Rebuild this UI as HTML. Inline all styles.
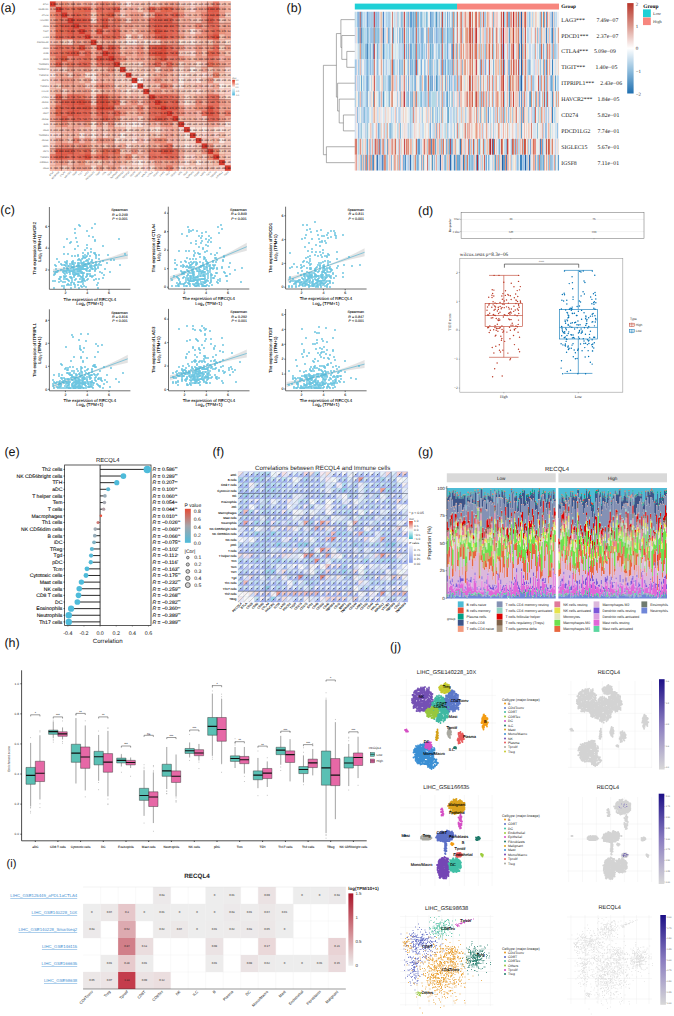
<!DOCTYPE html><html><head><meta charset="utf-8"><style>html,body{margin:0;padding:0;background:#fff;width:674px;height:1016px;overflow:hidden}svg{display:block}</style></head><body><svg width="674" height="1016" viewBox="0 0 674 1016" font-family="Liberation Sans, sans-serif" text-rendering="geometricPrecision"><text x="0.4" y="12.3" font-size="12.5" fill="#111">(a)</text><text x="286.5" y="12.25" font-size="12.5" fill="#111">(b)</text><text x="0.3" y="214.25" font-size="12.5" fill="#111">(c)</text><text x="418" y="215.05" font-size="12.5" fill="#111">(d)</text><text x="4.4" y="456.15" font-size="12.5" fill="#111">(e)</text><text x="212.4" y="456" font-size="12.5" fill="#111">(f)</text><text x="418" y="456.15" font-size="12.5" fill="#111">(g)</text><text x="4.4" y="647" font-size="12.5" fill="#111">(h)</text><text x="6.6" y="867" font-size="11" fill="#111">(i)</text><text x="390" y="651.3" font-size="12.5" fill="#111">(j)</text><rect x="49.9" y="1.4" width="180.79" height="169.26" fill="#ee9a88"/><g transform="translate(49.9,1.4) scale(5.832,5.46)"><path fill="#d83c30" d="M0 0h1v1h-1zM1 1h1v1h-1zM2 2h1v1h-1zM3 3h1v1h-1zM4 4h1v1h-1zM5 5h1v1h-1zM6 6h1v1h-1zM7 7h1v1h-1zM8 8h1v1h-1zM9 9h1v1h-1zM10 10h1v1h-1zM11 11h1v1h-1zM12 12h1v1h-1zM13 13h1v1h-1zM14 14h1v1h-1zM15 15h1v1h-1zM16 16h1v1h-1zM17 17h1v1h-1zM18 18h1v1h-1zM19 19h1v1h-1zM20 20h1v1h-1zM21 21h1v1h-1zM22 22h1v1h-1zM23 23h1v1h-1zM24 24h1v1h-1zM25 25h1v1h-1zM26 26h1v1h-1zM27 27h1v1h-1zM28 28h1v1h-1zM29 29h1v1h-1zM30 30h1v1h-1z"/><path fill="#f0a290" d="M1 0h1v1h-1zM4 0h1v1h-1zM6 0h1v1h-1zM11 0h1v1h-1zM20 0h1v1h-1zM21 0h1v1h-1zM0 1h1v1h-1zM25 1h1v1h-1zM29 1h1v1h-1zM15 2h1v1h-1zM17 2h1v1h-1zM12 3h1v1h-1zM0 4h1v1h-1zM26 4h1v1h-1zM30 4h1v1h-1zM15 5h1v1h-1zM16 5h1v1h-1zM30 5h1v1h-1zM0 6h1v1h-1zM14 6h1v1h-1zM30 6h1v1h-1zM20 7h1v1h-1zM30 8h1v1h-1zM13 9h1v1h-1zM25 10h1v1h-1zM30 10h1v1h-1zM0 11h1v1h-1zM29 11h1v1h-1zM3 12h1v1h-1zM9 13h1v1h-1zM6 14h1v1h-1zM2 15h1v1h-1zM5 15h1v1h-1zM5 16h1v1h-1zM2 17h1v1h-1zM30 19h1v1h-1zM0 20h1v1h-1zM7 20h1v1h-1zM29 20h1v1h-1zM0 21h1v1h-1zM1 25h1v1h-1zM10 25h1v1h-1zM4 26h1v1h-1zM1 29h1v1h-1zM11 29h1v1h-1zM20 29h1v1h-1zM4 30h1v1h-1zM5 30h1v1h-1zM6 30h1v1h-1zM8 30h1v1h-1zM10 30h1v1h-1zM19 30h1v1h-1z"/><path fill="#f0967e" d="M2 0h1v1h-1zM0 2h1v1h-1zM29 5h1v1h-1zM26 6h1v1h-1zM6 26h1v1h-1zM5 29h1v1h-1z"/><path fill="#f0a896" d="M3 0h1v1h-1zM19 0h1v1h-1zM16 1h1v1h-1zM0 3h1v1h-1zM15 3h1v1h-1zM12 4h1v1h-1zM14 4h1v1h-1zM15 4h1v1h-1zM16 4h1v1h-1zM22 4h1v1h-1zM29 4h1v1h-1zM7 5h1v1h-1zM12 5h1v1h-1zM5 7h1v1h-1zM10 7h1v1h-1zM16 9h1v1h-1zM29 9h1v1h-1zM7 10h1v1h-1zM26 10h1v1h-1zM4 12h1v1h-1zM5 12h1v1h-1zM28 12h1v1h-1zM4 14h1v1h-1zM3 15h1v1h-1zM4 15h1v1h-1zM1 16h1v1h-1zM4 16h1v1h-1zM9 16h1v1h-1zM20 16h1v1h-1zM21 16h1v1h-1zM27 16h1v1h-1zM25 17h1v1h-1zM26 17h1v1h-1zM30 18h1v1h-1zM0 19h1v1h-1zM29 19h1v1h-1zM16 20h1v1h-1zM16 21h1v1h-1zM4 22h1v1h-1zM27 22h1v1h-1zM17 25h1v1h-1zM10 26h1v1h-1zM17 26h1v1h-1zM16 27h1v1h-1zM22 27h1v1h-1zM12 28h1v1h-1zM4 29h1v1h-1zM9 29h1v1h-1zM19 29h1v1h-1zM18 30h1v1h-1z"/><path fill="#f6ae9c" d="M5 0h1v1h-1zM7 1h1v1h-1zM13 1h1v1h-1zM13 2h1v1h-1zM25 2h1v1h-1zM16 3h1v1h-1zM23 3h1v1h-1zM0 5h1v1h-1zM13 5h1v1h-1zM1 7h1v1h-1zM9 7h1v1h-1zM13 8h1v1h-1zM26 8h1v1h-1zM7 9h1v1h-1zM14 10h1v1h-1zM16 10h1v1h-1zM23 10h1v1h-1zM30 11h1v1h-1zM26 12h1v1h-1zM1 13h1v1h-1zM2 13h1v1h-1zM5 13h1v1h-1zM8 13h1v1h-1zM18 13h1v1h-1zM10 14h1v1h-1zM28 15h1v1h-1zM3 16h1v1h-1zM10 16h1v1h-1zM13 18h1v1h-1zM26 18h1v1h-1zM24 19h1v1h-1zM30 21h1v1h-1zM3 23h1v1h-1zM10 23h1v1h-1zM19 24h1v1h-1zM2 25h1v1h-1zM8 26h1v1h-1zM12 26h1v1h-1zM18 26h1v1h-1zM15 28h1v1h-1zM11 30h1v1h-1zM21 30h1v1h-1z"/><path fill="#f6c0b4" d="M7 0h1v1h-1zM29 0h1v1h-1zM12 1h1v1h-1zM24 3h1v1h-1zM24 6h1v1h-1zM0 7h1v1h-1zM26 11h1v1h-1zM1 12h1v1h-1zM21 12h1v1h-1zM23 12h1v1h-1zM27 13h1v1h-1zM18 15h1v1h-1zM27 15h1v1h-1zM29 17h1v1h-1zM15 18h1v1h-1zM12 21h1v1h-1zM12 23h1v1h-1zM3 24h1v1h-1zM6 24h1v1h-1zM27 24h1v1h-1zM11 26h1v1h-1zM13 27h1v1h-1zM15 27h1v1h-1zM24 27h1v1h-1zM0 29h1v1h-1zM17 29h1v1h-1z"/><path fill="#f09684" d="M8 0h1v1h-1zM11 2h1v1h-1zM26 3h1v1h-1zM7 4h1v1h-1zM7 6h1v1h-1zM25 6h1v1h-1zM4 7h1v1h-1zM6 7h1v1h-1zM19 7h1v1h-1zM28 7h1v1h-1zM0 8h1v1h-1zM22 8h1v1h-1zM25 8h1v1h-1zM22 10h1v1h-1zM2 11h1v1h-1zM19 11h1v1h-1zM20 12h1v1h-1zM18 14h1v1h-1zM27 14h1v1h-1zM20 15h1v1h-1zM14 18h1v1h-1zM7 19h1v1h-1zM11 19h1v1h-1zM22 19h1v1h-1zM12 20h1v1h-1zM15 20h1v1h-1zM8 22h1v1h-1zM10 22h1v1h-1zM19 22h1v1h-1zM6 25h1v1h-1zM8 25h1v1h-1zM3 26h1v1h-1zM27 26h1v1h-1zM14 27h1v1h-1zM26 27h1v1h-1zM7 28h1v1h-1z"/><path fill="#ea8472" d="M9 0h1v1h-1zM18 1h1v1h-1zM8 6h1v1h-1zM6 8h1v1h-1zM9 8h1v1h-1zM0 9h1v1h-1zM8 9h1v1h-1zM28 10h1v1h-1zM1 18h1v1h-1zM10 28h1v1h-1z"/><path fill="#f09c84" d="M10 0h1v1h-1zM22 6h1v1h-1zM0 10h1v1h-1zM6 22h1v1h-1z"/><path fill="#f6ccc0" d="M12 0h1v1h-1zM22 0h1v1h-1zM23 0h1v1h-1zM25 0h1v1h-1zM12 2h1v1h-1zM16 2h1v1h-1zM30 2h1v1h-1zM13 3h1v1h-1zM15 7h1v1h-1zM17 7h1v1h-1zM18 7h1v1h-1zM25 7h1v1h-1zM23 9h1v1h-1zM14 11h1v1h-1zM0 12h1v1h-1zM2 12h1v1h-1zM16 12h1v1h-1zM3 13h1v1h-1zM15 13h1v1h-1zM11 14h1v1h-1zM16 14h1v1h-1zM7 15h1v1h-1zM13 15h1v1h-1zM21 15h1v1h-1zM24 15h1v1h-1zM2 16h1v1h-1zM12 16h1v1h-1zM14 16h1v1h-1zM22 16h1v1h-1zM7 17h1v1h-1zM7 18h1v1h-1zM24 18h1v1h-1zM15 21h1v1h-1zM0 22h1v1h-1zM16 22h1v1h-1zM24 22h1v1h-1zM25 22h1v1h-1zM26 22h1v1h-1zM0 23h1v1h-1zM9 23h1v1h-1zM15 24h1v1h-1zM18 24h1v1h-1zM22 24h1v1h-1zM0 25h1v1h-1zM7 25h1v1h-1zM22 25h1v1h-1zM30 25h1v1h-1zM22 26h1v1h-1zM28 26h1v1h-1zM30 26h1v1h-1zM26 28h1v1h-1zM30 28h1v1h-1zM2 30h1v1h-1zM25 30h1v1h-1zM26 30h1v1h-1zM28 30h1v1h-1z"/><path fill="#fce4de" d="M13 0h1v1h-1zM24 5h1v1h-1zM0 13h1v1h-1zM22 13h1v1h-1zM25 14h1v1h-1zM22 15h1v1h-1zM13 22h1v1h-1zM15 22h1v1h-1zM30 22h1v1h-1zM29 23h1v1h-1zM5 24h1v1h-1zM14 25h1v1h-1zM23 29h1v1h-1zM22 30h1v1h-1z"/><path fill="#f6c6ba" d="M14 0h1v1h-1zM15 0h1v1h-1zM17 0h1v1h-1zM26 0h1v1h-1zM25 3h1v1h-1zM29 3h1v1h-1zM15 6h1v1h-1zM29 7h1v1h-1zM22 9h1v1h-1zM24 11h1v1h-1zM0 14h1v1h-1zM0 15h1v1h-1zM6 15h1v1h-1zM26 15h1v1h-1zM0 17h1v1h-1zM26 21h1v1h-1zM9 22h1v1h-1zM29 22h1v1h-1zM27 23h1v1h-1zM11 24h1v1h-1zM3 25h1v1h-1zM26 25h1v1h-1zM0 26h1v1h-1zM15 26h1v1h-1zM21 26h1v1h-1zM25 26h1v1h-1zM23 27h1v1h-1zM30 27h1v1h-1zM3 29h1v1h-1zM7 29h1v1h-1zM22 29h1v1h-1zM27 30h1v1h-1z"/><path fill="#f6c6b4" d="M16 0h1v1h-1zM27 7h1v1h-1zM12 11h1v1h-1zM11 12h1v1h-1zM15 12h1v1h-1zM27 12h1v1h-1zM29 13h1v1h-1zM26 14h1v1h-1zM12 15h1v1h-1zM23 15h1v1h-1zM0 16h1v1h-1zM26 16h1v1h-1zM15 23h1v1h-1zM27 25h1v1h-1zM14 26h1v1h-1zM16 26h1v1h-1zM7 27h1v1h-1zM12 27h1v1h-1zM25 27h1v1h-1zM13 29h1v1h-1z"/><path fill="#f6c0ae" d="M18 0h1v1h-1zM30 0h1v1h-1zM23 1h1v1h-1zM14 5h1v1h-1zM23 5h1v1h-1zM29 6h1v1h-1zM26 7h1v1h-1zM12 8h1v1h-1zM16 8h1v1h-1zM26 9h1v1h-1zM30 9h1v1h-1zM24 10h1v1h-1zM8 12h1v1h-1zM17 13h1v1h-1zM21 13h1v1h-1zM5 14h1v1h-1zM17 15h1v1h-1zM8 16h1v1h-1zM13 17h1v1h-1zM15 17h1v1h-1zM24 17h1v1h-1zM0 18h1v1h-1zM13 21h1v1h-1zM1 23h1v1h-1zM5 23h1v1h-1zM10 24h1v1h-1zM17 24h1v1h-1zM29 24h1v1h-1zM7 26h1v1h-1zM9 26h1v1h-1zM6 29h1v1h-1zM24 29h1v1h-1zM0 30h1v1h-1zM9 30h1v1h-1z"/><path fill="#fcded8" d="M24 0h1v1h-1zM26 13h1v1h-1zM29 14h1v1h-1zM0 24h1v1h-1zM13 26h1v1h-1zM14 29h1v1h-1z"/><path fill="#f0ae9c" d="M27 0h1v1h-1zM19 14h1v1h-1zM14 19h1v1h-1zM0 27h1v1h-1z"/><path fill="#ea7e6c" d="M28 0h1v1h-1zM21 1h1v1h-1zM3 2h1v1h-1zM2 3h1v1h-1zM21 3h1v1h-1zM11 4h1v1h-1zM21 8h1v1h-1zM20 10h1v1h-1zM4 11h1v1h-1zM19 15h1v1h-1zM15 19h1v1h-1zM10 20h1v1h-1zM30 20h1v1h-1zM1 21h1v1h-1zM3 21h1v1h-1zM8 21h1v1h-1zM0 28h1v1h-1zM20 30h1v1h-1z"/><path fill="#ea6c5a" d="M2 1h1v1h-1zM1 2h1v1h-1zM17 3h1v1h-1zM28 4h1v1h-1zM21 5h1v1h-1zM28 8h1v1h-1zM3 17h1v1h-1zM18 17h1v1h-1zM17 18h1v1h-1zM5 21h1v1h-1zM4 28h1v1h-1zM8 28h1v1h-1z"/><path fill="#ea7860" d="M3 1h1v1h-1zM8 2h1v1h-1zM1 3h1v1h-1zM11 3h1v1h-1zM8 4h1v1h-1zM17 5h1v1h-1zM27 5h1v1h-1zM2 8h1v1h-1zM4 8h1v1h-1zM3 11h1v1h-1zM5 17h1v1h-1zM5 27h1v1h-1z"/><path fill="#e46c54" d="M4 1h1v1h-1zM5 2h1v1h-1zM9 2h1v1h-1zM1 4h1v1h-1zM2 5h1v1h-1zM10 6h1v1h-1zM2 9h1v1h-1zM6 10h1v1h-1zM18 10h1v1h-1zM27 11h1v1h-1zM10 18h1v1h-1zM11 27h1v1h-1z"/><path fill="#e4664e" d="M5 1h1v1h-1zM19 1h1v1h-1zM20 1h1v1h-1zM1 5h1v1h-1zM27 9h1v1h-1zM1 19h1v1h-1zM1 20h1v1h-1zM9 27h1v1h-1z"/><path fill="#e4604e" d="M6 1h1v1h-1zM11 1h1v1h-1zM17 1h1v1h-1zM4 2h1v1h-1zM18 2h1v1h-1zM21 2h1v1h-1zM27 2h1v1h-1zM28 2h1v1h-1zM6 3h1v1h-1zM18 3h1v1h-1zM19 3h1v1h-1zM2 4h1v1h-1zM19 4h1v1h-1zM20 4h1v1h-1zM1 6h1v1h-1zM3 6h1v1h-1zM18 6h1v1h-1zM17 8h1v1h-1zM10 9h1v1h-1zM17 9h1v1h-1zM21 9h1v1h-1zM9 10h1v1h-1zM1 11h1v1h-1zM1 17h1v1h-1zM8 17h1v1h-1zM9 17h1v1h-1zM2 18h1v1h-1zM3 18h1v1h-1zM6 18h1v1h-1zM21 18h1v1h-1zM3 19h1v1h-1zM4 19h1v1h-1zM4 20h1v1h-1zM2 21h1v1h-1zM9 21h1v1h-1zM18 21h1v1h-1zM2 27h1v1h-1zM2 28h1v1h-1z"/><path fill="#e46c5a" d="M8 1h1v1h-1zM10 1h1v1h-1zM6 2h1v1h-1zM17 4h1v1h-1zM27 4h1v1h-1zM2 6h1v1h-1zM21 6h1v1h-1zM1 8h1v1h-1zM1 10h1v1h-1zM11 10h1v1h-1zM10 11h1v1h-1zM4 17h1v1h-1zM20 17h1v1h-1zM28 17h1v1h-1zM20 18h1v1h-1zM17 20h1v1h-1zM18 20h1v1h-1zM6 21h1v1h-1zM27 21h1v1h-1zM28 21h1v1h-1zM4 27h1v1h-1zM21 27h1v1h-1zM17 28h1v1h-1zM21 28h1v1h-1z"/><path fill="#ea7260" d="M9 1h1v1h-1zM20 2h1v1h-1zM8 3h1v1h-1zM28 3h1v1h-1zM10 5h1v1h-1zM3 8h1v1h-1zM11 8h1v1h-1zM1 9h1v1h-1zM5 10h1v1h-1zM8 11h1v1h-1zM27 17h1v1h-1zM28 18h1v1h-1zM28 19h1v1h-1zM2 20h1v1h-1zM21 20h1v1h-1zM26 20h1v1h-1zM20 21h1v1h-1zM20 26h1v1h-1zM17 27h1v1h-1zM3 28h1v1h-1zM18 28h1v1h-1zM19 28h1v1h-1z"/><path fill="#f6aea2" d="M14 1h1v1h-1zM23 4h1v1h-1zM14 8h1v1h-1zM1 14h1v1h-1zM8 14h1v1h-1zM23 20h1v1h-1zM28 22h1v1h-1zM4 23h1v1h-1zM20 23h1v1h-1zM22 28h1v1h-1z"/><path fill="#f6ccba" d="M15 1h1v1h-1zM7 2h1v1h-1zM2 7h1v1h-1zM29 8h1v1h-1zM13 11h1v1h-1zM11 13h1v1h-1zM1 15h1v1h-1zM29 27h1v1h-1zM8 29h1v1h-1zM27 29h1v1h-1z"/><path fill="#f0a28a" d="M22 1h1v1h-1zM1 22h1v1h-1z"/><path fill="#fcd2cc" d="M24 1h1v1h-1zM30 16h1v1h-1zM1 24h1v1h-1zM28 24h1v1h-1zM24 28h1v1h-1zM30 29h1v1h-1zM16 30h1v1h-1zM29 30h1v1h-1z"/><path fill="#f09c8a" d="M26 1h1v1h-1zM14 2h1v1h-1zM29 2h1v1h-1zM14 3h1v1h-1zM13 4h1v1h-1zM12 6h1v1h-1zM16 6h1v1h-1zM21 7h1v1h-1zM25 9h1v1h-1zM15 10h1v1h-1zM6 12h1v1h-1zM19 12h1v1h-1zM4 13h1v1h-1zM19 13h1v1h-1zM2 14h1v1h-1zM3 14h1v1h-1zM10 15h1v1h-1zM6 16h1v1h-1zM18 16h1v1h-1zM16 18h1v1h-1zM29 18h1v1h-1zM12 19h1v1h-1zM13 19h1v1h-1zM7 21h1v1h-1zM29 21h1v1h-1zM9 25h1v1h-1zM1 26h1v1h-1zM2 29h1v1h-1zM18 29h1v1h-1zM21 29h1v1h-1z"/><path fill="#e45a48" d="M27 1h1v1h-1zM4 3h1v1h-1zM5 3h1v1h-1zM9 3h1v1h-1zM3 4h1v1h-1zM18 4h1v1h-1zM3 5h1v1h-1zM19 5h1v1h-1zM3 9h1v1h-1zM4 18h1v1h-1zM5 19h1v1h-1zM20 19h1v1h-1zM19 20h1v1h-1zM1 27h1v1h-1z"/><path fill="#de5a48" d="M28 1h1v1h-1zM20 3h1v1h-1zM27 3h1v1h-1zM21 19h1v1h-1zM3 20h1v1h-1zM19 21h1v1h-1zM3 27h1v1h-1zM1 28h1v1h-1z"/><path fill="#f6b4a2" d="M30 1h1v1h-1zM22 3h1v1h-1zM24 4h1v1h-1zM12 9h1v1h-1zM14 9h1v1h-1zM13 10h1v1h-1zM16 11h1v1h-1zM9 12h1v1h-1zM17 12h1v1h-1zM10 13h1v1h-1zM20 13h1v1h-1zM9 14h1v1h-1zM11 16h1v1h-1zM17 16h1v1h-1zM19 16h1v1h-1zM12 17h1v1h-1zM16 17h1v1h-1zM22 17h1v1h-1zM16 19h1v1h-1zM13 20h1v1h-1zM23 21h1v1h-1zM24 21h1v1h-1zM3 22h1v1h-1zM17 22h1v1h-1zM21 23h1v1h-1zM4 24h1v1h-1zM21 24h1v1h-1zM1 30h1v1h-1z"/><path fill="#de5a42" d="M10 2h1v1h-1zM2 10h1v1h-1z"/><path fill="#e46654" d="M19 2h1v1h-1zM5 4h1v1h-1zM6 4h1v1h-1zM21 4h1v1h-1zM4 5h1v1h-1zM6 5h1v1h-1zM11 5h1v1h-1zM20 5h1v1h-1zM28 5h1v1h-1zM4 6h1v1h-1zM5 6h1v1h-1zM9 6h1v1h-1zM11 6h1v1h-1zM20 6h1v1h-1zM27 6h1v1h-1zM20 8h1v1h-1zM6 9h1v1h-1zM20 9h1v1h-1zM28 9h1v1h-1zM5 11h1v1h-1zM6 11h1v1h-1zM18 11h1v1h-1zM20 11h1v1h-1zM19 17h1v1h-1zM11 18h1v1h-1zM2 19h1v1h-1zM17 19h1v1h-1zM5 20h1v1h-1zM6 20h1v1h-1zM8 20h1v1h-1zM9 20h1v1h-1zM11 20h1v1h-1zM28 20h1v1h-1zM4 21h1v1h-1zM6 27h1v1h-1zM5 28h1v1h-1zM9 28h1v1h-1zM20 28h1v1h-1z"/><path fill="#f0907e" d="M22 2h1v1h-1zM26 5h1v1h-1zM15 8h1v1h-1zM15 9h1v1h-1zM12 10h1v1h-1zM17 11h1v1h-1zM10 12h1v1h-1zM8 15h1v1h-1zM9 15h1v1h-1zM11 17h1v1h-1zM25 18h1v1h-1zM26 19h1v1h-1zM22 20h1v1h-1zM2 22h1v1h-1zM20 22h1v1h-1zM18 25h1v1h-1zM5 26h1v1h-1zM19 26h1v1h-1z"/><path fill="#f6baae" d="M23 2h1v1h-1zM25 5h1v1h-1zM23 6h1v1h-1zM23 8h1v1h-1zM24 8h1v1h-1zM25 15h1v1h-1zM28 16h1v1h-1zM22 18h1v1h-1zM23 19h1v1h-1zM25 21h1v1h-1zM18 22h1v1h-1zM2 23h1v1h-1zM6 23h1v1h-1zM8 23h1v1h-1zM19 23h1v1h-1zM8 24h1v1h-1zM5 25h1v1h-1zM15 25h1v1h-1zM21 25h1v1h-1zM16 28h1v1h-1z"/><path fill="#f6baa8" d="M24 2h1v1h-1zM30 3h1v1h-1zM8 7h1v1h-1zM11 7h1v1h-1zM7 8h1v1h-1zM7 11h1v1h-1zM23 11h1v1h-1zM29 12h1v1h-1zM20 14h1v1h-1zM14 20h1v1h-1zM22 21h1v1h-1zM21 22h1v1h-1zM11 23h1v1h-1zM2 24h1v1h-1zM28 25h1v1h-1zM25 28h1v1h-1zM29 28h1v1h-1zM12 29h1v1h-1zM28 29h1v1h-1zM3 30h1v1h-1z"/><path fill="#f08a78" d="M26 2h1v1h-1zM10 3h1v1h-1zM25 4h1v1h-1zM9 5h1v1h-1zM17 6h1v1h-1zM5 9h1v1h-1zM3 10h1v1h-1zM6 17h1v1h-1zM4 25h1v1h-1zM2 26h1v1h-1z"/><path fill="#fcd8cc" d="M7 3h1v1h-1zM3 7h1v1h-1zM14 12h1v1h-1zM25 13h1v1h-1zM12 14h1v1h-1zM30 14h1v1h-1zM24 16h1v1h-1zM29 16h1v1h-1zM23 17h1v1h-1zM30 17h1v1h-1zM17 23h1v1h-1zM30 23h1v1h-1zM16 24h1v1h-1zM25 24h1v1h-1zM30 24h1v1h-1zM13 25h1v1h-1zM24 25h1v1h-1zM16 29h1v1h-1zM14 30h1v1h-1zM17 30h1v1h-1zM23 30h1v1h-1zM24 30h1v1h-1z"/><path fill="#de5442" d="M9 4h1v1h-1zM19 6h1v1h-1zM10 8h1v1h-1zM18 8h1v1h-1zM4 9h1v1h-1zM8 10h1v1h-1zM19 10h1v1h-1zM8 18h1v1h-1zM6 19h1v1h-1zM10 19h1v1h-1zM27 19h1v1h-1zM27 20h1v1h-1zM19 27h1v1h-1zM20 27h1v1h-1z"/><path fill="#ea7866" d="M10 4h1v1h-1zM11 9h1v1h-1zM4 10h1v1h-1zM21 10h1v1h-1zM27 10h1v1h-1zM9 11h1v1h-1zM21 17h1v1h-1zM27 18h1v1h-1zM10 21h1v1h-1zM17 21h1v1h-1zM10 27h1v1h-1zM18 27h1v1h-1z"/><path fill="#de4e3c" d="M8 5h1v1h-1zM18 5h1v1h-1zM28 6h1v1h-1zM5 8h1v1h-1zM19 8h1v1h-1zM18 9h1v1h-1zM19 9h1v1h-1zM5 18h1v1h-1zM9 18h1v1h-1zM8 19h1v1h-1zM9 19h1v1h-1zM6 28h1v1h-1z"/><path fill="#f0a89c" d="M22 5h1v1h-1zM24 20h1v1h-1zM5 22h1v1h-1zM20 24h1v1h-1z"/><path fill="#fcded2" d="M13 6h1v1h-1zM23 7h1v1h-1zM30 7h1v1h-1zM25 11h1v1h-1zM22 12h1v1h-1zM6 13h1v1h-1zM12 22h1v1h-1zM7 23h1v1h-1zM25 23h1v1h-1zM28 23h1v1h-1zM11 25h1v1h-1zM23 25h1v1h-1zM23 28h1v1h-1zM7 30h1v1h-1z"/><path fill="#f6d2c6" d="M12 7h1v1h-1zM15 11h1v1h-1zM22 11h1v1h-1zM7 12h1v1h-1zM13 12h1v1h-1zM18 12h1v1h-1zM25 12h1v1h-1zM12 13h1v1h-1zM14 13h1v1h-1zM24 13h1v1h-1zM30 13h1v1h-1zM13 14h1v1h-1zM23 14h1v1h-1zM28 14h1v1h-1zM11 15h1v1h-1zM16 15h1v1h-1zM15 16h1v1h-1zM23 16h1v1h-1zM12 18h1v1h-1zM11 22h1v1h-1zM14 23h1v1h-1zM16 23h1v1h-1zM13 24h1v1h-1zM12 25h1v1h-1zM29 26h1v1h-1zM14 28h1v1h-1zM26 29h1v1h-1zM13 30h1v1h-1z"/><path fill="#fceae4" d="M13 7h1v1h-1zM14 7h1v1h-1zM24 7h1v1h-1zM7 13h1v1h-1zM7 14h1v1h-1zM24 23h1v1h-1zM26 23h1v1h-1zM7 24h1v1h-1zM23 24h1v1h-1zM29 25h1v1h-1zM23 26h1v1h-1zM25 29h1v1h-1z"/><path fill="#fce4d8" d="M16 7h1v1h-1zM22 7h1v1h-1zM16 13h1v1h-1zM23 13h1v1h-1zM30 15h1v1h-1zM7 16h1v1h-1zM13 16h1v1h-1zM23 18h1v1h-1zM7 22h1v1h-1zM13 23h1v1h-1zM18 23h1v1h-1zM15 30h1v1h-1z"/><path fill="#f09078" d="M27 8h1v1h-1zM25 19h1v1h-1zM19 25h1v1h-1zM8 27h1v1h-1z"/><path fill="#fcd8d2" d="M24 9h1v1h-1zM30 12h1v1h-1zM24 14h1v1h-1zM25 16h1v1h-1zM23 22h1v1h-1zM22 23h1v1h-1zM9 24h1v1h-1zM14 24h1v1h-1zM26 24h1v1h-1zM16 25h1v1h-1zM24 26h1v1h-1zM12 30h1v1h-1z"/><path fill="#ea8a72" d="M17 10h1v1h-1zM21 11h1v1h-1zM10 17h1v1h-1zM11 21h1v1h-1z"/><path fill="#f6b4a8" d="M29 10h1v1h-1zM17 14h1v1h-1zM21 14h1v1h-1zM14 17h1v1h-1zM25 20h1v1h-1zM14 21h1v1h-1zM20 25h1v1h-1zM10 29h1v1h-1z"/><path fill="#ea7e66" d="M28 11h1v1h-1zM11 28h1v1h-1z"/><path fill="#fcf0ea" d="M24 12h1v1h-1zM22 14h1v1h-1zM29 15h1v1h-1zM14 22h1v1h-1zM12 24h1v1h-1zM15 29h1v1h-1z"/><path fill="#ea846c" d="M28 13h1v1h-1zM13 28h1v1h-1z"/><path fill="#fcf6f6" d="M15 14h1v1h-1zM14 15h1v1h-1z"/><path fill="#e46048" d="M19 18h1v1h-1zM18 19h1v1h-1z"/><path fill="#f08a72" d="M28 27h1v1h-1zM27 28h1v1h-1z"/></g><path d="M55.73 1.4v169.26M61.56 1.4v169.26M67.4 1.4v169.26M73.23 1.4v169.26M79.06 1.4v169.26M84.89 1.4v169.26M90.72 1.4v169.26M96.56 1.4v169.26M102.39 1.4v169.26M108.22 1.4v169.26M114.05 1.4v169.26M119.88 1.4v169.26M125.72 1.4v169.26M131.55 1.4v169.26M137.38 1.4v169.26M143.21 1.4v169.26M149.04 1.4v169.26M154.88 1.4v169.26M160.71 1.4v169.26M166.54 1.4v169.26M172.37 1.4v169.26M178.2 1.4v169.26M184.04 1.4v169.26M189.87 1.4v169.26M195.7 1.4v169.26M201.53 1.4v169.26M207.36 1.4v169.26M213.2 1.4v169.26M219.03 1.4v169.26M224.86 1.4v169.26M49.9 6.86h180.79M49.9 12.32h180.79M49.9 17.78h180.79M49.9 23.24h180.79M49.9 28.7h180.79M49.9 34.16h180.79M49.9 39.62h180.79M49.9 45.08h180.79M49.9 50.54h180.79M49.9 56h180.79M49.9 61.46h180.79M49.9 66.92h180.79M49.9 72.38h180.79M49.9 77.84h180.79M49.9 83.3h180.79M49.9 88.76h180.79M49.9 94.22h180.79M49.9 99.68h180.79M49.9 105.14h180.79M49.9 110.6h180.79M49.9 116.06h180.79M49.9 121.52h180.79M49.9 126.98h180.79M49.9 132.44h180.79M49.9 137.9h180.79M49.9 143.36h180.79M49.9 148.82h180.79M49.9 154.28h180.79M49.9 159.74h180.79M49.9 165.2h180.79" stroke="#6a3028" stroke-width="0.3" stroke-opacity="0.35" fill="none"/><path d="M61.56 1.4v169.26M73.23 1.4v169.26M102.39 1.4v169.26M114.05 1.4v169.26M149.04 1.4v169.26M178.2 1.4v169.26M207.36 1.4v169.26M49.9 23.24h180.79M49.9 45.08h180.79M49.9 66.92h180.79M49.9 99.68h180.79M49.9 121.52h180.79M49.9 148.82h180.79" stroke="#4a2420" stroke-width="0.45" stroke-opacity="0.75" fill="none"/><g font-size="2.6" font-family="Liberation Mono" fill="#1a0a0a"><text x="50.35" y="4.98" textLength="180.19" lengthAdjust="spacing">1.000.510.570.500.500.470.510.390.560.620.550.520.310.170.360.350.370.360.400.480.500.520.330.310.220.320.360.480.650.370.40</text><text x="50.35" y="10.44" textLength="180.19" lengthAdjust="spacing">0.511.000.720.700.750.780.820.460.740.720.730.820.380.460.460.340.490.830.630.780.780.660.520.390.280.510.540.850.870.510.45</text><text x="50.35" y="15.9" textLength="180.19" lengthAdjust="spacing">0.570.721.000.650.820.740.740.340.700.750.880.560.320.460.540.500.330.520.820.750.700.800.570.410.420.470.610.820.800.530.31</text><text x="50.35" y="21.36" textLength="180.19" lengthAdjust="spacing">0.500.700.651.000.860.850.800.270.710.840.610.690.510.330.540.490.460.730.830.800.870.650.440.470.390.360.550.870.700.360.42</text><text x="50.35" y="26.82" textLength="180.19" lengthAdjust="spacing">0.500.750.820.861.000.780.750.550.690.890.670.660.490.530.490.490.500.730.840.800.810.770.480.460.440.600.510.740.730.480.51</text><text x="50.35" y="32.28" textLength="180.19" lengthAdjust="spacing">0.470.780.740.850.781.000.770.480.930.600.700.760.480.470.400.520.520.700.930.860.770.730.480.400.190.410.580.700.770.570.52</text><text x="50.35" y="37.74" textLength="180.19" lengthAdjust="spacing">0.510.820.740.800.750.771.000.560.640.760.750.770.530.230.510.340.540.600.810.910.780.740.550.410.390.560.570.750.930.390.51</text><text x="50.35" y="43.2" textLength="180.19" lengthAdjust="spacing">0.390.460.340.270.550.480.561.000.420.460.500.430.300.130.120.310.200.330.330.560.510.530.200.230.130.310.400.370.550.350.24</text><text x="50.35" y="48.66" textLength="180.19" lengthAdjust="spacing">0.560.740.700.710.690.930.640.421.000.630.890.710.390.470.460.580.400.810.910.930.780.660.570.410.410.550.460.590.730.340.51</text><text x="50.35" y="54.12" textLength="180.19" lengthAdjust="spacing">0.620.720.750.840.890.600.760.460.631.000.820.690.450.520.440.570.490.820.930.930.760.810.340.320.250.540.400.790.760.490.40</text><text x="50.35" y="59.58" textLength="180.19" lengthAdjust="spacing">0.550.730.880.610.670.700.750.500.890.821.000.740.580.440.460.540.470.620.750.900.660.670.560.460.400.500.500.680.630.430.51</text><text x="50.35" y="65.04" textLength="180.19" lengthAdjust="spacing">0.520.820.560.690.660.760.770.430.710.690.741.000.360.340.330.300.440.580.770.570.760.620.300.430.350.230.380.740.670.510.47</text><text x="50.35" y="70.5" textLength="180.19" lengthAdjust="spacing">0.310.380.320.510.490.480.530.300.390.450.580.361.000.300.270.370.330.450.280.530.550.390.240.380.080.290.470.370.490.430.24</text><text x="50.35" y="75.96" textLength="180.19" lengthAdjust="spacing">0.170.460.460.330.530.470.230.130.470.520.440.340.301.000.280.330.200.400.470.530.450.390.190.200.300.260.210.370.640.370.30</text><text x="50.35" y="81.42" textLength="180.19" lengthAdjust="spacing">0.360.460.540.540.490.400.510.120.460.440.460.330.270.281.000.040.310.430.570.480.430.440.110.300.240.180.370.570.300.210.26</text><text x="50.35" y="86.88" textLength="180.19" lengthAdjust="spacing">0.350.340.500.490.490.520.340.310.580.570.540.300.370.330.041.000.300.390.390.650.550.330.180.370.310.410.350.390.470.110.20</text><text x="50.35" y="92.34" textLength="180.19" lengthAdjust="spacing">0.370.490.330.460.500.520.540.200.400.490.470.440.330.200.310.301.000.450.540.450.490.490.330.300.260.250.370.490.410.250.27</text><text x="50.35" y="97.8" textLength="180.19" lengthAdjust="spacing">0.360.830.520.730.730.700.600.330.810.820.620.580.450.400.430.390.451.000.730.770.740.690.440.270.400.490.490.710.740.370.26</text><text x="50.35" y="103.26" textLength="180.19" lengthAdjust="spacing">0.400.630.820.830.840.930.810.330.910.930.750.770.280.470.570.390.540.731.000.830.740.800.410.190.320.580.460.680.710.540.49</text><text x="50.35" y="108.72" textLength="180.19" lengthAdjust="spacing">0.480.780.750.800.800.860.910.560.930.930.900.570.530.530.480.650.450.770.831.000.840.870.560.410.460.590.580.890.700.490.52</text><text x="50.35" y="114.18" textLength="180.19" lengthAdjust="spacing">0.500.780.700.870.810.770.780.510.780.760.660.760.550.450.430.550.490.740.740.841.000.710.580.450.480.430.700.890.760.500.66</text><text x="50.35" y="119.64" textLength="180.19" lengthAdjust="spacing">0.520.660.800.650.770.730.740.530.660.810.670.620.390.390.440.330.490.690.800.870.711.000.420.440.450.410.360.740.730.540.47</text><text x="50.35" y="125.1" textLength="180.19" lengthAdjust="spacing">0.330.520.570.440.480.480.550.200.570.340.560.300.240.190.110.180.330.440.410.560.580.421.000.250.320.320.320.490.450.360.19</text><text x="50.35" y="130.56" textLength="180.19" lengthAdjust="spacing">0.310.390.410.470.460.400.410.230.410.320.460.430.380.200.300.370.300.270.190.410.450.440.251.000.150.230.130.360.230.190.27</text><text x="50.35" y="136.02" textLength="180.19" lengthAdjust="spacing">0.220.280.420.390.440.190.390.130.410.250.400.350.080.300.240.310.260.400.320.460.480.450.320.151.000.270.240.380.270.390.27</text><text x="50.35" y="141.48" textLength="180.19" lengthAdjust="spacing">0.320.510.470.360.600.410.560.310.550.540.500.230.290.260.180.410.250.490.580.590.430.410.320.230.271.000.360.370.420.130.31</text><text x="50.35" y="146.94" textLength="180.19" lengthAdjust="spacing">0.360.540.610.550.510.580.570.400.460.400.500.380.470.210.370.350.370.490.460.580.700.360.320.130.240.361.000.560.320.300.33</text><text x="50.35" y="152.4" textLength="180.19" lengthAdjust="spacing">0.480.850.820.870.740.700.750.370.590.790.680.740.370.370.570.390.490.710.680.890.890.740.490.360.380.370.561.000.620.340.35</text><text x="50.35" y="157.86" textLength="180.19" lengthAdjust="spacing">0.650.870.800.700.730.770.930.550.730.760.630.670.490.640.300.470.410.740.710.700.760.730.450.230.270.420.320.621.000.420.32</text><text x="50.35" y="163.32" textLength="180.19" lengthAdjust="spacing">0.370.510.530.360.480.570.390.350.340.490.430.510.430.370.210.110.250.370.540.490.500.540.360.190.390.130.300.340.421.000.28</text><text x="50.35" y="168.78" textLength="180.19" lengthAdjust="spacing">0.400.450.310.420.510.520.510.240.510.400.510.470.240.300.260.200.270.260.490.520.660.470.190.270.270.310.330.350.320.281.00</text></g><g font-size="2.2" text-anchor="end" fill="#555"><text x="48.6" y="4.93">BTLA</text><text x="48.6" y="10.39">ADORA2A</text><text x="48.6" y="15.85">CTLA4</text><text x="48.6" y="21.31">HAVCR2</text><text x="48.6" y="26.77">CD86</text><text x="48.6" y="32.23">TIGIT</text><text x="48.6" y="37.69">LAG3</text><text x="48.6" y="43.15">PDCD1LG2</text><text x="48.6" y="48.61">CD80</text><text x="48.6" y="54.07">ICOS</text><text x="48.6" y="59.53">CD28</text><text x="48.6" y="64.99">TNFRSF9</text><text x="48.6" y="70.45">TNFRSF18</text><text x="48.6" y="75.91">TNFSF18</text><text x="48.6" y="81.37">CD276</text><text x="48.6" y="86.83">TNFSF4</text><text x="48.6" y="92.29">HHLA2</text><text x="48.6" y="97.75">VTCN1</text><text x="48.6" y="103.21">CD200</text><text x="48.6" y="108.67">LAIR1</text><text x="48.6" y="114.13">CD27</text><text x="48.6" y="119.59">CD244</text><text x="48.6" y="125.05">IDO1</text><text x="48.6" y="130.51">CD48</text><text x="48.6" y="135.97">TNFRSF4</text><text x="48.6" y="141.43">CD160</text><text x="48.6" y="146.89">NRP1</text><text x="48.6" y="152.35">CD70</text><text x="48.6" y="157.81">TNFSF9</text><text x="48.6" y="163.27">KIR3DL1</text><text x="48.6" y="168.73">CD44</text></g><g font-size="2.2" text-anchor="end" fill="#555"><text transform="translate(53.82,172.16) rotate(-45)">BTLA</text><text transform="translate(59.65,172.16) rotate(-45)">ADORA2A</text><text transform="translate(65.48,172.16) rotate(-45)">CTLA4</text><text transform="translate(71.31,172.16) rotate(-45)">HAVCR2</text><text transform="translate(77.14,172.16) rotate(-45)">CD86</text><text transform="translate(82.98,172.16) rotate(-45)">TIGIT</text><text transform="translate(88.81,172.16) rotate(-45)">LAG3</text><text transform="translate(94.64,172.16) rotate(-45)">PDCD1LG2</text><text transform="translate(100.47,172.16) rotate(-45)">CD80</text><text transform="translate(106.3,172.16) rotate(-45)">ICOS</text><text transform="translate(112.14,172.16) rotate(-45)">CD28</text><text transform="translate(117.97,172.16) rotate(-45)">TNFRSF9</text><text transform="translate(123.8,172.16) rotate(-45)">TNFRSF18</text><text transform="translate(129.63,172.16) rotate(-45)">TNFSF18</text><text transform="translate(135.46,172.16) rotate(-45)">CD276</text><text transform="translate(141.3,172.16) rotate(-45)">TNFSF4</text><text transform="translate(147.13,172.16) rotate(-45)">HHLA2</text><text transform="translate(152.96,172.16) rotate(-45)">VTCN1</text><text transform="translate(158.79,172.16) rotate(-45)">CD200</text><text transform="translate(164.62,172.16) rotate(-45)">LAIR1</text><text transform="translate(170.46,172.16) rotate(-45)">CD27</text><text transform="translate(176.29,172.16) rotate(-45)">CD244</text><text transform="translate(182.12,172.16) rotate(-45)">IDO1</text><text transform="translate(187.95,172.16) rotate(-45)">CD48</text><text transform="translate(193.78,172.16) rotate(-45)">TNFRSF4</text><text transform="translate(199.62,172.16) rotate(-45)">CD160</text><text transform="translate(205.45,172.16) rotate(-45)">NRP1</text><text transform="translate(211.28,172.16) rotate(-45)">CD70</text><text transform="translate(217.11,172.16) rotate(-45)">TNFSF9</text><text transform="translate(222.94,172.16) rotate(-45)">KIR3DL1</text><text transform="translate(228.78,172.16) rotate(-45)">CD44</text></g><defs><linearGradient id="ga" x1="0" y1="0" x2="0" y2="1"><stop offset="0" stop-color="#d2321f"/><stop offset="0.25" stop-color="#ee8c7a"/><stop offset="0.5" stop-color="#ffffff"/><stop offset="0.75" stop-color="#a6dcec"/><stop offset="1" stop-color="#46b4dc"/></linearGradient></defs><rect x="232.2" y="79.8" width="2.7" height="15.6" fill="url(#ga)"/><text x="232.2" y="78.6" font-size="2.2" fill="#444">Corr</text><text x="235.6" y="80.6" font-size="2.1" fill="#444">1.0</text><text x="235.6" y="84.5" font-size="2.1" fill="#444">0.5</text><text x="235.6" y="88.4" font-size="2.1" fill="#444">0.0</text><text x="235.6" y="92.3" font-size="2.1" fill="#444">-0.5</text><text x="235.6" y="96.2" font-size="2.1" fill="#444">-1.0</text><rect x="354.8" y="3.6" width="102.2" height="5.9" fill="#1fd0d6"/><rect x="457" y="3.6" width="102" height="5.9" fill="#f7867e"/><g transform="translate(355.3,11.7) scale(1.0010,15.890)" stroke-width="1.08"><path stroke="#a8cce4" d="M0 0v1M15 0v1M17 0v1M18 0v1M31 0v1M33 0v1M52 0v1M57 0v1M129 0v1M24 1v1M56 1v1M83 1v1M84 1v1M89 1v1M90 1v1M99 1v1M200 1v1M7 2v1M23 2v1M44 2v1M76 2v1M81 2v1M125 2v1M168 2v1M200 2v1M23 3v1M42 3v1M46 3v1M70 3v1M81 3v1M94 3v1M175 3v1M8 4v1M16 4v1M22 4v1M30 4v1M84 4v1M86 4v1M164 4v1M177 4v1M4 5v1M11 5v1M51 5v1M52 5v1M56 5v1M71 5v1M83 5v1M84 5v1M86 5v1M127 5v1M133 5v1M6 6v1M44 6v1M80 6v1M84 6v1M101 6v1M122 6v1M129 6v1M138 6v1M157 6v1M173 6v1M34 7v1M36 7v1M37 7v1M53 7v1M138 7v1M62 8v1M66 8v1M72 8v1M84 8v1M85 8v1M92 8v1M123 8v1M156 8v1M159 8v1M168 8v1M173 8v1M21 9v1M24 9v1M25 9v1M31 9v1M43 9v1M49 9v1M58 9v1M105 9v1M115 9v1M118 9v1M127 9v1M142 9v1M156 9v1M163 9v1M171 9v1M175 9v1M182 9v1M187 9v1M197 9v1"/><path stroke="#e4f0f0" d="M1 0v1M27 0v1M44 0v1M70 0v1M95 0v1M100 0v1M104 0v1M116 0v1M179 0v1M31 1v1M69 1v1M91 1v1M104 1v1M2 2v1M36 2v1M39 2v1M41 2v1M42 2v1M50 2v1M52 2v1M103 2v1M109 2v1M144 2v1M150 2v1M165 2v1M173 2v1M34 3v1M48 3v1M50 3v1M51 3v1M67 3v1M91 3v1M118 3v1M124 3v1M135 3v1M139 3v1M177 3v1M184 3v1M198 3v1M202 3v1M7 4v1M58 4v1M62 4v1M129 4v1M142 4v1M199 4v1M201 4v1M22 5v1M32 5v1M39 5v1M93 5v1M119 5v1M136 5v1M144 5v1M150 5v1M153 5v1M179 5v1M37 6v1M47 6v1M53 6v1M66 6v1M89 6v1M94 6v1M97 6v1M103 6v1M118 6v1M136 6v1M143 6v1M182 6v1M198 6v1M7 7v1M38 7v1M39 7v1M54 7v1M58 7v1M63 7v1M66 7v1M88 7v1M97 7v1M105 7v1M111 7v1M142 7v1M2 8v1M9 8v1M103 8v1M121 8v1M126 8v1M127 8v1M140 8v1M142 8v1M145 8v1M174 8v1M181 8v1M182 8v1M183 8v1M78 9v1M98 9v1M124 9v1M135 9v1"/><path stroke="#90c0e4" d="M2 0v1M4 0v1M13 0v1M65 0v1M77 0v1M78 0v1M174 0v1M185 0v1M15 1v1M21 1v1M42 1v1M45 1v1M55 1v1M138 1v1M185 1v1M196 1v1M11 2v1M29 2v1M34 2v1M58 2v1M66 2v1M83 2v1M130 2v1M0 3v1M3 3v1M35 3v1M69 3v1M153 3v1M185 3v1M33 4v1M44 4v1M51 4v1M66 4v1M92 4v1M96 4v1M99 4v1M0 5v1M3 5v1M42 5v1M75 5v1M91 5v1M125 5v1M13 6v1M55 6v1M67 6v1M153 6v1M190 7v1M202 7v1M23 8v1M87 8v1M45 9v1M96 9v1M100 9v1M162 9v1M168 9v1M193 9v1"/><path stroke="#78a8d8" d="M3 0v1M23 0v1M66 1v1M81 1v1M51 2v1M71 2v1M188 2v1M15 3v1M38 3v1M44 3v1M86 3v1M88 3v1M125 3v1M130 3v1M149 3v1M154 3v1M45 5v1M184 5v1M3 7v1M81 7v1M91 8v1M97 8v1M175 8v1M17 9v1M123 9v1M180 9v1"/><path stroke="#cc5448" d="M5 0v1M37 0v1M121 0v1M146 0v1M170 0v1M37 1v1M170 1v1M134 3v1M158 3v1M163 3v1M117 4v1M183 4v1M189 5v1M24 8v1M69 8v1M146 8v1M170 8v1M193 8v1M72 9v1M129 9v1"/><path stroke="#609ccc" d="M6 0v1M58 0v1M92 0v1M191 0v1M12 1v1M58 1v1M77 1v1M55 2v1M60 3v1M35 4v1M75 4v1M90 4v1M200 4v1M34 5v1M53 5v1M168 6v1M25 8v1M36 9v1M104 9v1M148 9v1M149 9v1M203 9v1"/><path stroke="#9cc0e4" d="M7 0v1M14 0v1M16 0v1M20 0v1M22 0v1M34 0v1M86 0v1M94 0v1M130 0v1M16 1v1M17 1v1M68 1v1M72 1v1M74 1v1M82 1v1M88 1v1M95 1v1M78 2v1M147 2v1M185 2v1M1 3v1M6 3v1M13 3v1M17 3v1M31 3v1M56 3v1M59 3v1M76 3v1M95 3v1M164 3v1M4 4v1M11 4v1M24 4v1M59 4v1M79 4v1M103 4v1M178 4v1M185 4v1M195 4v1M88 5v1M138 5v1M75 6v1M24 7v1M55 7v1M191 7v1M29 8v1M116 8v1M119 8v1M161 8v1M53 9v1M89 9v1M111 9v1M196 9v1"/><path stroke="#cce4f0" d="M8 0v1M10 0v1M30 0v1M40 0v1M83 0v1M89 0v1M93 0v1M96 0v1M150 0v1M162 0v1M173 0v1M200 0v1M40 1v1M64 1v1M144 1v1M175 1v1M16 2v1M17 2v1M30 2v1M33 2v1M38 2v1M40 2v1M43 2v1M82 2v1M88 2v1M127 2v1M30 3v1M33 3v1M40 3v1M52 3v1M65 3v1M80 3v1M83 3v1M103 3v1M182 3v1M200 3v1M10 4v1M31 4v1M47 4v1M64 4v1M109 4v1M122 4v1M130 4v1M171 4v1M179 4v1M188 4v1M8 5v1M9 5v1M23 5v1M25 5v1M31 5v1M67 5v1M76 5v1M196 5v1M200 5v1M202 5v1M16 6v1M23 6v1M28 6v1M88 6v1M111 6v1M150 6v1M164 6v1M200 6v1M5 7v1M11 7v1M28 7v1M30 7v1M57 7v1M74 7v1M85 7v1M86 7v1M89 7v1M95 7v1M107 7v1M126 7v1M154 7v1M200 7v1M11 8v1M18 8v1M19 8v1M35 8v1M41 8v1M81 8v1M101 8v1M133 8v1M190 8v1M195 8v1M3 9v1M38 9v1M57 9v1M82 9v1M113 9v1M202 9v1"/><path stroke="#b4d8f0" d="M9 0v1M32 0v1M177 0v1M10 1v1M11 1v1M29 1v1M62 1v1M80 1v1M130 1v1M168 1v1M184 1v1M193 1v1M32 2v1M99 2v1M4 3v1M16 3v1M72 3v1M79 3v1M89 3v1M127 3v1M144 3v1M9 4v1M55 4v1M202 4v1M10 5v1M99 5v1M168 5v1M36 6v1M57 6v1M135 6v1M199 6v1M18 7v1M31 7v1M68 7v1M56 9v1M83 9v1M134 9v1"/><path stroke="#d8e4f0" d="M11 0v1M29 0v1M45 0v1M48 0v1M64 0v1M68 0v1M79 0v1M168 0v1M184 0v1M39 1v1M101 1v1M133 1v1M153 1v1M174 1v1M179 1v1M188 1v1M190 1v1M195 1v1M0 2v1M20 2v1M70 2v1M80 2v1M85 2v1M91 2v1M94 2v1M118 2v1M139 2v1M159 2v1M177 2v1M178 2v1M189 2v1M202 2v1M29 3v1M32 3v1M41 3v1M63 3v1M104 3v1M178 3v1M195 3v1M50 4v1M116 4v1M150 4v1M194 4v1M14 5v1M44 5v1M90 5v1M101 5v1M190 5v1M193 5v1M195 5v1M3 6v1M14 6v1M25 6v1M29 6v1M31 6v1M54 6v1M90 6v1M100 6v1M105 6v1M132 6v1M154 6v1M174 6v1M188 6v1M8 7v1M13 7v1M47 7v1M52 7v1M65 7v1M77 7v1M101 7v1M133 7v1M140 7v1M146 7v1M160 7v1M164 7v1M178 7v1M179 7v1M180 7v1M197 7v1M201 7v1M4 8v1M26 8v1M136 8v1M155 8v1M202 8v1M2 9v1M51 9v1M64 9v1M84 9v1M88 9v1M97 9v1M157 9v1M198 9v1"/><path stroke="#5490cc" d="M12 0v1M56 0v1M75 0v1M197 0v1M47 1v1M18 2v1M97 2v1M191 3v1M12 4v1M53 4v1M77 4v1M154 4v1M12 5v1M166 5v1M133 6v1M63 8v1"/><path stroke="#c0303c" d="M19 0v1M121 3v1M95 8v1"/><path stroke="#84b4d8" d="M21 0v1M46 0v1M62 0v1M76 0v1M84 0v1M97 0v1M153 0v1M4 1v1M18 1v1M34 1v1M44 1v1M57 1v1M63 1v1M71 1v1M75 1v1M76 1v1M97 1v1M6 2v1M10 2v1M64 2v1M86 2v1M96 2v1M101 2v1M154 2v1M197 2v1M22 3v1M28 3v1M47 3v1M62 3v1M82 3v1M93 3v1M107 3v1M138 3v1M174 3v1M0 4v1M28 4v1M45 4v1M65 4v1M69 4v1M71 4v1M76 4v1M165 4v1M191 4v1M6 5v1M24 5v1M55 5v1M60 5v1M94 5v1M104 5v1M174 5v1M181 5v1M2 6v1M77 6v1M82 6v1M86 6v1M92 6v1M15 8v1M28 9v1M32 9v1M63 9v1M79 9v1M117 9v1M133 9v1M183 9v1M185 9v1"/><path stroke="#c0d8f0" d="M24 0v1M39 0v1M88 0v1M101 0v1M172 0v1M175 0v1M195 0v1M201 0v1M0 1v1M14 1v1M30 1v1M35 1v1M48 1v1M52 1v1M59 1v1M118 1v1M129 1v1M147 1v1M164 1v1M165 1v1M173 1v1M199 1v1M3 2v1M14 2v1M24 2v1M45 2v1M46 2v1M65 2v1M68 2v1M93 2v1M122 2v1M149 2v1M153 2v1M174 2v1M175 2v1M182 2v1M196 2v1M201 2v1M9 3v1M10 3v1M21 3v1M85 3v1M129 3v1M133 3v1M168 3v1M172 3v1M179 3v1M190 3v1M2 4v1M3 4v1M14 4v1M32 4v1M39 4v1M40 4v1M42 4v1M56 4v1M83 4v1M95 4v1M97 4v1M101 4v1M104 4v1M133 4v1M144 4v1M167 4v1M172 4v1M175 4v1M184 4v1M190 4v1M203 4v1M15 5v1M62 5v1M68 5v1M72 5v1M124 5v1M171 5v1M178 5v1M185 5v1M0 6v1M4 6v1M7 6v1M10 6v1M11 6v1M17 6v1M22 6v1M38 6v1M43 6v1M45 6v1M59 6v1M64 6v1M72 6v1M81 6v1M95 6v1M96 6v1M104 6v1M107 6v1M139 6v1M141 6v1M177 6v1M178 6v1M190 6v1M0 7v1M4 7v1M43 7v1M56 7v1M67 7v1M78 7v1M93 7v1M96 7v1M128 7v1M161 7v1M30 8v1M43 8v1M45 8v1M65 8v1M104 8v1M109 8v1M130 8v1M143 8v1M149 8v1M150 8v1M164 8v1M188 8v1M200 8v1M5 9v1M23 9v1M26 9v1M52 9v1M73 9v1M93 9v1M125 9v1M130 9v1M137 9v1M161 9v1M169 9v1"/><path stroke="#f0d8cc" d="M25 0v1M111 0v1M112 0v1M145 0v1M171 0v1M178 0v1M181 0v1M194 0v1M198 0v1M25 1v1M27 1v1M108 1v1M119 1v1M127 1v1M189 1v1M192 1v1M113 2v1M135 2v1M145 2v1M193 2v1M195 2v1M100 3v1M142 3v1M169 3v1M171 3v1M203 3v1M26 4v1M36 4v1M61 4v1M85 4v1M110 4v1M118 4v1M156 4v1M160 4v1M109 5v1M147 5v1M170 5v1M182 5v1M18 6v1M24 6v1M33 6v1M50 6v1M60 6v1M108 6v1M184 6v1M16 7v1M40 7v1M49 7v1M64 7v1M70 7v1M73 7v1M91 7v1M104 7v1M150 7v1M162 7v1M163 7v1M165 7v1M171 7v1M174 7v1M194 7v1M8 8v1M38 8v1M70 8v1M90 8v1M98 8v1M108 8v1M131 8v1M177 8v1M4 9v1M59 9v1M69 9v1M76 9v1M138 9v1M160 9v1M173 9v1M181 9v1"/><path stroke="#e4b49c" d="M26 0v1M110 1v1M124 2v1M126 2v1M123 4v1M169 4v1M123 5v1M187 5v1M87 6v1M146 6v1M152 7v1M93 8v1M42 9v1M189 9v1"/><path stroke="#3c78c0" d="M28 0v1M27 9v1M151 9v1"/><path stroke="#b4d8e4" d="M35 0v1M43 0v1M67 0v1M69 0v1M80 0v1M107 0v1M9 1v1M46 1v1M85 1v1M172 1v1M4 2v1M9 2v1M31 2v1M35 2v1M57 2v1M59 2v1M89 2v1M129 2v1M179 2v1M14 3v1M58 3v1M99 3v1M147 3v1M29 4v1M74 4v1M153 4v1M29 5v1M33 5v1M63 5v1M77 5v1M78 5v1M79 5v1M80 5v1M96 5v1M130 5v1M188 5v1M56 6v1M99 6v1M130 6v1M183 6v1M185 6v1M25 7v1M42 7v1M79 7v1M90 7v1M103 7v1M135 7v1M195 7v1M7 8v1M57 8v1M163 8v1M61 9v1M74 9v1M91 9v1M139 9v1"/><path stroke="#f0f0f0" d="M36 0v1M50 0v1M73 0v1M74 0v1M91 0v1M103 0v1M118 0v1M122 0v1M135 0v1M136 0v1M143 0v1M144 0v1M147 0v1M157 0v1M182 0v1M202 0v1M203 0v1M36 1v1M41 1v1M43 1v1M50 1v1M54 1v1M70 1v1M78 1v1M100 1v1M103 1v1M109 1v1M136 1v1M139 1v1M143 1v1M171 1v1M177 1v1M178 1v1M201 1v1M1 2v1M21 2v1M72 2v1M79 2v1M107 2v1M136 2v1M140 2v1M151 2v1M160 2v1M176 2v1M181 2v1M183 2v1M7 3v1M8 3v1M20 3v1M24 3v1M25 3v1M43 3v1M68 3v1M71 3v1M111 3v1M113 3v1M123 3v1M132 3v1M137 3v1M151 3v1M162 3v1M165 3v1M176 3v1M187 3v1M193 3v1M196 3v1M15 4v1M18 4v1M20 4v1M43 4v1M52 4v1M63 4v1M68 4v1M72 4v1M78 4v1M80 4v1M93 4v1M107 4v1M127 4v1M131 4v1M136 4v1M143 4v1M149 4v1M151 4v1M168 4v1M181 4v1M182 4v1M2 5v1M20 5v1M27 5v1M30 5v1M38 5v1M40 5v1M54 5v1M95 5v1M100 5v1M108 5v1M113 5v1M118 5v1M135 5v1M139 5v1M157 5v1M173 5v1M177 5v1M186 5v1M194 5v1M199 5v1M27 6v1M34 6v1M39 6v1M42 6v1M49 6v1M52 6v1M62 6v1M63 6v1M69 6v1M70 6v1M91 6v1M124 6v1M134 6v1M137 6v1M162 6v1M175 6v1M181 6v1M192 6v1M195 6v1M203 6v1M2 7v1M9 7v1M19 7v1M20 7v1M22 7v1M27 7v1M33 7v1M41 7v1M46 7v1M62 7v1M71 7v1M72 7v1M76 7v1M83 7v1M94 7v1M100 7v1M106 7v1M119 7v1M123 7v1M129 7v1M130 7v1M134 7v1M137 7v1M141 7v1M145 7v1M147 7v1M149 7v1M151 7v1M155 7v1M156 7v1M159 7v1M168 7v1M170 7v1M172 7v1M175 7v1M177 7v1M181 7v1M183 7v1M192 7v1M198 7v1M199 7v1M203 7v1M13 8v1M16 8v1M50 8v1M54 8v1M59 8v1M60 8v1M67 8v1M89 8v1M117 8v1M154 8v1M198 8v1M33 9v1M37 9v1M46 9v1M70 9v1M71 9v1M75 9v1M132 9v1M136 9v1M154 9v1M164 9v1M190 9v1M201 9v1"/><path stroke="#d8f0f0" d="M38 0v1M2 1v1M171 2v1M88 4v1M89 4v1M64 5v1M83 6v1"/><path stroke="#f0d8d8" d="M41 0v1M54 0v1M108 0v1M134 0v1M140 0v1M1 1v1M113 1v1M149 1v1M159 1v1M74 2v1M131 3v1M180 3v1M181 3v1M1 4v1M46 4v1M98 4v1M139 4v1M145 4v1M47 5v1M132 5v1M145 5v1M163 5v1M1 6v1M21 6v1M87 7v1M117 7v1M132 7v1M136 7v1M6 8v1M107 8v1M176 8v1M184 8v1M13 9v1M35 9v1M86 9v1M145 9v1"/><path stroke="#b4cce4" d="M42 0v1M82 0v1M196 0v1M199 0v1M65 1v1M79 1v1M107 1v1M47 2v1M96 3v1M101 3v1M21 4v1M7 5v1M69 5v1M81 5v1M89 5v1M8 6v1M41 6v1M98 6v1M110 6v1M144 6v1M147 6v1M191 6v1M193 6v1M10 7v1M17 7v1M188 7v1M167 9v1M172 9v1"/><path stroke="#90c0d8" d="M47 0v1M99 0v1M125 0v1M7 1v1M13 1v1M22 1v1M51 1v1M96 1v1M125 1v1M182 1v1M84 2v1M138 2v1M184 2v1M191 2v1M77 3v1M13 4v1M57 4v1M197 4v1M70 5v1M74 5v1M97 5v1M149 6v1M179 6v1M6 7v1M12 7v1M182 7v1M151 8v1M116 9v1M144 9v1M186 9v1M195 9v1M200 9v1"/><path stroke="#c03c3c" d="M49 0v1M115 1v1M19 2v1M49 2v1M158 2v1M148 3v1M148 4v1M121 5v1M20 8v1M49 8v1M137 8v1M152 8v1"/><path stroke="#9ccce4" d="M51 0v1M59 0v1M72 0v1M90 0v1M149 0v1M164 0v1M8 1v1M60 1v1M93 1v1M94 1v1M8 2v1M13 2v1M48 2v1M62 2v1M63 2v1M69 2v1M90 2v1M104 2v1M199 2v1M11 3v1M18 3v1M39 3v1M45 3v1M74 3v1M92 3v1M173 3v1M23 4v1M100 4v1M138 4v1M65 5v1M149 5v1M12 6v1M78 6v1M92 7v1M99 7v1M3 8v1M129 8v1M110 9v1"/><path stroke="#6ca8d8" d="M53 0v1M154 0v1M3 1v1M33 1v1M92 1v1M56 2v1M92 2v1M12 3v1M53 3v1M55 3v1M66 3v1M90 3v1M60 4v1M70 4v1M94 4v1M196 4v1M164 5v1M166 6v1M23 7v1M75 7v1M96 8v1M114 8v1M187 8v1M8 9v1M10 9v1M48 9v1M62 9v1M66 9v1M103 9v1M114 9v1M131 9v1M188 9v1"/><path stroke="#549ccc" d="M55 0v1M188 0v1M86 1v1M154 1v1M53 2v1M164 2v1M6 4v1M18 5v1M57 5v1M92 5v1M166 7v1M12 8v1M64 8v1M6 9v1M12 9v1M140 9v1"/><path stroke="#6ca8cc" d="M60 0v1M22 2v1M60 2v1M97 3v1M34 4v1M94 8v1M15 9v1M68 9v1"/><path stroke="#d87860" d="M61 0v1M117 0v1M120 0v1M19 1v1M87 1v1M98 1v1M37 2v1M117 2v1M120 2v1M137 2v1M87 3v1M115 3v1M117 3v1M126 3v1M106 4v1M170 4v1M189 4v1M61 5v1M114 5v1M0 8v1M128 8v1M134 8v1M194 8v1M11 9v1M29 9v1M112 9v1"/><path stroke="#78b4d8" d="M63 0v1M66 0v1M71 0v1M138 0v1M20 1v1M23 1v1M53 1v1M67 1v1M15 2v1M67 2v1M77 2v1M57 3v1M75 3v1M188 3v1M82 4v1M125 4v1M66 5v1M191 5v1M9 6v1M125 6v1M35 7v1M45 7v1M144 8v1M90 9v1"/><path stroke="#4890c0" d="M81 0v1M81 4v1M28 5v1M154 5v1M197 5v1M32 8v1M77 9v1"/><path stroke="#f0e4d8" d="M85 0v1M119 0v1M131 0v1M176 0v1M140 1v1M181 1v1M187 1v1M25 2v1M172 2v1M187 2v1M54 3v1M84 3v1M108 3v1M119 3v1M122 3v1M186 3v1M17 4v1M54 4v1M108 4v1M159 4v1M1 5v1M21 5v1M20 6v1M32 6v1M51 6v1M76 6v1M109 6v1M113 6v1M128 6v1M156 6v1M159 6v1M171 6v1M172 6v1M60 7v1M108 7v1M31 8v1M58 8v1M120 8v1M189 8v1M192 8v1M203 8v1M20 9v1M128 9v1M146 9v1M158 9v1M192 9v1"/><path stroke="#c0483c" d="M87 0v1M158 1v1M115 2v1M114 4v1"/><path stroke="#d89078" d="M98 0v1M189 0v1M141 2v1M167 3v1M120 5v1M176 5v1M109 9v1"/><path stroke="#d86c54" d="M102 0v1M128 0v1M146 1v1M121 2v1M186 2v1M19 5v1M51 8v1M88 8v1M139 8v1M178 8v1"/><path stroke="#e4a890" d="M105 0v1M132 0v1M161 1v1M186 1v1M203 1v1M26 2v1M109 3v1M128 4v1M141 4v1M36 5v1M201 5v1M203 5v1M19 6v1M131 6v1M32 7v1M131 7v1M21 8v1M55 8v1M73 8v1M77 8v1M100 8v1M178 9v1"/><path stroke="#d8786c" d="M106 0v1M152 0v1M5 1v1M106 1v1M120 1v1M49 4v1M146 4v1M163 4v1M112 5v1M113 8v1"/><path stroke="#f0ccc0" d="M109 0v1M139 0v1M141 0v1M180 0v1M32 1v1M116 1v1M124 1v1M151 1v1M156 1v1M160 1v1M162 1v1M169 1v1M176 1v1M100 2v1M110 2v1M116 2v1M123 2v1M132 2v1M162 2v1M169 2v1M203 2v1M36 3v1M105 3v1M116 3v1M152 3v1M155 3v1M160 3v1M183 3v1M27 4v1M48 4v1M91 4v1M112 4v1M119 4v1M126 4v1M173 4v1M198 4v1M16 5v1M58 5v1M102 5v1M110 5v1M140 5v1M160 5v1M161 5v1M162 5v1M30 6v1M48 6v1M61 6v1M71 6v1M73 6v1M102 6v1M123 6v1M145 6v1M158 6v1M160 6v1M165 6v1M187 6v1M26 7v1M80 7v1M109 7v1M116 7v1M125 7v1M157 7v1M173 7v1M34 8v1M71 8v1M83 8v1M99 8v1M125 8v1M196 8v1M9 9v1M87 9v1M126 9v1M155 9v1"/><path stroke="#e49084" d="M110 0v1M156 0v1M192 0v1M194 2v1M98 3v1M137 4v1M73 5v1M121 6v1M148 6v1M84 7v1M22 8v1M44 8v1M179 8v1M180 8v1M1 9v1M14 9v1M44 9v1"/><path stroke="#f0e4e4" d="M113 0v1M190 0v1M193 0v1M122 1v1M123 1v1M126 1v1M202 1v1M95 2v1M155 2v1M190 2v1M2 3v1M27 3v1M78 3v1M136 3v1M150 3v1M157 3v1M199 3v1M201 3v1M113 4v1M124 4v1M135 4v1M174 4v1M180 4v1M187 4v1M193 4v1M35 5v1M41 5v1M43 5v1M50 5v1M82 5v1M85 5v1M151 5v1M159 5v1M165 5v1M172 5v1M26 6v1M35 6v1M46 6v1M65 6v1M74 6v1M85 6v1M112 6v1M117 6v1M152 6v1M163 6v1M170 6v1M194 6v1M201 6v1M1 7v1M48 7v1M50 7v1M51 7v1M61 7v1M98 7v1M115 7v1M139 7v1M153 7v1M158 7v1M167 7v1M185 7v1M186 7v1M189 7v1M42 8v1M48 8v1M111 8v1M112 8v1M166 8v1M199 8v1M201 8v1M41 9v1M54 9v1M80 9v1M107 9v1M120 9v1M176 9v1M177 9v1"/><path stroke="#cc6048" d="M114 0v1M114 1v1M117 1v1M98 2v1M134 2v1M146 2v1M117 5v1M40 8v1M61 8v1M78 8v1M118 8v1"/><path stroke="#cc483c" d="M115 0v1M49 1v1M61 3v1M19 4v1M148 5v1M158 5v1"/><path stroke="#f0b4a8" d="M123 0v1M137 0v1M151 0v1M132 1v1M105 2v1M111 2v1M119 2v1M128 2v1M133 2v1M143 2v1M152 2v1M73 3v1M120 3v1M128 3v1M152 4v1M5 5v1M106 5v1M116 5v1M122 5v1M156 5v1M183 5v1M198 5v1M21 7v1M29 7v1M124 7v1M127 7v1M148 7v1M193 7v1M33 8v1M36 8v1M56 8v1M153 8v1M141 9v1M179 9v1"/><path stroke="#e49078" d="M124 0v1M169 0v1M112 1v1M5 2v1M106 2v1M156 2v1M102 3v1M102 4v1M147 4v1M126 5v1M142 5v1M121 7v1M122 8v1M186 8v1M150 9v1"/><path stroke="#f0c0b4" d="M126 0v1M133 0v1M159 0v1M160 0v1M165 0v1M167 0v1M128 1v1M142 1v1M145 1v1M152 1v1M194 1v1M142 2v1M161 2v1M112 3v1M141 3v1M38 4v1M41 4v1M120 4v1M121 4v1M140 4v1M162 4v1M48 5v1M59 5v1M105 5v1M129 5v1M152 5v1M167 5v1M40 6v1M116 6v1M119 6v1M126 6v1M140 6v1M169 6v1M189 6v1M196 6v1M15 7v1M44 7v1M82 7v1M113 7v1M122 7v1M144 7v1M169 7v1M10 8v1M39 8v1M46 8v1M68 8v1M82 8v1M110 8v1M165 8v1M172 8v1M0 9v1M19 9v1M34 9v1M67 9v1M119 9v1M153 9v1"/><path stroke="#ccd8f0" d="M127 0v1"/><path stroke="#f0cccc" d="M142 0v1M150 1v1M183 1v1M54 2v1M98 5v1M103 5v1M176 6v1M59 7v1M141 8v1M47 9v1M106 9v1"/><path stroke="#c03030" d="M148 0v1M158 0v1M121 1v1"/><path stroke="#e4a89c" d="M155 0v1M26 1v1M131 1v1M73 2v1M112 2v1M180 2v1M198 2v1M106 3v1M114 3v1M159 3v1M194 3v1M158 4v1M161 4v1M192 4v1M26 5v1M111 5v1M134 5v1M141 5v1M155 5v1M114 6v1M167 6v1M112 7v1M114 7v1M14 8v1M27 8v1M162 8v1M40 9v1M81 9v1M101 9v1M191 9v1M194 9v1M199 9v1"/><path stroke="#d88478" d="M161 0v1M102 1v1M137 1v1M141 1v1M192 2v1M161 3v1M170 3v1M128 5v1M169 5v1M58 6v1M161 6v1M102 7v1M110 7v1M176 7v1M37 8v1M160 8v1M184 9v1"/><path stroke="#cc6c54" d="M163 0v1M49 3v1M115 4v1"/><path stroke="#2460a8" d="M166 0v1M166 1v1M166 2v1M166 3v1M166 4v1M22 9v1M55 9v1M85 9v1M95 9v1M147 9v1M170 9v1"/><path stroke="#f0f0e4" d="M183 0v1M187 0v1M27 2v1M64 3v1M5 4v1M25 4v1M111 4v1M13 5v1M17 5v1M107 5v1M5 6v1M15 6v1M68 6v1M79 6v1M120 6v1M127 6v1M202 6v1M14 7v1M69 7v1M118 7v1M184 7v1M196 7v1M47 8v1M102 8v1M148 8v1M171 8v1M65 9v1M159 9v1"/><path stroke="#d8846c" d="M186 0v1M134 1v1M163 1v1M163 2v1M146 3v1M156 3v1M37 4v1M134 4v1M155 4v1M37 5v1M5 8v1M28 8v1M53 8v1M75 8v1M106 8v1M147 8v1M158 8v1M167 8v1M197 8v1M30 9v1M60 9v1"/><path stroke="#4884c0" d="M6 1v1M191 1v1M76 8v1M185 8v1"/><path stroke="#246cb4" d="M28 1v1"/><path stroke="#60a8cc" d="M38 1v1M75 2v1M175 5v1M93 6v1M80 8v1M124 8v1M102 9v1M121 9v1"/><path stroke="#cc6054" d="M61 1v1M73 4v1M1 8v1M157 8v1M191 8v1"/><path stroke="#e49c84" d="M73 1v1M105 1v1M111 1v1M102 2v1M108 2v1M131 2v1M167 2v1M26 3v1M110 3v1M189 3v1M192 3v1M105 4v1M157 4v1M176 4v1M186 4v1M87 5v1M137 5v1M146 5v1M180 5v1M142 6v1M186 6v1M143 7v1M86 8v1M16 9v1M39 9v1"/><path stroke="#f0c0a8" d="M135 1v1M155 1v1M157 1v1M167 1v1M140 3v1M143 3v1M145 3v1M67 4v1M46 5v1M143 5v1M106 6v1M151 6v1M155 6v1M120 7v1M115 8v1M132 8v1M7 9v1M92 9v1"/><path stroke="#b42430" d="M148 1v1M148 2v1M49 5v1M135 8v1M122 9v1"/><path stroke="#e49c90" d="M180 1v1M114 2v1M157 2v1M87 4v1M132 4v1M115 5v1M131 5v1M115 6v1M17 8v1M52 8v1M79 8v1M94 9v1M143 9v1"/><path stroke="#3c84c0" d="M197 1v1M28 2v1M197 3v1M197 6v1M138 8v1M50 9v1M99 9v1M165 9v1M166 9v1"/><path stroke="#e4b4a8" d="M198 1v1M5 3v1M187 7v1M152 9v1"/><path stroke="#3078b4" d="M12 2v1M105 8v1M18 9v1M108 9v1"/><path stroke="#d86c60" d="M61 2v1M87 2v1M170 2v1M19 3v1M192 5v1M180 6v1M74 8v1"/><path stroke="#cc543c" d="M37 3v1M169 8v1"/><path stroke="#306cb4" d="M174 9v1"/></g><path d="M354.8 51.42H346.8V67.31H354.8M354.8 35.53H341.8V59.37H346.8M354.8 19.64H340.9V47.45H341.8M354.8 114.98H343.4V130.88H354.8M354.8 99.1H339.2V122.93H343.4M354.8 83.2H337.6V111.01H339.2M340.9 33.55H336.4V97.11H337.6M354.8 146.76H326.4V162.66H354.8M336.4 65.33H323.4V154.71H326.4" stroke="#777" stroke-width="0.6" fill="none"/><g font-size="5.8" font-family="Liberation Serif" fill="#111"><text x="561.3" y="21.64">LAG3***</text><text x="596.5" y="21.64">7.49e−07</text><text x="561.3" y="37.53">PDCD1***</text><text x="596.5" y="37.53">2.37e−07</text><text x="561.3" y="53.42">CTLA4***</text><text x="594" y="53.42">5.09e−09</text><text x="561.3" y="69.31">TIGIT***</text><text x="595.5" y="69.31">1.40e−05</text><text x="561.3" y="85.2">ITPRIPL1***</text><text x="600.3" y="85.2">2.43e−06</text><text x="561.3" y="101.1">HAVCR2***</text><text x="597.5" y="101.1">1.84e−05</text><text x="561.3" y="116.98">CD274</text><text x="597.5" y="116.98">5.82e−01</text><text x="561.3" y="132.88">PDCD1LG2</text><text x="597.5" y="132.88">7.74e−01</text><text x="561.3" y="148.76">SIGLEC15</text><text x="597.5" y="148.76">5.67e−01</text><text x="561.3" y="164.66">IGSF8</text><text x="597.5" y="164.66">7.11e−01</text></g><text x="561.3" y="8.2" font-size="5.2" font-family="Liberation Serif" font-weight="bold">Group</text><defs><linearGradient id="gb" x1="0" y1="0" x2="0" y2="1"><stop offset="0" stop-color="#b8352a"/><stop offset="0.25" stop-color="#d9958a"/><stop offset="0.5" stop-color="#ffffff"/><stop offset="0.75" stop-color="#8ebcdc"/><stop offset="1" stop-color="#1f6fb0"/></linearGradient></defs><rect x="627.2" y="3.1" width="6.4" height="90.4" fill="url(#gb)"/><text x="635.8" y="5.6" font-size="5" fill="#333" font-family="Liberation Serif">2</text><text x="635.8" y="27.8" font-size="5" fill="#333" font-family="Liberation Serif">1</text><text x="635.8" y="50.4" font-size="5" fill="#333" font-family="Liberation Serif">0</text><text x="635.8" y="73.1" font-size="5" fill="#333" font-family="Liberation Serif">−1</text><text x="635.8" y="95.7" font-size="5" fill="#333" font-family="Liberation Serif">−2</text><text x="643.3" y="7.6" font-size="5.4" font-family="Liberation Serif" font-weight="bold">Group</text><rect x="643" y="9.35" width="7.8" height="7.85" fill="#1fd0d6"/><rect x="643" y="17.5" width="7.8" height="7.6" fill="#f7867e"/><text x="653.1" y="14.8" font-size="4.3" fill="#333" font-family="Liberation Serif">Low</text><text x="653.1" y="22.7" font-size="4.3" fill="#333" font-family="Liberation Serif">High</text><path d="M53 268.98L60.48 268L67.96 266.87L75.44 265.58L82.92 264.14L90.4 262.55L97.88 260.75L105.36 258.7L112.84 256.39L120.32 253.82L127.8 251L127.8 259L120.32 259.52L112.84 260.29L105.36 261.32L97.88 262.61L90.4 264.15L82.92 265.9L75.44 267.8L67.96 269.85L60.48 272.06L53 274.42zM170 276.28L177.68 273.74L185.36 271.05L193.04 268.2L200.72 265.2L208.4 262.05L216.08 258.69L223.76 255.08L231.44 251.21L239.12 247.08L246.8 242.7L246.8 250.7L239.12 252.78L231.44 255.11L223.76 257.7L216.08 260.55L208.4 263.65L200.72 266.96L193.04 270.42L185.36 274.03L177.68 277.8L170 281.72zM287.8 277.38L295.48 275.29L303.16 273.05L310.84 270.65L318.52 268.1L326.2 265.4L333.88 262.49L341.56 259.33L349.24 255.91L356.92 252.23L364.6 248.3L364.6 256.3L356.92 257.93L349.24 259.81L341.56 261.95L333.88 264.35L326.2 267L318.52 269.86L310.84 272.87L303.16 276.03L295.48 279.35L287.8 282.82zM53 383.48L60.48 381.43L67.96 379.23L75.44 376.87L82.92 374.36L90.4 371.7L97.88 368.83L105.36 365.71L112.84 362.33L120.32 358.69L127.8 354.8L127.8 362.8L120.32 364.39L112.84 366.23L105.36 368.33L97.88 370.69L90.4 373.3L82.92 376.12L75.44 379.09L67.96 382.21L60.48 385.49L53 388.92zM170 375.18L177.68 373.42L185.36 371.51L193.04 369.44L200.72 367.22L208.4 364.85L216.08 362.27L223.76 359.44L231.44 356.35L239.12 353L246.8 349.4L246.8 357.4L239.12 358.7L231.44 360.25L223.76 362.06L216.08 364.13L208.4 366.45L200.72 368.98L193.04 371.66L185.36 374.49L177.68 377.48L170 380.62zM286.7 381.88L294.49 380.52L302.28 379.01L310.07 377.34L317.86 375.52L325.65 373.55L333.44 371.37L341.23 368.94L349.02 366.25L356.81 363.3L364.6 360.1L364.6 368.1L356.81 369L349.02 370.15L341.23 371.56L333.44 373.23L325.65 375.15L317.86 377.28L310.07 379.56L302.28 381.99L294.49 384.58L286.7 387.32z" fill="#d9d9d9" fill-opacity="0.75"/><path d="M53 380h0m0 6h0m0-2h0m0 0h0m0-103h0m1 94h0m0 7h0m0 6h0m0-100h0m0-13h0m1-2h0m0 1h0m0 109h0m0-118h0m0 16h0m1 102h0m0-114h0m0 3h0m0-6h0m1 6h0m0 115h0m0-115h0m0 110h0m0-123h0m0 123h0m1-111h0m0 117h0m1-106h0m0 92h0m0 10h0m0-122h0m0 120h0m0 5h0m0-2h0m0-106h0m0 97h0m1 8h0m0-1h0m0-104h0m0-2h0m0 110h0m0 1h0m0-7h0m1-104h0m0-13h0m0 6h0m0 11h0m0 83h0m0 22h0m0-2h0m0-6h0m0 7h0m0-108h0m1 102h0m0-14h0m0 17h0m0-4h0m0 10h0m0-102h0m0-21h0m0 117h0m0-7h0m0 13h0m1-116h0m0 110h0m0-1h0m0-110h0m0 11h0m1 101h0m0-118h0m0 6h0m0-24h0m0 41h0m0-11h0m0-9h0m0-14h0m0 127h0m0-105h0m0 102h0m0-92h0m0-13h0m0 108h0m0 0h0m0 0h0m0-93h0m0-9h0m0 109h0m1-19h0m0-104h0m0 17h0m0-5h0m0 109h0m0-124h0m0 118h0m0-106h0m0 105h0m0-108h0m1 113h0m0-2h0m0-35h0m0-68h0m0-16h0m0 8h0m0 1h0m0-6h0m0 102h0m0 16h0m0 4h0m0 0h0m0-112h0m1-15h0m0-22h0m0 40h0m0 104h0m0-112h0m0-1h0m0 116h0m0-124h0m0 125h0m0-102h0m0 102h0m0 0h0m0-123h0m0 109h0m0 6h0m0-106h0m0-2h0m0-3h0m0 111h0m0-9h0m0 16h0m1-132h0m0 131h0m0-115h0m0 113h0m0-1h0m0-9h0m0-3h0m0-101h0m0 15h0m0 95h0m0 9h0m0-108h0m0-14h0m0 102h0m1 20h0m0-3h0m0-119h0m0 4h0m0 109h0m0 9h0m0-4h0m0 4h0m0-116h0m0 110h0m0 5h0m0-102h0m0-13h0m0 111h0m0-9h0m0-93h0m0 103h0m1-141h0m0 145h0m0-124h0m0 13h0m0-6h0m0 102h0m0 9h0m0-110h0m0 2h0m0 101h0m0-8h0m1 21h0m0-119h0m0-3h0m0 12h0m0 97h0m0-90h0m0-2h0m0 95h0m0-136h0m0 35h0m0 1h0m0 83h0m0-90h0m0 17h0m1 96h0m0-9h0m0-40h0m0-72h0m0-1h0m0 123h0m0-129h0m0 121h0m0 0h0m0-6h0m0-107h0m0 116h0m0-98h0m0-15h0m0 11h0m0 2h0m0 106h0m0-115h0m0 105h0m1-103h0m0 114h0m0-4h0m0-109h0m0 113h0m0-123h0m0 5h0m0 111h0m0 4h0m0-17h0m0-100h0m0 4h0m0 106h0m0-104h0m0-1h0m0-11h0m0 1h0m0 124h0m0-123h0m0 125h0m0-51h0m0-76h0m1 127h0m0-2h0m0-110h0m0 101h0m0-93h0m0 73h0m0 16h0m0-101h0m0-7h0m0 4h0m0 118h0m0-104h0m0-6h0m0 111h0m0-6h0m0-112h0m0-3h0m0 8h0m0 96h0m1-96h0m0 5h0m0-24h0m0 128h0m0-135h0m0 31h0m0-47h0m0 153h0m0-7h0m0-106h0m0 109h0m0-102h0m0-17h0m0 125h0m0 0h0m0-10h0m0-93h0m0 2h0m0 101h0m0-114h0m0 108h0m0-112h0m0 2h0m0 116h0m0-159h0m0 151h0m0 5h0m0-7h0m1 6h0m0 4h0m0 0h0m0-4h0m0-9h0m0-1h0m0 9h0m0-6h0m0 8h0m0-4h0m0 6h0m0-118h0m0 111h0m0 8h0m0-5h0m0 5h0m0 0h0m0-109h0m0 103h0m0-4h0m0-104h0m0 109h0m0 0h0m0 2h0m0-147h0m0 36h0m0 101h0m1 8h0m0-141h0m0 140h0m0 2h0m0-9h0m0-106h0m0 118h0m0-4h0m0 4h0m0-113h0m0-5h0m0 2h0m0 2h0m0 108h0m0-12h0m0-103h0m1 116h0m0-127h0m0 126h0m0-117h0m0 117h0m0-99h0m0 101h0m0-109h0m0 114h0m0-112h0m0 95h0m0-86h0m0 103h0m0-10h0m0-118h0m0 122h0m0-3h0m0-108h0m0-15h0m0 20h0m0-30h0m0 23h0m0-1h0m0-3h0m0 121h0m0 2h0m0-124h0m0 119h0m0-120h0m1 117h0m0-109h0m0 117h0m0-1h0m0-13h0m0-92h0m0 103h0m0-119h0m0 1h0m0 116h0m0 3h0m0-6h0m0-40h0m0-74h0m0 0h0m0 118h0m0-3h0m0-122h0m0 16h0m0 13h0m0-63h0m0 48h0m0-9h0m0-1h0m0 6h0m0 111h0m0-1h0m0 3h0m0-1h0m0 7h0m1-42h0m0 29h0m0-105h0m0 110h0m0-110h0m0-2h0m0 120h0m0-15h0m0 15h0m0-162h0m0 161h0m0-4h0m0 3h0m0-9h0m0 9h0m0-1h0m0-125h0m0 121h0m0-102h0m0 102h0m0 0h0m0-32h0m0-78h0m0-4h0m0 9h0m0-7h0m0 79h0m1-85h0m0 5h0m0 103h0m0-21h0m0 33h0m0-106h0m0 9h0m0 72h0m0 25h0m0-113h0m0-7h0m0 4h0m0 67h0m0 35h0m0-2h0m0-106h0m0 115h0m0 7h0m0-111h0m0 10h0m0 94h0m0-103h0m0-3h0m0 2h0m0 115h0m0-30h0m0 31h0m1-125h0m0 6h0m0 109h0m0-97h0m0-9h0m0 111h0m0 4h0m0-110h0m0 108h0m0-126h0m0 121h0m0-8h0m0-105h0m0 12h0m0 108h0m0-14h0m0-100h0m0 108h0m0-6h0m0-7h0m0-89h0m0-15h0m0 23h0m1 65h0m0-99h0m0 130h0m0-3h0m0-111h0m0-13h0m0 24h0m0-7h0m0 3h0m0-10h0m0 18h0m0 104h0m0-26h0m0 15h0m0-102h0m0-7h0m0 110h0m0-115h0m0 98h0m0-83h0m0 106h0m0-3h0m0-123h0m0 24h0m0-15h0m0 115h0m0-2h0m1 4h0m0-104h0m0 6h0m0 97h0m0-4h0m0 9h0m0-109h0m0 98h0m0-104h0m0-7h0m0 82h0m0-69h0m0 105h0m0-122h0m0 7h0m0-5h0m0 15h0m0-22h0m0 121h0m1-11h0m0-98h0m0 116h0m0-104h0m0 101h0m0-101h0m0-23h0m0 113h0m0-116h0m0-5h0m0 14h0m0 115h0m0-4h0m0-120h0m0 127h0m0-4h0m0 7h0m0-119h0m0 118h0m0-118h0m1-9h0m0 84h0m0-64h0m0 96h0m0-86h0m0 86h0m0 10h0m0-117h0m0 4h0m0 118h0m0-124h0m0-3h0m0 8h0m0 117h0m1-106h0m0-14h0m0 1h0m0 2h0m0 111h0m0-113h0m0 2h0m0 5h0m0 103h0m0-129h0m0 27h0m0 104h0m0-119h0m0 121h0m0-150h0m0 127h0m0 21h0m0 2h0m0-105h0m0-31h0m0 11h0m0 114h0m0-99h0m1 112h0m0-49h0m0 50h0m0-123h0m0 126h0m0-119h0m0 114h0m0-8h0m0-113h0m0 108h0m0-116h0m0 11h0m0 119h0m0-104h0m0-11h0m0-14h0m0-1h0m0 10h0m0 11h0m1-11h0m0-27h0m0 28h0m0 7h0m0 106h0m0-2h0m0 12h0m0-1h0m0-11h0m0-116h0m0 127h0m0-13h0m0 11h0m0 2h0m1-10h0m0 2h0m0 4h0m0-112h0m0 1h0m0 5h0m0-10h0m0 8h0m0-18h0m0 131h0m0 0h0m0-8h0m0-112h0m0 4h0m0 107h0m0-2h0m0-106h0m1 6h0m0-27h0m0 16h0m0 120h0m0-123h0m0 113h0m0 11h0m0-4h0m0-130h0m0 14h0m0 2h0m0 110h0m0 5h0m0 1h0m0-132h0m1 123h0m0-115h0m0-32h0m0 141h0m0 3h0m0-95h0m0 110h0m0-126h0m0 121h0m0-113h0m0 112h0m0-11h0m0 17h0m0-119h0m0-2h0m1-29h0m0 151h0m0-3h0m0-2h0m0-120h0m0 103h0m0-97h0m0-6h0m0 13h0m1-10h0m0 117h0m0-18h0m0-112h0m0 121h0m0-94h0m0 86h0m1-1h0m0-100h0m0 102h0m0-114h0m0 18h0m0-31h0m0 28h0m0 7h0m0-5h0m0 108h0m0-124h0m0-30h0m0 156h0m0-5h0m0-108h0m0-26h0m0 116h0m1-102h0m0 10h0m0 102h0m0-111h0m0 13h0m0-5h0m0 15h0m0 102h0m0-119h0m0 82h0m0-86h0m0 119h0m1-112h0m0 20h0m0 90h0m0 9h0m1-38h0m0-63h0m0-15h0m0 117h0m0-33h0m0 22h0m0-107h0m0 112h0m0-91h0m1-33h0m0 9h0m0 115h0m0-120h0m0 20h0m0-14h0m0 121h0m0-8h0m1-106h0m0-10h0m0 109h0m0 16h0m0-1h0m1-7h0m0-114h0m0 0h0m0 113h0m0 2h0m1 1h0m0-36h0m0-72h0m1-12h0m0-15h0m0 142h0m0-110h0m1 106h0m0-17h0m0-92h0m1-6h0m0 111h0m2-117h0m0 112h0m0 7h0m1-127h0m2 132h0m0-115h0m1-12h0m0 108h0m3-108h0m2 119h0m3-140h0m0 143h0m1-117h0m3 108h0m2-119h0m47 26h0m0 6h0m0 0h0m1 87h0m0 4h0m0 6h0m0-1h0m1-4h0m0-102h0m1-16h0m0 9h0m0-6h0m1 119h0m0-10h0m0 6h0m0 5h0m0-114h0m0 17h0m1 88h0m0-3h0m0 4h0m0-92h0m0-6h0m0-12h0m0 18h0m1 102h0m0-99h0m0 0h0m0 90h0m0 6h0m0-97h0m0 96h0m0-103h0m1 1h0m0 97h0m0-9h0m0-87h0m0 49h0m0 44h0m0-89h0m0 2h0m0-35h0m1 31h0m0 1h0m0 93h0m1-92h0m0-22h0m0 4h0m0 107h0m0-102h0m1 108h0m0 1h0m0 1h0m0-4h0m0-3h0m0-4h0m0-96h0m0 95h0m0-97h0m0-38h0m0 142h0m1-111h0m0 8h0m0 98h0m0-93h0m0 6h0m0 87h0m0-104h0m0 109h0m0-10h0m0 6h0m1-95h0m0 9h0m0-2h0m0 92h0m0-102h0m0 96h0m0 6h0m0-110h0m0 107h0m0-101h0m1 98h0m0 10h0m0-108h0m0-11h0m0 22h0m0 91h0m0 0h0m1-112h0m0 109h0m0-93h0m0 102h0m0-98h0m0 0h0m0 90h0m0 9h0m0-1h0m0-6h0m0-107h0m0 19h0m0-35h0m0 29h0m0 78h0m0-1h0m0-71h0m0 86h0m0-4h0m0-90h0m0 101h0m1-2h0m0 8h0m0-1h0m0-43h0m0-83h0m0 18h0m0-10h0m0 4h0m0 108h0m0-142h0m0 22h0m0 96h0m0-28h0m0-40h0m0 93h0m1-6h0m0-90h0m0-8h0m0-4h0m0-4h0m0 13h0m0 84h0m0-137h0m0 51h0m0-3h0m0-1h0m0 100h0m0-94h0m0-1h0m0 106h0m0-107h0m1-27h0m0 121h0m0-142h0m0 141h0m0-139h0m0 36h0m0 108h0m0-3h0m0-1h0m0 0h0m0-6h0m0 6h0m0-20h0m0-68h0m0-21h0m0 9h0m0 11h0m0-2h0m1-3h0m0 0h0m0 2h0m0-14h0m0 12h0m0 8h0m0 91h0m0-91h0m0-27h0m0 116h0m0 5h0m0-5h0m0 9h0m0-44h0m0-64h0m0 101h0m0-112h0m0 2h0m0 6h0m0-8h0m0 108h0m0-89h0m0-3h0m0 102h0m1-5h0m0-113h0m0 13h0m0 92h0m0-94h0m0 1h0m0-9h0m0-25h0m0 33h0m0 2h0m0 103h0m0-119h0m0 17h0m0 98h0m0 8h0m0-104h0m0-50h0m1 36h0m0 109h0m0-103h0m0-9h0m0 103h0m0 16h0m0-15h0m0-87h0m0 81h0m0-92h0m0 1h0m0 109h0m0-13h0m0 8h0m1-103h0m0 4h0m0 103h0m0-109h0m0 8h0m0-9h0m0 4h0m0 100h0m0-44h0m0 19h0m0-85h0m0 112h0m0-3h0m0-113h0m0 15h0m0 73h0m0 29h0m0 2h0m0-148h0m0 49h0m0 90h0m0-88h0m0 45h0m0 49h0m0-100h0m0 9h0m0-14h0m1 110h0m0-118h0m0 99h0m0-89h0m0 13h0m0-18h0m0 112h0m0-123h0m0 21h0m0 98h0m0 8h0m0-128h0m0 122h0m0-103h0m0 1h0m0 6h0m0 102h0m0-103h0m0-29h0m0 30h0m1 49h0m0 48h0m0 0h0m0-11h0m0-87h0m0 96h0m0-2h0m0-88h0m0 95h0m0 2h0m0-28h0m0 21h0m0-14h0m0 17h0m0-24h0m0 19h0m0 5h0m0-3h0m0-2h0m0-2h0m0-5h0m0-7h0m0-10h0m0-71h0m0-26h0m0 126h0m0-6h0m0-2h0m0-93h0m0 83h0m0-77h0m0 90h0m0 3h0m1-9h0m0 2h0m0-9h0m0-102h0m0 24h0m0 99h0m0-13h0m0-107h0m0 18h0m0 90h0m0-106h0m0 75h0m0 41h0m0-19h0m0-117h0m0 139h0m0-106h0m0 106h0m0-97h0m0-3h0m0-14h0m0-28h0m0 131h0m0 1h0m0-108h0m0 103h0m0 12h0m1-6h0m0-92h0m0 94h0m0 1h0m0-37h0m0-54h0m0 95h0m0-118h0m0 112h0m0 4h0m0 2h0m0-24h0m0 17h0m0 7h0m0-10h0m0 9h0m0-102h0m0-7h0m0 11h0m0-5h0m0-46h0m0 33h0m0 101h0m0-88h0m0 100h0m0-92h0m0 83h0m0-99h0m0 100h0m0-86h0m0 81h0m0-84h0m1-27h0m0 126h0m0-96h0m0 58h0m0-60h0m0 96h0m0-8h0m0 3h0m0-96h0m0 101h0m0-3h0m0 6h0m0-109h0m0 10h0m0 4h0m0 94h0m0-5h0m0-94h0m0 89h0m0-92h0m0 106h0m0-14h0m0 8h0m1-15h0m0 18h0m0-126h0m0 32h0m0 83h0m0-20h0m0-80h0m0 79h0m0 28h0m0-6h0m0 13h0m0-21h0m0-126h0m0 137h0m0-3h0m0-123h0m0 128h0m0-4h0m0-97h0m0 93h0m0 8h0m0-1h0m0-90h0m0-5h0m0-7h0m0-4h0m1 114h0m0-120h0m0 91h0m0-86h0m0 83h0m0 29h0m0 6h0m0-114h0m0 90h0m0-91h0m0-16h0m0 3h0m0 19h0m0 91h0m0 9h0m0-5h0m0 1h0m0-92h0m0 50h0m0 38h0m0 5h0m1-107h0m0 8h0m0 57h0m0-64h0m0 12h0m0-36h0m0 136h0m0-12h0m0-91h0m0 6h0m0 91h0m0 2h0m0-137h0m0 34h0m0-5h0m0 17h0m1-43h0m0 43h0m0 93h0m0 1h0m0-17h0m0-35h0m0 47h0m0-100h0m0 6h0m0-8h0m0 98h0m0-83h0m0-50h0m0-3h0m0 129h0m0-17h0m0 32h0m0 2h0m0-10h0m0 10h0m0-108h0m0-5h0m0 18h0m1-19h0m0 10h0m0 97h0m0 3h0m0 1h0m0 0h0m0-91h0m0-6h0m0 3h0m0-10h0m0-24h0m0 28h0m0 10h0m0 88h0m0-111h0m0 106h0m0-1h0m0-97h0m0 109h0m0-131h0m0 123h0m1-24h0m0 11h0m0 9h0m0-12h0m0-84h0m0 97h0m0-41h0m0-71h0m0 22h0m0 87h0m0-92h0m0-15h0m0 17h0m0 7h0m0 98h0m0-2h0m0-107h0m0 102h0m0-108h0m0 9h0m0-6h0m0 92h0m0 7h0m0 14h0m0-115h0m0 16h0m0 95h0m0-92h0m1 86h0m0-16h0m0-87h0m0 9h0m0 4h0m0 1h0m0-4h0m0-21h0m0 23h0m0 81h0m0-5h0m0-81h0m0 101h0m0-5h0m0-3h0m0-39h0m0 4h0m0 43h0m0-91h0m0 55h0m0 36h0m0-42h0m0-63h0m0-20h0m1 30h0m0 90h0m0-14h0m0-29h0m0-90h0m0 22h0m0 116h0m0 5h0m0-108h0m0 7h0m0-49h0m0 107h0m0-53h0m0 90h0m0 7h0m0-5h0m0-118h0m0 109h0m0-102h0m0 0h0m0-22h0m1 20h0m0 2h0m0 18h0m0-23h0m0 115h0m0-109h0m0 112h0m0-3h0m0 3h0m0-112h0m0 12h0m0 88h0m0-104h0m0 119h0m0-14h0m0-118h0m0 114h0m0-98h0m0 107h0m0-9h0m0-95h0m1-24h0m0 112h0m0-82h0m0 0h0m0-13h0m0 1h0m0 115h0m0-9h0m0 6h0m0 0h0m0-103h0m0 102h0m0-104h0m0 102h0m0-92h0m0-3h0m0 93h0m0-7h0m0 14h0m0-136h0m0 32h0m0 4h0m0 96h0m0-1h0m0-5h0m0 9h0m1-137h0m0 133h0m0-107h0m0 112h0m0-92h0m0-50h0m0 131h0m1-99h0m0 107h0m0-109h0m0 105h0m0-88h0m0 100h0m0-8h0m0-103h0m0-3h0m0-4h0m0 5h0m0 101h0m0-6h0m0-34h0m1-63h0m0 93h0m0-81h0m0 88h0m0-2h0m0-112h0m0 28h0m0-8h0m0 1h0m0 6h0m0-39h0m0 102h0m0-106h0m0 140h0m0-39h0m0-63h0m0 2h0m1 89h0m0-82h0m0-10h0m0 102h0m0-109h0m0 0h0m1 101h0m0-100h0m0 9h0m0 79h0m0-96h0m0 1h0m0 16h0m0 91h0m0-104h0m1 3h0m0 80h0m0-70h0m0 71h0m0-83h0m0 95h0m1 8h0m0-114h0m0 91h0m0-70h0m0 89h0m0-5h0m0 15h0m0-110h0m0 99h0m0-106h0m1 0h0m0 110h0m0-106h0m0 100h0m0-89h0m0 82h0m0 23h0m0-1h0m1 2h0m0-111h0m0 5h0m0 90h0m0-103h0m0 9h0m0-16h0m0 29h0m0 95h0m1-94h0m0-3h0m0-53h0m1 151h0m0-145h0m0 137h0m0 1h0m1-20h0m0-70h0m0-2h0m0 83h0m0-114h0m1 119h0m0-142h0m1 113h0m0-70h0m0-1h0m0 114h0m0-152h0m1 137h0m0-21h0m0 26h0m0-110h0m0 91h0m0 8h0m0 23h0m0-123h0m1 113h0m0-117h0m0 1h0m0 15h0m1 1h0m0 99h0m1-96h0m1 5h0m0-5h0m2 94h0m0-103h0m0 101h0m1-105h0m0 112h0m0-101h0m1 93h0m1 2h0m0-16h0m1 19h0m2-2h0m0-100h0m1 112h0m4-20h0m1-80h0m1-14h0m47 103h0m0-85h0m0 99h0m0-98h0m1-5h0m0-14h0m0 14h0m0-29h0m0 25h0m0-1h0m1 4h0m1 103h0m0-117h0m0 20h0m0-1h0m1 90h0m0 3h0m0-98h0m0 97h0m0-99h0m1 108h0m0 1h0m0-104h0m0-20h0m1 17h0m0 97h0m0 3h0m0-98h0m0 98h0m1-21h0m0 28h0m0-9h0m0-95h0m0-2h0m0 78h0m0-73h0m0-1h0m1-4h0m0 106h0m0-5h0m0-102h0m0 103h0m0-117h0m0 99h0m1 18h0m0-111h0m0 110h0m0 2h0m0-104h0m0 106h0m0 0h0m0-9h0m1-92h0m0-4h0m0-2h0m1 4h0m0 87h0m0 7h0m0 3h0m0-101h0m0 5h0m0-2h0m0 96h0m0 9h0m1-2h0m0-121h0m0 114h0m0-97h0m0-7h0m0 113h0m0-120h0m0 119h0m1-7h0m0 7h0m0-43h0m0 10h0m0 34h0m0-12h0m0-94h0m0-4h0m0-11h0m0 11h0m0 7h0m0 0h0m0-1h0m0 45h0m0-58h0m0-32h0m0 140h0m1 9h0m0-163h0m0 54h0m0 78h0m0 31h0m0-104h0m0 2h0m0-24h0m0 17h0m1 71h0m0 22h0m0-96h0m0 112h0m0-12h0m0 8h0m0 2h0m0-120h0m0-5h0m0 22h0m0 98h0m0 0h0m0-29h0m0-78h0m0 8h0m0 104h0m0-106h0m1 6h0m0 91h0m0-103h0m0 101h0m0 10h0m0 0h0m0-10h0m0 2h0m0-91h0m0-8h0m0-31h0m0 29h0m0 7h0m0 81h0m0-126h0m0 45h0m0 2h0m0 103h0m0-106h0m1-47h0m0 150h0m0 2h0m0-107h0m0 1h0m0 95h0m0 2h0m0-94h0m0-4h0m0 106h0m0-15h0m0-33h0m0 48h0m0-101h0m0 92h0m0-119h0m1 4h0m0 6h0m0 12h0m0 76h0m0 25h0m0-156h0m0 152h0m0 7h0m0-6h0m0 7h0m0-105h0m0 101h0m0-6h0m0 13h0m0-112h0m0 103h0m0 4h0m0-101h0m0-2h0m0-50h0m0 42h0m0 3h0m0 9h0m0 104h0m0-116h0m0-4h0m1-17h0m0 129h0m0-123h0m0 28h0m0 102h0m0-107h0m0-3h0m0 0h0m0 2h0m1 102h0m0-105h0m0 111h0m0-8h0m0-101h0m0 106h0m0-8h0m0-103h0m0 115h0m0-106h0m0-39h0m0 42h0m0 98h0m0-96h0m0 88h0m0-1h0m0 10h0m0-109h0m0 11h0m0 67h0m0-90h0m0 116h0m1-4h0m0-5h0m0-109h0m0 125h0m0-4h0m0-99h0m0-15h0m0 12h0m0 97h0m0-104h0m0-14h0m0 16h0m0 107h0m0-104h0m0 3h0m0 98h0m0-103h0m0-7h0m0-40h0m0 36h0m0-9h0m0 128h0m0-9h0m0-6h0m0 17h0m0-100h0m0-8h0m1 109h0m0-155h0m0 32h0m0 119h0m0-16h0m0 13h0m0-103h0m0 106h0m0-7h0m0-99h0m0 106h0m0-12h0m0-94h0m0 103h0m0-103h0m0-8h0m0 115h0m0 4h0m0-10h0m0-103h0m0-7h0m0 1h0m1 4h0m0 106h0m0 4h0m0-106h0m0 109h0m0-104h0m0 1h0m0-44h0m0 141h0m0-104h0m0 107h0m0-108h0m0 96h0m0 5h0m0-124h0m0 24h0m0 0h0m0 9h0m0-36h0m0 139h0m0-11h0m0-99h0m0 8h0m0 100h0m1-105h0m0 102h0m0-101h0m0 100h0m0-102h0m0 6h0m0-2h0m0 92h0m0-95h0m0 88h0m0 8h0m0-97h0m0 81h0m0-77h0m0-4h0m0 1h0m0 63h0m1 27h0m0-87h0m0 1h0m0 1h0m0 101h0m0-114h0m0 13h0m0 89h0m0 12h0m0-110h0m0 90h0m0-5h0m0 14h0m0 12h0m0-1h0m0-2h0m0-4h0m1-110h0m0 117h0m0-44h0m0-89h0m0-33h0m0 159h0m0-97h0m0-5h0m0-4h0m0 93h0m0 12h0m0 2h0m0-113h0m0 116h0m0-115h0m0 9h0m0 102h0m0-1h0m0-14h0m0-92h0m0 85h0m0-27h0m0-56h0m1 73h0m0 39h0m0-13h0m0-104h0m0-19h0m0 135h0m0-2h0m0-105h0m0 103h0m0-115h0m0 119h0m0-101h0m0 97h0m0-96h0m0-4h0m0-7h0m0 105h0m0 3h0m0-107h0m0 102h0m0 8h0m0 1h0m0-143h0m0 30h0m0 109h0m0-104h0m1 94h0m0 14h0m0 0h0m0-106h0m0 58h0m0-73h0m0 19h0m0 98h0m0-100h0m0 49h0m0 50h0m0-40h0m0-67h0m0 4h0m0-49h0m0 137h0m0 9h0m0-97h0m1 2h0m0-3h0m0-23h0m0 31h0m0-11h0m0 5h0m0 3h0m0 102h0m0 2h0m0-7h0m0-95h0m0-21h0m0 123h0m0-27h0m0 22h0m0 0h0m0-104h0m0 104h0m0 2h0m0-150h0m0 126h0m0-85h0m0 106h0m0-96h0m0 67h0m0 29h0m0-102h0m0-8h0m0 104h0m0-91h0m0 89h0m1-111h0m0 107h0m0-37h0m0 53h0m0-115h0m0-8h0m0 18h0m0-3h0m0 99h0m0 10h0m0 1h0m0-149h0m0 88h0m0 42h0m0 5h0m0 3h0m0 8h0m0-8h0m0-101h0m1 90h0m0-114h0m0 13h0m0-19h0m0 139h0m0-37h0m0-67h0m0-14h0m0 117h0m0 4h0m0-33h0m0-72h0m0 100h0m0-98h0m0-16h0m0 15h0m0-18h0m0 100h0m0 19h0m0-143h0m1 41h0m0 91h0m0-111h0m0 20h0m0 3h0m0 67h0m0-72h0m0 76h0m0-73h0m0 102h0m0 2h0m0-107h0m0 6h0m0-11h0m0-21h0m0 22h0m0 5h0m0-7h0m0-45h0m0 140h0m0 6h0m1-135h0m0 40h0m0-39h0m0 39h0m0-9h0m0 113h0m0-46h0m0 35h0m0-100h0m0 9h0m0 91h0m0-8h0m0 17h0m0 2h0m0-2h0m0-34h0m0-73h0m0 2h0m0-2h0m0-40h0m0 147h0m0-1h0m0-125h0m0 15h0m0 99h0m0-19h0m0 33h0m0-8h0m1-102h0m0 103h0m0 5h0m0 2h0m0-105h0m0 96h0m0-107h0m0 6h0m0 2h0m0 103h0m0-95h0m0 99h0m0-1h0m0 5h0m0-6h0m0-111h0m0 109h0m0-95h0m0-35h0m0 30h0m0-2h0m0 95h0m0-102h0m0 109h0m0-118h0m0 112h0m0 4h0m0-6h0m0 4h0m0-123h0m0 88h0m0 43h0m0 0h0m0-104h0m0 3h0m0-17h0m0 6h0m1 103h0m0-23h0m0-87h0m0 7h0m0 115h0m0-106h0m0 98h0m0 5h0m0-1h0m0-117h0m0 2h0m0 90h0m0 9h0m0-131h0m0 130h0m0-19h0m0-76h0m0-4h0m0 17h0m1 87h0m0-91h0m0 95h0m0-134h0m0 20h0m0 8h0m0 4h0m0-17h0m0 124h0m0-101h0m0 89h0m0 13h0m0-98h0m0 84h0m0 7h0m0 3h0m0-100h0m0 103h0m0-94h0m0 89h0m0 9h0m0-114h0m0 105h0m0 1h0m1-103h0m0 110h0m0-140h0m0 129h0m0-97h0m0 7h0m0 91h0m0 6h0m0-4h0m0-21h0m0-72h0m0-4h0m0 50h0m1-72h0m0 12h0m0 97h0m0-78h0m0 89h0m0-141h0m0 40h0m0 113h0m0-46h0m0-85h0m0 14h0m0 0h0m0 79h0m0-69h0m0-12h0m0 16h0m0-8h0m0-1h0m0 10h0m0 101h0m0-10h0m0-100h0m0-9h0m1 4h0m0 114h0m0-121h0m0 93h0m0-120h0m0 147h0m0-152h0m0 139h0m0-109h0m0 101h0m0 1h0m0-104h0m0 23h0m0-30h0m0 130h0m1-116h0m0 13h0m0 78h0m0 21h0m0-105h0m0-20h0m0 21h0m0 0h0m0 111h0m1-110h0m0-5h0m0-3h0m0 86h0m0 23h0m0 6h0m0-122h0m0 5h0m0 15h0m0 96h0m0-95h0m0 101h0m0-6h0m0 10h0m0-101h0m0-6h0m0-4h0m1 1h0m0 105h0m0-12h0m0-134h0m0 126h0m0 12h0m0 4h0m0-108h0m0-40h0m0 38h0m0 7h0m1 97h0m0 12h0m0-12h0m0-103h0m0 114h0m1-110h0m0 76h0m0 38h0m0-37h0m0 16h0m0 16h0m0-6h0m0 4h0m0-108h0m0 10h0m0 55h0m0-64h0m1 4h0m0 98h0m0-5h0m0-140h0m0 152h0m0-26h0m0 28h0m1-150h0m0 95h0m0 53h0m0-150h0m0 149h0m0 5h0m0-27h0m0 20h0m0-3h0m1-11h0m0-130h0m0 143h0m0-141h0m0 143h0m0-105h0m1-17h0m0-7h0m0 16h0m0 115h0m0-6h0m0-1h0m0-7h0m1 8h0m0-1h0m0-110h0m0 107h0m1-1h0m0-5h0m0 14h0m1 1h0m0-6h0m1-5h0m0 8h0m0 0h0m0-3h0m2-99h0m0-42h0m0 38h0m1-8h0m0 117h0m1-10h0m0-11h0m4-104h0m2 121h0m1-112h0m4 113h0m3-13h0m1-101h0" stroke="#55bcdc" stroke-opacity="0.85" stroke-width="2" stroke-linecap="round" fill="none"/><path d="M53 271.7L127.8 255M170 279L246.8 246.7M287.8 280.1L364.6 252.3M53 386.2L127.8 358.8M170 377.9L246.8 353.4M286.7 384.6L364.6 364.1" stroke="#46aed0" stroke-width="0.6" fill="none"/><path d="M49.4 207V289.3H130.4M49.4 270h-1.3M49.4 248.2h-1.3M49.4 226.4h-1.3M65.4 289.3v1.3M87.2 289.3v1.3M109 289.3v1.3M168.3 206.7V289H249.3M168.3 287.2h-1.3M168.3 268.7h-1.3M168.3 250.2h-1.3M168.3 231.7h-1.3M168.3 213.2h-1.3M184.3 289v1.3M206.1 289v1.3M227.9 289v1.3M285.6 206.7V289H366.6M285.6 287.2h-1.3M285.6 263.4h-1.3M285.6 239.6h-1.3M285.6 215.8h-1.3M301.6 289v1.3M323.4 289v1.3M345.2 289v1.3M49.4 309.3V390.8H130.4M49.4 389.3h-1.3M49.4 366.3h-1.3M49.4 343.3h-1.3M49.4 320.3h-1.3M65.4 390.8v1.3M87.2 390.8v1.3M109 390.8v1.3M168.5 308.9V390.8H249.5M168.5 389.5h-1.3M168.5 366.06h-1.3M168.5 342.62h-1.3M168.5 319.18h-1.3M184.5 390.8v1.3M206.3 390.8v1.3M228.1 390.8v1.3M285.6 309V390.8H366.6M285.6 389h-1.3M285.6 374.1h-1.3M285.6 359.2h-1.3M285.6 344.3h-1.3M285.6 329.4h-1.3M285.6 314.5h-1.3M301.6 390.8v1.3M323.4 390.8v1.3M345.2 390.8v1.3" stroke="#222" stroke-width="0.65" fill="none"/><g font-size="3.6" fill="#000" stroke="#000" stroke-width="0.06"><text x="47.2" y="271.2" text-anchor="end">2</text><text x="47.2" y="249.4" text-anchor="end">4</text><text x="47.2" y="227.6" text-anchor="end">6</text><text x="65.4" y="294.1" text-anchor="middle">2</text><text x="87.2" y="294.1" text-anchor="middle">4</text><text x="109" y="294.1" text-anchor="middle">6</text><text x="127.8" y="211.3" text-anchor="end">Spearman</text><text x="127.8" y="215.6" text-anchor="end"><tspan font-style="italic">R</tspan> = 0.249</text><text x="127.8" y="219.9" text-anchor="end"><tspan font-style="italic">P</tspan> &lt; 0.001</text><text transform="translate(36.1,248.15) rotate(-90)" text-anchor="middle" font-size="4.3">The expression of HAVCR2</text><text transform="translate(40.7,248.15) rotate(-90)" text-anchor="middle" font-size="4.3">Log<tspan font-size="3" dy="1">2</tspan><tspan dy="-1"> (TPM+1)</tspan></text><text x="89.8" y="300.5" text-anchor="middle" font-size="4.3">The expression of RECQL4</text><text x="89.8" y="304.8" text-anchor="middle" font-size="4.3">Log<tspan font-size="3" dy="1">2</tspan><tspan dy="-1"> (TPM+1)</tspan></text><text x="166.1" y="288.4" text-anchor="end">0</text><text x="166.1" y="269.9" text-anchor="end">1</text><text x="166.1" y="251.4" text-anchor="end">2</text><text x="166.1" y="232.9" text-anchor="end">3</text><text x="166.1" y="214.4" text-anchor="end">4</text><text x="184.3" y="293.8" text-anchor="middle">2</text><text x="206.1" y="293.8" text-anchor="middle">4</text><text x="227.9" y="293.8" text-anchor="middle">6</text><text x="246.7" y="211" text-anchor="end">Spearman</text><text x="246.7" y="215.3" text-anchor="end"><tspan font-style="italic">R</tspan> = 0.349</text><text x="246.7" y="219.6" text-anchor="end"><tspan font-style="italic">P</tspan> &lt; 0.001</text><text transform="translate(155,247.85) rotate(-90)" text-anchor="middle" font-size="4.3">The expression of CTLA4</text><text transform="translate(159.6,247.85) rotate(-90)" text-anchor="middle" font-size="4.3">Log<tspan font-size="3" dy="1">2</tspan><tspan dy="-1"> (TPM+1)</tspan></text><text x="208.7" y="300.2" text-anchor="middle" font-size="4.3">The expression of RECQL4</text><text x="208.7" y="304.5" text-anchor="middle" font-size="4.3">Log<tspan font-size="3" dy="1">2</tspan><tspan dy="-1"> (TPM+1)</tspan></text><text x="283.4" y="288.4" text-anchor="end">0</text><text x="283.4" y="264.6" text-anchor="end">2</text><text x="283.4" y="240.8" text-anchor="end">4</text><text x="283.4" y="217" text-anchor="end">6</text><text x="301.6" y="293.8" text-anchor="middle">2</text><text x="323.4" y="293.8" text-anchor="middle">4</text><text x="345.2" y="293.8" text-anchor="middle">6</text><text x="364" y="211" text-anchor="end">Spearman</text><text x="364" y="215.3" text-anchor="end"><tspan font-style="italic">R</tspan> = 0.311</text><text x="364" y="219.6" text-anchor="end"><tspan font-style="italic">P</tspan> &lt; 0.001</text><text transform="translate(272.3,247.85) rotate(-90)" text-anchor="middle" font-size="4.3">The expression of PDCD1</text><text transform="translate(276.9,247.85) rotate(-90)" text-anchor="middle" font-size="4.3">Log<tspan font-size="3" dy="1">2</tspan><tspan dy="-1"> (TPM+1)</tspan></text><text x="326" y="300.2" text-anchor="middle" font-size="4.3">The expression of RECQL4</text><text x="326" y="304.5" text-anchor="middle" font-size="4.3">Log<tspan font-size="3" dy="1">2</tspan><tspan dy="-1"> (TPM+1)</tspan></text><text x="47.2" y="390.5" text-anchor="end">0</text><text x="47.2" y="367.5" text-anchor="end">1</text><text x="47.2" y="344.5" text-anchor="end">2</text><text x="47.2" y="321.5" text-anchor="end">3</text><text x="65.4" y="395.6" text-anchor="middle">2</text><text x="87.2" y="395.6" text-anchor="middle">4</text><text x="109" y="395.6" text-anchor="middle">6</text><text x="127.8" y="313.6" text-anchor="end">Spearman</text><text x="127.8" y="317.9" text-anchor="end"><tspan font-style="italic">R</tspan> = 0.316</text><text x="127.8" y="322.2" text-anchor="end"><tspan font-style="italic">P</tspan> &lt; 0.001</text><text transform="translate(36.1,350.05) rotate(-90)" text-anchor="middle" font-size="4.3">The expression of ITPRIPL1</text><text transform="translate(40.7,350.05) rotate(-90)" text-anchor="middle" font-size="4.3">Log<tspan font-size="3" dy="1">2</tspan><tspan dy="-1"> (TPM+1)</tspan></text><text x="89.8" y="402" text-anchor="middle" font-size="4.3">The expression of RECQL4</text><text x="89.8" y="406.3" text-anchor="middle" font-size="4.3">Log<tspan font-size="3" dy="1">2</tspan><tspan dy="-1"> (TPM+1)</tspan></text><text x="166.3" y="390.7" text-anchor="end">0</text><text x="166.3" y="367.26" text-anchor="end">2</text><text x="166.3" y="343.82" text-anchor="end">4</text><text x="166.3" y="320.38" text-anchor="end">6</text><text x="184.5" y="395.6" text-anchor="middle">2</text><text x="206.3" y="395.6" text-anchor="middle">4</text><text x="228.1" y="395.6" text-anchor="middle">6</text><text x="246.9" y="313.2" text-anchor="end">Spearman</text><text x="246.9" y="317.5" text-anchor="end"><tspan font-style="italic">R</tspan> = 0.292</text><text x="246.9" y="321.8" text-anchor="end"><tspan font-style="italic">P</tspan> &lt; 0.001</text><text transform="translate(155.2,349.85) rotate(-90)" text-anchor="middle" font-size="4.3">The expression of LAG3</text><text transform="translate(159.8,349.85) rotate(-90)" text-anchor="middle" font-size="4.3">Log<tspan font-size="3" dy="1">2</tspan><tspan dy="-1"> (TPM+1)</tspan></text><text x="208.9" y="402" text-anchor="middle" font-size="4.3">The expression of RECQL4</text><text x="208.9" y="406.3" text-anchor="middle" font-size="4.3">Log<tspan font-size="3" dy="1">2</tspan><tspan dy="-1"> (TPM+1)</tspan></text><text x="283.4" y="390.2" text-anchor="end">0</text><text x="283.4" y="375.3" text-anchor="end">1</text><text x="283.4" y="360.4" text-anchor="end">2</text><text x="283.4" y="345.5" text-anchor="end">3</text><text x="283.4" y="330.6" text-anchor="end">4</text><text x="283.4" y="315.7" text-anchor="end">5</text><text x="301.6" y="395.6" text-anchor="middle">2</text><text x="323.4" y="395.6" text-anchor="middle">4</text><text x="345.2" y="395.6" text-anchor="middle">6</text><text x="364" y="313.3" text-anchor="end">Spearman</text><text x="364" y="317.6" text-anchor="end"><tspan font-style="italic">R</tspan> = 0.347</text><text x="364" y="321.9" text-anchor="end"><tspan font-style="italic">P</tspan> &lt; 0.001</text><text transform="translate(272.3,349.9) rotate(-90)" text-anchor="middle" font-size="4.3">The expression of TIGIT</text><text transform="translate(276.9,349.9) rotate(-90)" text-anchor="middle" font-size="4.3">Log<tspan font-size="3" dy="1">2</tspan><tspan dy="-1"> (TPM+1)</tspan></text><text x="326" y="402" text-anchor="middle" font-size="4.3">The expression of RECQL4</text><text x="326" y="406.3" text-anchor="middle" font-size="4.3">Log<tspan font-size="3" dy="1">2</tspan><tspan dy="-1"> (TPM+1)</tspan></text></g><path d="M461.1 219.4H644M461.1 231.6H644" stroke="#e6e6e6" stroke-width="0.5"/><rect x="461.1" y="212.3" width="182.9" height="26" fill="none" stroke="#666" stroke-width="0.5"/><path d="M461.1 219.4h-1M461.1 231.6h-1M510.8 238.3v1M594 238.3v1" stroke="#666" stroke-width="0.4"/><g font-family="Liberation Serif" font-size="3.2" fill="#111"><text x="459.6" y="220.4" text-anchor="end">True</text><text x="459.6" y="232.6" text-anchor="end">False</text><text x="510.8" y="220.4" text-anchor="middle">39</text><text x="594" y="220.4" text-anchor="middle">76</text><text x="510.8" y="232.6" text-anchor="middle">120</text><text x="594" y="232.6" text-anchor="middle">169</text><text transform="translate(451.2,225.3) rotate(-90)" text-anchor="middle">Responder</text></g><text x="459.8" y="256" font-family="Liberation Serif" font-size="5.2" fill="#222">wilcox.tests p=8.3e−06</text><rect x="459.8" y="258.4" width="163" height="133.8" fill="none" stroke="#9a9a9a" stroke-width="0.6"/><path d="M459.8 272.5h-1.1" stroke="#555" stroke-width="0.4"/><text x="457.8" y="273.6" font-family="Liberation Serif" font-size="3.6" text-anchor="end" fill="#111">2</text><path d="M459.8 301.4h-1.1" stroke="#555" stroke-width="0.4"/><text x="457.8" y="302.5" font-family="Liberation Serif" font-size="3.6" text-anchor="end" fill="#111">1</text><path d="M459.8 330.3h-1.1" stroke="#555" stroke-width="0.4"/><text x="457.8" y="331.4" font-family="Liberation Serif" font-size="3.6" text-anchor="end" fill="#111">0</text><path d="M459.8 359.2h-1.1" stroke="#555" stroke-width="0.4"/><text x="457.8" y="360.3" font-family="Liberation Serif" font-size="3.6" text-anchor="end" fill="#111">−1</text><path d="M459.8 388.1h-1.1" stroke="#555" stroke-width="0.4"/><text x="457.8" y="389.2" font-family="Liberation Serif" font-size="3.6" text-anchor="end" fill="#111">−2</text><text transform="translate(451.3,322) rotate(-90)" font-family="Liberation Serif" font-size="3.8" text-anchor="middle" fill="#111">TIDE score</text><path d="M503.8 392.2v1.1M578.3 392.2v1.1" stroke="#555" stroke-width="0.4"/><text x="503.8" y="397.6" font-family="Liberation Serif" font-size="3.8" text-anchor="middle" fill="#111">High</text><text x="578.3" y="397.6" font-family="Liberation Serif" font-size="3.8" text-anchor="middle" fill="#111">Low</text><path d="M504.4 267.7V264.1H578.7V267.7" stroke="#222" stroke-width="0.6" fill="none"/><text x="541.5" y="262.6" font-size="3.4" text-anchor="middle" fill="#333">****</text><path d="M503.8 275.4V303.6M503.8 326.5V357.3M489 275.4h29.6M489 357.3h29.6M485.1 315.5H522.5" stroke="#bc3c29" stroke-width="0.6" fill="none"/><rect x="485.1" y="303.6" width="37.4" height="22.9" fill="none" stroke="#bc3c29" stroke-width="0.6"/><path d="M578.3 270.4V309.3M578.3 339V373.4M564.2 270.4h28.2M564.2 373.4h28.2M559.6 327.4H597.3" stroke="#0072b5" stroke-width="0.6" fill="none"/><rect x="559.6" y="309.3" width="37.7" height="29.7" fill="none" stroke="#0072b5" stroke-width="0.6"/><path d="M494.68 368.68h0M502.19 375.97h0M492.61 376.69h0M508.56 295.13h0M510.38 295.73h0M493.68 329.7h0M518.08 332.3h0M495.88 335.27h0M499.82 319.9h0M514.34 297.69h0M491.23 318.04h0M494.96 327.44h0M497.32 324.18h0M500.85 336.33h0M516.28 300.25h0M501.84 296.05h0M513.95 286.71h0M517.41 326.76h0M508.64 307.36h0M511.16 319.62h0M519.52 337.31h0M498.88 318.61h0M497.13 362.98h0M517.21 290.62h0M501.81 338.57h0M493.89 353.08h0M492.66 293.39h0M501.2 308.68h0M500.02 302.43h0M498.63 320.5h0M504.28 314.66h0M517.78 296.49h0M509.21 309h0M503.79 282.34h0M487.72 327.68h0M515.65 294h0M498.28 307.27h0M505.33 295.38h0M502.91 293.61h0M506.51 300.03h0M511.16 299.48h0M515.26 310.04h0M497.93 319.95h0M514.46 330.04h0M502 307.53h0M492.04 297.55h0M487.54 307.04h0M502.32 299.2h0M487.02 310.34h0M505.49 290.65h0M520.32 286.61h0M510.51 358.79h0M500.17 327.56h0M513.94 306.22h0M509.51 312.71h0M508.76 318.99h0M518.61 305.62h0M505.16 315.22h0M494.08 275.39h0M518.55 304.2h0M493.91 290.11h0M494.09 315.11h0M494.67 305.92h0M509.54 327.32h0M495.15 309.31h0M492.76 317.76h0M488.74 297.28h0M509.92 314.36h0M488.67 314.9h0M507.89 353.12h0M497.41 311.03h0M497.91 331.3h0M488.83 304.93h0M494.07 310.32h0M498.25 307.57h0M493.79 296.05h0M504.35 300.95h0M512.2 323.19h0M513.52 335.54h0M488.45 327.57h0M510.56 311.85h0M489.84 325.86h0M493.12 304.87h0M515.8 300.11h0M515.71 328.6h0M517.15 315.7h0M495.05 303.02h0M502.84 350.14h0M501.44 340.23h0M518.52 281.39h0M511.04 325.28h0M487.73 314.94h0M518.39 310.3h0M519.56 351.65h0M495.07 325.72h0M493.09 301.77h0M496.25 318.52h0M498.98 275.39h0M503.39 317.05h0M517.51 301.4h0M499.32 344.79h0M518.76 313.46h0M507.85 294.49h0M504.25 307.64h0M518.18 324.38h0M514.46 344.6h0M502.05 329.54h0M501.94 326.08h0M504.69 341.37h0M520.55 302.21h0M499.49 350.26h0M515.96 326h0M495.17 336.12h0M514.31 329.34h0M511.15 313h0M491.82 307.27h0M507.1 315.51h0M489.7 313.26h0M506.91 332.1h0M496.21 330.16h0M498.79 328.37h0M499.98 312.23h0M511.26 283.25h0M496.51 328.17h0M509.79 319.78h0M492.23 289.73h0M495.81 346.18h0M500.14 306.42h0M511.42 309.08h0M491.95 295.15h0M499.8 327.91h0M506.54 306.86h0M504.06 304.46h0M517.47 309.08h0M508.44 303.14h0M497.17 328.54h0M512.89 325.26h0M519.51 289.87h0M508.6 313.39h0M513.69 311.36h0M493.3 314.45h0M509.95 338.8h0M496.79 303.6h0M502.92 332.23h0M500.47 351.98h0M510.36 330.19h0M518.53 349.33h0M495.51 307.01h0M509.88 359.86h0M498.61 313.59h0M519.16 307.18h0M518.51 320.1h0M520.38 301.05h0M514.99 315.07h0M489.23 332.54h0M498.38 309.39h0M495.2 315.44h0M515.94 303.5h0M503.59 330.94h0M488.61 327.19h0M502.46 304.11h0M518.68 275.39h0M490.33 330.31h0M492.24 347.59h0M489.22 303.78h0" stroke="#bc3c29" stroke-width="1.45" stroke-linecap="round"/><path d="M586.91 323.37h0M585.94 316.88h0M585.6 318.72h0M588.77 326.49h0M595.3 321.99h0M588.67 317.72h0M584.05 312.8h0M566.98 319.86h0M564.21 337.79h0M577.95 320.94h0M561.14 368.1h0M573.42 337.49h0M566.79 300.25h0M572.59 313.46h0M584.4 293.93h0M582.2 332.23h0M594.96 315.71h0M564.13 293.29h0M568.04 314.99h0M583.93 343.51h0M567.9 317.89h0M578.53 336.94h0M595.65 318.42h0M561.9 300.25h0M566.83 339.58h0M581.6 319.32h0M580.55 301.94h0M585.47 334.2h0M572.66 288.75h0M567.21 371.52h0M591.9 299.36h0M566.14 341.35h0M565.62 323.21h0M565.24 336.93h0M584.02 341.07h0M593.82 308.16h0M575.38 352.74h0M574.4 313.27h0M569.95 326.18h0M586.3 323.69h0M576.43 315.58h0M575.38 358.67h0M595.92 319.69h0M581.57 310.38h0M578.24 348.95h0M571.29 310.15h0M592.44 346.76h0M592.18 314.16h0M568.77 331.87h0M594.35 301.82h0M561.42 309.02h0M577.13 306.46h0M566.31 329.67h0M578.5 325.01h0M562.89 344.88h0M572.35 322.84h0M581.98 332.04h0M568.7 317.34h0M561.5 360.72h0M578.42 332.99h0M585.16 357.08h0M590.32 362.21h0M589.47 334.35h0M587.45 339.67h0M562.71 373.65h0M592.78 321.72h0M588.89 343.57h0M566.85 303.96h0M562.27 329.91h0M594.46 325.87h0M565.22 321.44h0M593.62 302.62h0M570.52 370.24h0M577.21 327.87h0M585.75 325.39h0M581.07 295.88h0M594.33 342.72h0M561.68 335.79h0M595.05 309.22h0M590.66 297.01h0M576.98 324.72h0M580.99 271.97h0M591.78 344.75h0M592.45 350.94h0M572.05 345.11h0M584.93 282.41h0M571.52 308.4h0M595.81 299.07h0M594.67 337.33h0M565.04 345.17h0M561.6 326.61h0M577.1 358.56h0M564.49 271.06h0M583.24 271.06h0M593.7 337.2h0M581.09 329.09h0M566.38 338.95h0M572.4 337.88h0M578.36 311.21h0M574.67 322.7h0M568.22 325.15h0M579.31 338.4h0M568.23 333.5h0M565.38 344.04h0M588.89 340.38h0M569.4 309.32h0M568.25 346.05h0M562.35 294.56h0M572.06 276.73h0M570.92 334.64h0M588.53 340.97h0M591.98 322.11h0M590.4 331.33h0M593.77 348.09h0M567.04 312.44h0M595.52 295.33h0M586.94 319.41h0M571.26 348.16h0M563.63 301.03h0M576.99 315.44h0M570.31 308.14h0M568.42 349.57h0M592.63 351.09h0M567 335.57h0M574.19 349.97h0M567.52 320.75h0M567.79 346.93h0M572.22 307.1h0M577.89 373.65h0M573.12 334.95h0M573.04 299.36h0M565.05 320.12h0M573.3 356.75h0M586.73 320.92h0M562.73 331.45h0M579.39 331.95h0M569.02 348.67h0M573.05 343.63h0M579.51 330.53h0M569 348.17h0M561.1 343.72h0M587.41 344.62h0M593.98 304.23h0M585.58 373.65h0M585.63 343.3h0M575.66 322.29h0M582.19 330.94h0M585.87 315.88h0M568.17 324.4h0M583.3 338.84h0M593.46 293.7h0M583.08 291.78h0M587.82 328.05h0M573.07 297.06h0M592.81 344.01h0M588.16 350.64h0M592.15 339.72h0M582.09 350.68h0M564.76 333.22h0M580.52 344h0M568.74 315.69h0M592.35 271.06h0M581.2 333.32h0M572.28 313.23h0M564.54 294.73h0M571.85 327.2h0M579.47 305.9h0M572.06 308.97h0M589.69 337.37h0M584.77 347.6h0M562.04 328.28h0M569.23 283.6h0M579.74 271.38h0M590.45 316.14h0M592.5 316.11h0M561.72 326.58h0M574.47 338.1h0M592.15 364.1h0M570.83 323.19h0M566.57 352.27h0M579.37 300.98h0M567.57 313h0M571.57 334.97h0M584.42 327.71h0M565.68 310.03h0M591.87 303.65h0M593.14 313.43h0M594.77 275.31h0M563.45 332.84h0M595.02 292.56h0M565.84 328.16h0M564.69 331.75h0M588.62 356.54h0M572.41 282.63h0M580.07 324.76h0M574.63 329.02h0M584.02 280.97h0M595.85 302.84h0M565.46 345.98h0M577.67 350.16h0" stroke="#0072b5" stroke-width="1.45" stroke-linecap="round"/><text x="629.9" y="319.8" font-size="3.2" fill="#333">Type</text><rect x="629.4" y="323.2" width="4.8" height="3.1" fill="none" stroke="#bc3c29" stroke-width="0.5"/><path d="M631.8 322.6v4.3M629.4 324.75h4.8" stroke="#bc3c29" stroke-width="0.4"/><rect x="629.4" y="329.6" width="4.8" height="3.1" fill="none" stroke="#0072b5" stroke-width="0.5"/><path d="M631.8 329v4.3M629.4 331.15h4.8" stroke="#0072b5" stroke-width="0.4"/><text x="635.8" y="326" font-size="3.2" fill="#333">High</text><text x="635.8" y="332.4" font-size="3.2" fill="#333">Low</text><rect x="64.6" y="465.0" width="86.4" height="160.4" fill="none" stroke="#333" stroke-width="0.8"/><path d="M100.1 465.0V625.4" stroke="#111" stroke-width="0.8"/><path d="M100.1 469.4H147.33M64.6 469.4h-1M100.1 476.03H123.39M64.6 476.03h-1M100.1 482.66H116.78M64.6 482.66h-1M100.1 489.29H108.16M64.6 489.29h-1M100.1 495.92H104.94M64.6 495.92h-1M100.1 502.55H104.45M64.6 502.55h-1M100.1 509.18H103.65M64.6 509.18h-1M100.1 515.81H100.91M64.6 515.81h-1M100.1 522.44H98M64.6 522.44h-1M100.1 529.07H95.26M64.6 529.07h-1M100.1 535.7H94.78M64.6 535.7h-1M100.1 542.33H94.05M64.6 542.33h-1M100.1 548.96H91.88M64.6 548.96h-1M100.1 555.59H91.07M64.6 555.59h-1M100.1 562.22H90.75M64.6 562.22h-1M100.1 568.85H86.96M64.6 568.85h-1M100.1 575.48H85.99M64.6 575.48h-1M100.1 582.11H81.4M64.6 582.11h-1M100.1 588.74H79.22M64.6 588.74h-1M100.1 595.37H78.5M64.6 595.37h-1M100.1 602H77.37M64.6 602h-1M100.1 608.63H71.08M64.6 608.63h-1M100.1 615.26H68.75M64.6 615.26h-1M100.1 621.89H68.75M64.6 621.89h-1" stroke="#111" stroke-width="0.9"/><circle cx="147.33" cy="469.4" r="3.73" fill="#4ebbda"/><circle cx="123.39" cy="476.03" r="2.89" fill="#4ebbda"/><circle cx="116.78" cy="482.66" r="2.58" fill="#4ebbda"/><circle cx="108.16" cy="489.29" r="2.07" fill="#5cb8d4"/><circle cx="104.94" cy="495.92" r="1.81" fill="#98acb8"/><circle cx="104.45" cy="502.55" r="1.76" fill="#a4a7b0"/><circle cx="103.65" cy="509.18" r="1.68" fill="#b29ea5"/><circle cx="100.91" cy="515.81" r="1.27" fill="#e8503c"/><circle cx="98" cy="522.44" r="1.5" fill="#cf7a75"/><circle cx="95.26" cy="529.07" r="1.81" fill="#a0aab4"/><circle cx="94.78" cy="535.7" r="1.85" fill="#95acb9"/><circle cx="94.05" cy="542.33" r="1.91" fill="#7fb1c3"/><circle cx="91.88" cy="548.96" r="2.08" fill="#5cb8d4"/><circle cx="91.07" cy="555.59" r="2.14" fill="#56b9d6"/><circle cx="90.75" cy="562.22" r="2.16" fill="#53bad7"/><circle cx="86.96" cy="568.85" r="2.39" fill="#4ebbda"/><circle cx="85.99" cy="575.48" r="2.45" fill="#4ebbda"/><circle cx="81.4" cy="582.11" r="2.68" fill="#4ebbda"/><circle cx="79.22" cy="588.74" r="2.78" fill="#4ebbda"/><circle cx="78.5" cy="595.37" r="2.82" fill="#4ebbda"/><circle cx="77.37" cy="602" r="2.86" fill="#4ebbda"/><circle cx="71.08" cy="608.63" r="3.12" fill="#4ebbda"/><circle cx="68.75" cy="615.26" r="3.21" fill="#4ebbda"/><circle cx="68.75" cy="621.89" r="3.21" fill="#4ebbda"/><g font-size="5.1" fill="#000" stroke="#000" stroke-width="0.08"><text x="62.4" y="471.2" text-anchor="end">Th2 cells</text><text x="152.4" y="471.2"><tspan font-style="italic">R</tspan> = 0.586<tspan font-size="2.4" dy="-1.8">***</tspan></text><text x="62.4" y="477.83" text-anchor="end">NK CD56bright cells</text><text x="152.4" y="477.83"><tspan font-style="italic">R</tspan> = 0.289<tspan font-size="2.4" dy="-1.8">***</tspan></text><text x="62.4" y="484.46" text-anchor="end">TFH</text><text x="152.4" y="484.46"><tspan font-style="italic">R</tspan> = 0.207<tspan font-size="2.4" dy="-1.8">***</tspan></text><text x="62.4" y="491.09" text-anchor="end">aDC</text><text x="152.4" y="491.09"><tspan font-style="italic">R</tspan> = 0.100<tspan font-size="2.4" dy="-1.8">ns</tspan></text><text x="62.4" y="497.72" text-anchor="end">T helper cells</text><text x="152.4" y="497.72"><tspan font-style="italic">R</tspan> = 0.060<tspan font-size="2.4" dy="-1.8">ns</tspan></text><text x="62.4" y="504.35" text-anchor="end">Tem</text><text x="152.4" y="504.35"><tspan font-style="italic">R</tspan> = 0.054<tspan font-size="2.4" dy="-1.8">ns</tspan></text><text x="62.4" y="510.98" text-anchor="end">T cells</text><text x="152.4" y="510.98"><tspan font-style="italic">R</tspan> = 0.044<tspan font-size="2.4" dy="-1.8">ns</tspan></text><text x="62.4" y="517.61" text-anchor="end">Macrophages</text><text x="152.4" y="517.61"><tspan font-style="italic">R</tspan> = 0.010<tspan font-size="2.4" dy="-1.8">ns</tspan></text><text x="62.4" y="524.24" text-anchor="end">Th1 cells</text><text x="152.4" y="524.24"><tspan font-style="italic">R</tspan> = −0.026<tspan font-size="2.4" dy="-1.8">ns</tspan></text><text x="62.4" y="530.87" text-anchor="end">NK CD56dim cells</text><text x="152.4" y="530.87"><tspan font-style="italic">R</tspan> = −0.060<tspan font-size="2.4" dy="-1.8">ns</tspan></text><text x="62.4" y="537.5" text-anchor="end">B cells</text><text x="152.4" y="537.5"><tspan font-style="italic">R</tspan> = −0.066<tspan font-size="2.4" dy="-1.8">ns</tspan></text><text x="62.4" y="544.13" text-anchor="end">iDC</text><text x="152.4" y="544.13"><tspan font-style="italic">R</tspan> = −0.075<tspan font-size="2.4" dy="-1.8">ns</tspan></text><text x="62.4" y="550.76" text-anchor="end">TReg</text><text x="152.4" y="550.76"><tspan font-style="italic">R</tspan> = −0.102<tspan font-size="2.4" dy="-1.8">*</tspan></text><text x="62.4" y="557.39" text-anchor="end">Tgd</text><text x="152.4" y="557.39"><tspan font-style="italic">R</tspan> = −0.112<tspan font-size="2.4" dy="-1.8">*</tspan></text><text x="62.4" y="564.02" text-anchor="end">pDC</text><text x="152.4" y="564.02"><tspan font-style="italic">R</tspan> = −0.116<tspan font-size="2.4" dy="-1.8">*</tspan></text><text x="62.4" y="570.65" text-anchor="end">Tcm</text><text x="152.4" y="570.65"><tspan font-style="italic">R</tspan> = −0.163<tspan font-size="2.4" dy="-1.8">**</tspan></text><text x="62.4" y="577.28" text-anchor="end">Cytotoxic cells</text><text x="152.4" y="577.28"><tspan font-style="italic">R</tspan> = −0.175<tspan font-size="2.4" dy="-1.8">***</tspan></text><text x="62.4" y="583.91" text-anchor="end">Mast cells</text><text x="152.4" y="583.91"><tspan font-style="italic">R</tspan> = −0.232<tspan font-size="2.4" dy="-1.8">***</tspan></text><text x="62.4" y="590.54" text-anchor="end">NK cells</text><text x="152.4" y="590.54"><tspan font-style="italic">R</tspan> = −0.259<tspan font-size="2.4" dy="-1.8">***</tspan></text><text x="62.4" y="597.17" text-anchor="end">CD8 T cells</text><text x="152.4" y="597.17"><tspan font-style="italic">R</tspan> = −0.268<tspan font-size="2.4" dy="-1.8">***</tspan></text><text x="62.4" y="603.8" text-anchor="end">DC</text><text x="152.4" y="603.8"><tspan font-style="italic">R</tspan> = −0.282<tspan font-size="2.4" dy="-1.8">***</tspan></text><text x="62.4" y="610.43" text-anchor="end">Eosinophils</text><text x="152.4" y="610.43"><tspan font-style="italic">R</tspan> = −0.360<tspan font-size="2.4" dy="-1.8">***</tspan></text><text x="62.4" y="617.06" text-anchor="end">Neutrophils</text><text x="152.4" y="617.06"><tspan font-style="italic">R</tspan> = −0.389<tspan font-size="2.4" dy="-1.8">***</tspan></text><text x="62.4" y="623.69" text-anchor="end">Th17 cells</text><text x="152.4" y="623.69"><tspan font-style="italic">R</tspan> = −0.389<tspan font-size="2.4" dy="-1.8">***</tspan></text></g><path d="M67.86 625.4v1.2" stroke="#333" stroke-width="0.5"/><path d="M83.98 625.4v1.2" stroke="#333" stroke-width="0.5"/><path d="M100.1 625.4v1.2" stroke="#333" stroke-width="0.5"/><path d="M116.22 625.4v1.2" stroke="#333" stroke-width="0.5"/><path d="M132.34 625.4v1.2" stroke="#333" stroke-width="0.5"/><path d="M148.46 625.4v1.2" stroke="#333" stroke-width="0.5"/><g font-size="5.3" fill="#111"><text x="67.86" y="634.9" text-anchor="middle">-0.4</text><text x="83.98" y="634.9" text-anchor="middle">-0.2</text><text x="100.1" y="634.9" text-anchor="middle">0.0</text><text x="116.22" y="634.9" text-anchor="middle">0.2</text><text x="132.34" y="634.9" text-anchor="middle">0.4</text><text x="148.46" y="634.9" text-anchor="middle">0.6</text></g><text x="107.7" y="643.2" font-size="6.1" text-anchor="middle" fill="#111">Correlation</text><text x="107.7" y="462.4" font-size="5.9" text-anchor="middle" fill="#111">RECQL4</text><defs><linearGradient id="ge" x1="0" y1="0" x2="0" y2="1"><stop offset="0" stop-color="#e64b35"/><stop offset="0.5" stop-color="#a5a5aa"/><stop offset="1" stop-color="#4ebbda"/></linearGradient></defs><text x="184.6" y="506.6" font-size="5" fill="#111">P value</text><rect x="184.9" y="508.8" width="5.9" height="34" fill="url(#ge)"/><text x="193.7" y="512.6" font-size="5.1" fill="#111">0.8</text><text x="193.7" y="520.9" font-size="5.1" fill="#111">0.6</text><text x="193.7" y="528.8" font-size="5.1" fill="#111">0.4</text><text x="193.7" y="536.7" font-size="5.1" fill="#111">0.2</text><text x="193.7" y="544.9" font-size="5.1" fill="#111">0.0</text><text x="184.6" y="552.6" font-size="5" fill="#111">|Cor|</text><circle cx="187.8" cy="557.6" r="1.3" fill="#d0d0d0" stroke="#222" stroke-width="0.6"/><text x="194.2" y="559.4" font-size="5.1" fill="#111">0.1</text><circle cx="187.8" cy="564.5" r="1.6" fill="#d0d0d0" stroke="#222" stroke-width="0.6"/><text x="194.2" y="566.3" font-size="5.1" fill="#111">0.2</text><circle cx="187.8" cy="571.4" r="1.9" fill="#d0d0d0" stroke="#222" stroke-width="0.6"/><text x="194.2" y="573.2" font-size="5.1" fill="#111">0.3</text><circle cx="187.8" cy="578.3" r="2.2" fill="#d0d0d0" stroke="#222" stroke-width="0.6"/><text x="194.2" y="580.1" font-size="5.1" fill="#111">0.4</text><circle cx="187.8" cy="585.1" r="2.5" fill="#d0d0d0" stroke="#222" stroke-width="0.6"/><text x="194.2" y="586.9" font-size="5.1" fill="#111">0.5</text><rect x="238" y="471.8" width="169.72" height="130.32" fill="#c4cdf0"/><g transform="translate(238.0,471.8) scale(5.475,5.43)"><path fill="#c8d0f8" d="M0 0h1v1h-1zM15 6h1v1h-1zM30 8h1v1h-1zM23 12h1v1h-1zM10 14h1v1h-1zM7 18h1v1h-1z"/><path fill="#a0b0f0" d="M1 0h1v1h-1zM2 0h1v1h-1zM3 0h1v1h-1zM4 0h1v1h-1zM5 0h1v1h-1zM7 0h1v1h-1zM9 0h1v1h-1zM11 0h1v1h-1zM12 0h1v1h-1zM14 0h1v1h-1zM17 0h1v1h-1zM18 0h1v1h-1zM19 0h1v1h-1zM21 0h1v1h-1zM22 0h1v1h-1zM23 0h1v1h-1zM24 0h1v1h-1zM25 0h1v1h-1zM29 0h1v1h-1zM30 0h1v1h-1zM0 1h1v1h-1zM1 1h1v1h-1zM2 1h1v1h-1zM3 1h1v1h-1zM4 1h1v1h-1zM5 1h1v1h-1zM6 1h1v1h-1zM7 1h1v1h-1zM8 1h1v1h-1zM9 1h1v1h-1zM11 1h1v1h-1zM12 1h1v1h-1zM13 1h1v1h-1zM14 1h1v1h-1zM18 1h1v1h-1zM19 1h1v1h-1zM21 1h1v1h-1zM23 1h1v1h-1zM24 1h1v1h-1zM25 1h1v1h-1zM27 1h1v1h-1zM0 2h1v1h-1zM1 2h1v1h-1zM3 2h1v1h-1zM4 2h1v1h-1zM5 2h1v1h-1zM6 2h1v1h-1zM7 2h1v1h-1zM8 2h1v1h-1zM10 2h1v1h-1zM11 2h1v1h-1zM12 2h1v1h-1zM13 2h1v1h-1zM14 2h1v1h-1zM15 2h1v1h-1zM19 2h1v1h-1zM21 2h1v1h-1zM24 2h1v1h-1zM25 2h1v1h-1zM26 2h1v1h-1zM27 2h1v1h-1zM28 2h1v1h-1zM29 2h1v1h-1zM0 3h1v1h-1zM1 3h1v1h-1zM2 3h1v1h-1zM3 3h1v1h-1zM4 3h1v1h-1zM5 3h1v1h-1zM7 3h1v1h-1zM9 3h1v1h-1zM10 3h1v1h-1zM11 3h1v1h-1zM12 3h1v1h-1zM13 3h1v1h-1zM14 3h1v1h-1zM17 3h1v1h-1zM18 3h1v1h-1zM19 3h1v1h-1zM20 3h1v1h-1zM23 3h1v1h-1zM24 3h1v1h-1zM26 3h1v1h-1zM27 3h1v1h-1zM28 3h1v1h-1zM29 3h1v1h-1zM0 4h1v1h-1zM1 4h1v1h-1zM2 4h1v1h-1zM3 4h1v1h-1zM4 4h1v1h-1zM5 4h1v1h-1zM6 4h1v1h-1zM7 4h1v1h-1zM8 4h1v1h-1zM9 4h1v1h-1zM12 4h1v1h-1zM13 4h1v1h-1zM14 4h1v1h-1zM15 4h1v1h-1zM16 4h1v1h-1zM17 4h1v1h-1zM20 4h1v1h-1zM21 4h1v1h-1zM23 4h1v1h-1zM25 4h1v1h-1zM27 4h1v1h-1zM28 4h1v1h-1zM29 4h1v1h-1zM1 5h1v1h-1zM2 5h1v1h-1zM3 5h1v1h-1zM5 5h1v1h-1zM7 5h1v1h-1zM8 5h1v1h-1zM11 5h1v1h-1zM12 5h1v1h-1zM14 5h1v1h-1zM15 5h1v1h-1zM17 5h1v1h-1zM18 5h1v1h-1zM20 5h1v1h-1zM23 5h1v1h-1zM24 5h1v1h-1zM25 5h1v1h-1zM26 5h1v1h-1zM27 5h1v1h-1zM28 5h1v1h-1zM30 5h1v1h-1zM0 6h1v1h-1zM1 6h1v1h-1zM3 6h1v1h-1zM4 6h1v1h-1zM5 6h1v1h-1zM6 6h1v1h-1zM7 6h1v1h-1zM8 6h1v1h-1zM11 6h1v1h-1zM13 6h1v1h-1zM17 6h1v1h-1zM18 6h1v1h-1zM19 6h1v1h-1zM20 6h1v1h-1zM21 6h1v1h-1zM22 6h1v1h-1zM23 6h1v1h-1zM25 6h1v1h-1zM26 6h1v1h-1zM27 6h1v1h-1zM28 6h1v1h-1zM0 7h1v1h-1zM1 7h1v1h-1zM2 7h1v1h-1zM3 7h1v1h-1zM4 7h1v1h-1zM5 7h1v1h-1zM6 7h1v1h-1zM7 7h1v1h-1zM8 7h1v1h-1zM9 7h1v1h-1zM15 7h1v1h-1zM17 7h1v1h-1zM18 7h1v1h-1zM19 7h1v1h-1zM21 7h1v1h-1zM23 7h1v1h-1zM24 7h1v1h-1zM25 7h1v1h-1zM29 7h1v1h-1zM1 8h1v1h-1zM2 8h1v1h-1zM3 8h1v1h-1zM5 8h1v1h-1zM6 8h1v1h-1zM7 8h1v1h-1zM8 8h1v1h-1zM11 8h1v1h-1zM12 8h1v1h-1zM13 8h1v1h-1zM16 8h1v1h-1zM20 8h1v1h-1zM22 8h1v1h-1zM24 8h1v1h-1zM27 8h1v1h-1zM28 8h1v1h-1zM0 9h1v1h-1zM1 9h1v1h-1zM2 9h1v1h-1zM3 9h1v1h-1zM4 9h1v1h-1zM5 9h1v1h-1zM7 9h1v1h-1zM9 9h1v1h-1zM10 9h1v1h-1zM13 9h1v1h-1zM14 9h1v1h-1zM15 9h1v1h-1zM16 9h1v1h-1zM17 9h1v1h-1zM18 9h1v1h-1zM19 9h1v1h-1zM21 9h1v1h-1zM22 9h1v1h-1zM23 9h1v1h-1zM25 9h1v1h-1zM26 9h1v1h-1zM27 9h1v1h-1zM28 9h1v1h-1zM30 9h1v1h-1zM1 10h1v1h-1zM5 10h1v1h-1zM7 10h1v1h-1zM8 10h1v1h-1zM11 10h1v1h-1zM14 10h1v1h-1zM15 10h1v1h-1zM17 10h1v1h-1zM18 10h1v1h-1zM19 10h1v1h-1zM21 10h1v1h-1zM22 10h1v1h-1zM24 10h1v1h-1zM25 10h1v1h-1zM27 10h1v1h-1zM0 11h1v1h-1zM1 11h1v1h-1zM2 11h1v1h-1zM3 11h1v1h-1zM4 11h1v1h-1zM5 11h1v1h-1zM6 11h1v1h-1zM7 11h1v1h-1zM8 11h1v1h-1zM9 11h1v1h-1zM10 11h1v1h-1zM11 11h1v1h-1zM13 11h1v1h-1zM14 11h1v1h-1zM15 11h1v1h-1zM16 11h1v1h-1zM17 11h1v1h-1zM18 11h1v1h-1zM19 11h1v1h-1zM20 11h1v1h-1zM21 11h1v1h-1zM22 11h1v1h-1zM23 11h1v1h-1zM24 11h1v1h-1zM26 11h1v1h-1zM27 11h1v1h-1zM28 11h1v1h-1zM29 11h1v1h-1zM30 11h1v1h-1zM3 12h1v1h-1zM4 12h1v1h-1zM5 12h1v1h-1zM6 12h1v1h-1zM7 12h1v1h-1zM9 12h1v1h-1zM10 12h1v1h-1zM11 12h1v1h-1zM14 12h1v1h-1zM15 12h1v1h-1zM16 12h1v1h-1zM18 12h1v1h-1zM19 12h1v1h-1zM20 12h1v1h-1zM22 12h1v1h-1zM26 12h1v1h-1zM27 12h1v1h-1zM28 12h1v1h-1zM0 13h1v1h-1zM1 13h1v1h-1zM2 13h1v1h-1zM3 13h1v1h-1zM4 13h1v1h-1zM5 13h1v1h-1zM6 13h1v1h-1zM7 13h1v1h-1zM9 13h1v1h-1zM10 13h1v1h-1zM12 13h1v1h-1zM13 13h1v1h-1zM14 13h1v1h-1zM15 13h1v1h-1zM18 13h1v1h-1zM19 13h1v1h-1zM21 13h1v1h-1zM22 13h1v1h-1zM23 13h1v1h-1zM24 13h1v1h-1zM25 13h1v1h-1zM26 13h1v1h-1zM27 13h1v1h-1zM28 13h1v1h-1zM29 13h1v1h-1zM30 13h1v1h-1zM0 14h1v1h-1zM1 14h1v1h-1zM2 14h1v1h-1zM3 14h1v1h-1zM4 14h1v1h-1zM5 14h1v1h-1zM8 14h1v1h-1zM9 14h1v1h-1zM11 14h1v1h-1zM13 14h1v1h-1zM15 14h1v1h-1zM18 14h1v1h-1zM19 14h1v1h-1zM20 14h1v1h-1zM22 14h1v1h-1zM25 14h1v1h-1zM26 14h1v1h-1zM27 14h1v1h-1zM28 14h1v1h-1zM29 14h1v1h-1zM2 15h1v1h-1zM3 15h1v1h-1zM6 15h1v1h-1zM7 15h1v1h-1zM12 15h1v1h-1zM15 15h1v1h-1zM16 15h1v1h-1zM19 15h1v1h-1zM20 15h1v1h-1zM21 15h1v1h-1zM26 15h1v1h-1zM27 15h1v1h-1zM28 15h1v1h-1zM0 16h1v1h-1zM1 16h1v1h-1zM3 16h1v1h-1zM4 16h1v1h-1zM5 16h1v1h-1zM7 16h1v1h-1zM8 16h1v1h-1zM9 16h1v1h-1zM10 16h1v1h-1zM11 16h1v1h-1zM12 16h1v1h-1zM13 16h1v1h-1zM14 16h1v1h-1zM15 16h1v1h-1zM17 16h1v1h-1zM18 16h1v1h-1zM19 16h1v1h-1zM20 16h1v1h-1zM21 16h1v1h-1zM22 16h1v1h-1zM23 16h1v1h-1zM24 16h1v1h-1zM25 16h1v1h-1zM26 16h1v1h-1zM27 16h1v1h-1zM28 16h1v1h-1zM29 16h1v1h-1zM30 16h1v1h-1zM0 17h1v1h-1zM2 17h1v1h-1zM3 17h1v1h-1zM4 17h1v1h-1zM5 17h1v1h-1zM6 17h1v1h-1zM10 17h1v1h-1zM14 17h1v1h-1zM16 17h1v1h-1zM17 17h1v1h-1zM18 17h1v1h-1zM19 17h1v1h-1zM20 17h1v1h-1zM23 17h1v1h-1zM27 17h1v1h-1zM28 17h1v1h-1zM0 18h1v1h-1zM1 18h1v1h-1zM2 18h1v1h-1zM3 18h1v1h-1zM4 18h1v1h-1zM6 18h1v1h-1zM8 18h1v1h-1zM9 18h1v1h-1zM10 18h1v1h-1zM11 18h1v1h-1zM14 18h1v1h-1zM15 18h1v1h-1zM16 18h1v1h-1zM17 18h1v1h-1zM18 18h1v1h-1zM19 18h1v1h-1zM21 18h1v1h-1zM23 18h1v1h-1zM24 18h1v1h-1zM25 18h1v1h-1zM26 18h1v1h-1zM0 19h1v1h-1zM2 19h1v1h-1zM3 19h1v1h-1zM5 19h1v1h-1zM7 19h1v1h-1zM9 19h1v1h-1zM10 19h1v1h-1zM11 19h1v1h-1zM12 19h1v1h-1zM13 19h1v1h-1zM15 19h1v1h-1zM20 19h1v1h-1zM23 19h1v1h-1zM25 19h1v1h-1zM28 19h1v1h-1zM29 19h1v1h-1zM0 20h1v1h-1zM1 20h1v1h-1zM2 20h1v1h-1zM3 20h1v1h-1zM5 20h1v1h-1zM6 20h1v1h-1zM7 20h1v1h-1zM8 20h1v1h-1zM10 20h1v1h-1zM12 20h1v1h-1zM13 20h1v1h-1zM14 20h1v1h-1zM15 20h1v1h-1zM16 20h1v1h-1zM17 20h1v1h-1zM18 20h1v1h-1zM19 20h1v1h-1zM20 20h1v1h-1zM21 20h1v1h-1zM25 20h1v1h-1zM26 20h1v1h-1zM27 20h1v1h-1zM28 20h1v1h-1zM0 21h1v1h-1zM1 21h1v1h-1zM2 21h1v1h-1zM4 21h1v1h-1zM5 21h1v1h-1zM6 21h1v1h-1zM7 21h1v1h-1zM8 21h1v1h-1zM9 21h1v1h-1zM10 21h1v1h-1zM11 21h1v1h-1zM13 21h1v1h-1zM14 21h1v1h-1zM15 21h1v1h-1zM17 21h1v1h-1zM18 21h1v1h-1zM19 21h1v1h-1zM20 21h1v1h-1zM22 21h1v1h-1zM23 21h1v1h-1zM24 21h1v1h-1zM26 21h1v1h-1zM29 21h1v1h-1zM3 22h1v1h-1zM4 22h1v1h-1zM5 22h1v1h-1zM7 22h1v1h-1zM8 22h1v1h-1zM9 22h1v1h-1zM10 22h1v1h-1zM11 22h1v1h-1zM12 22h1v1h-1zM13 22h1v1h-1zM14 22h1v1h-1zM15 22h1v1h-1zM16 22h1v1h-1zM17 22h1v1h-1zM18 22h1v1h-1zM20 22h1v1h-1zM21 22h1v1h-1zM23 22h1v1h-1zM25 22h1v1h-1zM26 22h1v1h-1zM28 22h1v1h-1zM29 22h1v1h-1zM30 22h1v1h-1zM4 23h1v1h-1zM6 23h1v1h-1zM7 23h1v1h-1zM10 23h1v1h-1zM14 23h1v1h-1zM17 23h1v1h-1zM18 23h1v1h-1zM19 23h1v1h-1zM21 23h1v1h-1zM24 23h1v1h-1zM25 23h1v1h-1zM27 23h1v1h-1zM28 23h1v1h-1zM30 23h1v1h-1z"/><path fill="#e8f0f8" d="M6 0h1v1h-1zM6 5h1v1h-1zM30 6h1v1h-1zM13 12h1v1h-1zM14 14h1v1h-1zM27 19h1v1h-1zM30 19h1v1h-1z"/><path fill="#e0e0f8" d="M8 0h1v1h-1zM19 5h1v1h-1zM12 10h1v1h-1zM20 10h1v1h-1zM8 12h1v1h-1zM30 18h1v1h-1zM24 22h1v1h-1z"/><path fill="#a8b8f0" d="M10 0h1v1h-1zM9 2h1v1h-1zM20 2h1v1h-1zM8 3h1v1h-1zM15 3h1v1h-1zM25 3h1v1h-1zM29 5h1v1h-1zM10 6h1v1h-1zM12 6h1v1h-1zM12 7h1v1h-1zM20 7h1v1h-1zM27 7h1v1h-1zM28 7h1v1h-1zM14 8h1v1h-1zM29 8h1v1h-1zM29 10h1v1h-1zM17 12h1v1h-1zM21 12h1v1h-1zM7 14h1v1h-1zM30 14h1v1h-1zM5 15h1v1h-1zM13 15h1v1h-1zM14 15h1v1h-1zM22 15h1v1h-1zM2 16h1v1h-1zM20 18h1v1h-1zM28 18h1v1h-1zM29 20h1v1h-1zM30 20h1v1h-1zM16 21h1v1h-1zM28 21h1v1h-1z"/><path fill="#b0c0f0" d="M13 0h1v1h-1zM16 13h1v1h-1zM12 17h1v1h-1zM16 23h1v1h-1z"/><path fill="#e0e8f8" d="M15 0h1v1h-1zM30 1h1v1h-1zM30 3h1v1h-1zM22 4h1v1h-1zM30 4h1v1h-1zM10 5h1v1h-1zM9 6h1v1h-1zM14 6h1v1h-1zM4 8h1v1h-1zM10 8h1v1h-1zM17 8h1v1h-1zM18 8h1v1h-1zM29 9h1v1h-1zM12 14h1v1h-1zM17 15h1v1h-1zM16 16h1v1h-1zM27 18h1v1h-1zM15 23h1v1h-1zM20 23h1v1h-1z"/><path fill="#d8e0f8" d="M16 0h1v1h-1zM26 0h1v1h-1zM16 2h1v1h-1zM22 3h1v1h-1zM9 5h1v1h-1zM26 7h1v1h-1zM21 8h1v1h-1zM11 9h1v1h-1zM0 10h1v1h-1zM6 10h1v1h-1zM16 10h1v1h-1zM25 11h1v1h-1zM29 12h1v1h-1zM23 14h1v1h-1zM8 15h1v1h-1zM9 15h1v1h-1zM10 15h1v1h-1zM9 17h1v1h-1zM24 17h1v1h-1zM26 17h1v1h-1zM4 19h1v1h-1zM18 19h1v1h-1zM22 20h1v1h-1zM25 21h1v1h-1zM27 22h1v1h-1zM9 23h1v1h-1zM13 23h1v1h-1zM26 23h1v1h-1z"/><path fill="#f0f0f8" d="M20 0h1v1h-1zM19 4h1v1h-1zM21 5h1v1h-1zM16 6h1v1h-1zM10 7h1v1h-1zM11 7h1v1h-1zM13 7h1v1h-1zM3 10h1v1h-1zM10 10h1v1h-1zM23 10h1v1h-1zM24 12h1v1h-1zM30 12h1v1h-1zM17 14h1v1h-1zM13 17h1v1h-1zM15 17h1v1h-1zM13 18h1v1h-1zM22 18h1v1h-1zM21 19h1v1h-1zM9 20h1v1h-1zM6 22h1v1h-1zM22 22h1v1h-1zM12 23h1v1h-1z"/><path fill="#b8c8f0" d="M27 0h1v1h-1zM15 1h1v1h-1zM20 1h1v1h-1zM24 4h1v1h-1zM22 5h1v1h-1zM14 7h1v1h-1zM19 8h1v1h-1zM24 9h1v1h-1zM0 15h1v1h-1zM23 15h1v1h-1zM25 15h1v1h-1zM17 19h1v1h-1zM22 23h1v1h-1z"/><path fill="#c8d8f8" d="M28 0h1v1h-1zM15 8h1v1h-1zM2 22h1v1h-1z"/><path fill="#f0f8f8" d="M10 1h1v1h-1zM29 18h1v1h-1zM30 21h1v1h-1z"/><path fill="#e8e8f8" d="M16 1h1v1h-1zM2 2h1v1h-1zM18 2h1v1h-1zM22 2h1v1h-1zM16 3h1v1h-1zM10 4h1v1h-1zM26 4h1v1h-1zM29 15h1v1h-1zM8 19h1v1h-1zM0 23h1v1h-1z"/><path fill="#f8f8f8" d="M17 1h1v1h-1zM29 1h1v1h-1zM13 5h1v1h-1zM16 5h1v1h-1zM2 12h1v1h-1zM18 15h1v1h-1zM22 17h1v1h-1zM21 21h1v1h-1zM0 22h1v1h-1zM1 22h1v1h-1zM1 23h1v1h-1z"/><path fill="#a0b8f0" d="M22 1h1v1h-1zM26 1h1v1h-1zM28 1h1v1h-1zM17 2h1v1h-1zM23 2h1v1h-1zM6 3h1v1h-1zM21 3h1v1h-1zM0 5h1v1h-1zM24 6h1v1h-1zM0 8h1v1h-1zM23 8h1v1h-1zM26 8h1v1h-1zM6 9h1v1h-1zM12 9h1v1h-1zM2 10h1v1h-1zM13 10h1v1h-1zM26 10h1v1h-1zM12 11h1v1h-1zM8 13h1v1h-1zM11 13h1v1h-1zM17 13h1v1h-1zM20 13h1v1h-1zM16 14h1v1h-1zM24 14h1v1h-1zM6 16h1v1h-1zM8 17h1v1h-1zM5 18h1v1h-1zM14 19h1v1h-1zM19 19h1v1h-1zM24 19h1v1h-1zM4 20h1v1h-1zM24 20h1v1h-1zM3 21h1v1h-1zM19 22h1v1h-1zM3 23h1v1h-1zM5 23h1v1h-1zM11 23h1v1h-1zM23 23h1v1h-1z"/><path fill="#d0d8f8" d="M30 2h1v1h-1zM11 4h1v1h-1zM18 4h1v1h-1zM25 8h1v1h-1zM28 10h1v1h-1zM1 12h1v1h-1zM21 14h1v1h-1zM24 15h1v1h-1zM7 17h1v1h-1zM21 17h1v1h-1zM29 17h1v1h-1zM1 19h1v1h-1zM23 20h1v1h-1zM12 21h1v1h-1zM27 21h1v1h-1z"/><path fill="#c0d0f0" d="M4 5h1v1h-1zM6 14h1v1h-1zM4 15h1v1h-1zM30 15h1v1h-1zM11 20h1v1h-1z"/><path fill="#f8f8ff" d="M2 6h1v1h-1zM29 6h1v1h-1zM16 7h1v1h-1zM22 7h1v1h-1zM20 9h1v1h-1zM30 10h1v1h-1zM0 12h1v1h-1zM11 15h1v1h-1zM11 17h1v1h-1zM30 17h1v1h-1zM2 23h1v1h-1z"/><path fill="#c8d0f0" d="M30 7h1v1h-1zM4 10h1v1h-1zM16 19h1v1h-1zM26 19h1v1h-1zM8 23h1v1h-1zM29 23h1v1h-1z"/><path fill="#b0b8f0" d="M9 8h1v1h-1z"/><path fill="#b8c0f0" d="M8 9h1v1h-1zM9 10h1v1h-1zM1 17h1v1h-1z"/><path fill="#c0c8f0" d="M12 12h1v1h-1zM25 12h1v1h-1zM25 17h1v1h-1zM12 18h1v1h-1zM6 19h1v1h-1zM22 19h1v1h-1z"/><path fill="#d8d8f8" d="M1 15h1v1h-1z"/></g><g transform="translate(238.0,471.8) scale(5.475,5.43)"><path fill="#f8e8e8" d="M0 0h1L0 1zM9 5h1L9 6zM8 7h1L8 8zM17 10h1L17 11zM30 11h1L30 12zM29 14h1L29 15zM1 15h1L1 16zM9 15h1L9 16zM17 15h1L17 16zM29 15h1L29 16zM18 17h1L18 18zM26 19h1L26 20zM0 23h1L0 24z"/><path fill="#d8e8f8" d="M1 0h1L1 1zM11 0h1L11 1zM22 0h1L22 1zM25 0h1L25 1zM5 1h1L5 2zM13 1h1L13 2zM18 1h1L18 2zM24 1h1L24 2zM25 1h1L25 2zM27 1h1L27 2zM11 2h1L11 3zM14 2h1L14 3zM4 3h1L4 4zM9 3h1L9 4zM11 3h1L11 4zM12 3h1L12 4zM13 3h1L13 4zM29 3h1L29 4zM14 4h1L14 5zM16 4h1L16 5zM17 4h1L17 5zM29 4h1L29 5zM0 5h1L0 6zM4 5h1L4 6zM7 5h1L7 6zM28 5h1L28 6zM30 5h1L30 6zM3 6h1L3 7zM6 6h1L6 7zM7 6h1L7 7zM8 6h1L8 7zM10 6h1L10 7zM12 7h1L12 8zM15 7h1L15 8zM25 7h1L25 8zM2 8h1L2 9zM3 8h1L3 9zM8 8h1L8 9zM26 8h1L26 9zM27 8h1L27 9zM28 8h1L28 9zM10 9h1L10 10zM23 9h1L23 10zM28 9h1L28 10zM5 10h1L5 11zM22 10h1L22 11zM25 10h1L25 11zM9 11h1L9 12zM10 11h1L10 12zM12 11h1L12 12zM14 11h1L14 12zM3 12h1L3 13zM15 12h1L15 13zM1 13h1L1 14zM10 13h1L10 14zM20 13h1L20 14zM1 14h1L1 15zM7 14h1L7 15zM19 14h1L19 15zM20 14h1L20 15zM26 14h1L26 15zM3 15h1L3 16zM11 16h1L11 17zM22 16h1L22 17zM3 17h1L3 18zM4 17h1L4 18zM28 17h1L28 18zM10 18h1L10 19zM11 18h1L11 19zM24 18h1L24 19zM25 18h1L25 19zM28 18h1L28 19zM0 19h1L0 20zM3 19h1L3 20zM14 19h1L14 20zM4 20h1L4 21zM6 20h1L6 21zM8 20h1L8 21zM16 20h1L16 21zM18 20h1L18 21zM19 20h1L19 21zM20 20h1L20 21zM21 20h1L21 21zM27 20h1L27 21zM30 20h1L30 21zM2 21h1L2 22zM4 21h1L4 22zM6 21h1L6 22zM15 21h1L15 22zM17 21h1L17 22zM19 21h1L19 22zM22 21h1L22 22zM24 21h1L24 22zM26 21h1L26 22zM10 23h1L10 24zM14 23h1L14 24zM27 23h1L27 24z"/><path fill="#e8f0f8" d="M2 0h1L2 1zM17 0h1L17 1zM18 0h1L18 1zM20 0h1L20 1zM26 0h1L26 1zM11 1h1L11 2zM15 1h1L15 2zM16 2h1L16 3zM16 3h1L16 4zM22 3h1L22 4zM30 3h1L30 4zM10 4h1L10 5zM11 4h1L11 5zM18 4h1L18 5zM30 4h1L30 5zM10 5h1L10 6zM19 5h1L19 6zM20 5h1L20 6zM14 6h1L14 7zM17 6h1L17 7zM18 6h1L18 7zM26 6h1L26 7zM14 7h1L14 8zM17 7h1L17 8zM26 7h1L26 8zM28 7h1L28 8zM29 7h1L29 8zM0 8h1L0 9zM4 8h1L4 9zM6 8h1L6 9zM11 8h1L11 9zM18 8h1L18 9zM25 8h1L25 9zM29 8h1L29 9zM26 9h1L26 10zM0 10h1L0 11zM4 10h1L4 11zM7 10h1L7 11zM12 10h1L12 11zM13 10h1L13 11zM18 10h1L18 11zM27 10h1L27 11zM28 10h1L28 11zM0 11h1L0 12zM25 11h1L25 12zM1 12h1L1 13zM8 12h1L8 13zM30 13h1L30 14zM17 14h1L17 15zM21 14h1L21 15zM23 14h1L23 15zM24 14h1L24 15zM30 14h1L30 15zM5 15h1L5 16zM10 15h1L10 16zM23 15h1L23 16zM30 15h1L30 16zM16 16h1L16 17zM2 17h1L2 18zM8 17h1L8 18zM9 17h1L9 18zM21 17h1L21 18zM23 17h1L23 18zM26 17h1L26 18zM27 17h1L27 18zM29 17h1L29 18zM7 18h1L7 19zM12 18h1L12 19zM1 19h1L1 20zM6 19h1L6 20zM17 19h1L17 20zM11 20h1L11 21zM15 20h1L15 21zM23 20h1L23 21zM29 20h1L29 21zM16 21h1L16 22zM27 21h1L27 22zM23 22h1L23 23zM5 23h1L5 24zM11 23h1L11 24zM13 23h1L13 24zM20 23h1L20 24zM22 23h1L22 24zM29 23h1L29 24z"/><path fill="#c8e8f0" d="M3 0h1L3 1zM2 1h1L2 2zM6 1h1L6 2zM7 2h1L7 3zM8 2h1L8 3zM12 2h1L12 3zM15 2h1L15 3zM26 2h1L26 3zM3 3h1L3 4zM3 4h1L3 5zM4 4h1L4 5zM9 4h1L9 5zM15 4h1L15 5zM1 5h1L1 6zM5 5h1L5 6zM11 5h1L11 6zM12 5h1L12 6zM27 5h1L27 6zM1 6h1L1 7zM4 6h1L4 7zM4 7h1L4 8zM19 7h1L19 8zM23 7h1L23 8zM1 8h1L1 9zM22 8h1L22 9zM23 8h1L23 9zM7 9h1L7 10zM9 9h1L9 10zM22 9h1L22 10zM7 11h1L7 12zM11 11h1L11 12zM13 11h1L13 12zM26 11h1L26 12zM27 11h1L27 12zM29 11h1L29 12zM7 12h1L7 13zM10 12h1L10 13zM14 13h1L14 14zM19 13h1L19 14zM24 13h1L24 14zM3 14h1L3 15zM5 14h1L5 15zM28 14h1L28 15zM19 15h1L19 16zM6 16h1L6 17zM8 16h1L8 17zM9 16h1L9 17zM12 16h1L12 17zM15 16h1L15 17zM18 16h1L18 17zM19 16h1L19 17zM15 18h1L15 19zM18 18h1L18 19zM20 18h1L20 19zM23 18h1L23 19zM5 19h1L5 20zM23 19h1L23 20zM0 20h1L0 21zM12 20h1L12 21zM13 21h1L13 22zM3 23h1L3 24z"/><path fill="#c0e0f0" d="M4 0h1L4 1zM19 1h1L19 2zM21 2h1L21 3zM25 2h1L25 3zM27 2h1L27 3zM28 2h1L28 3zM0 3h1L0 4zM1 3h1L1 4zM7 3h1L7 4zM18 3h1L18 4zM20 3h1L20 4zM2 4h1L2 5zM6 4h1L6 5zM7 4h1L7 5zM20 4h1L20 5zM25 4h1L25 5zM13 6h1L13 7zM24 6h1L24 7zM24 8h1L24 9zM0 9h1L0 10zM25 9h1L25 10zM4 11h1L4 12zM5 11h1L5 12zM27 12h1L27 13zM0 13h1L0 14zM2 13h1L2 14zM5 13h1L5 14zM6 13h1L6 14zM15 13h1L15 14zM17 13h1L17 14zM23 13h1L23 14zM4 14h1L4 15zM18 14h1L18 15zM22 14h1L22 15zM27 14h1L27 15zM4 16h1L4 17zM17 16h1L17 17zM25 16h1L25 17zM5 17h1L5 18zM1 18h1L1 19zM12 19h1L12 20zM20 19h1L20 20zM3 20h1L3 21zM7 20h1L7 21zM10 20h1L10 21zM14 20h1L14 21zM24 20h1L24 21zM25 20h1L25 21zM28 20h1L28 21zM23 21h1L23 22z"/><path fill="#b0e0f0" d="M5 0h1L5 1zM12 1h1L12 2zM19 2h1L19 3zM5 3h1L5 4zM19 11h1L19 12zM27 16h1L27 17zM28 16h1L28 17z"/><path fill="#f0f8f8" d="M6 0h1L6 1zM21 0h1L21 1zM17 1h1L17 2zM21 1h1L21 2zM30 1h1L30 2zM26 4h1L26 5zM17 5h1L17 6zM21 5h1L21 6zM25 5h1L25 6zM11 7h1L11 8zM13 7h1L13 8zM22 7h1L22 8zM10 8h1L10 9zM21 8h1L21 9zM17 9h1L17 10zM20 9h1L20 10zM29 9h1L29 10zM3 10h1L3 11zM20 12h1L20 13zM11 15h1L11 16zM15 15h1L15 16zM22 15h1L22 16zM28 15h1L28 16zM20 17h1L20 18zM22 18h1L22 19zM30 18h1L30 19zM4 19h1L4 20zM27 22h1L27 23zM26 23h1L26 24z"/><path fill="#f8f8f8" d="M7 0h1L7 1zM19 0h1L19 1zM24 0h1L24 1zM10 1h1L10 2zM29 1h1L29 2zM19 4h1L19 5zM13 5h1L13 6zM16 5h1L16 6zM2 6h1L2 7zM9 6h1L9 7zM20 6h1L20 7zM29 6h1L29 7zM30 6h1L30 7zM10 7h1L10 8zM16 7h1L16 8zM21 7h1L21 8zM24 7h1L24 8zM13 8h1L13 9zM17 8h1L17 9zM30 9h1L30 10zM2 10h1L2 11zM23 10h1L23 11zM26 10h1L26 11zM30 10h1L30 11zM0 12h1L0 13zM2 12h1L2 13zM13 12h1L13 13zM24 12h1L24 13zM30 12h1L30 13zM6 15h1L6 16zM21 15h1L21 16zM10 17h1L10 18zM11 17h1L11 18zM14 17h1L14 18zM15 17h1L15 18zM22 17h1L22 18zM30 17h1L30 18zM13 18h1L13 19zM29 18h1L29 19zM9 20h1L9 21zM21 21h1L21 22zM28 21h1L28 22zM0 22h1L0 23zM15 22h1L15 23zM17 22h1L17 23zM19 22h1L19 23zM21 22h1L21 23zM22 22h1L22 23zM25 22h1L25 23zM1 23h1L1 24zM2 23h1L2 24zM24 23h1L24 24z"/><path fill="#f8e0e0" d="M8 0h1L8 1zM6 10h1L6 11zM15 10h1L15 11zM23 12h1L23 13zM2 15h1L2 16zM8 15h1L8 16zM25 15h1L25 16zM21 18h1L21 19zM2 19h1L2 20zM22 20h1L22 21zM16 22h1L16 23z"/><path fill="#f0f0f8" d="M9 0h1L9 1zM22 2h1L22 3zM22 4h1L22 5zM28 4h1L28 5zM3 5h1L3 6zM6 5h1L6 6zM3 7h1L3 8zM12 14h1L12 15zM7 15h1L7 16zM20 15h1L20 16zM24 17h1L24 18zM27 18h1L27 19zM27 19h1L27 20zM9 21h1L9 22zM14 21h1L14 22zM9 23h1L9 24zM25 23h1L25 24z"/><path fill="#e0f0f8" d="M10 0h1L10 1zM23 0h1L23 1zM28 0h1L28 1zM7 1h1L7 2zM9 1h1L9 2zM20 1h1L20 2zM9 2h1L9 3zM10 2h1L10 3zM13 2h1L13 3zM17 2h1L17 3zM20 2h1L20 3zM24 2h1L24 3zM2 3h1L2 4zM15 3h1L15 4zM25 3h1L25 4zM8 4h1L8 5zM14 5h1L14 6zM22 5h1L22 6zM26 5h1L26 6zM15 6h1L15 7zM23 6h1L23 7zM27 6h1L27 7zM28 6h1L28 7zM27 7h1L27 8zM30 7h1L30 8zM7 8h1L7 9zM9 8h1L9 9zM14 8h1L14 9zM15 8h1L15 9zM30 8h1L30 9zM11 9h1L11 10zM24 9h1L24 10zM27 9h1L27 10zM11 10h1L11 11zM21 10h1L21 11zM1 11h1L1 12zM12 12h1L12 13zM18 12h1L18 13zM22 12h1L22 13zM25 12h1L25 13zM16 13h1L16 14zM6 14h1L6 15zM9 14h1L9 15zM25 14h1L25 15zM14 15h1L14 16zM24 15h1L24 16zM21 16h1L21 17zM24 16h1L24 17zM0 17h1L0 18zM1 17h1L1 18zM7 17h1L7 18zM12 17h1L12 18zM25 17h1L25 18zM2 18h1L2 19zM4 18h1L4 19zM13 19h1L13 20zM19 19h1L19 20zM22 19h1L22 20zM10 21h1L10 22zM12 21h1L12 22zM18 21h1L18 22zM25 21h1L25 22z"/><path fill="#f8d8d8" d="M12 0h1L12 1zM27 0h1L27 1zM29 10h1L29 11zM16 18h1L16 19zM29 22h1L29 23zM17 23h1L17 24z"/><path fill="#f8e0d8" d="M13 0h1L13 1zM16 0h1L16 1zM29 5h1L29 6zM9 10h1L9 11zM0 15h1L0 16zM27 15h1L27 16zM8 18h1L8 19zM29 19h1L29 20zM5 22h1L5 23zM8 23h1L8 24zM18 23h1L18 24zM19 23h1L19 24z"/><path fill="#b8e0f0" d="M14 0h1L14 1zM1 2h1L1 3zM6 2h1L6 3zM23 3h1L23 4zM28 3h1L28 4zM5 4h1L5 5zM19 6h1L19 7zM5 7h1L5 8zM20 7h1L20 8zM20 11h1L20 12zM23 11h1L23 12zM5 12h1L5 13zM4 13h1L4 14zM8 13h1L8 14zM9 13h1L9 14zM22 13h1L22 14zM13 14h1L13 15zM0 16h1L0 17zM5 16h1L5 17zM13 16h1L13 17zM19 17h1L19 18zM13 20h1L13 21zM7 21h1L7 22z"/><path fill="#f8e8f0" d="M15 0h1L15 1zM16 1h1L16 2zM6 9h1L6 10z"/><path fill="#f8d0d0" d="M29 0h1L29 1z"/><path fill="#f8d0c8" d="M30 0h1L30 1zM16 9h1L16 10zM16 12h1L16 13zM28 19h1L28 20zM9 22h1L9 23z"/><path fill="#a8d8e8" d="M0 1h1L0 2zM26 1h1L26 2zM13 9h1L13 10zM3 13h1L3 14zM21 13h1L21 14z"/><path fill="#d0e8f0" d="M1 1h1L1 2zM14 1h1L14 2zM23 1h1L23 2zM28 1h1L28 2zM0 2h1L0 3zM3 2h1L3 3zM4 2h1L4 3zM23 2h1L23 3zM29 2h1L29 3zM8 3h1L8 4zM10 3h1L10 4zM14 3h1L14 4zM17 3h1L17 4zM21 3h1L21 4zM24 3h1L24 4zM0 4h1L0 5zM12 4h1L12 5zM21 4h1L21 5zM23 4h1L23 5zM27 4h1L27 5zM15 5h1L15 6zM18 5h1L18 6zM23 5h1L23 6zM24 5h1L24 6zM0 6h1L0 7zM5 6h1L5 7zM11 6h1L11 7zM22 6h1L22 7zM25 6h1L25 7zM6 7h1L6 8zM9 7h1L9 8zM18 7h1L18 8zM5 8h1L5 9zM16 8h1L16 9zM20 8h1L20 9zM4 9h1L4 10zM18 9h1L18 10zM19 9h1L19 10zM19 10h1L19 11zM2 11h1L2 12zM8 11h1L8 12zM16 11h1L16 12zM4 12h1L4 13zM6 12h1L6 13zM14 12h1L14 13zM19 12h1L19 13zM13 13h1L13 14zM18 13h1L18 14zM26 13h1L26 14zM29 13h1L29 14zM2 14h1L2 15zM11 14h1L11 15zM2 16h1L2 17zM10 16h1L10 17zM20 16h1L20 17zM29 16h1L29 17zM6 17h1L6 18zM9 18h1L9 19zM14 18h1L14 19zM17 18h1L17 19zM26 18h1L26 19zM7 19h1L7 20zM9 19h1L9 20zM24 19h1L24 20zM2 20h1L2 21zM5 20h1L5 21zM17 20h1L17 21zM26 20h1L26 21zM0 21h1L0 22zM1 21h1L1 22zM3 21h1L3 22zM8 21h1L8 22zM11 21h1L11 22zM20 21h1L20 22zM28 23h1L28 24zM30 23h1L30 24z"/><path fill="#98d8e8" d="M3 1h1L3 2zM11 13h1L11 14zM27 13h1L27 14zM6 18h1L6 19zM19 18h1L19 19zM6 23h1L6 24z"/><path fill="#b0e0e8" d="M4 1h1L4 2zM5 2h1L5 3zM2 7h1L2 8zM25 13h1L25 14zM3 16h1L3 17zM26 16h1L26 17z"/><path fill="#c0e8f0" d="M8 1h1L8 2zM0 7h1L0 8z"/><path fill="#e89080" d="M22 1h1L22 2zM14 16h1L14 17z"/><path fill="#f8f0f0" d="M2 2h1L2 3zM30 2h1L30 3zM16 6h1L16 7zM14 9h1L14 10zM8 10h1L8 11zM10 10h1L10 11zM20 10h1L20 11zM24 10h1L24 11zM21 11h1L21 12zM29 12h1L29 13zM8 14h1L8 15zM13 17h1L13 18zM17 17h1L17 18zM8 19h1L8 20zM21 19h1L21 20zM25 19h1L25 20zM30 19h1L30 20zM29 21h1L29 22zM30 21h1L30 22zM1 22h1L1 23zM4 22h1L4 23zM6 22h1L6 23zM24 22h1L24 23zM4 23h1L4 24zM12 23h1L12 24z"/><path fill="#f8f0f8" d="M18 2h1L18 3zM12 6h1L12 7zM9 12h1L9 13zM11 12h1L11 13zM14 14h1L14 15zM18 15h1L18 16zM15 23h1L15 24z"/><path fill="#a8e0e8" d="M6 3h1L6 4zM27 3h1L27 4zM3 9h1L3 10zM5 9h1L5 10zM23 16h1L23 17zM5 18h1L5 19z"/><path fill="#90d8e8" d="M19 3h1L19 4zM6 11h1L6 12zM7 13h1L7 14z"/><path fill="#f0a090" d="M26 3h1L26 4zM7 22h1L7 23zM26 22h1L26 23z"/><path fill="#a0d8e8" d="M1 4h1L1 5zM3 11h1L3 12zM18 11h1L18 12zM7 16h1L7 17z"/><path fill="#e0e8f8" d="M13 4h1L13 5zM24 4h1L24 5zM2 5h1L2 6zM8 5h1L8 6zM21 6h1L21 7zM12 8h1L12 9zM19 8h1L19 9zM2 9h1L2 10zM8 9h1L8 10zM1 10h1L1 11zM15 11h1L15 12zM28 11h1L28 12zM21 12h1L21 13zM28 12h1L28 13zM0 14h1L0 15zM4 15h1L4 16zM30 16h1L30 17zM3 18h1L3 19zM10 19h1L10 20zM7 23h1L7 24zM23 23h1L23 24z"/><path fill="#f0b8b0" d="M1 7h1L1 8zM1 20h1L1 21zM14 22h1L14 23z"/><path fill="#d0e8f8" d="M7 7h1L7 8zM24 11h1L24 12zM1 16h1L1 17zM0 18h1L0 19z"/><path fill="#f0a098" d="M1 9h1L1 10zM12 15h1L12 16z"/><path fill="#f0a898" d="M12 9h1L12 10zM16 15h1L16 16z"/><path fill="#f09888" d="M15 9h1L15 10zM13 15h1L13 16zM26 15h1L26 16z"/><path fill="#f0b0a8" d="M21 9h1L21 10zM14 10h1L14 11zM22 11h1L22 12z"/><path fill="#f8e8e0" d="M16 10h1L16 11zM10 14h1L10 15zM16 19h1L16 20zM18 19h1L18 20zM2 22h1L2 23z"/><path fill="#f8c0b8" d="M17 11h1L17 12zM12 22h1L12 23z"/><path fill="#f09080" d="M17 12h1L17 13z"/><path fill="#f0b0a0" d="M26 12h1L26 13z"/><path fill="#88d0e0" d="M12 13h1L12 14zM28 13h1L28 14z"/><path fill="#e88878" d="M15 14h1L15 15zM15 19h1L15 20z"/><path fill="#f8c8c0" d="M16 14h1L16 15zM16 17h1L16 18zM11 22h1L11 23zM13 22h1L13 23z"/><path fill="#e88880" d="M11 19h1L11 20z"/><path fill="#90d0e0" d="M5 21h1L5 22z"/><path fill="#f8d8d0" d="M3 22h1L3 23zM18 22h1L18 23zM20 22h1L20 23zM28 22h1L28 23zM16 23h1L16 24zM21 23h1L21 24z"/><path fill="#f8c8b8" d="M8 22h1L8 23z"/><path fill="#f0b8a8" d="M10 22h1L10 23zM30 22h1L30 23z"/></g><path transform="translate(238.0,471.8) scale(5.475,5.43)" d="M0 0v24M1 0v24M2 0v24M3 0v24M4 0v24M5 0v24M6 0v24M7 0v24M8 0v24M9 0v24M10 0v24M11 0v24M12 0v24M13 0v24M14 0v24M15 0v24M16 0v24M17 0v24M18 0v24M19 0v24M20 0v24M21 0v24M22 0v24M23 0v24M24 0v24M25 0v24M26 0v24M27 0v24M28 0v24M29 0v24M30 0v24M31 0v24M0 0h31M0 1h31M0 2h31M0 3h31M0 4h31M0 5h31M0 6h31M0 7h31M0 8h31M0 9h31M0 10h31M0 11h31M0 12h31M0 13h31M0 14h31M0 15h31M0 16h31M0 17h31M0 18h31M0 19h31M0 20h31M0 21h31M0 22h31M0 23h31M0 24h31" stroke="#c8d0e8" stroke-width="0.046" fill="none"/><clipPath id="cf"><rect x="0" y="0" width="31" height="24"/></clipPath><g transform="translate(238.0,471.8) scale(5.475,5.43)"><path clip-path="url(#cf)" d="M-24 24l24 -24M-23 24l24 -24M-22 24l24 -24M-21 24l24 -24M-20 24l24 -24M-19 24l24 -24M-18 24l24 -24M-17 24l24 -24M-16 24l24 -24M-15 24l24 -24M-14 24l24 -24M-13 24l24 -24M-12 24l24 -24M-11 24l24 -24M-10 24l24 -24M-9 24l24 -24M-8 24l24 -24M-7 24l24 -24M-6 24l24 -24M-5 24l24 -24M-4 24l24 -24M-3 24l24 -24M-2 24l24 -24M-1 24l24 -24M0 24l24 -24M1 24l24 -24M2 24l24 -24M3 24l24 -24M4 24l24 -24M5 24l24 -24M6 24l24 -24M7 24l24 -24M8 24l24 -24M9 24l24 -24M10 24l24 -24M11 24l24 -24M12 24l24 -24M13 24l24 -24M14 24l24 -24M15 24l24 -24M16 24l24 -24M17 24l24 -24M18 24l24 -24M19 24l24 -24M20 24l24 -24M21 24l24 -24M22 24l24 -24M23 24l24 -24M24 24l24 -24M25 24l24 -24M26 24l24 -24M27 24l24 -24M28 24l24 -24M29 24l24 -24M30 24l24 -24M31 24l24 -24" stroke="#555" stroke-width="0.055" fill="none"/></g><path transform="translate(238.0,471.8) scale(5.475,5.43)" d="M5 0v24M13 0v24M21 0v24M28 0v24M0 4h31M0 8h31M0 10h31M0 15h31M0 19h31M0 22h31" stroke="#3a3f55" stroke-width="0.09" fill="none"/><path transform="translate(238.0,471.8) scale(5.475,5.43)" d="M1.5 0.5h0M2.5 0.5h0M3.5 0.5h0M4.5 0.5h0M5.5 0.5h0M7.5 0.5h0M9.5 0.5h0M11.5 0.5h0M12.5 0.5h0M14.5 0.5h0M17.5 0.5h0M18.5 0.5h0M19.5 0.5h0M21.5 0.5h0M22.5 0.5h0M23.5 0.5h0M24.5 0.5h0M25.5 0.5h0M29.5 0.5h0M30.5 0.5h0M0.5 1.5h0M1.5 1.5h0M2.5 1.5h0M3.5 1.5h0M4.5 1.5h0M5.5 1.5h0M6.5 1.5h0M7.5 1.5h0M8.5 1.5h0M9.5 1.5h0M11.5 1.5h0M12.5 1.5h0M13.5 1.5h0M14.5 1.5h0M18.5 1.5h0M19.5 1.5h0M21.5 1.5h0M22.5 1.5h0M23.5 1.5h0M24.5 1.5h0M25.5 1.5h0M26.5 1.5h0M27.5 1.5h0M28.5 1.5h0M0.5 2.5h0M1.5 2.5h0M3.5 2.5h0M4.5 2.5h0M5.5 2.5h0M6.5 2.5h0M7.5 2.5h0M8.5 2.5h0M10.5 2.5h0M11.5 2.5h0M12.5 2.5h0M13.5 2.5h0M14.5 2.5h0M15.5 2.5h0M17.5 2.5h0M19.5 2.5h0M21.5 2.5h0M23.5 2.5h0M24.5 2.5h0M25.5 2.5h0M26.5 2.5h0M27.5 2.5h0M28.5 2.5h0M29.5 2.5h0M0.5 3.5h0M1.5 3.5h0M2.5 3.5h0M3.5 3.5h0M4.5 3.5h0M5.5 3.5h0M6.5 3.5h0M7.5 3.5h0M8.5 3.5h0M9.5 3.5h0M10.5 3.5h0M11.5 3.5h0M12.5 3.5h0M13.5 3.5h0M14.5 3.5h0M15.5 3.5h0M17.5 3.5h0M18.5 3.5h0M19.5 3.5h0M20.5 3.5h0M21.5 3.5h0M23.5 3.5h0M24.5 3.5h0M26.5 3.5h0M27.5 3.5h0M28.5 3.5h0M29.5 3.5h0M0.5 4.5h0M1.5 4.5h0M2.5 4.5h0M3.5 4.5h0M4.5 4.5h0M5.5 4.5h0M6.5 4.5h0M7.5 4.5h0M8.5 4.5h0M9.5 4.5h0M12.5 4.5h0M13.5 4.5h0M14.5 4.5h0M15.5 4.5h0M16.5 4.5h0M17.5 4.5h0M20.5 4.5h0M21.5 4.5h0M23.5 4.5h0M25.5 4.5h0M27.5 4.5h0M28.5 4.5h0M29.5 4.5h0M0.5 5.5h0M1.5 5.5h0M2.5 5.5h0M3.5 5.5h0M5.5 5.5h0M7.5 5.5h0M8.5 5.5h0M11.5 5.5h0M12.5 5.5h0M14.5 5.5h0M15.5 5.5h0M17.5 5.5h0M18.5 5.5h0M20.5 5.5h0M23.5 5.5h0M24.5 5.5h0M25.5 5.5h0M26.5 5.5h0M27.5 5.5h0M28.5 5.5h0M29.5 5.5h0M30.5 5.5h0M0.5 6.5h0M1.5 6.5h0M3.5 6.5h0M4.5 6.5h0M5.5 6.5h0M6.5 6.5h0M7.5 6.5h0M8.5 6.5h0M11.5 6.5h0M12.5 6.5h0M13.5 6.5h0M17.5 6.5h0M18.5 6.5h0M19.5 6.5h0M20.5 6.5h0M21.5 6.5h0M22.5 6.5h0M23.5 6.5h0M24.5 6.5h0M25.5 6.5h0M26.5 6.5h0M27.5 6.5h0M28.5 6.5h0M0.5 7.5h0M1.5 7.5h0M2.5 7.5h0M3.5 7.5h0M4.5 7.5h0M5.5 7.5h0M6.5 7.5h0M7.5 7.5h0M8.5 7.5h0M9.5 7.5h0M12.5 7.5h0M15.5 7.5h0M17.5 7.5h0M18.5 7.5h0M19.5 7.5h0M20.5 7.5h0M21.5 7.5h0M23.5 7.5h0M24.5 7.5h0M25.5 7.5h0M27.5 7.5h0M28.5 7.5h0M29.5 7.5h0M0.5 8.5h0M1.5 8.5h0M2.5 8.5h0M3.5 8.5h0M5.5 8.5h0M6.5 8.5h0M7.5 8.5h0M8.5 8.5h0M11.5 8.5h0M12.5 8.5h0M13.5 8.5h0M16.5 8.5h0M20.5 8.5h0M22.5 8.5h0M23.5 8.5h0M24.5 8.5h0M26.5 8.5h0M27.5 8.5h0M28.5 8.5h0M29.5 8.5h0M0.5 9.5h0M1.5 9.5h0M2.5 9.5h0M3.5 9.5h0M4.5 9.5h0M5.5 9.5h0M6.5 9.5h0M7.5 9.5h0M9.5 9.5h0M10.5 9.5h0M12.5 9.5h0M13.5 9.5h0M14.5 9.5h0M15.5 9.5h0M16.5 9.5h0M17.5 9.5h0M18.5 9.5h0M19.5 9.5h0M21.5 9.5h0M22.5 9.5h0M23.5 9.5h0M25.5 9.5h0M26.5 9.5h0M27.5 9.5h0M28.5 9.5h0M30.5 9.5h0M1.5 10.5h0M2.5 10.5h0M5.5 10.5h0M7.5 10.5h0M8.5 10.5h0M11.5 10.5h0M13.5 10.5h0M14.5 10.5h0M15.5 10.5h0M17.5 10.5h0M18.5 10.5h0M19.5 10.5h0M21.5 10.5h0M22.5 10.5h0M24.5 10.5h0M25.5 10.5h0M26.5 10.5h0M27.5 10.5h0M29.5 10.5h0M0.5 11.5h0M1.5 11.5h0M2.5 11.5h0M3.5 11.5h0M4.5 11.5h0M5.5 11.5h0M6.5 11.5h0M7.5 11.5h0M8.5 11.5h0M9.5 11.5h0M10.5 11.5h0M11.5 11.5h0M12.5 11.5h0M13.5 11.5h0M14.5 11.5h0M15.5 11.5h0M16.5 11.5h0M17.5 11.5h0M18.5 11.5h0M19.5 11.5h0M20.5 11.5h0M21.5 11.5h0M22.5 11.5h0M23.5 11.5h0M24.5 11.5h0M26.5 11.5h0M27.5 11.5h0M28.5 11.5h0M29.5 11.5h0M30.5 11.5h0M3.5 12.5h0M4.5 12.5h0M5.5 12.5h0M6.5 12.5h0M7.5 12.5h0M9.5 12.5h0M10.5 12.5h0M11.5 12.5h0M14.5 12.5h0M15.5 12.5h0M16.5 12.5h0M17.5 12.5h0M18.5 12.5h0M19.5 12.5h0M20.5 12.5h0M22.5 12.5h0M26.5 12.5h0M27.5 12.5h0M28.5 12.5h0M0.5 13.5h0M1.5 13.5h0M2.5 13.5h0M3.5 13.5h0M4.5 13.5h0M5.5 13.5h0M6.5 13.5h0M7.5 13.5h0M8.5 13.5h0M9.5 13.5h0M10.5 13.5h0M11.5 13.5h0M12.5 13.5h0M13.5 13.5h0M14.5 13.5h0M15.5 13.5h0M17.5 13.5h0M18.5 13.5h0M19.5 13.5h0M20.5 13.5h0M21.5 13.5h0M22.5 13.5h0M23.5 13.5h0M24.5 13.5h0M25.5 13.5h0M26.5 13.5h0M27.5 13.5h0M28.5 13.5h0M29.5 13.5h0M30.5 13.5h0M0.5 14.5h0M1.5 14.5h0M2.5 14.5h0M3.5 14.5h0M4.5 14.5h0M5.5 14.5h0M8.5 14.5h0M9.5 14.5h0M11.5 14.5h0M13.5 14.5h0M15.5 14.5h0M16.5 14.5h0M18.5 14.5h0M19.5 14.5h0M20.5 14.5h0M22.5 14.5h0M24.5 14.5h0M25.5 14.5h0M26.5 14.5h0M27.5 14.5h0M28.5 14.5h0M29.5 14.5h0M30.5 14.5h0M2.5 15.5h0M3.5 15.5h0M5.5 15.5h0M6.5 15.5h0M7.5 15.5h0M12.5 15.5h0M13.5 15.5h0M14.5 15.5h0M15.5 15.5h0M16.5 15.5h0M19.5 15.5h0M20.5 15.5h0M21.5 15.5h0M22.5 15.5h0M26.5 15.5h0M27.5 15.5h0M28.5 15.5h0M0.5 16.5h0M1.5 16.5h0M2.5 16.5h0M3.5 16.5h0M4.5 16.5h0M5.5 16.5h0M6.5 16.5h0M7.5 16.5h0M8.5 16.5h0M9.5 16.5h0M10.5 16.5h0M11.5 16.5h0M12.5 16.5h0M13.5 16.5h0M14.5 16.5h0M15.5 16.5h0M17.5 16.5h0M18.5 16.5h0M19.5 16.5h0M20.5 16.5h0M21.5 16.5h0M22.5 16.5h0M23.5 16.5h0M24.5 16.5h0M25.5 16.5h0M26.5 16.5h0M27.5 16.5h0M28.5 16.5h0M29.5 16.5h0M30.5 16.5h0M0.5 17.5h0M2.5 17.5h0M3.5 17.5h0M4.5 17.5h0M5.5 17.5h0M6.5 17.5h0M8.5 17.5h0M10.5 17.5h0M14.5 17.5h0M16.5 17.5h0M17.5 17.5h0M18.5 17.5h0M19.5 17.5h0M20.5 17.5h0M23.5 17.5h0M27.5 17.5h0M28.5 17.5h0M0.5 18.5h0M1.5 18.5h0M2.5 18.5h0M3.5 18.5h0M4.5 18.5h0M5.5 18.5h0M6.5 18.5h0M8.5 18.5h0M9.5 18.5h0M10.5 18.5h0M11.5 18.5h0M14.5 18.5h0M15.5 18.5h0M16.5 18.5h0M17.5 18.5h0M18.5 18.5h0M19.5 18.5h0M20.5 18.5h0M21.5 18.5h0M23.5 18.5h0M24.5 18.5h0M25.5 18.5h0M26.5 18.5h0M0.5 19.5h0M2.5 19.5h0M3.5 19.5h0M5.5 19.5h0M7.5 19.5h0M9.5 19.5h0M10.5 19.5h0M11.5 19.5h0M12.5 19.5h0M13.5 19.5h0M14.5 19.5h0M15.5 19.5h0M19.5 19.5h0M20.5 19.5h0M23.5 19.5h0M24.5 19.5h0M25.5 19.5h0M28.5 19.5h0M29.5 19.5h0M0.5 20.5h0M1.5 20.5h0M2.5 20.5h0M3.5 20.5h0M4.5 20.5h0M5.5 20.5h0M6.5 20.5h0M7.5 20.5h0M8.5 20.5h0M10.5 20.5h0M12.5 20.5h0M13.5 20.5h0M14.5 20.5h0M15.5 20.5h0M16.5 20.5h0M17.5 20.5h0M18.5 20.5h0M19.5 20.5h0M20.5 20.5h0M21.5 20.5h0M24.5 20.5h0M25.5 20.5h0M26.5 20.5h0M27.5 20.5h0M28.5 20.5h0M29.5 20.5h0M30.5 20.5h0M0.5 21.5h0M1.5 21.5h0M2.5 21.5h0M3.5 21.5h0M4.5 21.5h0M5.5 21.5h0M6.5 21.5h0M7.5 21.5h0M8.5 21.5h0M9.5 21.5h0M10.5 21.5h0M11.5 21.5h0M13.5 21.5h0M14.5 21.5h0M15.5 21.5h0M16.5 21.5h0M17.5 21.5h0M18.5 21.5h0M19.5 21.5h0M20.5 21.5h0M22.5 21.5h0M23.5 21.5h0M24.5 21.5h0M26.5 21.5h0M28.5 21.5h0M29.5 21.5h0M3.5 22.5h0M4.5 22.5h0M5.5 22.5h0M7.5 22.5h0M8.5 22.5h0M9.5 22.5h0M10.5 22.5h0M11.5 22.5h0M12.5 22.5h0M13.5 22.5h0M14.5 22.5h0M15.5 22.5h0M16.5 22.5h0M17.5 22.5h0M18.5 22.5h0M19.5 22.5h0M20.5 22.5h0M21.5 22.5h0M23.5 22.5h0M25.5 22.5h0M26.5 22.5h0M28.5 22.5h0M29.5 22.5h0M30.5 22.5h0M3.5 23.5h0M4.5 23.5h0M5.5 23.5h0M6.5 23.5h0M7.5 23.5h0M10.5 23.5h0M11.5 23.5h0M14.5 23.5h0M17.5 23.5h0M18.5 23.5h0M19.5 23.5h0M21.5 23.5h0M23.5 23.5h0M24.5 23.5h0M25.5 23.5h0M27.5 23.5h0M28.5 23.5h0M30.5 23.5h0" stroke="#222" stroke-width="0.15" stroke-linecap="round"/><g font-size="3" fill="#111" stroke="#111" stroke-width="0.08"><text x="236.5" y="475.51" text-anchor="end">aDC</text><text x="236.5" y="480.94" text-anchor="end">B cells</text><text x="236.5" y="486.38" text-anchor="end">CD8 T cells</text><text x="236.5" y="491.81" text-anchor="end">Cytotoxic cells</text><text x="236.5" y="497.23" text-anchor="end">DC</text><text x="236.5" y="502.66" text-anchor="end">Eosinophils</text><text x="236.5" y="508.09" text-anchor="end">iDC</text><text x="236.5" y="513.52" text-anchor="end">Macrophages</text><text x="236.5" y="518.96" text-anchor="end">Mast cells</text><text x="236.5" y="524.38" text-anchor="end">Neutrophils</text><text x="236.5" y="529.82" text-anchor="end">NK CD56bright cells</text><text x="236.5" y="535.25" text-anchor="end">NK CD56dim cells</text><text x="236.5" y="540.68" text-anchor="end">NK cells</text><text x="236.5" y="546.11" text-anchor="end">pDC</text><text x="236.5" y="551.54" text-anchor="end">T cells</text><text x="236.5" y="556.97" text-anchor="end">T helper cells</text><text x="236.5" y="562.4" text-anchor="end">Tcm</text><text x="236.5" y="567.83" text-anchor="end">Tem</text><text x="236.5" y="573.25" text-anchor="end">TFH</text><text x="236.5" y="578.69" text-anchor="end">Tgd</text><text x="236.5" y="584.12" text-anchor="end">Th1 cells</text><text x="236.5" y="589.55" text-anchor="end">Th17 cells</text><text x="236.5" y="594.98" text-anchor="end">Th2 cells</text><text x="236.5" y="600.41" text-anchor="end">TReg</text><text transform="translate(241.94,603.72) rotate(-45)" text-anchor="end">RECQL4</text><text transform="translate(247.41,603.72) rotate(-45)" text-anchor="end">BTLA</text><text transform="translate(252.89,603.72) rotate(-45)" text-anchor="end">CD28</text><text transform="translate(258.36,603.72) rotate(-45)" text-anchor="end">CD80</text><text transform="translate(263.84,603.72) rotate(-45)" text-anchor="end">CD86</text><text transform="translate(269.31,603.72) rotate(-45)" text-anchor="end">CTLA4</text><text transform="translate(274.79,603.72) rotate(-45)" text-anchor="end">HAVCR2</text><text transform="translate(280.26,603.72) rotate(-45)" text-anchor="end">ICOS</text><text transform="translate(285.74,603.72) rotate(-45)" text-anchor="end">LAG3</text><text transform="translate(291.21,603.72) rotate(-45)" text-anchor="end">PDCD1</text><text transform="translate(296.69,603.72) rotate(-45)" text-anchor="end">TIGIT</text><text transform="translate(302.16,603.72) rotate(-45)" text-anchor="end">CD274</text><text transform="translate(307.64,603.72) rotate(-45)" text-anchor="end">CD276</text><text transform="translate(313.11,603.72) rotate(-45)" text-anchor="end">IDO1</text><text transform="translate(318.59,603.72) rotate(-45)" text-anchor="end">CD48</text><text transform="translate(324.06,603.72) rotate(-45)" text-anchor="end">CD200</text><text transform="translate(329.54,603.72) rotate(-45)" text-anchor="end">CD40</text><text transform="translate(335.01,603.72) rotate(-45)" text-anchor="end">TNFSF4</text><text transform="translate(340.49,603.72) rotate(-45)" text-anchor="end">CD70</text><text transform="translate(345.96,603.72) rotate(-45)" text-anchor="end">NRP1</text><text transform="translate(351.44,603.72) rotate(-45)" text-anchor="end">TNFRSF9</text><text transform="translate(356.91,603.72) rotate(-45)" text-anchor="end">CD244</text><text transform="translate(362.39,603.72) rotate(-45)" text-anchor="end">LAIR1</text><text transform="translate(367.86,603.72) rotate(-45)" text-anchor="end">CD160</text><text transform="translate(373.34,603.72) rotate(-45)" text-anchor="end">CD44</text><text transform="translate(378.81,603.72) rotate(-45)" text-anchor="end">HHLA2</text><text transform="translate(384.29,603.72) rotate(-45)" text-anchor="end">KIR3DL1</text><text transform="translate(389.76,603.72) rotate(-45)" text-anchor="end">VTCN1</text><text transform="translate(395.24,603.72) rotate(-45)" text-anchor="end">TNFSF9</text><text transform="translate(400.71,603.72) rotate(-45)" text-anchor="end">CD27</text><text transform="translate(406.19,603.72) rotate(-45)" text-anchor="end">TNFRSF4</text></g><text x="322.7" y="469.8" font-size="6.2" text-anchor="middle" fill="#1a1a1a">Correlations between RECQL4 and Immune cells</text><text x="409.2" y="513.6" font-size="3.4" fill="#222">* p &lt; 0.05</text><text x="409.2" y="519.8" font-size="3.0" fill="#222">Cor</text><defs><linearGradient id="gfc" x1="0" y1="0" x2="0" y2="1"><stop offset="0" stop-color="#e0503c"/><stop offset="0.5" stop-color="#fafafa"/><stop offset="1" stop-color="#3cbecd"/></linearGradient><linearGradient id="gfp" x1="0" y1="0" x2="0" y2="1"><stop offset="0" stop-color="#f2f3fb"/><stop offset="1" stop-color="#8ca2ea"/></linearGradient></defs><rect x="409" y="521" width="3.8" height="18" fill="url(#gfc)"/><text x="414.1" y="521.8" font-size="3.1" fill="#333">1.0</text><text x="414.1" y="526.6" font-size="3.1" fill="#333">0.5</text><text x="414.1" y="531.1" font-size="3.1" fill="#333">0.0</text><text x="414.1" y="535.6" font-size="3.1" fill="#333">−0.5</text><text x="414.1" y="540.1" font-size="3.1" fill="#333">−1.0</text><text x="409.2" y="544.3" font-size="3.0" fill="#222">P value</text><rect x="409" y="545.5" width="3.8" height="17.3" fill="url(#gfp)"/><text x="414.1" y="550.8" font-size="3.1" fill="#333">0.75</text><text x="414.1" y="555.6" font-size="3.1" fill="#333">0.50</text><text x="414.1" y="559.7" font-size="3.1" fill="#333">0.25</text><text x="414.1" y="564.5" font-size="3.1" fill="#333">0.00</text><g transform="translate(447.3,488.0) scale(0.9900,0.11030)" stroke-width="1.04" fill="none"><path stroke="#4dbbd5" d="M0 0v86M1 0v72M2 0v31M3 0v40M4 0v89M5 0v33M6 0v18M7 0v52M8 0v24M9 0v75M10 0v37M11 0v59M12 0v88M13 0v29M14 0v78M15 0v74M16 0v62M17 0v62M18 0v60M19 0v198M20 0v75M21 0v34M22 0v79M23 0v47M24 0v34M25 0v77M26 0v41M27 0v112M28 0v16M29 0v38M30 0v187M31 0v9M32 0v38M33 0v90M34 0v5M36 0v95M37 0v76M38 0v42M39 0v69M40 0v135M41 0v51M42 0v66M43 0v62M44 0v14M45 0v86M46 0v50M47 0v128M48 0v10M49 0v42M50 0v25M51 0v133M52 0v9M53 0v55M54 0v89M55 0v15M56 0v19M57 0v66M58 0v25M59 0v80M60 0v100M61 0v117M62 0v108M63 0v58M64 0v120M65 0v8M66 0v42M67 0v33M68 0v76M69 0v76M70 0v37M71 0v163M72 0v93M73 0v51M74 0v42M75 0v70M76 0v17M77 0v27M78 0v16M79 0v116M80 0v61M81 0v55M82 0v53M83 0v83M84 0v29M85 0v39M86 0v8M87 0v45M88 0v14M89 0v116M90 0v133M91 0v139M92 0v26M93 0v4M94 0v105M95 0v68M96 0v44M97 0v19M98 0v35M99 0v31M100 0v128M101 0v93M102 0v44M103 0v33M104 0v72M105 0v36M106 0v134M107 0v17M108 0v40M109 0v93"/><path stroke="#e64b35" d="M0 85v7M1 71v4M2 30v7M3 39v4M4 88v8M5 32v8M6 17v4M7 51v19M8 23v5M9 74v5M10 36v16M11 58v15M14 77v8M16 61v9M17 61v7M18 59v6M19 197v4M20 74v5M21 33v13M22 78v6M23 46v11M24 33v7M25 76v10M26 40v5M27 111v17M28 15v10M30 186v5M31 8v16M32 37v13M33 89v5M35 2v8M36 94v10M37 75v7M38 41v9M39 68v11M40 134v4M41 50v8M43 61v9M44 13v6M45 85v7M46 49v15M47 127v8M49 41v15M50 24v6M52 8v4M53 54v4M54 88v8M56 18v5M57 65v8M58 24v14M59 79v6M60 99v13M61 116v13M62 107v8M63 57v10M64 119v16M65 7v11M66 41v5M67 32v5M69 75v6M70 36v7M71 162v6M72 92v12M74 41v5M75 69v6M76 16v7M77 26v6M79 115v7M80 60v4M81 54v7M82 52v6M83 82v11M84 28v5M86 7v5M87 44v9M89 115v11M90 132v6M91 138v16M92 25v9M93 3v5M95 67v13M96 43v4M97 18v4M98 34v9M99 30v14M100 127v5M101 92v6M102 43v4M103 32v4M104 71v18M105 35v7M108 39v13M109 92v6"/><path stroke="#00a087" d="M0 90v7M1 74v7M2 35v32M3 42v7M4 96v9M5 38v8M6 21v6M8 27v16M9 78v22M10 51v15M11 72v13M12 89v9M13 30v4M14 84v16M15 75v5M16 69v30M17 67v5M18 64v10M19 201v4M20 78v8M21 45v22M22 83v28M23 56v10M24 39v11M25 85v15M26 44v8M27 127v23M28 25v11M30 190v9M31 23v7M32 49v18M33 93v14M34 4v11M35 9v10M36 103v4M37 81v5M38 48v16M39 77v19M40 137v7M41 57v12M42 66v4M43 70v7M44 19v8M45 91v10M46 63v11M47 134v4M48 11v6M49 55v6M50 29v18M51 134v9M52 11v18M53 57v6M54 95v10M55 15v18M56 22v12M57 71v15M58 37v8M59 84v7M60 110v10M61 128v14M62 114v18M63 66v11M64 134v10M65 17v4M66 45v6M67 36v8M68 77v7M69 80v8M70 43v26M71 166v16M72 104v19M73 52v19M74 45v16M75 73v16M76 22v22M77 31v10M78 16v5M79 121v12M80 63v9M81 59v28M82 57v10M83 92v4M84 32v34M85 41v17M86 11v33M87 52v14M88 14v22M89 125v13M90 137v18M91 152v5M92 33v18M93 7v17M94 104v18M95 79v9M96 45v9M97 21v29M98 42v4M99 44v14M101 98v20M102 46v5M103 36v27M104 88v12M105 41v6M106 135v5M107 17v10M108 50v13M109 97v11"/><path stroke="#3c5488" d="M0 97v95M1 80v30M2 66v53M3 48v39M4 103v71M5 45v62M6 26v141M7 71v118M8 42v119M9 99v36M10 65v213M11 84v136M12 97v58M13 33v108M14 99v43M15 80v124M16 98v100M17 71v103M18 73v79M19 203v46M20 85v73M21 67v56M22 109v55M23 65v66M24 49v31M25 100v37M26 51v88M27 150v78M28 35v112M29 41v128M30 198v58M31 29v25M32 65v109M33 106v99M34 14v77M35 18v153M36 106v75M37 85v30M38 63v49M39 95v96M40 143v53M41 68v38M42 70v215M43 76v52M44 26v91M45 101v48M46 73v61M47 136v25M48 16v17M49 61v143M50 46v39M51 143v106M52 28v55M53 62v22M54 104v69M55 32v50M56 33v61M57 86v57M58 44v164M59 90v4M60 119v56M61 141v129M62 131v144M63 76v52M64 143v38M65 20v22M66 50v138M67 43v9M68 83v34M69 86v125M70 67v53M71 181v38M72 122v92M73 69v35M74 60v164M75 88v60M76 43v35M77 40v104M78 20v143M79 132v29M80 72v48M81 86v60M82 66v60M83 96v133M84 65v28M85 56v49M86 44v72M87 65v25M88 35v98M89 136v65M90 154v37M91 156v129M92 50v50M93 23v77M94 121v51M95 87v81M96 54v8M97 49v11M98 46v61M99 57v75M100 134v48M101 116v121M102 50v97M103 62v36M104 99v107M105 47v70M106 140v110M107 26v76M108 63v61M109 108v14"/><path stroke="#f39b7f" d="M0 191v10M1 108v14M2 118v4M4 173v6M5 107v7M6 166v7M7 189v12M8 160v15M9 134v9M10 277v10M11 219v8M12 154v10M13 139v5M14 141v7M15 203v7M16 197v13M18 151v5M19 248v11M20 158v4M21 122v10M23 130v10M25 136v5M27 227v13M28 146v5M29 168v4M30 255v4M31 53v6M32 173v5M35 170v7M38 112v9M39 190v5M40 195v16M43 127v4M44 115v8M45 147v4M46 133v8M47 160v4M48 31v5M49 203v5M50 84v7M51 248v6M52 82v5M53 83v8M54 171v6M56 93v7M59 92v6M60 174v4M61 270v15M62 274v5M63 127v5M64 180v4M66 186v4M67 51v5M68 116v14M69 210v11M70 119v7M71 219v6M72 213v7M74 223v16M75 147v9M77 144v9M80 118v5M81 145v5M82 125v4M83 228v5M84 91v8M85 105v9M87 90v9M89 201v8M91 284v8M92 99v8M93 98v9M94 171v13M96 60v4M97 59v9M98 105v5M100 180v12M102 146v4M103 97v6M104 206v10M105 116v4M106 249v9M107 101v7M109 121v5"/><path stroke="#8491b4" d="M0 199v86M1 121v237M2 121v407M3 87v177M4 178v56M5 112v108M6 172v197M7 199v117M8 174v46M9 142v95M10 286v29M11 226v67M12 163v258M13 143v125M14 147v70M15 209v95M16 209v83M17 174v83M18 155v140M19 258v140M20 161v166M21 131v77M22 165v126M23 139v227M24 80v245M25 140v64M26 139v274M27 240v180M28 150v109M29 171v65M30 259v98M31 58v50M32 177v125M33 207v192M34 92v86M35 176v223M36 181v174M37 115v344M38 120v264M39 194v168M40 210v79M41 105v170M42 286v45M43 130v129M44 122v198M45 151v110M46 140v317M47 163v221M48 36v116M49 207v97M50 89v405M51 253v26M52 86v269M53 90v171M54 176v189M55 83v120M56 100v210M57 143v214M58 209v227M59 97v73M60 177v181M61 283v69M62 277v129M63 131v138M64 184v169M65 41v180M66 190v375M67 55v313M68 129v80M69 220v85M70 125v201M71 224v147M72 218v35M73 104v300M74 238v67M75 155v78M76 78v140M77 151v246M78 163v156M79 162v120M80 122v220M81 149v406M82 128v42M83 232v63M84 98v212M85 113v178M86 117v70M87 97v139M88 131v203M89 208v215M90 192v184M91 291v131M92 106v106M93 106v181M94 183v273M95 169v244M96 63v167M97 67v41M98 109v243M99 133v155M100 191v182M101 237v129M102 149v171M103 102v17M104 215v204M105 119v258M106 258v95M107 107v177M108 125v46M109 124v88"/><path stroke="#91d1c2" d="M0 285v22M1 357v5M2 527v7M3 263v19M4 233v15M5 219v14M6 368v9M7 315v32M8 219v15M11 292v13M13 267v12M14 216v10M15 303v9M16 291v8M17 256v11M18 295v7M19 397v25M20 326v8M21 206v9M22 290v11M23 365v18M24 323v7M25 202v10M26 412v14M27 419v21M28 257v18M29 236v11M30 356v4M31 106v12M32 300v7M33 398v18M34 177v8M35 398v10M36 354v7M37 458v6M38 383v13M39 361v9M40 288v6M41 274v5M42 329v5M43 258v21M44 319v14M46 456v17M47 383v28M48 151v9M49 303v24M50 494v6M51 278v11M52 355v4M55 202v7M56 308v18M58 434v25M59 169v5M60 357v18M61 351v11M62 405v18M63 268v22M64 351v12M66 564v5M67 367v9M68 208v4M69 304v8M70 325v4M71 370v9M72 252v17M73 403v12M74 304v7M75 232v11M77 396v12M78 318v7M79 281v40M80 341v6M82 170v6M83 294v7M84 310v13M86 185v5M87 235v12M88 333v6M89 422v8M90 374v10M91 422v13M92 211v8M93 286v8M94 454v17M95 412v7M96 229v14M97 107v10M98 350v7M99 286v4M102 319v10M103 117v8M104 418v5M105 376v13M107 284v7M108 170v11"/><path stroke="#dc0000" d="M0 306v78M1 361v25M2 533v91M3 280v30M4 246v38M5 232v165M6 376v34M7 346v9M8 233v69M9 238v29M10 316v29M11 304v41M12 421v35M13 278v9M14 225v29M15 311v73M16 298v43M17 266v60M18 300v25M19 421v15M20 333v55M21 214v100M22 300v55M23 382v35M24 330v22M25 211v151M26 425v43M27 439v20M28 275v44M29 245v21M30 358v36M31 117v11M32 306v10M33 415v66M34 184v31M35 407v53M36 360v92M37 463v60M38 395v46M39 369v22M40 293v69M41 278v79M42 333v24M43 278v50M44 332v29M45 261v39M46 472v5M47 409v21M48 158v15M49 325v36M50 499v25M51 287v108M52 358v7M53 262v31M54 366v44M55 209v19M56 326v43M57 358v22M58 459v26M59 173v79M60 373v53M61 361v87M62 423v45M63 290v18M64 362v35M65 222v33M66 568v6M67 375v39M68 212v17M69 311v18M70 328v45M71 378v30M72 269v82M73 414v26M74 310v36M75 241v27M76 218v85M77 407v49M78 324v57M79 320v21M80 346v35M81 556v55M82 175v14M83 300v71M84 322v37M85 292v66M86 189v62M87 247v61M88 338v6M89 429v24M90 384v37M91 434v8M92 218v21M93 293v48M94 470v11M95 418v5M96 242v26M97 116v101M98 356v9M99 289v29M100 374v16M101 366v11M102 328v12M103 124v59M104 422v25M105 388v61M106 354v26M107 289v21M108 180v92M109 213v37"/><path stroke="#7e6148" d="M0 383v15M1 384v11M2 623v9M3 309v44M4 284v55M5 395v34M6 409v33M7 354v29M8 300v6M9 266v22M10 344v25M11 344v28M12 454v5M13 286v39M14 253v17M15 382v9M16 340v6M17 325v25M18 324v13M19 434v45M20 387v57M21 313v5M22 354v29M23 416v28M24 350v63M25 361v4M26 467v9M27 457v13M28 318v5M29 265v13M30 394v23M31 127v41M32 315v33M33 480v14M34 214v16M35 459v16M36 450v22M37 522v22M38 440v14M39 389v25M40 361v53M41 356v13M42 356v68M43 327v40M44 360v16M45 300v15M46 476v29M47 429v30M48 173v41M49 361v38M50 523v15M51 394v26M52 363v22M53 292v17M55 226v28M56 368v9M57 380v7M58 484v10M59 251v41M60 426v14M61 447v58M62 466v14M63 307v21M64 396v35M65 255v17M66 573v7M67 413v7M68 228v12M69 328v16M70 372v39M71 407v18M72 349v8M73 439v9M74 345v13M75 267v10M76 302v12M77 455v6M78 380v36M79 339v24M80 380v14M81 610v9M82 189v62M83 370v50M84 358v19M85 357v14M86 250v15M87 307v32M88 344v12M89 452v4M90 420v18M91 442v10M92 238v12M93 340v22M94 480v5M95 422v12M96 268v91M97 215v32M99 317v10M100 389v26M101 376v24M102 339v14M103 183v21M104 446v30M105 448v15M106 380v15M107 309v23M108 271v13M109 249v7"/><path stroke="#b09c85" d="M0 397v6M1 394v4M2 631v13M3 352v5M4 338v12M5 428v32M6 442v17M7 382v17M8 306v27M9 287v7M10 368v36M11 371v10M12 458v5M13 324v19M14 269v26M15 390v7M16 345v4M17 349v19M18 336v7M19 479v10M20 443v7M21 317v9M22 382v6M23 443v14M24 412v4M25 364v8M26 475v9M27 469v18M28 322v29M29 277v5M30 416v13M31 168v6M32 347v40M33 493v14M34 229v8M35 474v20M37 543v6M38 453v7M39 413v8M40 412v11M41 368v14M42 423v20M43 366v7M44 375v6M45 314v11M46 504v11M47 458v9M48 213v16M49 397v13M50 537v12M51 419v17M52 384v8M53 308v26M54 410v5M55 253v15M56 376v19M57 386v25M58 494v7M59 291v23M61 504v21M62 479v15M63 327v10M64 430v9M66 579v5M67 419v11M68 239v14M69 344v5M70 410v10M71 424v10M72 356v9M74 357v7M76 312v9M77 460v6M78 416v5M79 362v9M80 392v13M81 618v8M82 250v10M83 419v4M84 376v15M85 370v18M86 265v36M87 338v6M88 355v15M89 455v9M90 437v10M91 450v21M92 249v6M93 361v10M94 484v9M95 433v12M96 358v9M97 247v5M98 365v18M99 327v20M100 414v19M101 399v5M102 352v5M103 203v5M104 475v24M105 462v11M106 394v7M107 331v23M108 283v6M109 255v22"/><path stroke="#e07a9a" d="M0 402v38M1 397v62M2 643v29M3 356v14M4 348v37M5 459v16M6 458v45M7 397v25M8 332v32M9 292v10M10 403v33M11 380v84M12 462v32M13 342v36M14 294v26M15 396v63M16 348v78M17 367v83M18 343v10M19 488v14M20 449v5M21 325v43M22 387v20M23 456v19M24 415v15M25 371v37M26 483v15M27 487v22M28 351v32M29 281v48M30 428v21M31 172v10M32 386v5M33 506v28M34 237v58M35 493v15M36 473v33M37 548v14M38 459v8M39 421v36M40 422v53M41 381v37M42 441v32M43 373v29M44 380v32M45 323v42M46 513v6M47 466v134M48 228v55M49 409v71M50 548v47M51 435v47M52 391v25M53 333v29M54 415v23M55 267v17M56 393v31M57 410v35M58 499v22M59 313v42M60 440v16M61 523v62M62 493v25M63 336v29M64 438v41M65 272v34M66 583v16M67 429v39M68 252v19M69 347v9M70 419v17M71 432v55M72 364v56M73 448v23M74 363v29M75 279v16M76 320v37M77 465v55M78 420v21M79 370v42M80 404v44M81 624v15M82 259v56M83 422v5M84 390v33M85 387v5M86 300v30M87 343v31M88 369v25M89 463v6M90 446v26M91 470v11M92 255v31M93 370v76M94 492v34M95 445v7M96 366v44M97 250v49M98 382v17M99 346v57M100 432v24M101 404v10M102 356v20M103 207v35M104 498v59M106 400v32M107 353v6M108 287v20M109 276v67"/><path stroke="#e6e34a" d="M0 439v32M1 458v5M2 672v23M3 369v31M4 384v49M5 474v12M6 502v25M7 421v27M8 363v5M9 302v36M10 434v15M11 462v41M12 493v7M13 377v70M14 319v45M15 458v23M16 425v21M17 450v30M18 352v87M19 501v32M20 454v56M21 367v12M22 406v29M23 473v13M24 428v29M25 407v54M26 496v64M27 508v33M28 382v27M29 329v23M30 448v30M31 181v18M32 391v22M33 533v44M34 294v53M35 507v41M36 505v20M37 561v21M38 466v18M39 455v44M40 474v23M41 417v7M42 472v17M43 400v25M44 411v69M45 365v55M46 518v51M47 599v40M48 282v42M49 479v7M50 594v82M51 481v18M52 415v29M53 360v36M54 437v6M55 283v34M56 423v23M57 444v19M58 520v40M59 355v17M60 455v37M61 584v35M62 517v24M63 364v21M64 478v37M65 305v5M66 598v23M67 466v17M68 270v32M69 355v13M70 436v9M71 486v23M72 419v39M73 469v30M74 391v106M75 294v37M76 356v37M77 519v8M78 440v24M79 411v61M80 447v70M81 638v13M82 314v37M83 426v13M84 422v74M85 392v16M86 329v10M87 373v25M88 392v31M89 468v26M90 470v25M91 481v36M92 285v40M93 445v35M94 525v36M95 451v35M96 409v18M97 298v36M98 399v64M99 402v13M100 455v18M101 413v45M102 375v20M103 241v32M104 556v8M105 473v30M106 431v51M107 359v32M108 306v47M109 342v29"/><path stroke="#e2e6c0" d="M0 470v12M2 694v22M3 398v18M4 432v42M5 485v62M6 526v35M7 447v14M8 368v13M9 336v18M10 449v81M11 503v77M12 499v39M13 446v46M14 362v67M15 480v30M16 445v34M17 479v22M18 438v30M19 533v90M20 509v34M21 378v16M22 434v57M23 485v11M24 456v20M25 460v74M26 559v10M27 540v25M28 408v91M29 351v10M30 477v16M31 198v9M32 412v48M33 577v37M35 547v16M36 524v9M37 581v13M38 483v16M39 498v41M40 497v61M41 423v39M42 488v11M43 424v22M44 479v46M45 418v37M46 568v52M47 637v9M48 323v7M49 486v11M50 675v44M51 498v48M52 443v32M53 395v52M54 441v59M55 316v41M56 446v73M57 462v11M58 559v59M59 371v51M60 490v37M61 619v13M62 540v38M63 384v20M64 514v9M65 309v20M66 620v6M67 482v29M68 302v6M69 368v13M70 444v17M71 509v9M72 457v25M73 498v15M74 495v35M75 330v46M76 392v77M77 527v28M78 463v39M79 471v89M80 516v17M81 650v26M82 350v9M83 438v31M84 495v10M85 407v58M86 338v6M87 397v48M88 422v10M89 494v10M90 494v25M91 515v108M92 324v41M93 479v17M94 559v42M95 484v44M96 426v64M97 333v30M98 462v17M99 414v14M100 471v10M101 458v30M102 394v18M103 272v49M104 563v41M105 502v17M106 481v86M107 390v30M108 351v31M109 370v17"/><path stroke="#6ee04e" d="M0 481v118M1 462v106M2 715v83M3 416v60M4 473v53M5 546v188M6 560v137M7 460v17M8 380v132M9 353v57M10 529v23M11 579v75M12 537v207M13 491v51M14 428v86M15 509v209M16 477v29M17 500v34M18 467v240M19 622v133M20 541v138M21 393v140M22 491v91M23 496v55M24 476v99M25 534v115M26 568v14M27 564v11M28 497v71M29 360v178M30 492v90M31 206v80M32 459v129M33 613v185M34 348v182M35 562v49M36 532v126M37 593v130M38 498v163M39 538v52M40 557v127M41 460v128M42 498v147M43 445v173M44 524v105M45 454v121M46 619v90M47 645v124M48 329v116M49 496v187M50 718v36M51 545v70M52 475v153M53 446v169M54 499v148M55 356v94M56 517v56M57 472v31M58 616v72M59 421v125M60 526v120M61 631v96M62 577v62M63 403v85M64 522v76M65 329v147M66 624v41M67 510v180M68 307v205M69 379v123M70 459v35M71 517v126M72 481v145M73 512v71M74 530v79M75 376v188M76 468v198M77 553v72M78 501v179M79 559v91M80 532v44M81 675v91M82 358v141M83 468v99M84 504v72M85 464v187M86 343v162M87 443v69M88 431v69M89 503v55M90 518v190M91 622v51M92 364v81M93 495v83M94 601v33M95 527v232M96 489v251M97 362v80M98 478v135M99 427v106M100 480v24M101 486v35M102 411v387M103 319v248M104 603v148M105 518v159M106 565v118M107 419v77M108 381v189M109 386v38"/><path stroke="#e8663e" d="M0 598v119M1 567v125M2 797v33M3 475v57M4 526v181M5 733v77M6 696v105M7 476v13M8 511v249M9 409v29M10 550v159M11 653v59M12 743v68M13 540v92M14 513v111M15 717v71M16 505v141M17 533v111M18 706v155M19 754v124M20 678v82M21 532v21M22 581v86M23 550v104M24 574v46M25 647v95M26 580v127M27 573v65M28 568v95M29 537v82M31 285v46M32 586v244M33 796v22M34 529v127M35 609v63M36 657v69M37 722v19M38 660v83M39 589v128M40 683v55M41 588v80M42 644v123M43 617v118M44 628v77M45 574v183M46 708v125M47 767v31M48 444v129M49 682v192M50 753v28M51 614v29M52 627v34M53 613v202M54 646v120M55 449v180M56 572v198M57 502v218M58 688v128M59 545v10M60 645v162M61 726v81M62 638v86M63 487v116M64 597v82M65 474v37M66 665v175M67 689v39M68 511v54M69 501v64M70 494v127M71 641v60M72 625v69M73 583v50M74 608v59M75 562v77M76 665v18M77 625v134M78 679v83M79 650v187M80 575v18M81 765v74M82 498v176M83 566v203M84 576v16M85 650v88M86 504v145M87 512v88M88 499v100M89 557v151M90 707v111M91 672v85M92 443v133M93 577v136M94 633v192M95 758v55M96 739v60M97 441v17M98 612v115M99 532v129M100 503v31M101 520v85M102 797v70M103 567v246M104 749v59M105 676v138M106 682v41M107 495v81M108 569v212M109 423v67"/><path stroke="#dcb8dc" d="M0 716v78M1 691v250M2 828v66M3 531v308M4 706v158M5 809v16M6 800v74M7 488v423M8 759v134M9 437v426M10 708v169M11 711v127M12 810v60M13 631v171M14 623v196M15 787v33M16 645v177M17 643v277M18 860v35M19 877v29M20 760v63M21 552v283M22 666v204M23 653v179M24 619v188M25 742v162M26 707v207M27 637v186M28 662v108M29 617v229M30 583v314M31 329v594M32 829v64M33 818v103M34 655v246M35 671v129M36 725v202M37 740v160M38 743v108M39 716v227M40 737v93M41 666v110M42 766v107M43 734v152M44 704v195M45 756v151M46 832v47M47 797v100M48 573v307M49 873v26M50 780v105M51 642v133M52 660v125M53 814v130M54 766v67M55 628v288M56 769v124M57 720v162M58 814v92M59 554v327M60 806v58M61 806v107M62 724v202M63 601v251M64 678v226M65 510v339M66 838v82M67 727v138M68 564v243M69 564v264M70 620v109M71 700v149M72 694v189M73 631v272M74 667v224M75 638v92M76 682v185M77 758v34M78 762v89M79 835v85M80 592v254M81 839v41M82 673v184M83 768v135M84 591v222M85 738v170M86 648v239M87 599v169M88 599v308M89 707v97M90 817v83M91 756v72M92 575v36M93 711v104M94 824v67M95 813v80M96 798v26M97 458v359M98 726v128M99 660v156M100 533v340M101 604v296M102 866v39M103 812v115M104 808v72M105 813v65M106 723v166M107 575v156M108 780v110M109 489v293"/><path stroke="#7a55d8" d="M0 794v57M1 941v16M3 838v31M4 863v19M5 823v33M6 873v20M7 909v12M8 892v13M9 863v35M10 876v29M11 837v20M12 869v41M13 801v65M14 819v32M15 819v26M16 821v23M17 919v15M18 894v18M19 905v24M20 821v16M21 834v15M22 869v19M23 831v23M24 806v54M25 903v8M26 912v17M27 822v12M28 769v21M29 845v14M30 897v27M31 922v5M32 892v6M33 920v6M34 901v27M35 799v30M36 926v6M37 899v29M38 849v16M39 943v9M40 829v44M41 775v15M42 872v25M43 885v31M44 898v18M45 906v18M46 878v45M47 896v35M48 879v14M49 897v20M50 885v17M51 774v20M52 784v54M53 943v23M54 832v43M55 916v29M56 892v34M57 880v21M58 905v34M59 880v11M60 863v6M61 913v19M62 924v10M63 851v4M64 902v20M65 848v19M66 920v13M67 863v17M68 806v24M69 827v31M70 728v39M71 848v38M72 881v38M73 902v47M74 889v4M75 729v26M76 867v18M77 791v30M78 849v32M79 919v24M80 845v25M81 879v7M82 856v14M83 902v20M84 812v57M85 907v11M86 886v23M87 767v32M88 906v19M89 803v8M90 899v30M91 827v20M92 610v10M94 890v42M95 891v16M96 823v26M97 816v29M98 852v9M99 815v47M100 872v32M101 899v39M102 904v12M103 927v17M104 879v41M105 877v34M107 730v19M108 889v12M109 781v10"/><path stroke="#dda0e0" d="M0 850v10M1 956v12M2 895v6M3 868v19M4 881v8M5 855v23M6 892v25M7 921v17M8 904v17M9 896v13M10 904v8M11 856v10M12 909v7M13 865v10M14 850v10M15 844v31M16 844v22M17 933v7M18 911v9M19 928v7M20 836v8M22 887v13M23 853v6M24 859v36M25 910v5M26 929v6M27 833v6M28 788v8M29 858v4M30 922v14M31 926v13M32 897v15M33 925v12M34 926v21M35 828v19M36 931v15M37 927v11M38 865v4M39 951v6M40 872v12M41 790v7M42 895v22M43 915v12M44 915v15M46 923v13M47 930v17M48 891v23M49 916v10M50 901v15M51 793v5M52 837v20M54 874v6M55 943v11M56 925v6M57 900v4M58 938v5M59 890v7M60 868v9M61 930v9M62 933v4M63 853v28M66 932v7M67 880v11M68 829v19M70 767v15M71 885v7M72 918v7M74 893v24M75 754v8M76 884v4M78 880v9M79 942v4M80 870v5M81 885v15M82 869v13M84 868v17M85 917v10M86 907v8M87 798v12M88 923v4M89 811v4M90 928v7M91 846v8M92 619v13M93 816v10M94 931v20M95 907v13M96 848v4M97 844v10M98 860v9M99 861v10M100 904v8M101 937v7M102 915v5M103 942v12M104 919v10M105 910v6M106 890v13M107 748v9M108 899v20M109 790v12"/><path stroke="#e067d8" d="M0 859v105M1 967v11M2 900v64M3 886v44M4 888v71M5 878v71M6 916v38M7 937v43M8 920v55M9 908v26M10 911v58M11 866v61M12 915v62M13 874v101M14 859v51M15 873v64M16 864v124M17 939v15M18 919v54M19 934v42M20 843v146M21 849v120M22 899v52M23 858v83M24 894v69M25 914v47M26 934v21M27 838v133M28 796v148M29 861v94M30 935v34M31 938v12M32 910v38M33 936v19M34 946v17M35 846v123M36 945v41M37 937v31M38 868v49M39 956v25M40 883v65M41 796v138M42 916v53M43 926v52M44 929v55M45 924v52M46 935v35M47 946v17M48 913v59M49 926v57M50 914v56M51 797v157M52 857v106M53 967v13M54 879v57M55 953v34M56 931v41M57 903v49M58 942v11M59 896v60M60 876v67M61 938v46M62 936v45M63 880v55M64 923v50M65 868v124M66 938v28M67 890v73M68 847v132M69 859v120M70 781v166M71 892v78M72 924v41M73 949v35M74 916v14M75 761v182M76 887v62M77 823v101M78 889v49M79 945v39M80 874v73M81 898v44M82 882v37M83 922v55M84 884v37M85 926v46M86 914v73M87 808v163M88 926v19M89 813v138M90 934v56M91 852v62M92 631v331M93 825v98M94 950v19M95 918v60M96 851v74M97 853v103M98 868v94M99 870v35M100 910v60M101 943v33M102 919v37M103 953v32M104 928v24M105 915v33M106 901v78M107 756v215M108 919v40M109 801v161"/><path stroke="#5bd6a0" d="M0 963v20M1 977v7M2 963v6M3 929v6M4 958v32M5 948v12M6 953v9M7 978v14M8 974v11M9 933v14M10 968v9M11 925v4M12 976v6M13 974v13M14 909v27M15 937v9M17 952v12M18 973v8M19 975v9M20 988v8M21 968v7M22 950v8M23 940v7M24 962v11M25 960v15M26 954v15M27 970v5M28 943v31M29 954v13M30 968v11M31 949v11M32 948v13M33 954v11M34 962v11M35 968v14M37 966v9M38 916v6M39 980v9M40 947v24M41 933v16M42 969v12M44 983v7M45 975v14M46 969v14M47 962v11M48 971v8M50 969v16M51 953v18M52 962v7M53 979v11M54 935v18M55 986v6M56 970v9M57 951v9M58 952v16M59 955v13M60 942v11M61 983v10M62 980v17M63 934v10M64 972v7M65 991v6M66 965v17M67 962v10M68 978v9M69 978v12M70 946v7M72 964v5M74 929v5M75 942v9M76 948v7M77 922v18M78 937v4M79 983v8M80 946v37M81 942v9M82 918v10M83 976v8M84 920v17M85 970v4M86 986v8M87 970v17M88 944v12M89 950v7M90 988v7M91 913v27M92 960v14M93 922v7M94 968v16M96 924v9M97 955v12M98 961v22M99 904v12M100 969v6M101 975v8M102 955v12M103 984v8M104 951v4M105 947v16M107 970v17M108 957v8M109 962v13"/><path stroke="#6f86d8" d="M0 983v18M1 985v16M2 971v30M3 937v64M4 997v4M5 963v38M6 964v37M7 995v6M8 986v15M9 951v50M10 978v23M11 931v70M12 983v18M13 988v13M14 939v62M15 948v53M16 991v10M17 968v33M18 982v19M19 989v12M20 997v4M21 976v25M22 958v43M23 949v52M24 978v23M25 976v25M26 970v31M27 978v23M28 976v25M29 971v30M30 982v19M31 962v39M32 961v40M33 967v34M34 975v26M35 984v17M36 987v14M37 977v24M38 924v77M39 989v12M40 973v28M41 949v52M42 981v20M43 980v21M44 992v9M45 989v12M46 984v17M47 977v24M48 979v22M49 987v14M50 984v17M51 971v30M52 977v24M53 993v8M54 954v47M55 993v8M56 979v22M57 960v41M58 970v31M59 967v34M60 956v45M61 994v7M63 945v56M64 981v20M65 996v5M66 982v19M67 972v29M68 989v12M69 989v12M70 953v48M71 979v22M72 970v31M73 988v13M74 937v64M75 953v48M76 957v44M77 944v57M78 956v45M79 995v6M80 985v16M81 952v49M82 937v64M83 988v13M84 941v60M85 974v27M87 989v12M88 957v44M89 963v38M90 997v4M91 942v59M92 975v26M93 933v68M94 985v16M95 984v17M96 935v66M97 969v32M98 986v15M99 916v85M100 975v26M101 986v15M102 970v31M103 994v7M104 960v41M105 963v38M106 981v20M107 991v10M108 968v33M109 976v25"/><path stroke="#6f7a6f" d="M2 968v4M3 933v5M4 990v9M5 959v5M6 961v5M7 992v4M9 946v5M11 928v4M14 936v4M15 944v5M16 988v4M17 963v5M19 983v7M20 995v4M23 946v4M24 972v8M27 974v5M28 973v4M29 966v5M30 978v4M31 959v4M33 964v5M34 972v4M35 980v4M38 921v4M40 970v4M46 981v4M47 973v5M49 984v4M52 968v10M53 990v4M54 951v4M58 967v4M60 952v5M64 977v4M68 986v4M71 971v8M73 984v4M74 933v5M75 950v4M76 954v4M77 940v6M78 940v17M79 991v6M80 982v4M82 926v12M83 983v6M84 936v7M86 993v7M89 956v8M90 994v4M93 929v6M95 979v6M98 983v4M101 982v6M102 966v5M103 991v4M104 954v7M107 987v5M108 964v5"/></g><g transform="translate(558.89,488.0) scale(0.9873,0.11030)" stroke-width="1.04" fill="none"><path stroke="#4dbbd5" d="M0 0v145M1 0v99M2 0v132M3 0v58M4 0v69M5 0v85M6 0v122M7 0v40M8 0v55M9 0v117M10 0v80M11 0v87M12 0v29M13 0v64M14 0v30M15 0v64M16 0v82M17 0v58M18 0v69M19 0v12M20 0v14M21 0v95M22 0v74M23 0v46M24 0v115M25 0v100M26 0v54M27 0v92M28 0v13M29 0v86M30 0v39M31 0v25M32 0v66M33 0v131M34 0v137M35 0v135M36 0v226M37 0v29M38 0v19M39 0v17M40 0v9M41 0v56M42 0v32M43 0v145M44 0v36M45 0v65M46 0v33M47 0v76M48 0v129M49 0v52M50 0v21M51 0v77M52 0v41M53 0v113M54 0v92M55 0v61M56 0v62M57 0v18M58 0v34M59 0v54M60 0v56M61 0v17M62 0v11M63 0v72M64 0v117M65 0v95M66 0v64M67 0v24M68 0v50M69 0v95M70 0v69M71 0v19M72 0v99M73 0v68M74 0v57M75 0v20M76 0v124M77 0v69M78 0v59M79 0v52M80 0v54M81 0v29M82 0v70M83 0v58M84 0v33M85 0v123M86 0v132M87 0v107M88 0v26M89 0v74M90 0v23M91 0v28M92 0v47M93 0v18M94 0v6M95 0v24M96 0v42M97 0v122M98 0v101M99 0v102M100 0v30M101 0v136M102 0v84M103 0v33M104 0v83M105 0v65M106 0v87M107 0v20M108 0v24M109 0v16"/><path stroke="#e64b35" d="M0 144v4M1 98v6M2 131v10M3 57v6M4 68v7M5 84v18M6 121v8M7 39v6M8 54v6M9 116v8M10 79v4M11 86v17M12 28v6M14 29v9M15 63v5M16 81v13M17 57v17M18 68v5M19 11v5M20 13v7M21 94v7M23 45v6M24 114v8M25 99v22M26 53v12M27 91v6M28 12v5M29 85v7M30 38v10M31 24v12M32 65v11M33 130v15M34 136v19M35 134v6M38 18v11M39 16v9M40 8v5M41 55v5M44 35v7M46 32v12M47 75v8M48 128v5M49 51v9M51 76v11M52 40v14M53 112v17M54 91v4M55 60v5M56 61v6M58 33v8M59 53v5M60 55v5M61 16v5M62 10v9M63 71v7M64 116v4M65 94v5M67 23v11M68 49v5M69 94v11M70 68v9M71 18v9M72 98v6M73 67v24M74 56v13M76 123v5M77 68v10M78 58v9M83 57v9M84 32v5M86 131v10M87 106v5M88 25v12M89 73v9M90 22v8M91 27v6M92 46v8M93 17v9M94 5v16M95 23v8M96 41v6M97 121v15M99 101v5M101 135v7M103 32v5M104 82v6M105 64v5M106 86v4M107 19v4M108 23v7M109 15v9"/><path stroke="#00a087" d="M0 147v6M1 103v5M2 140v19M3 63v14M4 74v11M5 102v21M6 128v4M7 43v49M8 59v11M9 124v10M10 82v8M11 102v5M12 33v9M13 65v24M14 38v16M15 67v16M17 73v9M18 72v8M19 15v4M20 18v9M22 75v6M23 51v21M24 121v13M25 119v7M26 64v34M27 96v5M28 16v10M29 91v4M30 47v4M31 34v31M32 75v21M34 154v22M35 139v11M36 225v5M37 29v17M38 28v27M39 24v20M40 12v7M41 59v6M42 32v15M43 146v16M44 40v23M45 65v23M46 44v4M47 82v13M48 132v5M49 59v27M50 23v26M51 87v13M52 54v23M53 128v15M54 94v5M55 64v13M57 18v8M58 40v21M59 56v8M60 59v4M61 21v4M62 18v10M63 77v11M64 119v5M65 98v15M66 65v8M67 33v4M68 53v27M69 104v16M70 76v14M71 26v13M73 90v35M75 19v20M76 127v24M77 77v7M78 66v19M79 53v12M80 55v17M81 30v12M82 70v6M83 65v14M84 36v20M85 124v42M86 140v11M87 110v10M89 81v12M90 29v8M91 32v6M92 53v11M94 20v14M95 29v10M96 46v11M97 135v9M98 101v12M99 105v27M100 30v20M101 141v21M102 85v7M103 36v12M104 88v26M105 68v11M106 90v9M107 22v4M108 29v17M109 23v17"/><path stroke="#3c5488" d="M0 152v122M1 107v81M2 158v66M3 76v64M4 85v82M5 122v43M6 131v70M7 91v21M8 69v58M9 133v81M10 89v21M11 106v43M12 41v46M13 88v143M14 52v119M15 81v34M16 94v96M17 81v239M18 79v41M19 18v30M20 26v57M21 100v40M22 79v28M23 71v59M24 133v23M25 125v102M26 97v84M27 100v39M28 25v105M29 94v64M30 50v52M31 64v39M32 94v74M33 146v67M34 175v94M35 149v66M36 230v122M37 45v81M38 54v38M39 43v156M40 18v23M41 65v67M42 46v39M43 160v78M44 62v136M45 87v33M46 47v104M47 95v33M48 135v52M49 85v54M50 47v117M51 99v7M52 76v8M53 142v150M54 98v53M55 75v23M56 68v185M57 25v32M58 59v59M59 63v79M60 62v85M61 23v119M62 27v52M63 86v147M64 123v72M65 112v53M66 72v70M67 36v141M68 79v56M69 119v153M70 89v48M71 37v39M72 104v61M73 124v110M75 38v48M76 150v75M77 83v161M78 84v161M79 64v117M80 72v74M81 41v182M82 75v46M83 78v18M84 55v78M85 165v59M86 151v43M87 119v123M88 37v73M89 91v65M90 36v48M91 37v106M92 63v103M93 28v56M94 34v54M95 39v75M96 55v78M97 144v85M98 112v148M99 131v25M100 49v112M101 161v42M102 91v62M103 47v92M104 113v38M105 79v39M106 98v47M107 25v42M108 45v29M109 40v20"/><path stroke="#f39b7f" d="M0 274v4M3 139v5M4 165v7M5 164v6M6 200v11M7 111v8M8 126v14M9 213v4M10 109v8M11 148v5M13 230v7M14 171v7M15 114v10M18 119v7M19 46v11M20 83v4M22 107v8M23 129v10M24 155v7M25 226v10M27 138v4M28 129v7M29 157v10M30 101v7M31 103v12M34 268v4M35 215v5M37 125v4M38 91v5M39 199v6M40 40v5M41 130v6M42 84v10M43 237v16M44 197v11M45 119v12M46 150v7M47 127v6M48 187v7M49 138v4M50 163v4M52 83v7M53 291v11M55 97v8M56 251v11M57 56v7M58 117v8M59 142v5M61 141v4M62 78v7M65 164v12M66 141v4M67 176v7M68 134v8M69 271v7M70 136v29M71 76v6M72 164v7M74 70v5M75 85v11M76 224v4M77 243v6M78 244v12M79 180v5M80 145v7M81 222v15M82 120v5M84 132v13M85 223v4M86 193v4M87 241v5M88 109v5M91 142v8M94 87v5M98 259v5M99 154v6M101 202v6M102 152v7M103 138v4M104 150v6M106 143v8M107 66v8M108 73v5M109 59v5"/><path stroke="#8491b4" d="M0 276v177M1 189v273M2 224v133M3 144v96M4 171v56M5 169v40M6 210v102M7 119v20M8 139v117M9 216v212M10 116v41M11 152v284M12 86v342M13 236v79M14 176v86M15 124v222M16 190v147M17 321v139M18 125v226M19 56v58M20 86v158M21 140v318M22 114v212M23 138v219M24 161v227M25 236v220M26 182v149M27 141v166M28 135v86M29 167v113M30 106v268M31 114v148M32 169v248M33 214v157M34 271v211M35 219v91M36 352v137M37 128v123M38 95v161M39 204v250M40 44v127M41 135v174M42 94v214M43 253v119M44 207v139M45 130v241M46 156v403M47 132v214M48 193v309M49 141v350M50 166v163M51 106v184M52 89v108M53 301v54M54 151v226M55 104v145M56 261v125M57 62v403M58 124v67M59 146v54M60 148v169M61 144v175M62 84v144M63 235v110M64 196v71M65 174v102M66 144v378M67 182v113M68 141v48M69 277v70M70 164v49M71 81v428M72 170v157M73 234v58M74 74v285M75 95v61M76 227v123M77 248v115M78 255v113M79 184v56M80 151v82M81 236v125M82 124v147M83 95v450M84 143v111M85 226v129M86 196v37M87 245v305M88 114v91M89 158v325M90 84v162M91 148v310M92 166v253M93 84v150M94 91v205M95 115v319M96 135v217M97 230v164M98 263v122M99 160v78M100 162v440M101 206v67M102 158v98M103 141v74M104 155v179M105 119v285M106 151v110M107 73v173M108 77v80M109 63v137"/><path stroke="#91d1c2" d="M0 452v6M1 461v28M2 356v15M3 239v4M4 226v7M5 208v5M6 311v14M7 138v6M9 426v7M10 155v13M11 435v9M13 315v14M14 261v25M15 344v13M16 335v11M17 459v14M18 351v9M19 114v10M20 243v5M21 458v11M22 325v13M23 356v15M24 386v16M25 455v7M26 330v14M27 306v20M28 220v5M29 279v22M30 374v16M31 261v25M32 416v11M35 309v13M37 250v6M38 255v5M39 452v12M40 170v14M41 308v11M42 307v16M43 370v14M44 345v17M45 370v4M46 557v16M47 345v11M48 501v21M49 490v9M50 328v4M51 289v6M52 196v20M53 355v4M54 376v8M55 248v13M56 386v6M57 464v9M58 190v7M59 198v8M60 315v23M61 318v5M62 227v16M63 344v10M64 265v6M65 276v18M66 521v4M67 294v41M68 188v28M69 345v17M70 212v18M71 508v8M72 326v5M73 291v34M74 358v27M75 155v5M76 349v9M77 362v18M78 367v16M79 239v17M81 360v8M82 270v17M83 544v5M85 354v18M86 231v10M88 203v15M89 482v6M90 246v4M92 418v9M93 233v4M94 295v22M96 350v35M97 392v6M98 383v20M99 236v4M100 601v6M102 255v13M103 215v12M104 333v4M105 402v4M106 260v8M107 244v7M109 199v26"/><path stroke="#dc0000" d="M0 457v55M1 487v20M2 370v15M3 242v73M4 232v47M5 211v84M6 323v81M7 143v51M8 256v23M9 433v35M10 167v41M11 443v62M12 429v26M13 328v81M14 285v47M15 357v29M16 346v38M17 472v17M18 359v41M19 123v14M20 247v55M21 467v43M22 337v42M23 370v24M24 401v39M25 461v49M26 343v53M27 326v80M28 223v24M29 300v15M30 389v56M31 285v43M32 426v58M33 371v39M34 481v44M35 320v48M36 490v32M37 255v31M38 260v150M39 463v47M40 183v9M41 318v51M42 322v29M43 384v33M44 360v71M45 372v13M46 572v30M47 355v34M48 521v14M49 498v11M50 331v27M51 294v70M52 216v99M53 358v33M54 383v25M55 260v29M56 391v69M57 471v6M58 196v56M59 205v12M60 338v20M61 322v43M62 242v49M63 352v38M64 271v5M65 293v25M66 524v79M67 333v34M68 215v24M69 362v75M70 229v140M71 515v8M72 330v61M73 324v27M74 384v90M75 159v75M76 357v10M77 379v18M78 381v58M79 255v56M80 233v51M81 367v39M82 286v34M83 548v16M84 256v87M85 371v13M86 241v11M87 551v61M88 217v36M89 486v18M90 248v68M91 459v12M92 425v24M93 236v31M94 316v46M95 434v47M96 384v21M97 398v22M98 403v6M99 240v68M100 606v61M101 273v108M102 267v15M103 226v29M104 336v36M105 405v20M106 267v28M107 250v48M108 157v113M109 224v29"/><path stroke="#7e6148" d="M0 511v33M1 506v9M2 383v23M3 314v31M4 278v20M5 294v21M6 404v20M7 192v35M8 278v19M9 467v18M10 207v22M11 504v10M12 453v19M13 407v6M14 331v6M15 385v14M16 382v19M17 488v7M18 399v30M19 135v48M20 302v26M21 509v64M22 379v17M23 393v30M24 439v15M26 395v10M27 405v30M28 247v13M29 314v28M30 444v23M31 327v20M32 484v22M33 408v25M34 524v28M35 367v13M36 521v40M37 285v6M38 408v22M39 509v10M40 192v25M41 368v32M42 350v27M43 416v58M44 431v4M45 385v12M46 601v6M47 388v16M48 534v25M49 508v51M50 357v45M51 363v32M52 314v7M53 390v37M54 407v27M55 289v17M56 459v10M57 476v8M58 251v26M59 216v21M60 357v76M61 363v11M62 290v29M63 389v12M64 275v4M65 316v28M66 602v17M67 366v8M68 238v25M69 435v10M70 368v23M71 522v13M72 389v34M73 350v36M74 472v7M75 234v39M76 366v12M77 396v12M78 438v27M79 310v27M80 283v20M81 405v25M82 319v14M83 563v19M84 341v34M85 383v13M86 251v21M87 611v14M88 253v21M89 504v18M90 316v16M91 470v19M92 449v21M93 266v15M94 361v16M95 480v5M97 418v21M98 408v13M99 307v22M100 666v40M101 380v17M102 281v42M103 253v28M104 370v7M105 424v25M106 294v19M107 297v17M108 269v29M109 252v101"/><path stroke="#b09c85" d="M0 543v13M1 514v6M2 405v8M3 344v31M4 296v7M5 315v9M7 226v18M8 297v6M9 485v17M11 514v10M12 472v11M13 413v14M14 335v9M15 398v23M16 400v20M17 494v8M18 428v7M19 183v8M20 326v4M21 572v10M23 422v7M24 453v8M25 511v20M26 404v4M27 434v19M28 258v10M29 341v19M30 466v9M31 346v12M32 505v8M33 432v6M34 551v18M35 379v5M36 560v13M37 290v16M38 429v12M39 518v24M40 216v8M41 399v10M42 376v14M43 472v6M44 434v6M45 396v7M46 606v8M47 403v7M48 558v4M49 558v23M50 401v14M51 394v19M52 319v20M53 427v13M54 433v19M55 305v8M56 469v19M58 276v8M59 236v6M62 318v34M63 400v17M64 278v8M65 343v22M66 618v7M67 373v18M68 262v17M69 444v16M70 390v28M71 534v12M72 422v9M73 385v7M74 479v11M75 271v9M76 377v13M77 407v24M78 464v21M79 336v5M80 302v14M81 429v32M82 332v30M83 581v6M84 375v6M85 395v12M86 271v6M87 624v6M88 273v17M89 521v7M90 330v4M91 488v17M92 469v5M93 279v5M94 375v15M95 485v10M96 406v17M97 438v15M99 328v8M100 705v9M102 322v4M103 280v8M104 376v15M105 448v9M106 312v27M108 297v17M109 352v11"/><path stroke="#e07a9a" d="M0 555v24M1 520v61M2 412v13M3 374v12M4 303v35M5 323v46M6 424v22M7 243v55M8 302v39M9 500v34M10 230v23M11 522v39M12 482v25M13 426v52M14 344v33M15 420v62M16 419v47M17 502v58M18 434v36M19 189v34M20 329v42M21 581v29M22 395v22M23 428v19M24 460v60M25 530v27M26 407v26M27 451v46M28 267v35M29 360v6M30 474v34M31 357v22M32 512v91M33 437v41M34 568v57M35 384v10M36 572v18M37 304v41M38 440v102M39 542v48M40 223v4M41 408v16M42 390v67M43 477v27M44 439v92M45 402v46M46 613v38M47 409v6M48 561v21M49 580v45M50 414v46M51 412v40M52 338v13M53 438v5M54 452v41M55 312v6M56 486v49M57 486v42M58 282v33M59 241v15M60 435v45M61 375v32M62 351v36M63 416v7M64 285v21M65 364v37M66 624v38M67 390v52M68 278v40M69 459v15M70 417v16M71 545v16M72 430v19M73 391v13M74 488v39M75 280v57M76 389v37M77 430v62M78 484v17M79 340v41M80 314v39M81 460v39M82 361v21M83 585v18M84 380v83M85 405v34M86 276v12M87 628v37M88 289v31M89 527v9M90 333v19M91 504v35M92 473v20M93 284v15M94 390v72M95 494v32M96 422v29M97 452v16M98 421v38M99 335v48M100 714v14M101 397v8M102 325v35M103 287v27M104 390v95M105 456v47M106 338v33M107 315v8M108 313v23M109 362v51"/><path stroke="#e6e34a" d="M0 578v15M1 580v72M2 424v15M3 385v27M4 337v43M5 368v30M6 445v65M7 296v32M8 340v23M9 533v18M10 252v57M11 560v15M12 506v9M13 477v31M14 375v43M15 481v67M16 465v21M17 558v35M18 469v40M19 222v48M20 370v29M21 608v21M22 416v11M23 446v40M24 519v9M25 556v46M26 432v6M27 496v62M28 301v54M29 365v14M30 508v92M31 378v33M32 602v40M33 477v36M34 624v25M35 392v38M36 589v34M37 344v36M38 541v17M39 588v55M40 226v19M41 423v28M42 456v52M43 503v14M44 530v56M45 447v20M46 651v38M47 414v40M48 581v7M49 625v11M50 459v18M51 451v34M52 350v17M53 443v20M54 492v28M55 316v32M56 535v33M57 527v27M58 314v16M59 255v15M60 479v6M61 406v32M62 386v34M63 423v28M64 305v10M65 401v46M66 662v17M67 441v44M68 317v7M69 473v24M70 432v41M71 560v16M72 448v34M73 404v40M74 526v46M75 336v25M76 425v11M77 491v28M78 499v33M79 381v57M80 353v42M81 498v63M82 381v27M83 603v15M84 462v27M85 439v70M86 287v61M87 664v11M88 318v45M89 535v55M90 351v27M91 537v12M92 491v8M93 297v56M94 460v65M95 525v15M96 450v10M97 467v13M98 458v16M99 383v21M100 726v25M101 404v26M102 359v42M103 313v23M104 484v27M105 503v51M106 370v12M107 322v30M108 334v24M109 412v32"/><path stroke="#e2e6c0" d="M0 592v66M1 650v33M2 438v34M3 411v54M4 379v19M5 397v43M6 508v55M7 327v36M8 362v40M9 550v18M10 308v69M11 574v45M12 514v52M13 507v25M14 418v47M15 547v22M16 485v94M17 593v92M18 508v32M19 269v24M20 398v39M21 629v44M22 426v9M23 485v5M24 527v37M25 601v24M26 437v4M27 558v39M28 354v32M29 378v17M30 598v15M31 410v35M32 641v19M33 512v35M34 648v7M35 429v38M36 622v20M37 379v36M38 557v22M39 642v11M40 244v9M41 450v43M42 507v19M44 586v34M45 466v13M46 687v40M47 453v27M48 587v31M49 634v12M50 476v32M51 485v41M52 366v44M53 461v16M54 519v9M55 348v13M56 567v9M57 553v25M58 329v33M59 269v22M60 484v18M61 437v17M62 419v14M63 450v13M64 314v30M65 445v42M66 678v26M67 484v13M68 323v84M69 496v47M70 472v38M71 575v31M72 481v57M73 442v41M74 571v30M75 359v20M76 435v13M77 518v25M78 531v23M79 437v10M80 394v8M81 560v38M82 407v58M83 616v10M84 488v38M85 508v6M86 347v59M87 674v32M88 362v61M89 589v15M90 377v17M91 549v25M92 499v28M93 353v18M94 525v45M95 539v21M96 459v28M97 479v32M98 474v47M99 403v8M100 750v21M101 429v37M102 400v52M103 334v22M104 511v45M106 382v18M107 351v14M108 357v35M109 442v59"/><path stroke="#6ee04e" d="M0 657v85M1 683v51M2 470v164M3 464v103M4 396v202M5 440v85M6 563v76M7 362v246M8 401v129M9 567v128M10 376v67M11 618v57M12 565v66M13 532v45M14 464v231M15 568v188M16 578v129M17 683v93M18 539v85M19 292v380M20 436v122M21 671v63M22 434v78M23 489v76M24 562v83M25 624v121M26 440v80M27 596v151M28 385v198M29 393v96M30 612v149M31 445v90M32 659v45M33 546v104M34 655v62M35 466v164M36 640v60M37 413v115M38 579v94M39 652v26M40 252v272M41 492v138M42 525v74M43 518v103M44 619v96M45 478v179M46 726v19M47 479v25M48 617v49M49 645v17M50 506v63M51 525v105M52 409v168M53 476v51M54 526v110M55 359v124M56 575v132M57 577v159M58 361v119M59 290v329M60 501v88M61 454v132M62 432v54M63 462v156M64 343v254M65 487v49M66 702v48M67 497v235M68 406v230M69 542v211M70 509v88M71 605v138M72 538v114M73 483v130M74 601v75M75 378v76M76 447v126M77 542v158M78 554v32M79 446v156M80 401v191M81 597v104M82 464v40M83 625v108M84 525v105M85 513v113M86 405v48M87 705v24M88 422v161M89 603v163M90 392v143M91 572v62M92 526v137M93 369v79M94 568v162M95 558v243M96 486v113M97 509v47M98 520v54M99 410v138M100 770v21M101 465v133M102 451v61M103 355v228M104 554v114M105 554v215M106 399v255M107 364v197M108 391v79M109 501v279"/><path stroke="#e8663e" d="M0 741v63M1 732v67M2 633v150M3 566v55M4 597v69M5 524v46M6 638v43M7 608v132M8 530v122M9 694v54M10 442v177M11 675v76M12 630v129M13 576v45M14 693v35M15 755v72M16 706v27M17 775v76M18 623v120M19 671v54M20 557v207M21 733v62M22 511v108M23 565v115M24 645v46M25 743v10M26 520v97M27 746v36M28 582v65M29 488v41M30 760v36M31 534v98M32 703v61M33 649v174M34 716v54M35 629v163M36 699v11M37 527v111M38 671v80M39 677v97M40 523v96M41 630v97M42 598v86M43 620v182M44 714v38M45 657v126M46 745v36M47 502v176M48 665v22M49 662v28M50 569v76M51 629v172M52 576v208M53 526v65M54 635v185M55 482v111M56 706v86M57 735v22M58 480v102M59 617v67M60 588v72M61 585v131M62 485v145M63 617v144M64 596v115M65 534v157M66 749v17M67 731v152M68 635v137M69 752v51M70 596v67M71 743v107M72 650v148M73 612v180M74 675v40M75 453v159M76 572v171M77 699v97M78 585v114M79 602v158M80 591v32M81 700v117M82 502v61M83 732v95M84 629v52M85 625v20M86 453v158M87 728v39M88 582v84M89 766v36M90 535v117M91 634v82M92 662v77M93 448v31M94 729v38M95 801v57M96 598v108M97 556v120M98 573v155M99 548v26M100 791v134M101 597v157M102 512v146M103 582v57M104 668v21M105 767v46M106 652v100M107 560v134M108 469v167M109 778v47"/><path stroke="#dcb8dc" d="M0 803v93M1 798v87M2 782v63M3 620v204M4 665v157M5 569v191M6 679v192M7 738v122M8 651v224M9 746v145M10 618v219M11 749v42M12 758v139M13 620v264M14 727v46M15 826v62M16 732v109M17 850v35M18 742v98M19 724v120M20 763v174M21 794v38M22 618v326M23 679v188M24 689v103M25 753v91M26 616v291M27 781v40M28 646v165M29 528v225M30 795v95M31 631v84M32 763v56M33 821v54M34 769v23M35 790v38M36 709v141M37 638v249M38 750v71M39 773v72M40 618v264M41 726v150M42 684v231M43 801v33M44 751v145M45 782v116M46 780v126M47 678v131M48 686v135M49 689v109M50 643v264M51 800v109M52 783v51M53 590v216M54 819v34M55 592v288M56 791v63M57 756v164M58 580v235M59 683v247M60 658v218M61 714v179M62 629v161M63 760v110M64 710v161M65 690v135M66 765v174M67 882v25M68 771v41M69 802v56M70 662v199M71 849v44M72 798v110M73 791v54M74 714v105M75 611v188M76 742v98M77 795v98M78 698v138M79 759v32M80 622v272M81 816v42M82 562v311M83 826v80M84 680v84M85 644v109M86 610v309M87 766v68M88 665v203M89 801v81M90 651v247M91 715v186M92 738v134M93 477v344M94 766v99M95 857v29M96 705v146M98 727v138M99 573v298M100 924v21M101 753v118M102 656v171M103 638v293M104 688v160M105 812v84M106 752v75M107 692v113M108 635v160M109 824v50"/><path stroke="#7a55d8" d="M0 895v18M1 884v11M2 844v45M3 823v24M4 821v30M5 760v24M6 870v37M7 859v61M8 873v12M9 891v26M10 836v42M11 790v29M12 896v30M13 883v47M14 773v11M15 887v18M16 840v10M17 884v9M18 839v27M19 843v85M20 936v5M21 831v39M22 943v8M23 866v45M24 791v14M25 842v29M26 906v15M27 820v63M28 810v28M29 752v6M30 889v4M31 714v15M32 818v27M33 875v36M34 791v57M35 827v16M36 849v20M37 886v33M38 820v62M39 845v29M40 880v14M41 875v22M42 913v32M43 833v39M44 894v8M45 897v20M46 905v39M47 807v45M48 820v49M49 796v45M50 907v11M51 908v38M52 833v41M53 805v30M54 852v59M55 879v25M56 852v10M57 919v4M58 814v13M59 929v16M60 875v20M61 892v16M62 789v65M63 869v5M64 870v15M65 824v32M66 938v9M67 906v37M68 812v37M69 856v28M70 860v28M71 892v15M72 907v13M73 844v37M74 818v52M75 798v34M76 839v14M77 892v23M78 835v54M79 789v22M80 893v38M81 857v43M82 872v21M83 905v11M84 763v47M85 752v9M86 917v26M87 833v34M88 866v35M89 881v19M90 897v6M91 900v13M92 871v10M93 820v14M94 863v67M95 885v11M96 850v16M97 676v29M98 863v51M99 870v12M100 944v33M101 871v29M102 826v12M103 930v13M104 847v30M105 896v23M106 825v44M107 804v15M108 793v29M109 873v43"/><path stroke="#dda0e0" d="M0 912v22M1 894v4M2 889v5M3 846v15M4 850v22M5 783v11M6 906v11M7 920v8M8 884v13M9 916v4M10 877v4M11 818v22M12 925v18M14 783v4M15 904v11M16 849v18M17 892v8M18 865v18M20 941v7M21 870v15M22 950v13M23 910v8M25 870v28M26 920v6M27 882v10M28 837v11M29 757v11M30 892v16M31 728v15M32 844v25M33 910v4M34 847v16M35 842v9M36 869v6M37 917v4M38 881v13M39 872v27M41 896v19M42 944v6M43 871v12M44 901v19M45 915v10M46 944v11M48 868v22M49 841v7M50 917v4M51 945v10M52 873v10M53 834v18M54 909v8M55 903v17M56 862v48M57 922v14M58 826v26M59 944v7M60 895v8M61 907v11M62 853v10M63 873v14M64 885v7M65 854v26M66 946v12M67 942v8M68 848v19M69 883v10M70 887v20M71 906v8M72 919v15M73 880v11M74 869v6M75 831v7M76 852v14M77 914v19M78 888v17M79 810v6M80 930v4M81 899v9M82 892v6M84 809v10M85 761v29M86 943v5M87 866v8M88 901v10M89 899v7M90 902v5M91 912v31M93 833v9M94 929v27M95 895v12M96 865v9M97 704v13M99 881v16M101 899v19M102 838v5M104 876v7M105 918v10M106 868v7M107 818v9M109 915v16"/><path stroke="#e067d8" d="M0 933v28M1 897v55M2 893v79M3 860v102M4 871v53M5 794v190M6 916v44M7 927v30M8 896v55M9 919v48M10 880v77M11 840v53M12 941v42M13 931v22M14 786v197M15 914v64M16 866v85M17 899v70M18 882v53M19 928v40M20 946v34M21 883v37M23 917v43M24 805v176M25 897v73M26 924v35M27 891v34M28 847v118M29 767v165M30 907v81M31 742v165M32 867v109M33 913v46M34 862v118M35 851v138M36 874v89M37 920v54M38 893v60M39 898v55M40 895v68M41 914v76M42 950v33M43 882v79M44 920v49M45 925v22M46 953v26M47 852v67M48 889v85M49 847v93M50 920v49M51 954v34M52 881v97M53 851v98M54 916v53M55 919v51M56 908v46M57 935v39M58 852v74M59 949v27M60 902v87M61 917v40M62 862v43M63 886v83M64 891v78M65 880v77M66 957v9M67 949v12M68 866v108M69 892v35M70 906v64M71 913v50M72 933v52M73 890v81M74 874v91M75 837v97M76 865v123M77 932v20M78 904v52M79 815v116M80 933v32M81 907v77M82 897v55M83 917v59M84 818v86M85 789v148M86 947v10M87 873v87M88 909v43M89 905v62M90 906v51M91 942v16M92 882v91M93 842v119M94 956v16M95 906v68M96 873v93M97 717v267M98 914v67M99 896v72M100 978v19M101 917v72M102 841v95M103 944v45M104 881v89M105 927v40M106 875v67M107 826v141M108 824v118M109 930v35"/><path stroke="#5bd6a0" d="M0 960v17M1 951v13M2 971v10M3 960v25M4 924v9M5 983v6M6 959v23M7 955v7M8 950v26M9 966v4M10 956v6M11 892v26M12 982v10M13 952v9M14 982v7M15 977v5M16 951v5M17 969v20M18 934v14M19 967v8M20 979v5M21 920v7M22 963v4M23 959v9M24 980v7M25 970v7M26 958v11M27 924v40M28 964v11M29 931v21M30 987v7M31 906v37M33 958v19M34 979v5M35 987v5M36 962v10M37 973v7M38 952v20M39 952v20M40 962v27M41 989v5M42 982v9M43 960v5M44 967v8M45 946v9M46 979v6M47 919v9M48 973v10M49 939v51M50 968v9M51 987v8M52 977v4M53 948v6M54 968v16M55 969v4M56 953v27M57 973v9M58 925v11M59 975v17M60 988v7M61 956v7M62 904v37M63 968v5M64 968v6M65 956v9M66 965v10M67 960v5M68 973v8M69 926v14M70 969v14M71 962v7M72 983v8M73 970v11M74 964v9M75 933v15M76 987v7M77 952v31M78 955v15M79 931v9M80 964v18M82 951v10M83 975v13M84 904v11M85 936v32M87 959v4M88 951v10M89 966v16M90 956v10M91 957v8M92 972v16M93 959v16M94 971v12M95 973v9M96 966v7M98 980v4M99 967v10M101 988v5M102 935v20M103 988v7M104 969v11M105 966v8M106 940v6M107 966v22M108 940v10"/><path stroke="#6f7a6f" d="M0 976v8M1 963v5M4 932v4M7 962v11M8 975v8M11 916v6M13 960v6M16 955v6M17 988v4M18 947v7M19 975v7M20 983v6M21 926v6M23 967v6M25 975v4M27 963v4M28 973v5M29 950v16M33 976v4M35 991v6M36 970v7M37 979v4M39 972v10M42 989v5M46 984v4M47 926v10M48 983v9M50 977v4M52 981v5M53 953v6M54 983v6M55 973v4M56 978v4M57 982v4M58 935v8M61 961v6M63 972v5M64 973v8M65 964v5M68 980v5M69 939v8M70 981v4M71 968v10M72 990v4M73 980v4M75 947v7M80 981v6M81 985v6M82 960v10M84 914v5M87 961v7M89 980v4M91 965v5M93 975v4M94 982v9M96 971v5M98 983v4M104 979v5M106 946v5M107 987v7M108 950v4M109 965v4"/><path stroke="#6f86d8" d="M0 983v18M1 967v34M2 982v19M3 985v16M4 934v67M5 989v12M6 982v19M7 971v30M8 982v19M9 971v30M10 962v39M11 921v80M12 993v8M13 965v36M14 990v11M15 981v20M16 960v41M17 990v11M18 953v48M19 980v21M20 987v14M21 931v70M22 967v34M23 972v29M24 988v13M25 978v23M26 971v30M27 966v35M28 978v23M29 965v36M30 994v7M31 944v57M32 977v24M33 979v22M34 985v16M35 996v5M36 977v24M37 982v19M38 971v30M39 980v21M40 988v13M41 994v7M42 993v8M43 966v35M44 976v25M45 955v46M46 987v14M47 936v65M48 990v11M49 989v12M50 979v22M51 994v7M52 985v16M53 959v42M54 989v12M55 976v25M56 981v20M57 984v17M58 942v59M59 993v8M60 995v6M61 967v34M62 943v58M63 976v25M64 980v21M65 968v33M66 975v26M67 965v36M68 983v18M69 947v54M70 984v17M71 977v24M72 993v8M73 983v18M74 973v28M75 953v48M76 994v7M77 983v18M78 971v30M79 939v62M80 986v15M81 990v11M82 969v32M83 989v12M84 918v83M85 968v33M86 958v43M87 967v34M88 962v39M89 983v18M90 967v34M91 968v33M92 987v14M93 978v23M94 990v11M95 982v19M96 975v26M97 984v17M98 986v15M99 978v23M101 994v7M102 955v46M103 995v6M104 983v18M105 975v26M106 950v51M107 992v9M108 952v49M109 968v33"/></g><rect x="446.8" y="473.3" width="108.9" height="9" fill="#d9d9d9"/><rect x="558.4" y="473.3" width="108.6" height="9" fill="#d9d9d9"/><text x="501.2" y="479.5" font-size="4.6" text-anchor="middle" fill="#1a1a1a">Low</text><text x="612.7" y="479.5" font-size="4.6" text-anchor="middle" fill="#1a1a1a">High</text><text x="557" y="470.6" font-size="6" text-anchor="middle" fill="#111">RECQL4</text><text x="444.8" y="599.9" font-size="4.5" text-anchor="end" fill="#222">0</text><text x="444.8" y="572.32" font-size="4.5" text-anchor="end" fill="#222">25</text><text x="444.8" y="544.75" font-size="4.5" text-anchor="end" fill="#222">50</text><text x="444.8" y="517.18" font-size="4.5" text-anchor="end" fill="#222">75</text><text x="444.8" y="489.6" font-size="4.5" text-anchor="end" fill="#222">100</text><path d="M446.8 598.3h-1.2M446.8 570.72h-1.2M446.8 543.15h-1.2M446.8 515.58h-1.2M446.8 488h-1.2M446.8 486V598.3" stroke="#333" stroke-width="0.5" fill="none"/><text transform="translate(431.4,543) rotate(-90)" font-size="5.2" text-anchor="middle" fill="#111">Proportion (%)</text><text x="447" y="619.5" font-size="3.2" fill="#222">group</text><g font-size="3.5" fill="#222"><rect x="457.8" y="601.4" width="5.8" height="5.9" fill="#4dbbd5"/><text x="466.6" y="605.7">B cells naive</text><rect x="457.8" y="607.55" width="5.8" height="5.9" fill="#e64b35"/><text x="466.6" y="611.85">B cells memory</text><rect x="457.8" y="613.7" width="5.8" height="5.9" fill="#00a087"/><text x="466.6" y="618">Plasma cells</text><rect x="457.8" y="619.85" width="5.8" height="5.9" fill="#3c5488"/><text x="466.6" y="624.15">T cells CD8</text><rect x="457.8" y="626" width="5.8" height="5.9" fill="#f39b7f"/><text x="466.6" y="630.3">T cells CD4 naive</text><rect x="496.7" y="601.4" width="5.8" height="5.9" fill="#8491b4"/><text x="505.5" y="605.7">T cells CD4 memory resting</text><rect x="496.7" y="607.55" width="5.8" height="5.9" fill="#91d1c2"/><text x="505.5" y="611.85">T cells CD4 memory activated</text><rect x="496.7" y="613.7" width="5.8" height="5.9" fill="#dc0000"/><text x="505.5" y="618">T cells follicular helper</text><rect x="496.7" y="619.85" width="5.8" height="5.9" fill="#7e6148"/><text x="505.5" y="624.15">T cells regulatory (Tregs)</text><rect x="496.7" y="626" width="5.8" height="5.9" fill="#b09c85"/><text x="505.5" y="630.3">T cells gamma delta</text><rect x="554.4" y="601.4" width="5.8" height="5.9" fill="#e07a9a"/><text x="563.2" y="605.7">NK cells resting</text><rect x="554.4" y="607.55" width="5.8" height="5.9" fill="#e6e34a"/><text x="563.2" y="611.85">NK cells activated</text><rect x="554.4" y="613.7" width="5.8" height="5.9" fill="#e2e6c0"/><text x="563.2" y="618">Monocytes</text><rect x="554.4" y="619.85" width="5.8" height="5.9" fill="#6ee04e"/><text x="563.2" y="624.15">Macrophages M0</text><rect x="554.4" y="626" width="5.8" height="5.9" fill="#e8663e"/><text x="563.2" y="630.3">Macrophages M1</text><rect x="593.6" y="601.4" width="5.8" height="5.9" fill="#dcb8dc"/><text x="602.4" y="605.7">Macrophages M2</text><rect x="593.6" y="607.55" width="5.8" height="5.9" fill="#7a55d8"/><text x="602.4" y="611.85">Dendritic cells resting</text><rect x="593.6" y="613.7" width="5.8" height="5.9" fill="#dda0e0"/><text x="602.4" y="618">Dendritic cells activated</text><rect x="593.6" y="619.85" width="5.8" height="5.9" fill="#e067d8"/><text x="602.4" y="624.15">Mast cells resting</text><rect x="593.6" y="626" width="5.8" height="5.9" fill="#5bd6a0"/><text x="602.4" y="630.3">Mast cells activated</text><rect x="641.4" y="601.4" width="5.8" height="5.9" fill="#6f7a6f"/><text x="650.2" y="605.7">Eosinophils</text><rect x="641.4" y="607.55" width="5.8" height="5.9" fill="#6f86d8"/><text x="650.2" y="611.85">Neutrophils</text></g><rect x="26" y="767.42" width="9.3" height="16.84" fill="#5ac0b4"/><rect x="35.3" y="761.26" width="9.3" height="20.3" fill="#e668a6"/><rect x="48.6" y="730.12" width="9.3" height="4.21" fill="#5ac0b4"/><rect x="57.9" y="731.78" width="9.3" height="4.51" fill="#e668a6"/><rect x="71.3" y="744.26" width="9.3" height="18.05" fill="#5ac0b4"/><rect x="80.6" y="746.97" width="9.3" height="21.36" fill="#e668a6"/><rect x="94" y="751.33" width="9.3" height="13.54" fill="#5ac0b4"/><rect x="103.3" y="753.59" width="9.3" height="18.65" fill="#e668a6"/><rect x="116.7" y="758.1" width="9.3" height="4.81" fill="#5ac0b4"/><rect x="126" y="760.35" width="9.3" height="4.51" fill="#e668a6"/><rect x="139.4" y="788.33" width="9.3" height="12.03" fill="#5ac0b4"/><rect x="148.7" y="791.79" width="9.3" height="14.74" fill="#e668a6"/><rect x="162.1" y="764.26" width="9.3" height="12.03" fill="#5ac0b4"/><rect x="171.4" y="770.88" width="9.3" height="11.58" fill="#e668a6"/><rect x="185" y="748.47" width="9.3" height="4.96" fill="#5ac0b4"/><rect x="194.3" y="749.68" width="9.3" height="6.02" fill="#e668a6"/><rect x="207.7" y="717.49" width="9.3" height="17.75" fill="#5ac0b4"/><rect x="217" y="717.49" width="9.3" height="23.76" fill="#e668a6"/><rect x="230.4" y="755.84" width="9.3" height="5.56" fill="#5ac0b4"/><rect x="239.7" y="756.44" width="9.3" height="7.22" fill="#e668a6"/><rect x="253.3" y="770.88" width="9.3" height="8.87" fill="#5ac0b4"/><rect x="262.6" y="768.48" width="9.3" height="10.08" fill="#e668a6"/><rect x="276.1" y="747.27" width="9.3" height="7.37" fill="#5ac0b4"/><rect x="285.4" y="750.88" width="9.3" height="11.58" fill="#e668a6"/><rect x="298.8" y="766.52" width="9.3" height="7.07" fill="#5ac0b4"/><rect x="308.1" y="759.15" width="9.3" height="8.42" fill="#e668a6"/><rect x="321.4" y="751.03" width="9.3" height="34.14" fill="#5ac0b4"/><rect x="330.7" y="758.55" width="9.3" height="27.07" fill="#e668a6"/><rect x="344.1" y="757.04" width="9.3" height="10.98" fill="#5ac0b4"/><rect x="353.4" y="752.98" width="9.3" height="12.48" fill="#e668a6"/><path d="M30.65 742.91V767.42M30.65 784.27V806.53M39.95 735.24V761.26M39.95 781.56V799.46M53.25 721.4V730.12M53.25 734.33V737.94M62.55 727.42V731.78M62.55 736.29V739.45M75.95 718.09V744.26M75.95 762.31V783.52M85.25 725.46V746.97M85.25 768.32V790.43M98.65 734.94V751.33M98.65 764.87V780.81M107.95 730.88V753.59M107.95 772.24V796.3M121.35 754.49V758.1M121.35 762.91V766.52M130.65 757.5V760.35M130.65 764.87V768.02M144.05 770.13V788.33M144.05 800.36V815.85M153.35 772.54V791.79M153.35 806.53V823.07M166.75 746.97V764.26M166.75 776.3V789.08M176.05 754.49V770.88M176.05 782.46V796.6M189.65 742.46V748.47M189.65 753.44V757.5M198.95 743.96V749.68M198.95 755.69V760.5M212.35 693.58V717.49M212.35 735.24V755.84M221.65 699.14V717.49M221.65 741.25V763.66M235.05 746.97V755.84M235.05 761.41V768.02M244.35 746.97V756.44M244.35 763.66V773.59M257.95 757.95V770.88M257.95 779.76V788.18M267.25 761.41V768.48M267.25 778.55V786.97M280.75 735.84V747.27M280.75 754.64V764.72M290.05 739.15V750.88M290.05 762.46V781.41M303.45 755.39V766.52M303.45 773.59V782.46M312.75 749.07V759.15M312.75 767.57V775.39M326.05 699.44V751.03M326.05 785.17V833.15M335.35 722.15V758.55M335.35 785.62V819.16M348.75 743.96V757.04M348.75 768.02V786.07M358.05 736.74V752.98M358.05 765.47V778.1" stroke="#333" stroke-width="0.45" fill="none"/><path d="M26 767.42h9.3V784.27H26zM35.3 761.26h9.3V781.56H35.3zM48.6 730.12h9.3V734.33H48.6zM57.9 731.78h9.3V736.29H57.9zM71.3 744.26h9.3V762.31H71.3zM80.6 746.97h9.3V768.32H80.6zM94 751.33h9.3V764.87H94zM103.3 753.59h9.3V772.24H103.3zM116.7 758.1h9.3V762.91H116.7zM126 760.35h9.3V764.87H126zM139.4 788.33h9.3V800.36H139.4zM148.7 791.79h9.3V806.53H148.7zM162.1 764.26h9.3V776.3H162.1zM171.4 770.88h9.3V782.46H171.4zM185 748.47h9.3V753.44H185zM194.3 749.68h9.3V755.69H194.3zM207.7 717.49h9.3V735.24H207.7zM217 717.49h9.3V741.25H217zM230.4 755.84h9.3V761.41H230.4zM239.7 756.44h9.3V763.66H239.7zM253.3 770.88h9.3V779.76H253.3zM262.6 768.48h9.3V778.55H262.6zM276.1 747.27h9.3V754.64H276.1zM285.4 750.88h9.3V762.46H285.4zM298.8 766.52h9.3V773.59H298.8zM308.1 759.15h9.3V767.57H308.1zM321.4 751.03h9.3V785.17H321.4zM330.7 758.55h9.3V785.62H330.7zM344.1 757.04h9.3V768.02H344.1zM353.4 752.98h9.3V765.47H353.4z" stroke="#333" stroke-width="0.45" fill="none"/><path d="M26 775.39H35.3M35.3 773.29H44.6M48.6 731.63H57.9M57.9 733.88H67.2M71.3 753.13H80.6M80.6 757.04H89.9M94 756.74H103.3M103.3 762.16H112.6M116.7 760.35H126M126 762.46H135.3M139.4 795.55H148.7M148.7 797.05H158M162.1 770.88H171.4M171.4 776.3H180.7M185 750.73H194.3M194.3 752.98H203.6M207.7 726.36H217M217 729.52H226.3M230.4 758.55H239.7M239.7 759.75H249M253.3 775.09H262.6M262.6 773.14H271.9M276.1 750.13H285.4M285.4 754.64H294.7M298.8 769.53H308.1M308.1 762.91H317.4M321.4 767.87H330.7M330.7 775.09H340M344.1 763.06H353.4M353.4 757.5H362.7" stroke="#111" stroke-width="1.1" fill="none"/><path d="M30.65 811.35h0M30.65 737.6h0M30.65 808.01h0M30.65 812.99h0M30.65 807.58h0M39.95 730.8h0M39.95 731.94h0M39.95 803.77h0M39.95 807.57h0M53.25 720.2h0M53.25 740.18h0M53.25 739.11h0M53.25 742.16h0M62.55 720.95h0M62.55 743.25h0M62.55 741.45h0M75.95 714.84h0M75.95 715.17h0M85.25 796.87h0M85.25 720.81h0M98.65 789.67h0M98.65 731.05h0M98.65 782.47h0M107.95 727.85h0M107.95 803.82h0M107.95 804.55h0M107.95 799.01h0M107.95 728.32h0M121.35 772.28h0M121.35 754.39h0M130.65 776.29h0M144.05 768.77h0M144.05 767.28h0M144.05 823.09h0M144.05 764.72h0M153.35 765.5h0M153.35 831.27h0M153.35 770.75h0M153.35 771.97h0M153.35 766.66h0M166.75 793.68h0M166.75 791.18h0M166.75 793.66h0M166.75 791.1h0M176.05 802.16h0M176.05 801.01h0M176.05 800.8h0M176.05 797.9h0M189.65 734.45h0M189.65 760.47h0M198.95 762.15h0M198.95 768.58h0M212.35 759.22h0M212.35 757.14h0M212.35 687.36h0M212.35 685.59h0M212.35 690.94h0M221.65 698.98h0M221.65 772.3h0M221.65 694.18h0M221.65 696.74h0M221.65 763.79h0M235.05 743.2h0M235.05 738.65h0M235.05 742.28h0M235.05 744.99h0M244.35 781.5h0M244.35 776.4h0M257.95 751.02h0M257.95 795.68h0M267.25 795.33h0M267.25 757.72h0M280.75 770.49h0M280.75 767.03h0M280.75 732.62h0M290.05 731.56h0M303.45 747.78h0M303.45 784.69h0M303.45 752.27h0M312.75 743.54h0M326.05 834.47h0M326.05 835.51h0M326.05 838.23h0M326.05 692.76h0M326.05 698.2h0M335.35 719.47h0M348.75 790.06h0M348.75 738.15h0M348.75 740.76h0M348.75 737.26h0M358.05 785.34h0" stroke="#999" stroke-width="0.7" stroke-linecap="round" fill="none"/><path d="M30.65 716.4V714.8H39.95V716.4M53.25 718.5V716.9H62.55V718.5M75.95 715V713.4H85.25V715M98.65 718.5V716.9H107.95V718.5M121.35 747.6V746H130.65V747.6M144.05 736.9V735.3H153.35V736.9M166.75 739.1V737.5H176.05V739.1M189.65 731.6V730H198.95V731.6M212.35 687.2V685.6H221.65V687.2M235.05 743.3V741.7H244.35V743.3M257.95 747.7V746.1H267.25V747.7M280.75 732.8V731.2H290.05V732.8M303.45 746.2V744.6H312.75V746.2M326.05 681.6V680H335.35V681.6M348.75 733.4V731.8H358.05V733.4" stroke="#222" stroke-width="0.45" fill="none"/><g font-size="3.2" fill="#222"><text x="35.3" y="714.2" text-anchor="middle">*</text><text x="57.9" y="716.3" text-anchor="middle">***</text><text x="80.6" y="712.8" text-anchor="middle">**</text><text x="103.3" y="716.3" text-anchor="middle">**</text><text x="126" y="745.4" text-anchor="middle">***</text><text x="148.7" y="734.7" text-anchor="middle">ns</text><text x="171.4" y="736.9" text-anchor="middle">***</text><text x="194.3" y="729.4" text-anchor="middle">***</text><text x="217" y="685" text-anchor="middle">*</text><text x="239.7" y="741.1" text-anchor="middle">**</text><text x="262.6" y="745.5" text-anchor="middle">**</text><text x="285.4" y="730.6" text-anchor="middle">***</text><text x="308.1" y="744" text-anchor="middle">***</text><text x="330.7" y="679.4" text-anchor="middle">*</text><text x="353.4" y="731.2" text-anchor="middle">***</text></g><text x="18.9" y="835.3" font-size="3.1" text-anchor="end" fill="#222">0.0</text><text x="18.9" y="805.22" font-size="3.1" text-anchor="end" fill="#222">0.2</text><text x="18.9" y="775.14" font-size="3.1" text-anchor="end" fill="#222">0.4</text><text x="18.9" y="745.06" font-size="3.1" text-anchor="end" fill="#222">0.6</text><text x="18.9" y="714.98" font-size="3.1" text-anchor="end" fill="#222">0.8</text><text x="18.9" y="684.9" font-size="3.1" text-anchor="end" fill="#222">1.0</text><path d="M21.6 670.3V840.8H366.7M21.6 834.2h-1.2M21.6 804.12h-1.2M21.6 774.04h-1.2M21.6 743.96h-1.2M21.6 713.88h-1.2M21.6 683.8h-1.2M35.3 840.8v1.2M57.9 840.8v1.2M80.6 840.8v1.2M103.3 840.8v1.2M126 840.8v1.2M148.7 840.8v1.2M171.4 840.8v1.2M194.3 840.8v1.2M217 840.8v1.2M239.7 840.8v1.2M262.6 840.8v1.2M285.4 840.8v1.2M308.1 840.8v1.2M330.7 840.8v1.2M353.4 840.8v1.2" stroke="#111" stroke-width="0.75" fill="none"/><g font-size="3.1" fill="#111" stroke="#111" stroke-width="0.06" text-anchor="middle"><text x="35.3" y="847.8">aDC</text><text x="57.9" y="847.8">CD8 T cells</text><text x="80.6" y="847.8">Cytotoxic cells</text><text x="103.3" y="847.8">DC</text><text x="126" y="847.8">Eosinophils</text><text x="148.7" y="847.8">Mast cells</text><text x="171.4" y="847.8">Neutrophils</text><text x="194.3" y="847.8">NK cells</text><text x="217" y="847.8">pDC</text><text x="239.7" y="847.8">Tcm</text><text x="262.6" y="847.8">TFH</text><text x="285.4" y="847.8">Th17 cells</text><text x="308.1" y="847.8">Th2 cells</text><text x="330.7" y="847.8">TReg</text><text x="353.4" y="847.8">NK CD56bright cells</text></g><text transform="translate(9.5,759) rotate(-90)" font-size="3.3" text-anchor="middle" fill="#222">Enrichment score</text><text x="368.7" y="749.2" font-size="3.1" fill="#222">RECQL4</text><rect x="370.3" y="752.5" width="4.3" height="3.9" fill="#5ac0b4" stroke="#333" stroke-width="0.35"/><path d="M370.3 754.45h4.3" stroke="#111" stroke-width="0.5"/><rect x="370.3" y="759" width="4.3" height="3.9" fill="#e668a6" stroke="#333" stroke-width="0.35"/><path d="M370.3 760.95h4.3" stroke="#111" stroke-width="0.5"/><text x="376.6" y="755.6" font-size="3.1" fill="#222">Low</text><text x="376.6" y="762.1" font-size="3.1" fill="#222">High</text><path d="M100.61 887.0v102M118.13 887.0v102M135.64 887.0v102M153.15 887.0v102M170.67 887.0v102M188.18 887.0v102M205.69 887.0v102M223.2 887.0v102M240.72 887.0v102M258.23 887.0v102M275.74 887.0v102M293.26 887.0v102M310.77 887.0v102M328.28 887.0v102M83.1 904h262.7M83.1 921h262.7M83.1 938h262.7M83.1 955h262.7M83.1 972h262.7" stroke="#efefef" stroke-width="0.4"/><rect x="153.15" y="887" width="17.51" height="17" fill="#ece9ea"/><rect x="205.69" y="887" width="17.51" height="17" fill="#ededed"/><rect x="223.2" y="887" width="17.51" height="17" fill="#edecec"/><rect x="258.23" y="887" width="17.51" height="17" fill="#ebe2e3"/><rect x="293.26" y="887" width="17.51" height="17" fill="#ededed"/><rect x="310.77" y="887" width="17.51" height="17" fill="#ededed"/><rect x="328.28" y="887" width="17.51" height="17" fill="#ece9ea"/><rect x="83.1" y="904" width="17.51" height="17" fill="#ededed"/><rect x="100.61" y="904" width="17.51" height="17" fill="#ece8e8"/><rect x="118.13" y="904" width="17.51" height="17" fill="#e6c7ca"/><rect x="135.64" y="904" width="17.51" height="17" fill="#ededed"/><rect x="153.15" y="904" width="17.51" height="17" fill="#edecec"/><rect x="170.67" y="904" width="17.51" height="17" fill="#ededed"/><rect x="188.18" y="904" width="17.51" height="17" fill="#ededed"/><rect x="205.69" y="904" width="17.51" height="17" fill="#ededed"/><rect x="223.2" y="904" width="17.51" height="17" fill="#ece9ea"/><rect x="240.72" y="904" width="17.51" height="17" fill="#edecec"/><rect x="258.23" y="904" width="17.51" height="17" fill="#ece8e8"/><rect x="275.74" y="904" width="17.51" height="17" fill="#edecec"/><rect x="83.1" y="921" width="17.51" height="17" fill="#ece9ea"/><rect x="118.13" y="921" width="17.51" height="17" fill="#ddaab0"/><rect x="153.15" y="921" width="17.51" height="17" fill="#edebeb"/><rect x="170.67" y="921" width="17.51" height="17" fill="#ece8e8"/><rect x="188.18" y="921" width="17.51" height="17" fill="#ededed"/><rect x="205.69" y="921" width="17.51" height="17" fill="#edecec"/><rect x="223.2" y="921" width="17.51" height="17" fill="#edebeb"/><rect x="240.72" y="921" width="17.51" height="17" fill="#ece9ea"/><rect x="258.23" y="921" width="17.51" height="17" fill="#ece7e7"/><rect x="275.74" y="921" width="17.51" height="17" fill="#ededed"/><rect x="118.13" y="938" width="17.51" height="17" fill="#d17f89"/><rect x="135.64" y="938" width="17.51" height="17" fill="#eaddde"/><rect x="205.69" y="938" width="17.51" height="17" fill="#ebe3e4"/><rect x="258.23" y="938" width="17.51" height="17" fill="#ead8d9"/><rect x="328.28" y="938" width="17.51" height="17" fill="#e9d3d5"/><rect x="100.61" y="955" width="17.51" height="17" fill="#edecec"/><rect x="118.13" y="955" width="17.51" height="17" fill="#e7cacc"/><rect x="135.64" y="955" width="17.51" height="17" fill="#edecec"/><rect x="205.69" y="955" width="17.51" height="17" fill="#edecec"/><rect x="240.72" y="955" width="17.51" height="17" fill="#ebe3e4"/><rect x="258.23" y="955" width="17.51" height="17" fill="#edebeb"/><rect x="275.74" y="955" width="17.51" height="17" fill="#ededed"/><rect x="293.26" y="955" width="17.51" height="17" fill="#ededed"/><rect x="310.77" y="955" width="17.51" height="17" fill="#edecec"/><rect x="328.28" y="955" width="17.51" height="17" fill="#eadadc"/><rect x="83.1" y="972" width="17.51" height="17" fill="#ece7e7"/><rect x="100.61" y="972" width="17.51" height="17" fill="#ece4e5"/><rect x="118.13" y="972" width="17.51" height="17" fill="#c43c4c"/><rect x="135.64" y="972" width="17.51" height="17" fill="#ebe2e3"/><rect x="153.15" y="972" width="17.51" height="17" fill="#ebdedf"/><path d="M83.1 887.0h262.7" stroke="#e0e0e0" stroke-width="0.4"/><path d="M83.1 989h262.7" stroke="#333" stroke-width="0.5"/><g font-size="2.8" fill="#222" text-anchor="middle"><text x="161.91" y="896.4">0.03</text><text x="214.45" y="896.4">0</text><text x="231.96" y="896.4">0.01</text><text x="266.99" y="896.4">0.09</text><text x="302.01" y="896.4">0</text><text x="319.53" y="896.4">0</text><text x="337.04" y="896.4">0.03</text><text x="91.86" y="913.4">0</text><text x="109.37" y="913.4">0.04</text><text x="126.88" y="913.4">0.3</text><text x="144.4" y="913.4">0</text><text x="161.91" y="913.4">0.01</text><text x="179.42" y="913.4">0</text><text x="196.93" y="913.4">0</text><text x="214.45" y="913.4">0</text><text x="231.96" y="913.4">0.03</text><text x="249.47" y="913.4">0.01</text><text x="266.99" y="913.4">0.04</text><text x="284.5" y="913.4">0.01</text><text x="91.86" y="930.4">0.03</text><text x="126.88" y="930.4">0.52</text><text x="161.91" y="930.4">0.02</text><text x="179.42" y="930.4">0.04</text><text x="196.93" y="930.4">0</text><text x="214.45" y="930.4">0.01</text><text x="231.96" y="930.4">0.02</text><text x="249.47" y="930.4">0.03</text><text x="266.99" y="930.4">0.05</text><text x="284.5" y="930.4">0</text><text x="126.88" y="947.4">0.84</text><text x="144.4" y="947.4">0.13</text><text x="214.45" y="947.4">0.08</text><text x="266.99" y="947.4">0.17</text><text x="337.04" y="947.4">0.21</text><text x="109.37" y="964.4">0.01</text><text x="126.88" y="964.4">0.28</text><text x="144.4" y="964.4">0.01</text><text x="214.45" y="964.4">0.01</text><text x="249.47" y="964.4">0.08</text><text x="266.99" y="964.4">0.02</text><text x="284.5" y="964.4">0</text><text x="302.01" y="964.4">0</text><text x="319.53" y="964.4">0.01</text><text x="337.04" y="964.4">0.15</text><text x="91.86" y="981.4">0.05</text><text x="109.37" y="981.4">0.07</text><text x="126.88" y="981.4">1.33</text><text x="144.4" y="981.4">0.09</text><text x="161.91" y="981.4">0.12</text></g><g font-size="4.3" fill="#3f8fd2" text-anchor="end" text-decoration="underline"><text x="77.2" y="897">LIHC_GSE125449_aPDL1aCTLA4</text><text x="77.2" y="914">LIHC_GSE140228_10X</text><text x="77.2" y="931">LIHC_GSE140228_Smartseq2</text><text x="77.2" y="948">LIHC_GSE146115</text><text x="77.2" y="965">LIHC_GSE166635</text><text x="77.2" y="982">LIHC_GSE98638</text></g><g font-size="3.8" fill="#222" text-anchor="end"><text transform="translate(93.36,992) rotate(-45)">CD4Tconv</text><text transform="translate(110.87,992) rotate(-45)">Treg</text><text transform="translate(128.38,992) rotate(-45)">Tprolif</text><text transform="translate(145.9,992) rotate(-45)">CD8T</text><text transform="translate(163.41,992) rotate(-45)">CD8Tex</text><text transform="translate(180.92,992) rotate(-45)">NK</text><text transform="translate(198.43,992) rotate(-45)">ILC</text><text transform="translate(215.95,992) rotate(-45)">B</text><text transform="translate(233.46,992) rotate(-45)">Plasma</text><text transform="translate(250.97,992) rotate(-45)">DC</text><text transform="translate(268.49,992) rotate(-45)">Mono/Macro</text><text transform="translate(286,992) rotate(-45)">Mast</text><text transform="translate(303.51,992) rotate(-45)">Endothelial</text><text transform="translate(321.03,992) rotate(-45)">Fibroblasts</text><text transform="translate(338.54,992) rotate(-45)">Malignant</text></g><text x="197.1" y="878" font-size="6.3" font-weight="bold" text-anchor="middle" fill="#222">RECQL4</text><text x="348.2" y="889.8" font-size="4.5" font-weight="bold" fill="#222">log(TPM/10+1)</text><defs><linearGradient id="gi" x1="0" y1="0" x2="0" y2="1"><stop offset="0" stop-color="#aa1428"/><stop offset="0.5" stop-color="#d0828a"/><stop offset="0.8" stop-color="#e2c4c6"/><stop offset="1" stop-color="#ececec"/></linearGradient></defs><rect x="348.4" y="893.4" width="4.9" height="72.3" fill="url(#gi)"/><text x="355.4" y="895" font-size="4.4" fill="#333">1.5</text><text x="355.4" y="919.1" font-size="4.4" fill="#333">1</text><text x="355.4" y="943.2" font-size="4.4" fill="#333">0.5</text><text x="355.4" y="967.3" font-size="4.4" fill="#333">0</text><filter id="fgrey"><feFlood flood-color="#d3d3d3"/><feComposite in2="SourceAlpha" operator="in"/></filter><filter id="fgrey2"><feFlood flood-color="#d9d9d9"/><feComposite in2="SourceAlpha" operator="in"/></filter><defs><linearGradient id="gj" x1="0" y1="0" x2="0" y2="1"><stop offset="0" stop-color="#1c0f86"/><stop offset="0.5" stop-color="#8a7cc0"/><stop offset="1" stop-color="#d8d8d8"/></linearGradient></defs><path d="M406.4 679V770M439.2 679V770M465.7 679V770M492.1 679V770M400 695.3H496M400 723H496M400 750.8H496" stroke="#ebebeb" stroke-width="0.35"/><g stroke-width="3.6"><g id="u1" transform="scale(0.5)" stroke-linecap="round"><path d="M824 1405h0m0-4h0m0-3h0m1 4h0m0-12h0m0 12h0m1-12h0m0 14h0m0-6h0m0 9h0m1-16h0m0 15h0m0-11h0m0-3h0m0 2h0m0 11h0m0-10h0m0 5h0m0 13h0m0-23h0m0 26h0m1-31h0m0 26h0m0-17h0m0 1h0m0 7h0m0 3h0m0-15h0m0-4h0m1 10h0m0-13h0m0 11h0m0 14h0m0 7h0m0-15h0m0 13h0m0-5h0m0-6h0m0 1h0m1 5h0m0-1h0m0-24h0m0 20h0m0-4h0m0-7h0m0 1h0m0-11h0m0 19h0m0 1h0m0 8h0m1-18h0m0-1h0m0 19h0m0-11h0m0-14h0m0 0h0m0 10h0m0 7h0m0 3h0m0-22h0m0 3h0m1 25h0m0-2h0m0-16h0m0-6h0m0 28h0m0-24h0m0 6h0m0 18h0m0-34h0m0 24h0m1 3h0m0-22h0m0 10h0m0-11h0m0 2h0m0 7h0m0 19h0m0 9h0m1-40h0m0 5h0m0 9h0m0-10h0m0 1h0m0 2h0m0 8h0m0 15h0m0-16h0m0 22h0m0-20h0m0 8h0m0-8h0m0-12h0m1-5h0m0 25h0m0-2h0m0-25h0m0 31h0m0-8h0m0 3h0m1-1h0m0-9h0m0-4h0m0 26h0m0-16h0m0 6h0m0-21h0m0 18h0m0-27h0m0 45h0m0-25h0m0 19h0m1-13h0m0 17h0m0-28h0m0-6h0m0 2h0m0 20h0m0 4h0m0-9h0m0-3h0m0-9h0m0-12h0m0 21h0m1 21h0m0-12h0m0-20h0m0-8h0m0 10h0m0 25h0m0 0h0m0-2h0m0-3h0m0-1h0m0-29h0m0 14h0m1 14h0m0 7h0m0-24h0m0-3h0m0-3h0m0 34h0m0-23h0m0 12h0m0-30h0m0 27h0m1-28h0m0 36h0m0-17h0m0 12h0m0 0h0m0-28h0m0 5h0m0 29h0m0-34h0m0 42h0m0-26h0m0 6h0m0 13h0m0 5h0m0-41h0m1 14h0m0 21h0m0 1h0m0-9h0m0 10h0m0-7h0m0-12h0m0 2h0m0-12h0m0-4h0m0 16h0m0-17h0m0 20h0m0 7h0m0-19h0m0 16h0m1 7h0m0-20h0m0 1h0m0 4h0m0 15h0m0-5h0m0-29h0m0-5h0m0 20h0m0-2h0m0 17h0m0-25h0m0 24h0m0 2h0m0-19h0m0-16h0m0 25h0m1 11h0m0 7h0m0 0h0m0-1h0m0-32h0m0-5h0m0 32h0m0-29h0m0 13h0m0 21h0m0-34h0m0 36h0m0-2h0m0-16h0m0 5h0m1-21h0m0 18h0m0-1h0m0-11h0m0-1h0m0-13h0m0 24h0m0 19h0m0-36h0m0 24h0m0-24h0m0 28h0m0 5h0m0-36h0m0-3h0m0 1h0m0 14h0m1 15h0m0-18h0m0 22h0m0-17h0m0-11h0m0 11h0m0-9h0m0 1h0m0 15h0m0-23h0m0 28h0m0-6h0m0-8h0m0 8h0m0 10h0m0-28h0m1 34h0m0-16h0m0-5h0m0-5h0m0-12h0m0-4h0m0 45h0m0-28h0m0-5h0m0-12h0m0 35h0m0-36h0m0 4h0m1 23h0m0-22h0m0 25h0m0 1h0m0-12h0m0-2h0m0 26h0m0-12h0m0 8h0m0-24h0m0 12h0m0-24h0m0 6h0m1 7h0m0 18h0m0-1h0m0-31h0m0 32h0m0-27h0m0 6h0m0-12h0m0 37h0m0-12h0m0 14h0m0-19h0m0 26h0m0-20h0m0-22h0m1 19h0m0 15h0m0-31h0m0-3h0m0 26h0m0-4h0m0 18h0m0-18h0m0-9h0m0 19h0m0-5h0m0-28h0m0 32h0m0 3h0m0-29h0m0 32h0m0-2h0m0-24h0m0-10h0m0-1h0m1 33h0m0-7h0m0-2h0m0 6h0m0-4h0m0 2h0m0-13h0m0-6h0m0-1h0m0 9h0m0-6h0m0 25h0m0 2h0m0-34h0m0 6h0m0-4h0m0 28h0m0-2h0m0-38h0m0 22h0m0 22h0m0-16h0m0 3h0m0 7h0m1 7h0m0-5h0m0-19h0m0 8h0m0 5h0m0-14h0m0-7h0m0 16h0m0-17h0m0 33h0m0-3h0m0 5h0m0-31h0m0 6h0m0 9h0m1 11h0m0-25h0m0 22h0m0-2h0m0 9h0m0-15h0m0 1h0m0 10h0m0-19h0m0 0h0m0-5h0m1-9h0m0 24h0m0 10h0m0-14h0m0-15h0m0 0h0m0 29h0m0-29h0m0 20h0m0-20h0m0-6h0m0 33h0m0-8h0m0 12h0m0-36h0m0 30h0m0-25h0m1 0h0m0 5h0m0-1h0m0-13h0m0 22h0m0 12h0m0-27h0m0-2h0m0 19h0m0-8h0m0-11h0m0-1h0m0 9h0m0 2h0m0-17h0m0 25h0m0-21h0m0 7h0m0 19h0m0 2h0m1-17h0m0-3h0m0 15h0m0 8h0m0-29h0m0 17h0m0 5h0m0-12h0m0-12h0m0 9h0m1-2h0m0 23h0m0 0h0m0-16h0m0 15h0m0 6h0m0 0h0m0-34h0m0 2h0m0 2h0m0 17h0m0 10h0m0-26h0m0 15h0m1 3h0m0 1h0m0-9h0m0-13h0m0 19h0m0 2h0m0-23h0m0 1h0m0-3h0m0 2h0m0 8h0m0 9h0m0-15h0m0 29h0m0 1h0m0-4h0m0-3h0m0 0h0m0-19h0m0 3h0m1 24h0m0-24h0m0-16h0m0 8h0m0 28h0m0-26h0m0 6h0m0 17h0m0 9h0m0-15h0m0-18h0m0 18h0m0-20h0m0-4h0m0 25h0m0-17h0m0 25h0m1-12h0m0 12h0m0 3h0m0-1h0m0 2h0m0-11h0m0 6h0m0 6h0m0-14h0m0-1h0m0-17h0m0 28h0m0 4h0m0-16h0m0 4h0m1-11h0m0 21h0m0-6h0m0 5h0m1-19h0m0 9h0m0-6h0m0-11h0m0 7h0m0-5h0m0 7h0m0 1h0m0 16h0m0-27h0m0 26h0m0-26h0m0 8h0m0 3h0m0 6h0m0 7h0m0-14h0m0 18h0m0-25h0m0 15h0m1 4h0m0-13h0m0-7h0m0 0h0m0-2h0m0 20h0m0-1h0m0 2h0m0 3h0m1 0h0m0-10h0m0-1h0m0-5h0m0-2h0m0 17h0m0-19h0m0 10h0m0-11h0m0 21h0m0-4h0m0 2h0m1-8h0m0-6h0m0 6h0m0-4h0m0 9h0m0 0h0m1 0h0m0-16h0m1 12h0" stroke="#7450b4"/><path d="M863 1417h0m1-6h0m0 1h0m0 5h0m0-11h0m0 5h0m1 7h0m0-7h0m0 6h0m0 10h0m0-2h0m0-17h0m0 14h0m1-8h0m0 5h0m0-7h0m0 18h0m0-9h0m0-12h0m0 0h0m0 4h0m1 8h0m0-6h0m0 13h0m0 9h0m0-20h0m0-9h0m0 10h0m0-8h0m0 16h0m0-21h0m0 8h0m0-9h0m1 8h0m0 5h0m0-1h0m0-6h0m0 12h0m0 0h0m0-3h0m0 10h0m1-21h0m0 14h0m0 5h0m0-14h0m0-11h0m0 26h0m0 10h0m0-1h0m0-12h0m1-26h0m0 9h0m0 5h0m0-5h0m0-11h0m0 35h0m1-11h0m0-5h0m0-10h0m0 9h0m0-8h0m0-9h0m0 22h0m0-6h0m0-9h0m0 23h0m1-12h0m0-15h0m0 16h0m0-3h0m0-16h0m0 34h0m0-37h0m0 18h0m0 18h0m1-6h0m0-20h0m0 5h0m0-6h0m0 27h0m0 11h0m0-27h0m0 8h0m0-5h0m0 22h0m0-34h0m0 26h0m0-7h0m0-13h0m0 12h0m1-12h0m0-2h0m0-10h0m0 34h0m0-13h0m0-29h0m0 30h0m0 10h0m0 5h0m0-9h0m0-9h0m0 10h0m1-7h0m0 3h0m0-21h0m0 16h0m0 22h0m0-44h0m0-1h0m0 17h0m0 28h0m0-20h0m0-10h0m0 9h0m0 9h0m1-28h0m0 1h0m0 27h0m0-7h0m0 8h0m0-36h0m0 21h0m0 7h0m0-20h0m0-2h0m0 8h0m0 11h0m0-9h0m0 30h0m0-35h0m0 34h0m1-13h0m0-32h0m0 34h0m0-2h0m0-1h0m0 10h0m0-3h0m0 0h0m0-19h0m0 26h0m0 1h0m0-42h0m0 24h0m0 2h0m0-12h0m0 31h0m0-23h0m0-4h0m0 12h0m1 12h0m0-12h0m0-29h0m0 29h0m0-38h0m0 47h0m0-16h0m0 15h0m0-8h0m0 6h0m0 0h0m0-26h0m0 3h0m0 25h0m0-19h0m0-23h0m0 35h0m0-31h0m0 14h0m1 25h0m0-30h0m0 5h0m0-8h0m0 37h0m0-7h0m0-24h0m0-2h0m0-6h0m0-7h0m0 39h0m0-7h0m0-24h0m1 27h0m0 5h0m0-29h0m0 8h0m0 19h0m0-19h0m1-11h0m0 1h0m0 0h0m0-1h0m0 3h0m0 13h0m0 7h0m0 10h0m0-22h0m0-8h0m0 31h0m0 0h0m0-3h0m0-14h0m0-17h0m0-9h0m0 12h0m0 9h0m0 15h0m0 15h0m0-46h0m0 18h0m0 22h0m1-31h0m0 7h0m0 25h0m0-12h0m0-23h0m0 12h0m0-12h0m0 3h0m0-17h0m0 18h0m0-9h0m0 22h0m1-18h0m0 6h0m0 13h0m0-1h0m0-18h0m0-4h0m0 7h0m0-3h0m0 0h0m0 19h0m0-17h0m0 18h0m0 3h0m0-17h0m0 4h0m0-16h0m0 41h0m0-14h0m0-27h0m0 10h0m0 8h0m0 14h0m0-33h0m0 34h0m1 4h0m0-14h0m0-9h0m0 5h0m0 2h0m0 12h0m0-37h0m0 38h0m0-24h0m0 17h0m0 14h0m0-12h0m0 0h0m0-27h0m0 14h0m0 7h0m1 0h0m0 10h0m0 4h0m0-22h0m0 12h0m0-4h0m0-7h0m0-3h0m0-5h0m0-2h0m0 9h0m0-11h0m0 33h0m0-16h0m1 15h0m0-23h0m0 10h0m0-10h0m0 24h0m0-37h0m0 1h0m0-3h0m0-2h0m1 18h0m0-8h0m0-2h0m0 40h0m0-7h0m0-31h0m0 13h0m0 6h0m0-20h0m0 20h0m0 12h0m0-16h0m1 1h0m0 6h0m0 2h0m0 11h0m0-34h0m0-9h0m0 15h0m0-5h0m0 19h0m0 11h0m0-35h0m0 1h0m0 34h0m0-35h0m0 13h0m1-5h0m0 23h0m0-31h0m0 2h0m0-6h0m0 37h0m0-27h0m0 5h0m0-14h0m0 21h0m0-2h0m0 5h0m0-1h0m0 15h0m0 1h0m0-34h0m0 22h0m0 7h0m1-1h0m0 8h0m0-25h0m0 0h0m0 20h0m0-9h0m0-10h0m0-1h0m1-1h0m0 14h0m0-18h0m0-2h0m0 11h0m0-6h0m0 18h0m0-9h0m0 15h0m0-37h0m0 5h0m0 24h0m0 4h0m0-3h0m0-29h0m0 6h0m0 28h0m1-14h0m0-22h0m0 9h0m0 24h0m0-6h0m0 9h0m0-15h0m0 6h0m0-29h0m0 18h0m0 8h0m0-2h0m0 2h0m1 8h0m0 0h0m0-5h0m0-24h0m0 11h0m0-8h0m0 14h0m1-18h0m0 23h0m0-16h0m0-3h0m0 11h0m0-17h0m0 12h0m0 0h0m0 22h0m0-11h0m0-6h0m1-18h0m0 37h0m0-9h0m0-18h0m0 11h0m0 6h0m0-6h0m0-12h0m0 1h0m0 9h0m1 11h0m0-17h0m0 15h0m0 8h0m0-17h0m0 16h0m0-4h0m0-3h0m1-12h0m0-8h0m0 3h0m0 13h0m0-14h0m0 17h0m0-17h0m0-2h0m0 5h0m1 4h0m0 0h0m0 7h0m0-10h0m0 4h0m2-3h0" stroke="#3fb8a2"/><path d="M890 1398h0m0 13h0m1-1h0m1-19h0m0 3h0m0 7h0m0 1h0m0 1h0m1 9h0m0-14h0m0 3h0m0 0h0m0-1h0m1 16h0m0-18h0m0 3h0m0-9h0m0 23h0m0-8h0m0-3h0m0-13h0m0 15h0m0 1h0m1-11h0m0 5h0m0-3h0m0 1h0m0 18h0m1-9h0m0 2h0m0-26h0m0 7h0m0 4h0m0-11h0m0 20h0m1 4h0m0-5h0m0-18h0m0 7h0m0 27h0m0-31h0m0 16h0m0-19h0m0 20h0m0 3h0m0-6h0m0 9h0m0-11h0m1 8h0m0-15h0m0-4h0m0 18h0m0-3h0m0 2h0m0 5h0m0-12h0m0 10h0m0-23h0m0 15h0m0 3h0m0-14h0m1 13h0m0 2h0m0-19h0m0 10h0m0-4h0m0-7h0m0 21h0m0-7h0m0-11h0m0 35h0m0-37h0m1 20h0m0 7h0m0-26h0m0 16h0m0 4h0m0-11h0m0 22h0m0-12h0m0-9h0m0 18h0m0-5h0m0-18h0m0 0h0m0 4h0m1-11h0m0 18h0m0 10h0m0 4h0m0-25h0m0 27h0m0-15h0m0-22h0m0 10h0m0-7h0m0 23h0m1-25h0m0 33h0m0-21h0m0 13h0m0-26h0m0 34h0m0-8h0m0-20h0m0 1h0m0 8h0m1 2h0m0-7h0m0 14h0m0 8h0m0-8h0m0-25h0m0 7h0m0 31h0m0-23h0m0 4h0m0-9h0m0 4h0m0-8h0m0 22h0m1 6h0m0-4h0m0-16h0m0 9h0m0 0h0m0-23h0m0 26h0m0-1h0m0-3h0m0 12h0m1-3h0m0-12h0m0-19h0m0 34h0m0-9h0m0-10h0m0-1h0m0 24h0m0-6h0m0-28h0m0 15h0m0-6h0m0 22h0m0-34h0m0 8h0m0 14h0m0-12h0m0 0h0m0 6h0m1 25h0m0-28h0m0 7h0m0-3h0m0 7h0m0 11h0m0-24h0m0 5h0m0 13h0m0 5h0m0 6h0m0-37h0m0 18h0m0-5h0m0-10h0m0 1h0m0 26h0m0 7h0m0-40h0m1 30h0m0-17h0m0 7h0m0 19h0m0-2h0m0 1h0m0-22h0m0-5h0m0 26h0m0-11h0m0 4h0m0-10h0m0-2h0m0-15h0m0 12h0m0 5h0m1-17h0m0 11h0m0-13h0m0 2h0m0 20h0m0-12h0m1 11h0m0 0h0m0-5h0m0 11h0m0 6h0m0-8h0m0-7h0m0 15h0m0-1h0m0-6h0m0-11h0m0 2h0m0 1h0m0-6h0m0-3h0m0 17h0m0-26h0m1 28h0m0-12h0m0 5h0m0-11h0m0 4h0m0 25h0m0-24h0m0 20h0m0-28h0m0 30h0m0-32h0m0 24h0m0 8h0m0-8h0m1-12h0m0 4h0m0-12h0m0 9h0m0-4h0m0 19h0m0-22h0m0-1h0m0 7h0m0-1h0m0 2h0m0-14h0m0 3h0m1 26h0m0-20h0m0 8h0m0-10h0m0 17h0m0 7h0m0-25h0m0 23h0m0 0h0m0-21h0m0 4h0m1-11h0m0 16h0m0-16h0m0 28h0m0-16h0m0 6h0m0 1h0m0 6h0m0-2h0m0-21h0m0-2h0m0 20h0m0-9h0m0 13h0m1-3h0m0-18h0m0 10h0m0 6h0m0 6h0m0 1h0m0 3h0m0-20h0m0 10h0m1-9h0m0 10h0m0 7h0m0-15h0m0 10h0m0-9h0m0 16h0m0-26h0m0 10h0m0 3h0m0 4h0m1-6h0m0-11h0m0-1h0m0 8h0m0-4h0m0 5h0m0-1h0m1 17h0m0-10h0m0 5h0m0 9h0m0-16h0m0 12h0m1-11h0m0 4h0m0-8h0m1 5h0m0 1h0m0-5h0m1 6h0" stroke="#5b78c9"/><path d="M878 1375h0m1 3h0m0-2h0m1-3h0m0 7h0m0-2h0m0-4h0m1 4h0m0-1h0m0-1h0m1 1h0m0 3h0m0-2h0m0 6h0m0-6h0m0-7h0m1 7h0m0 5h0m1 1h0m0-13h0m0 13h0m0-2h0m0 3h0m0-12h0m0 2h0m0 6h0m0-1h0m0-5h0m1 6h0m0-5h0m0-1h0m0-1h0m0 10h0m0-1h0m0-8h0m1 6h0m1-2h0m0-2h0m0 5h0m0-3h0m0-3h0m0 5h0m0-9h0m0 6h0m0-2h0m0-1h0m1 5h0m0-7h0m0 13h0m0-17h0m0 6h0m0 3h0m0 3h0m0-11h0m0 1h0m1 10h0m0-13h0m0 18h0m1-6h0m0 1h0m0-10h0m0 6h0m0-3h0m0 9h0m0-2h0m0 5h0m0-13h0m0 12h0m1-14h0m0-5h0m0 4h0m0 4h0m0 2h0m0 6h0m0-11h0m0 0h0m0 0h0m0 13h0m0-16h0m0 11h0m1 5h0m0-3h0m0-10h0m0-2h0m0 7h0m0 4h0m0-5h0m0 2h0m0 1h0m1-5h0m0-1h0m0-3h0m0 5h0m0-2h0m0 13h0m1-14h0m0 9h0m0-8h0m0 3h0m0-3h0m0-2h0m0 7h0m1 2h0m0-2h0m0 4h0m0-11h0m0-1h0m0 13h0m0-5h0m0 5h0m0-6h0m0-2h0m1-1h0m0 11h0m0-11h0m0-2h0m0 0h0m0 0h0m1 3h0m0 1h0m1 4h0m0 2h0m0-7h0m0 2h0m0 6h0m0-3h0m0-9h0m1 5h0m0 2h0m1 4h0" stroke="#c6ca2e"/><path d="M851 1423h0m1 2h0m1-5h0m1 1h0m0 11h0m0-5h0m0-1h0m0 0h0m0 2h0m0-4h0m0-4h0m0 5h0m1 7h0m0-4h0m0-1h0m0 0h0m1 3h0m0 1h0m0-2h0m0-5h0m0 8h0m0 1h0m0-1h0m0-10h0m0-5h0m1 10h0m0-3h0m0-3h0m0 13h0m1-8h0m0-6h0m0 10h0m0-12h0m0 9h0m0-5h0m1 10h0m0-14h0m0 15h0m0-5h0m0-10h0m1 7h0m0-6h0m0 2h0m0 8h0m0 1h0m0 1h0m0-12h0m0 11h0m0-7h0m0 4h0m1-8h0m0 2h0m0-3h0m0 7h0m0 7h0m0-5h0m1-9h0m0 14h0m0-14h0m0 4h0m0 3h0m1-7h0m0 18h0m0-1h0m0-21h0m0 12h0m0 9h0m0-10h0m1-10h0m0 9h0m0 1h0m0-3h0m0 8h0m0-9h0m0 5h0m1-11h0m0 2h0m0 18h0m0-20h0m0 2h0m0 4h0m1 11h0m0-9h0m0 9h0m0-3h0m0 7h0m0-11h0m1 11h0m0-8h0m0 4h0m0-14h0m0 9h0m1-12h0m0 13h0m0 1h0m0 2h0m0-2h0m0 4h0m0-1h0m0 1h0m0-1h0m0 4h0m0-12h0m1-5h0m0 14h0m0-7h0m0 9h0m0-2h0m0-8h0m0-8h0m1 17h0m0-4h0m0-13h0m0 5h0m0-3h0m0 9h0m0-1h0m0 3h0m0-6h0m0-4h0m1 13h0m0-15h0m0 3h0m0-4h0m1 6h0m0-6h0m0 6h0m0 3h0m1 3h0m0 2h0m0 1h0m0-6h0m0-3h0m1-4h0m1 6h0m0-3h0m0 2h0m0-7h0m1 9h0m1-5h0" stroke="#97c73e"/><path d="M963 1445h0m0 1h0m1-4h0m0 3h0m0 1h0m0-8h0m1-3h0m0 8h0m0-1h0m0-5h0m0 17h0m0-2h0m0-17h0m0 19h0m0-15h0m0-3h0m1 9h0m0 6h0m0 5h0m0-12h0m0-6h0m0 3h0m0 3h0m0-4h0m0-3h0m0 18h0m1-17h0m0 11h0m0-15h0m0 15h0m0-10h0m0-9h0m0 29h0m0-27h0m0 7h0m0-6h0m0 22h0m0-9h0m0 5h0m1-12h0m0-10h0m0 15h0m0-1h0m0-1h0m0 1h0m0 5h0m0 5h0m0 2h0m1-15h0m0 5h0m0 0h0m0 3h0m0-13h0m1 13h0m0-9h0m0-7h0m0 7h0m0 1h0m0-3h0m0 13h0m0-8h0m0-2h0m0-8h0m0 10h0m1-6h0m0 13h0m0-4h0m0-11h0m0 4h0m0 2h0m0-8h0m1 17h0m0-3h0m0-5h0m0 5h0m0-4h0m1-3h0m0 12h0m0-4h0m0-4h0m0 2h0m1-6h0m0 14h0m0-16h0m0 12h0m0-1h0m0-12h0m1 2h0m0-1h0m1 8h0" stroke="#f39c12"/><path d="M915 1480h0m1 1h0m0-4h0m1 2h0m0-10h0m0 0h0m0 15h0m0-18h0m0 15h0m0-14h0m0 0h0m0 15h0m0 5h0m1-16h0m0 2h0m0 12h0m0-14h0m1-4h0m0 14h0m0-9h0m0 3h0m0 10h0m0-2h0m0-17h0m0 14h0m1 5h0m0-8h0m0 9h0m0-19h0m1 5h0m0-1h0m0-4h0m0 11h0m0-11h0m0 11h0m0-4h0m0-10h0m1 14h0m0 1h0m0-9h0m0 8h0m0-1h0m0-3h0m0-6h0m1 9h0m0-3h0m0-2h0m0 8h0m0-11h0m1 6h0m0 8h0m0-3h0m0-10h0m0 4h0m0 6h0m1-13h0m0 2h0m0 8h0m0 2h0m0 5h0m0-14h0m1 5h0m0-3h0m0-3h0m0 10h0m1-2h0m0-2h0m0 2h0m1-5h0m0 6h0" stroke="#e8585a"/><path d="M895 1468h0m0-3h0m0 2h0m1 3h0m0-6h0m0 0h0m0 2h0m0-4h0m0 1h0m1-3h0m0 11h0m0-3h0m0-8h0m0 13h0m0 0h0m0-15h0m0 14h0m0-12h0m0-2h0m0 3h0m0 4h0m1 9h0m0-9h0m0-6h0m0 10h0m0-5h0m0-9h0m1 15h0m0-1h0m0-3h0m0-2h0m0-2h0m1 12h0m0-4h0m0 0h0m0 5h0m0 1h0m0-13h0m0 3h0m0 1h0m1-10h0m0 4h0m1 2h0m0 2h0m0 4h0" stroke="#a8a8a0"/><path d="M827 1515h0m0-10h0m1-5h0m0 2h0m1 1h0m1-5h0m0 11h0m0-12h0m0 3h0m0 13h0m0 0h0m0-9h0m1 10h0m0-4h0m0 10h0m0-8h0m0-12h0m0 16h0m0-19h0m0 6h0m0 11h0m0-4h0m1 1h0m0-11h0m0 22h0m0-22h0m0 14h0m0-14h0m0 4h0m0-6h0m0 10h0m0 2h0m0 8h0m0-26h0m0 23h0m1-17h0m0 15h0m0-11h0m0 15h0m0-14h0m0-2h0m0-4h0m0 1h0m1 20h0m0-18h0m0 5h0m0 5h0m0-15h0m0 30h0m0-17h0m0 5h0m1 7h0m0-16h0m0 15h0m0-14h0m0-1h0m0-1h0m0-9h0m0 6h0m0 5h0m0 9h0m0-15h0m0-3h0m0-2h0m0 23h0m1-18h0m0 8h0m0 16h0m0-23h0m0 9h0m0 4h0m0 11h0m0-19h0m0 3h0m0 19h0m0-7h0m0-27h0m0 4h0m0-6h0m0 22h0m1-6h0m0-13h0m0 10h0m0-5h0m0 12h0m0-15h0m0 7h0m0-1h0m1-5h0m0 10h0m0 11h0m0 4h0m0-5h0m0 9h0m0-4h0m0-21h0m0 19h0m1-27h0m0 20h0m0 8h0m0-11h0m0 13h0m0-26h0m0 10h0m0-15h0m0 20h0m0 5h0m0-16h0m0-8h0m1 21h0m0 0h0m0-10h0m0-13h0m0 6h0m0 2h0m0 24h0m0-33h0m0 10h0m0-2h0m0 29h0m0-14h0m0 0h0m0 10h0m1-3h0m0-4h0m0-22h0m0 20h0m0 5h0m0-22h0m0 26h0m0-34h0m0 8h0m0 17h0m0-2h0m0-19h0m0 7h0m0 29h0m0-27h0m0-2h0m0 8h0m0 5h0m0 14h0m0-10h0m0-21h0m0 22h0m0-11h0m1 8h0m0 3h0m0-4h0m0 2h0m0-21h0m0 4h0m0 3h0m0-5h0m0 20h0m0-12h0m0-7h0m0 15h0m0-4h0m0 10h0m0-3h0m1-7h0m0 5h0m0-2h0m0-6h0m0-16h0m0 32h0m0-9h0m0 2h0m0 0h0m0-18h0m1 31h0m0-31h0m0 27h0m0-25h0m0 10h0m0 14h0m0 0h0m0-16h0m0 21h0m0-38h0m0 29h0m0-15h0m0 17h0m0-7h0m0-10h0m0 8h0m0 16h0m0-4h0m1-24h0m0 14h0m0 0h0m0 2h0m0-4h0m0-7h0m0 1h0m0 16h0m0-30h0m0-3h0m0 32h0m0-29h0m0 19h0m0-19h0m0 11h0m0 10h0m0-11h0m0 19h0m0-26h0m0 21h0m1 1h0m0 10h0m0-23h0m0 20h0m0-10h0m0 5h0m0-26h0m0 24h0m0-10h0m0 4h0m0-13h0m0 13h0m0 1h0m0-10h0m0 20h0m0-8h0m1-13h0m0-11h0m0 27h0m0-24h0m0 2h0m0 1h0m0-1h0m0-6h0m1 0h0m0 13h0m0 26h0m0-14h0m0-3h0m0 10h0m0-32h0m0 12h0m0-6h0m0 22h0m1-16h0m0-8h0m0 14h0m0-4h0m0-4h0m0 22h0m0-23h0m0-5h0m0-3h0m0 6h0m0 9h0m0 8h0m0-19h0m0 8h0m0 15h0m0-31h0m0 30h0m0-3h0m0-17h0m0 8h0m0 7h0m1-13h0m0 7h0m0-11h0m0 15h0m0-14h0m0 30h0m0 3h0m0-40h0m0 13h0m0 9h0m0 15h0m0-13h0m0 15h0m0-31h0m0-4h0m0 22h0m0 8h0m1-17h0m0-1h0m0-9h0m0-3h0m0 19h0m0 16h0m0-37h0m0 32h0m0-7h0m0 1h0m0-26h0m1 24h0m0-5h0m0-11h0m0 30h0m0-38h0m0 23h0m0-3h0m0-22h0m0 19h0m0 4h0m1-6h0m0 1h0m0-17h0m0 25h0m0 9h0m0-16h0m0 3h0m0 3h0m0 2h0m0 13h0m0-18h0m0 13h0m0 4h0m0-5h0m1-5h0m0-17h0m0 16h0m0-21h0m0 12h0m0 7h0m0-18h0m0-5h0m0 16h0m0 10h0m0 0h0m1 10h0m0-3h0m0-27h0m0 9h0m0 24h0m0-46h0m0 7h0m0 17h0m0 14h0m0 2h0m1-39h0m0 22h0m0-9h0m0 36h0m0-9h0m0-33h0m0 20h0m0 4h0m0 1h0m0 7h0m0 9h0m0-33h0m0 20h0m0-1h0m0 11h0m0-35h0m0 12h0m0 3h0m0 18h0m0-13h0m1 12h0m0-9h0m0-5h0m0-17h0m0 11h0m0-4h0m0 6h0m0-8h0m0-5h0m0 31h0m0-12h0m0-21h0m0 35h0m1-19h0m0 5h0m0-7h0m0 2h0m0-16h0m0 13h0m0 9h0m0 8h0m0-3h0m0-10h0m0 21h0m0-12h0m0 13h0m0-1h0m0-8h0m0-31h0m0 25h0m0-11h0m1 4h0m0 22h0m0-9h0m0-23h0m0-4h0m0 7h0m0 2h0m0 14h0m0 3h0m0-27h0m0-3h0m0 15h0m0-10h0m0 3h0m0 13h0m0-22h0m0 3h0m0-1h0m0 0h0m0 18h0m1 16h0m0-5h0m0 0h0m0 13h0m0-3h0m0-13h0m0 2h0m0-5h0m0 14h0m0-26h0m0-12h0m0 22h0m0 8h0m0 11h0m0-40h0m0 23h0m0-22h0m0 20h0m0-4h0m1 6h0m0 7h0m0 3h0m0 7h0m0-16h0m0-25h0m0 3h0m0 7h0m0 19h0m0-4h0m0-20h0m0 26h0m0 3h0m0-36h0m0 32h0m1-17h0m0 19h0m0-28h0m0 7h0m0 14h0m0-12h0m0 24h0m0-9h0m0 5h0m0 5h0m0-25h0m0 18h0m0-3h0m0 14h0m0-37h0m0 22h0m1-14h0m0-7h0m0 16h0m0-18h0m0 41h0m0-17h0m0-2h0m0-20h0m0 2h0m0 19h0m0 7h0m0 6h0m0-22h0m0 26h0m0-31h0m1 24h0m0-2h0m0-34h0m0 4h0m0 18h0m0-4h0m0 19h0m0-16h0m0-4h0m0-3h0m0 1h0m0 3h0m0-11h0m0 19h0m0-1h0m0-13h0m0 19h0m0-11h0m0-10h0m1 14h0m0 4h0m0-4h0m0-15h0m0 2h0m0 6h0m0-3h0m0 27h0m0-18h0m0 9h0m0-14h0m0-1h0m0 23h0m0-13h0m1-7h0m0 3h0m0-10h0m0 10h0m0 3h0m0-15h0m0 14h0m0 0h0m0 2h0m0-2h0m0 3h0m0-2h0m0-1h0m0-14h0m0 3h0m0 2h0m1 7h0m0-9h0m0-3h0m0 7h0m0-12h0m0 36h0m0-17h0m0 7h0m0 10h0m0-18h0m1-11h0m0 26h0m0-16h0m0-21h0m1 2h0m0 32h0m0-29h0m0-1h0m0 1h0m0 5h0m1 13h0m0 12h0m0-7h0m0 9h0m0-10h0m1-3h0m0 1h0m0 0h0m0 4h0m1-4h0m1-2h0m0 5h0m0 6h0m1-4h0m0 2h0m1-2h0m0 0h0m1 0h0" stroke="#3a8fd4"/><path d="M810 1460h0m1 0h0m1 3h0m0 0h0m1-4h0m1 4h0m0-2h0m2 2h0m34 31h0m1-6h0m0-1h0m0 5h0m1 3h0m0 1h0m0-7h0m0 4h0m0-3h0m0-2h0m1 3h0m0-3h0m0-2h0m1 9h0m0 0h0m0 1h0m0-10h0m1 4h0m0 0h0m0-3h0m0 6h0m0-7h0m0 5h0m1-2h0m0 4h0m0-2h0m0 3h0m0-6h0m1 1h0m0 10h0m0-7h0m0-8h0m1 3h0m0 2h0m0 8h0m1-9h0m0-2h0m0 5h0m0 3h0m0-9h0m0 10h0m0-2h0m0-7h0m0-1h0m1 10h0m0 3h0m0-10h0m0-1h0m0 0h0m0-2h0m0 11h0m0-9h0m0 4h0m1 1h0m1-7h0m0 8h0m0 1h0m1-4h0m0 4h0m0 0h0" stroke="#d54fc4"/><path d="M872 1479h0m0-4h0m1 1h0m0-6h0m0-6h0m0 9h0m0 7h0m1-13h0m0 9h0m0 4h0m0 0h0m0-8h0m0 4h0m0-6h0m0 10h0m1-21h0m0 11h0m0-4h0m0 1h0m0-3h0m0-2h0m0 11h0m1 3h0m0-10h0m0 5h0" stroke="#d4a017"/><path d="M908 1495h0m1 1h0m1-2h0m1 1h0m1 0h0m0 2h0" stroke="#1f7a6a"/></g></g><g font-size="3.9" fill="#000" stroke="#000" stroke-width="0.1" text-anchor="middle"><text x="446.7" y="687.7">Treg</text><text x="421.5" y="697.8">NK</text><text x="441.7" y="704.6">CD8T</text><text x="440.4" y="708.4">CD8Tex</text><text x="459.4" y="701.6">CD4Tconv</text><text x="453" y="717.9">Mast</text><text x="451.8" y="728.8">Tprolif</text><text x="469.4" y="738.1">Plasma</text><text x="485.3" y="723">B</text><text x="426.6" y="743.2">DC</text><text x="434.1" y="754.5">Mono/Macro</text><text x="451.8" y="750.7">ILC</text></g><g stroke-width="4"><g transform="scale(0.5)" stroke-linecap="round"><path d="M1010 1407h0" stroke="#f39c12"/><path d="M1010 1416h0" stroke="#5b78c9"/><path d="M1010 1424h0" stroke="#3fb8a2"/><path d="M1010 1433h0" stroke="#97c73e"/><path d="M1010 1442h0" stroke="#d54fc4"/><path d="M1010 1451h0" stroke="#1f7a6a"/><path d="M1010 1459h0" stroke="#d4a017"/><path d="M1010 1468h0" stroke="#3a8fd4"/><path d="M1010 1477h0" stroke="#7450b4"/><path d="M1010 1485h0" stroke="#e8585a"/><path d="M1010 1494h0" stroke="#a8a8a0"/><path d="M1010 1503h0" stroke="#c6ca2e"/></g></g><text x="502" y="701" font-size="3.55" fill="#222">Celltype (major-lineage)</text><text x="508" y="704.7" font-size="3.45" fill="#222">B</text><text x="508" y="709.06" font-size="3.45" fill="#222">CD4Tconv</text><text x="508" y="713.42" font-size="3.45" fill="#222">CD8T</text><text x="508" y="717.78" font-size="3.45" fill="#222">CD8Tex</text><text x="508" y="722.14" font-size="3.45" fill="#222">DC</text><text x="508" y="726.5" font-size="3.45" fill="#222">ILC</text><text x="508" y="730.86" font-size="3.45" fill="#222">Mast</text><text x="508" y="735.22" font-size="3.45" fill="#222">Mono/Macro</text><text x="508" y="739.58" font-size="3.45" fill="#222">NK</text><text x="508" y="743.94" font-size="3.45" fill="#222">Plasma</text><text x="508" y="748.3" font-size="3.45" fill="#222">Tprolif</text><text x="508" y="752.66" font-size="3.45" fill="#222">Treg</text><text x="446.5" y="674" font-size="5.6" text-anchor="middle" fill="#222">LIHC_GSE140228_10X</text><path d="M570.9 681V768M586.6 681V768M602.4 681V768M619 681V768M635 681V768M651.6 681V768M568 694.7H652M568 713.4H652M568 731.2H652M568 749H652M568 767.4H652" stroke="#ebebeb" stroke-width="0.35"/><use href="#u1" stroke-width="4" transform="matrix(0.94,0,0,0.945,189.6,39.4)" filter="url(#fgrey)"/><text x="609" y="674" font-size="5.6" text-anchor="middle" fill="#222">RECQL4</text><rect x="659" y="679.2" width="5.6" height="90.3" fill="url(#gj)"/><path d="M664.6 681.2h0.8" stroke="#666" stroke-width="0.3"/><text x="666" y="682" font-size="2.2" fill="#555">1.6</text><path d="M664.6 702.78h0.8" stroke="#666" stroke-width="0.3"/><text x="666" y="703.58" font-size="2.2" fill="#555">1.2</text><path d="M664.6 724.35h0.8" stroke="#666" stroke-width="0.3"/><text x="666" y="725.15" font-size="2.2" fill="#555">0.8</text><path d="M664.6 745.92h0.8" stroke="#666" stroke-width="0.3"/><text x="666" y="746.72" font-size="2.2" fill="#555">0.4</text><path d="M664.6 767.5h0.8" stroke="#666" stroke-width="0.3"/><text x="666" y="768.3" font-size="2.2" fill="#555">0.0</text><path d="M420.3 795V886M434.9 795V886M449.3 795V886M464.4 795V886M478.3 795V886M492.1 795V886M400 807.8H493.4M400 824.2H493.4M400 840.6H493.4M400 857H493.4M400 872.9H493.4" stroke="#ebebeb" stroke-width="0.35"/><g stroke-width="3.6"><g id="u2" transform="scale(0.5)" stroke-linecap="round"><path d="M896 1612h0m2 4h0m1-4h0m0 4h0m0-3h0m0-1h0m1-5h0m0 8h0m0-5h0m1 11h0m0-11h0m0 13h0m0-13h0m0 1h0m0-6h0m0 7h0m1-6h0m0 4h0m0 7h0m0-13h0m0 13h0m0-5h0m0-5h0m1 18h0m0-16h0m0 4h0m0-2h0m0 4h0m0-6h0m0-6h0m0 2h0m0 11h0m1-7h0m0 4h0m0-3h0m0-1h0m0 5h0m0-6h0m1-1h0m0 7h0m0 7h0m0-3h0m0 1h0m0 6h0m0-20h0m1 7h0m0 3h0m0 4h0m0-3h0m0-13h0m0 9h0m0 13h0m1-21h0m0 5h0m0 17h0m0-10h0m0-4h0m0 7h0m0-20h0m0 4h0m0-1h0m0 13h0m0 5h0m0-17h0m0-3h0m0 18h0m0-12h0m0-1h0m1-2h0m0 13h0m0 4h0m0-13h0m0 15h0m0 5h0m0-10h0m0-13h0m0 0h0m0 0h0m0 0h0m0 3h0m0-5h0m0 8h0m0 9h0m0-5h0m1-14h0m0 16h0m0 3h0m0-2h0m0-8h0m0 7h0m0-15h0m0 23h0m0-18h0m0 12h0m0-7h0m0-7h0m0 11h0m0 2h0m0-2h0m0 13h0m0-26h0m0 10h0m0 1h0m0 13h0m0-18h0m1 0h0m0 7h0m0-7h0m0 10h0m0-3h0m0-12h0m0 10h0m0 3h0m0 3h0m0-3h0m0-16h0m0 15h0m0-6h0m0-9h0m0 8h0m1-9h0m0 6h0m0 10h0m0-2h0m0-5h0m0 18h0m0-3h0m0-18h0m0-1h0m0 2h0m1 12h0m0 9h0m0-2h0m0-5h0m0-3h0m0-12h0m0-3h0m0 24h0m0-7h0m0-1h0m0-9h0m0 1h0m0 8h0m0-2h0m0-15h0m1 2h0m0 7h0m0-5h0m0 19h0m0-22h0m0-4h0m0 26h0m0-13h0m0-7h0m1 5h0m0-5h0m0 14h0m0-4h0m0-2h0m0-6h0m0 0h0m0 3h0m0-3h0m0 18h0m0-10h0m0 8h0m0 3h0m1-16h0m0 13h0m0-12h0m0 1h0m0 3h0m0 1h0m0-11h0m0 17h0m0-3h0m0-2h0m0 10h0m0-7h0m0-2h0m0 4h0m1 1h0m0-6h0m0 4h0m0 6h0m0-23h0m0 18h0m0 4h0m0-17h0m0 13h0m0 0h0m1-11h0m0 6h0m0-3h0m0-7h0m0 14h0m0-3h0m0 0h0m0-8h0m0 10h0m0-17h0m0 9h0m0 8h0m0-17h0m0 15h0m0 8h0m0-2h0m0-9h0m0 3h0m0-14h0m1 13h0m0-4h0m0 14h0m0-3h0m0 3h0m0-11h0m0-12h0m0 15h0m1-4h0m0 7h0m0 4h0m0-20h0m0 4h0m0-2h0m0 13h0m0-18h0m0 16h0m0-7h0m0 3h0m0-12h0m0 9h0m1 0h0m0 4h0m0-4h0m0-11h0m0 12h0m0 0h0m0 9h0m1-16h0m0 19h0m0-22h0m0 17h0m0 5h0m0-10h0m0 7h0m0 1h0m0-3h0m0-2h0m0-10h0m0 9h0m1-14h0m0 5h0m0 11h0m0-13h0m0 16h0m0 0h0m0 3h0m0-12h0m0-2h0m0-5h0m0 18h0m0-1h0m1-11h0m0 5h0m0 0h0m0-8h0m0 10h0m0-13h0m0 3h0m0 9h0m0-7h0m0-2h0m1 8h0m0-6h0m0-3h0m0 17h0m0-2h0m0-13h0m0 7h0m0-1h0m0-12h0m1 3h0m0 6h0m0-4h0m0 0h0m0 13h0m0-4h0m0-9h0m0 2h0m0-2h0m1 2h0m0 12h0m0-13h0m0 6h0m0 4h0m0-13h0m0 2h0m1 12h0m0-7h0m0-5h0m0 1h0m0-3h0m0 15h0m0-12h0m0-1h0m1 0h0m0 4h0m0 2h0m0-1h0m0-5h0m0-2h0m0 12h0m0-2h0m1-8h0m0 8h0m0-9h0m0 4h0m0 4h0m0-9h0m0 13h0" stroke="#dba21c"/><path d="M882 1624h0m0-5h0m1 11h0m0-6h0m0 7h0m1-6h0m0-8h0m1 12h0m0-8h0m0 4h0m0 0h0m0-5h0m0 10h0m0-11h0m1 12h0m0-7h0m0-1h0m1 5h0m30 7h0m0 13h0m0-1h0m0-2h0m0 2h0m1 4h0m0 2h0m1-2h0m0-11h0m0-3h0m0 15h0m0-14h0m0 14h0m0-2h0m1 0h0m0 4h0m0-13h0m0 6h0m0-6h0m0 16h0m0-25h0m0 6h0m1-6h0m0 10h0m0-9h0m0 6h0m0-3h0m0 17h0m0 2h0m0-16h0m0 15h0m0-4h0m0-21h0m0 22h0m0-10h0m1 8h0m0-12h0m0 13h0m0 6h0m0-14h0m0-3h0m1 8h0m0-14h0m0 9h0m0 0h0m0 8h0m0-17h0m0 1h0m0 16h0m1-7h0" stroke="#d54fc4"/><path d="M872 1675h0m1 0h0m0-1h0m0 0h0m1 0h0m0-2h0m0 2h0m0-2h0m1 5h0m0-3h0m0 7h0m0-13h0m0 2h0m0 8h0m0-1h0m0 2h0m0-6h0m1 0h0m0 4h0m0-1h0m0-6h0m1 2h0m0-3h0m0 9h0m0 1h0m0-1h0m0-8h0m1-1h0m0 1h0m0-3h0m0 3h0m0 6h0m0 1h0m0 4h0m0-14h0m1 5h0m0-4h0m0 2h0m0 7h0m0-6h0m0 9h0m0-14h0m0 13h0m0-10h0m0 11h0m0-11h0m1 5h0m0 3h0m0-5h0m0-4h0m0 6h0m0 5h0m0-3h0m1-6h0m0-4h0m0 16h0m0-15h0m0 3h0m0 2h0m0 6h0m0-10h0m0 7h0m0-1h0m1-6h0m0 9h0m0-8h0m0 1h0m0-4h0m0 15h0m0-11h0m1-3h0m0 10h0m0-7h0m0-3h0m0 0h0m0 13h0m0-14h0m1 2h0m0 10h0m0-4h0m0-1h0m0 7h0m0 1h0m0-15h0m0-3h0m0 19h0m1-14h0m0 2h0m0 0h0m0 4h0m0 7h0m0-3h0m0 1h0m0 0h0m0-2h0m0-2h0m0-8h0m0 3h0m0 2h0m0 6h0m1-10h0m0 7h0m0 1h0m0-12h0m0 9h0m0-2h0m0 12h0m0-6h0m0-9h0m1 13h0m0-15h0m0 15h0m0-9h0m0-3h0m0-1h0m0 15h0m0-7h0m1-7h0m0-4h0m0 16h0m0-13h0m0 9h0m0-7h0m0-2h0m0 15h0m0-1h0m0-15h0m1 9h0m0-6h0m0 31h0m0-27h0m0 23h0m0-20h0m0 20h0m0-23h0m0 5h0m0-3h0m0 2h0m0 0h0m0 5h0m0-8h0m1 19h0m0-23h0m0 1h0m0 1h0m0 8h0m0-10h0m0 3h0m0 8h0m0 25h0m0-15h0m0-2h0m0-3h0m0-14h0m0 6h0m0-6h0m0-3h0m0 10h0m0 6h0m0 13h0m1-19h0m0 19h0m0-18h0m0 2h0m0 20h0m0-27h0m0-10h0m0 42h0m0-31h0m0-1h0m0-2h0m0-3h0m0 7h0m1-5h0m0 22h0m0 1h0m0-12h0m0-16h0m0 7h0m0 23h0m0-6h0m0 3h0m0-19h0m0 12h0m1-11h0m0-1h0m0-13h0m0 17h0m0-14h0m0 36h0m0-39h0m0 1h0m0 10h0m0 6h0m0-15h0m0 32h0m0 0h0m0-27h0m0-7h0m0 2h0m0 26h0m0-3h0m0-13h0m0 3h0m0-10h0m0 1h0m1-6h0m0 19h0m0-9h0m0-3h0m0 4h0m0-9h0m0 10h0m0-8h0m0 5h0m0 0h0m0-11h0m1 14h0m0 6h0m0-17h0m0 17h0m0-10h0m0 1h0m0 10h0m0-11h0m0 1h0m1-5h0m0-5h0m0 4h0m0 6h0m0 3h0m0 4h0m0-10h0m0-4h0m0-1h0m1 8h0m0-4h0m0 8h0m0-4h0m0 2h0m0 8h0m1-6h0m0 0h0m0-7h0m0 5h0m0-4h0m0-4h0m0 5h0m0 2h0m0-6h0m0-4h0m0 3h0m0 9h0m0 3h0m0-2h0m0-7h0m0 9h0m1-4h0m0-7h0m0 9h0m0 6h0m0-6h0m0-13h0m0 15h0m0 0h0m0-3h0m1 2h0m0-7h0m0-5h0m0 9h0m0 6h0m0-9h0m0-4h0m0 7h0m0 6h0m0-8h0m1-7h0m0 13h0m0 1h0m0-12h0m0-2h0m1 6h0m0 2h0m0-8h0m0 10h0m0-8h0m0-2h0m0 14h0m1-1h0m0 0h0m0-3h0m0-5h0m0 9h0m0-7h0m0-5h0m0 9h0m0-10h0m0 2h0m0 5h0m1-5h0m0 1h0m0 6h0m0-7h0m0-5h0m0 16h0m0-14h0m0 5h0m0-3h0m1 1h0m0 8h0m0-6h0m0-2h0m0 0h0m0-2h0m0 9h0m0-1h0m0-5h0m1-3h0m0 1h0m0 2h0m0-1h0m0 7h0m1-5h0m0 1h0m4 0h0" stroke="#5b6fc6"/><path d="M842 1677h0m0-1h0m0-2h0m0 0h0m1 2h0m1-4h0m1 1h0m0 5h0m0 1h0m0-6h0m1-1h0m0 1h0m0 0h0m1 3h0m0 1h0m0 0h0m0-4h0m0 6h0m1-6h0m0-2h0m0 1h0m1 3h0m0-3h0m0 5h0m0 2h0m1-1h0m0-2h0m0 1h0m0-3h0m0 3h0m0-1h0m1 0h0m0-4h0m0 6h0m0 1h0m0-7h0m1 5h0m0 1h0m1 1h0m0-4h0m0 1h0m0-5h0m0 1h0m0-1h0m1 1h0m0 0h0m0 6h0m0-4h0m0 4h0m0-3h0m0 0h0m1 1h0m0 3h0m0-3h0m0 0h0m0 0h0m0 1h0m0 0h0m1 0h0m0-4h0m0-1h0m0 3h0m0-3h0m1-1h0m0 7h0m0 1h0m0-4h0m0 1h0m0-4h0m0 6h0m0-3h0m0-4h0m0 0h0m0 5h0m1 3h0m0-6h0m0 6h0m0-3h0m1 0h0m0-2h0m0-1h0m1-1h0m0 3h0m1-1h0m0 0h0m0 4h0m1-3h0m0 0h0m1 1h0m0 0h0" stroke="#a8a8a0"/><path d="M874 1730h0m1 5h0m0 5h0m0-10h0m0 8h0m1-5h0m0 4h0m0 8h0m0-2h0m1-12h0m0 5h0m0 7h0m0-11h0m0-8h0m0 18h0m0-14h0m0 6h0m0 1h0m1-5h0m0 14h0m0 4h0m0-21h0m0-2h0m0-3h0m0-1h0m0 22h0m0 7h0m0-16h0m0-10h0m0 2h0m1 21h0m0-6h0m0-19h0m0 29h0m0-17h0m0-8h0m0 8h0m0 0h0m0-1h0m0 9h0m0 6h0m0-16h0m0 0h0m0 7h0m0-15h0m0 31h0m1-26h0m0 10h0m0 6h0m0-8h0m0-18h0m0 1h0m0 14h0m0 5h0m0-6h0m0 5h0m0 5h0m0-9h0m0 15h0m0-3h0m0 10h0m0-24h0m1 2h0m0-6h0m0-8h0m0 21h0m0-8h0m0 22h0m0-23h0m0 10h0m0-17h0m0 28h0m0-21h0m0-9h0m0 7h0m0-8h0m0 15h0m0-6h0m0 9h0m0-20h0m0 18h0m1 13h0m0 1h0m0-15h0m0 12h0m0-23h0m0 28h0m0-12h0m0 10h0m0-10h0m0 3h0m0-23h0m0 7h0m1 5h0m0-10h0m0 0h0m0 1h0m0-8h0m0 23h0m0-7h0m0 15h0m0-19h0m0-7h0m0 9h0m0 12h0m0-8h0m0-8h0m0-2h0m0 28h0m0-16h0m0 10h0m0-14h0m0 1h0m0 2h0m0 16h0m1-15h0m0-18h0m0 26h0m0-26h0m0 25h0m0-26h0m0-1h0m0 26h0m0 8h0m0-35h0m0 9h0m1 0h0m0 12h0m0-18h0m0 13h0m0 2h0m0-3h0m0 9h0m0-3h0m0 5h0m0 3h0m0-10h0m0-19h0m0 7h0m0 3h0m0 0h0m1 6h0m0-9h0m0 10h0m0 23h0m0-25h0m0-12h0m0-1h0m0 34h0m0 2h0m0-27h0m0 22h0m0-5h0m0-17h0m0-8h0m0 29h0m0-14h0m0-6h0m0-1h0m1-1h0m0-5h0m0-1h0m0-2h0m0 6h0m0-1h0m0 26h0m0-32h0m0 3h0m0 10h0m0 6h0m0-16h0m0-1h0m0-1h0m0 1h0m0 22h0m0 9h0m0-31h0m0 0h0m0 26h0m0-18h0m0 22h0m1 0h0m0-30h0m0 20h0m0 7h0m0 1h0m0 8h0m0-16h0m0 16h0m0 0h0m0-29h0m0-10h0m0 27h0m0 13h0m0-28h0m0 28h0m0-5h0m0-5h0m0 11h0m0-11h0m0 2h0m0-2h0m0 8h0m1-40h0m0 20h0m0 5h0m0 2h0m0-16h0m0 1h0m0 22h0m0-1h0m0 7h0m0-1h0m0 3h0m0-14h0m0-2h0m0 8h0m0-18h0m0-8h0m0 3h0m0 20h0m1-22h0m0 15h0m0 7h0m0-25h0m0 30h0m0-30h0m0 30h0m0-35h0m0 18h0m0 7h0m0-12h0m0 28h0m0-14h0m0-3h0m1 0h0m0-10h0m0 5h0m0-2h0m0 5h0m0-5h0m0 19h0m0-10h0m0 11h0m0-3h0m1-16h0m0-7h0m0-3h0m0 20h0m0-18h0m0 32h0m0-41h0m0 0h0m0 24h0m0-11h0m0 8h0m0-1h0m1-17h0m0 36h0m0-2h0m0-23h0m0 14h0m0-6h0m0-9h0m0 24h0m0-6h0m0-22h0m0 24h0m0 0h0m1-18h0m0 2h0m0-15h0m0 24h0m0-22h0m0 5h0m0 16h0m0-6h0m0-8h0m0-7h0m0 14h0m0 14h0m0-28h0m0 10h0m0 16h0m1 2h0m0-16h0m0-11h0m0-4h0m0 15h0m0 1h0m0 18h0m0-5h0m0-17h0m0-2h0m0 9h0m0-4h0m0-2h0m0-4h0m0 23h0m0-15h0m1-17h0m0 23h0m0 4h0m0-25h0m0 4h0m0 3h0m0 21h0m0-3h0m0-6h0m0-7h0m0 3h0m0 1h0m0 9h0m0-12h0m1 7h0m0-8h0m0 8h0m0-14h0m0 23h0m0-13h0m0 17h0m0-8h0m0-16h0m1-3h0m0 14h0m0-8h0m0 4h0m0 9h0m1-13h0m1 5h0" stroke="#7445b4"/><path d="M897 1727h0m1 2h0m1 8h0m0-6h0m0 3h0m0-8h0m0 3h0m0-1h0m0 4h0m1 0h0m0-3h0m0-9h0m0 8h0m0 10h0m0-2h0m1-4h0m0 9h0m0-5h0m0-14h0m1 14h0m0-9h0m0 6h0m0 5h0m0-12h0m0-4h0m0 1h0m0 7h0m0 6h0m0-11h0m1-4h0m0 15h0m0-2h0m0 2h0m0-12h0m0 12h0m0 4h0m0-10h0m0 11h0m0-18h0m1 15h0m0-6h0m0 1h0m0-2h0m0-5h0m0-1h0m0 13h0m0 3h0m0-8h0m0-5h0m0 5h0m0 4h0m0-16h0m0 8h0m0 12h0m1-13h0m0 8h0m0-7h0m0-10h0m0 15h0m0 0h0m0 8h0m0 0h0m0-10h0m0 6h0m0-10h0m0-9h0m0 24h0m0-11h0m1-15h0m0 14h0m0-4h0m0 7h0m0-6h0m0-4h0m0 16h0m1 0h0m0-19h0m0 1h0m0-4h0m0-1h0m0 2h0m0 18h0m0 6h0m0-3h0m0-15h0m0 19h0m0-10h0m0 8h0m0-6h0m0-4h0m1-7h0m0 14h0m0-19h0m0 1h0m0 1h0m0 10h0m0-3h0m0-7h0m0 8h0m0 8h0m1-1h0m0-13h0m0 6h0m0 9h0m0 0h0m0 4h0m0-7h0m1-4h0m0 7h0m0-14h0m0 4h0m0 0h0m0 13h0m0-1h0m0-3h0m0-6h0m1 11h0m0-7h0m0 5h0m0-20h0m0 22h0m0-9h0m0-10h0m0-3h0m0 17h0m0-12h0m0 11h0m0-6h0m0 7h0m0 4h0m0-23h0m0 10h0m0-5h0m1 12h0m0 3h0m0-12h0m0 10h0m0-6h0m0 6h0m0-21h0m0 5h0m1 21h0m0-6h0m0 8h0m0-11h0m0 7h0m0-11h0m0 4h0m0-6h0m0 9h0m0 0h0m0-3h0m0-5h0m0-10h0m0 7h0m0-6h0m0 4h0m1 20h0m0-20h0m0 6h0m0-7h0m0 9h0m0-10h0m0 13h0m0-5h0m0 3h0m0-11h0m0 13h0m0 6h0m1-16h0m0 13h0m0-3h0m0 0h0m0 2h0m0-6h0m0 12h0m0-11h0m0 7h0m0-10h0m0-10h0m0 9h0m0 14h0m0-8h0m0-13h0m0 20h0m0-1h0m0-15h0m1 1h0m0 14h0m0 0h0m0 2h0m0 1h0m0-12h0m0 12h0m0-5h0m0-13h0m0 5h0m0-2h0m0 0h0m0 8h0m0-8h0m0 5h0m1 10h0m0-14h0m0-2h0m0 6h0m0-8h0m0 2h0m0 7h0m0 7h0m0-10h0m0 2h0m0-11h0m0 10h0m0-11h0m0 11h0m0 4h0m1-4h0m0-8h0m0 11h0m0-4h0m0-5h0m1-4h0m0 2h0m0 11h0m0 0h0m0 8h0m0-17h0m0 0h0m0 2h0m1 5h0m0-3h0m0 8h0m0-5h0m0 2h0m0-7h0m0-5h0m0 15h0m0-2h0m1-4h0m0-1h0m0 4h0m0-3h0m0 4h0m0-7h0m0 2h0m1-5h0m0 10h0m0-3h0m0 3h0" stroke="#40c0a6"/><path d="M912 1711h0m1-1h0m0 0h0m0-3h0m0 0h0m0 1h0m0 0h0m0 5h0m2-1h0m0-1h0m0 3h0m0-4h0m1-4h0m0 5h0m0-4h0m0 6h0m1-3h0m0 3h0m0-3h0m0 3h0m0-1h0m1 1h0m0 0h0m0-4h0m0 4h0m0-2h0m0-4h0m1-1h0m0 0h0m0 4h0m0-2h0m0 2h0m0 2h0m0-5h0m0 0h0m1 3h0m0-1h0m0 4h0m0 0h0m1-7h0m0 7h0m1-1h0m1-3h0m1 0h0m0 1h0" stroke="#e8585a"/><path d="M952 1679h0m0-4h0m1 5h0m0-3h0m1-1h0m0 3h0m0-3h0m0 0h0m0 4h0m1-4h0m0 2h0m0 1h0m0-2h0m0 1h0m0 2h0m1-1h0m0-1h0m0 0h0m0-4h0m0 1h0m1 2h0m0 2h0m0-5h0m1 2h0m0 2h0m0-2h0m0-1h0m0 4h0m1-4h0m1 2h0" stroke="#1f7a6a"/><path d="M902 1688h0m0 0h0m1 0h0m0-1h0m0 2h0m0-3h0m1 4h0m0-3h0m0 1h0m1-1h0m0 3h0m1-2h0m0-1h0m1 1h0" stroke="#f39c12"/><path d="M962 1709h0m0 0h0m0-1h0m1 0h0m0 3h0m2-1h0m0-1h0m0 4h0m1-3h0m0 0h0" stroke="#9ccc3c"/><path d="M809 1671h0m1 0h0m1 0h0m0 0h0" stroke="#3a8fd4"/></g></g><g font-size="3.9" fill="#000" stroke="#000" stroke-width="0.1" text-anchor="middle"><text x="456.8" y="806">Malignant</text><text x="456.8" y="814">Epithelial</text><text x="405.6" y="836.7">Mast</text><text x="426.6" y="836.7">Treg</text><text x="441.7" y="833.7">CD8T</text><text x="458.6" y="838">Fibroblasts</text><text x="463" y="844.2">B</text><text x="460" y="849.8">Tprolif</text><text x="463" y="856.4">Endothelial</text><text x="421.5" y="865.7">Mono/Macro</text><text x="453" y="865.7">DC</text></g><g stroke-width="4"><g transform="scale(0.5)" stroke-linecap="round"><path d="M1010 1639h0" stroke="#f39c12"/><path d="M1010 1648h0" stroke="#5b6fc6"/><path d="M1010 1657h0" stroke="#40c0a6"/><path d="M1010 1666h0" stroke="#9ccc3c"/><path d="M1010 1674h0" stroke="#d54fc4"/><path d="M1010 1683h0" stroke="#1f7a6a"/><path d="M1010 1692h0" stroke="#dba21c"/><path d="M1010 1700h0" stroke="#3a8fd4"/><path d="M1010 1709h0" stroke="#7445b4"/><path d="M1010 1718h0" stroke="#e8585a"/><path d="M1010 1727h0" stroke="#a8a8a0"/></g></g><text x="502" y="817.2" font-size="3.55" fill="#222">Celltype (major-lineage)</text><text x="508" y="820.9" font-size="3.45" fill="#222">B</text><text x="508" y="825.26" font-size="3.45" fill="#222">CD8T</text><text x="508" y="829.62" font-size="3.45" fill="#222">DC</text><text x="508" y="833.98" font-size="3.45" fill="#222">Endothelial</text><text x="508" y="838.34" font-size="3.45" fill="#222">Epithelial</text><text x="508" y="842.7" font-size="3.45" fill="#222">Fibroblasts</text><text x="508" y="847.06" font-size="3.45" fill="#222">Malignant</text><text x="508" y="851.42" font-size="3.45" fill="#222">Mast</text><text x="508" y="855.78" font-size="3.45" fill="#222">Mono/Macro</text><text x="508" y="860.14" font-size="3.45" fill="#222">Tprolif</text><text x="508" y="864.5" font-size="3.45" fill="#222">Treg</text><text x="446.3" y="789" font-size="5.6" text-anchor="middle" fill="#222">LIHC_GSE166635</text><path d="M568.6 797V882M582.5 797V882M596.4 797V882M610.6 797V882M624.3 797V882M637.7 797V882M651.6 797V882M567 824H652M567 839H652M567 855H652M567 871H652" stroke="#ebebeb" stroke-width="0.35"/><use href="#u2" stroke-width="4" transform="matrix(0.98,0,0,1,175.07999999999998,0.5)" filter="url(#fgrey)"/><g stroke-width="1.6"><g transform="scale(0.5)" stroke-linecap="round" stroke-opacity="0.7"><path d="M1244 1710h0m2 1h0m1 2h0m0-1h0m0-4h0m0 2h0m1 1h0m0 1h0m1-2h0m0-3h0m1 0h0m0 0h0m1 5h0m1-4h0m0 4h0m1-3h0m0 3h0m1-3h0m1 1h0m1-1h0" stroke="#4a3aa0"/><path d="M1238 1613h0m1 2h0m3 1h0m1-8h0m4 5h0m0-3h0m2 0h0m0-2h0m1 7h0m3-6h0m0 4h0m1 0h0" stroke="#6a5ab8"/></g></g><text x="608" y="789" font-size="5.6" text-anchor="middle" fill="#222">RECQL4</text><rect x="658.7" y="793.7" width="5.6" height="90.3" fill="url(#gj)"/><path d="M664.3 795.7h0.8" stroke="#666" stroke-width="0.3"/><text x="665.7" y="796.5" font-size="2.2" fill="#555">2.00</text><path d="M664.3 806.49h0.8" stroke="#666" stroke-width="0.3"/><text x="665.7" y="807.29" font-size="2.2" fill="#555">1.75</text><path d="M664.3 817.28h0.8" stroke="#666" stroke-width="0.3"/><text x="665.7" y="818.08" font-size="2.2" fill="#555">1.50</text><path d="M664.3 828.06h0.8" stroke="#666" stroke-width="0.3"/><text x="665.7" y="828.86" font-size="2.2" fill="#555">1.25</text><path d="M664.3 838.85h0.8" stroke="#666" stroke-width="0.3"/><text x="665.7" y="839.65" font-size="2.2" fill="#555">1.00</text><path d="M664.3 849.64h0.8" stroke="#666" stroke-width="0.3"/><text x="665.7" y="850.44" font-size="2.2" fill="#555">0.75</text><path d="M664.3 860.42h0.8" stroke="#666" stroke-width="0.3"/><text x="665.7" y="861.22" font-size="2.2" fill="#555">0.50</text><path d="M664.3 871.21h0.8" stroke="#666" stroke-width="0.3"/><text x="665.7" y="872.01" font-size="2.2" fill="#555">0.25</text><path d="M664.3 882h0.8" stroke="#666" stroke-width="0.3"/><text x="665.7" y="882.8" font-size="2.2" fill="#555">0.00</text><path d="M405.6 915V1006M417.7 915V1006M429 915V1006M441.7 915V1006M453 915V1006M465.7 915V1006M478.3 915V1006M490.4 915V1006M400 916.5H493.4M400 927.4H493.4M400 938.5H493.4M400 949.3H493.4M400 960.7H493.4M400 971.5H493.4M400 982.6H493.4M400 993.4H493.4M400 1004.8H493.4" stroke="#ebebeb" stroke-width="0.35"/><g stroke-width="1.8"><g id="u3" transform="scale(0.5)" stroke-linecap="round"><path d="M802 1868h0m6 30h0m1 43h0m0-11h0m0-10h0m2 36h0m1-32h0m0-31h0m0 10h0m0-15h0m0-3h0m1 6h0m0 0h0m1-16h0m0 48h0m1-14h0m0-18h0m0 36h0m0 26h0m0-78h0m1 65h0m0 10h0m1-71h0m0 36h0m1-1h0m0 16h0m0 11h0m1 9h0m0-82h0m1 71h0m0-14h0m0 38h0m1-16h0m0-76h0m0 43h0m0-23h0m0 75h0m0-52h0m1 32h0m0-21h0m0-48h0m0 94h0m0-56h0m0 11h0m0-54h0m0 81h0m1-83h0m0 85h0m0-18h0m0-41h0m0-10h0m0 32h0m1 13h0m0-38h0m0-25h0m0 32h0m0-16h0m0-5h0m0 45h0m1 36h0m0-76h0m0 60h0m0-20h0m0 7h0m0-7h0m0-8h0m0-43h0m0 80h0m1-92h0m0 41h0m0 42h0m0-70h0m0 30h0m0 37h0m0-2h0m0 0h0m0-72h0m0 57h0m0-40h0m0-9h0m0 50h0m1 10h0m0-47h0m0 5h0m0-21h0m0 56h0m0-56h0m0 11h0m0 38h0m0-30h0m0-26h0m0 78h0m0-14h0m0-41h0m0 7h0m0 19h0m1-35h0m0 54h0m0-7h0m0 41h0m0-38h0m0-26h0m0 36h0m0 9h0m0-10h0m0 12h0m0-61h0m1 45h0m0 8h0m0-7h0m0 20h0m0-82h0m0 53h0m0 12h0m0 3h0m1-17h0m0-48h0m0 57h0m0 32h0m0-86h0m0 20h0m0 36h0m0 8h0m0-15h0m0 52h0m0-30h0m0-57h0m0 29h0m0-54h0m0 25h0m0 64h0m0-84h0m1 23h0m0-13h0m0 69h0m0-36h0m0 1h0m0-19h0m0 20h0m0-64h0m0 104h0m0-31h0m0-46h0m0 10h0m0 12h0m0-15h0m1 55h0m0-72h0m0 58h0m0 26h0m0-83h0m0 75h0m0-74h0m0 33h0m0-6h0m0 25h0m1-29h0m0 1h0m0-9h0m0-4h0m0-10h0m0 53h0m0-48h0m0 0h0m0 27h0m0 26h0m0-36h0m0 8h0m0-22h0m0 0h0m0 70h0m1-34h0m0-36h0m0 80h0m0-38h0m0-49h0m0 13h0m0 44h0m0 35h0m0-67h0m0 27h0m1-41h0m0-7h0m0 83h0m0-35h0m0-9h0m0 9h0m0 11h0m0-30h0m0-38h0m1 74h0m0-85h0m0 102h0m0-86h0m0 42h0m0-22h0m0 52h0m0 3h0m0-42h0m0 34h0m1-51h0m0 31h0m0-74h0m0 32h0m0 26h0m0 10h0m0-33h0m0 68h0m0-26h0m0-36h0m0 0h0m1-8h0m0 6h0m0 5h0m0 29h0m0-15h0m0-31h0m0 14h0m1 14h0m0-15h0m0-33h0m0 31h0m1 67h0m0-21h0m0-47h0m0-1h0m0 15h0m0-19h0m0 7h0m0 21h0m1-44h0m0 17h0m0-6h0m0 10h0m0 36h0m0-39h0m1 3h0m0-2h0m0 6h0m0-8h0m0-2h0m0-2h0m0 15h0m0 7h0m1-13h0m0-8h0m0-19h0m0 31h0m0-9h0m0-6h0m1-1h0m0 6h0m0-11h0m0 4h0m0 11h0m0 39h0m0 26h0m1-80h0m0 9h0m0 13h0m0 2h0m0-6h0m0-6h0m0 6h0m0-17h0m0 27h0m0-16h0m0-2h0m0 36h0m1-28h0m0 3h0m0-2h0m0-11h0m0-9h0m0 58h0m1-13h0m0-36h0m0 8h0m0 18h0m0-4h0m0-15h0m0-4h0m1-10h0m0 9h0m0-3h0m1 18h0m0-2h0m0-11h0m0 27h0m1-22h0m0-26h0m0 21h0m0 16h0m0 0h0m0 18h0m0-22h0m1 4h0m0 15h0m0-10h0m0-38h0m0 14h0m0 1h0m0 17h0m0-8h0m1 27h0m0-23h0m0 25h0m0-52h0m0 35h0m0 12h0m0-18h0m1 13h0m0-20h0m0 1h0m0 24h0m0-20h0m0-15h0m0-8h0m1 11h0m1 5h0m0-1h0m0-4h0m0-11h0m1 23h0m0 29h0m0-24h0m0 12h0m0-32h0m0 15h0m0 3h0m0-18h0m0 26h0m1 12h0m0-41h0m1 9h0m0-8h0m0 21h0m1-11h0m0 14h0m0-33h0m0-10h0m2 31h0m0-6h0m0-7h0m0 28h0m0 8h0m0-18h0m1-9h0m0 18h0m0 11h0m0-1h0m1-28h0m0 6h0m0-13h0m1 9h0m0 8h0m0-4h0m0-5h0m1 19h0m1-27h0m0-12h0m0 19h0m1 5h0m2 17h0m0-32h0m0-12h0m1 22h0m1 9h0m0 14h0m0-23h0m0 13h0m0-15h0m1-33h0m1 43h0m1-6h0m3-19h0m1 12h0m3 12h0m3-2h0m4 14h0" stroke="#5560c0"/><path d="M806 1884h0m2 2h0m0 5h0m0 1h0m0-7h0m1-2h0m1 6h0m0-2h0m0 0h0m1 12h0m0-22h0m0 10h0m1 5h0m0-8h0m1-1h0m1 2h0m0-2h0m0 8h0m0 39h0m0-64h0m1 39h0m0-23h0m0 18h0m0 1h0m1-7h0m0-21h0m0 7h0m1 11h0m0 74h0m0-73h0m0 1h0m1 12h0m0-22h0m1 19h0m1-23h0m0 8h0m0 9h0m0 1h0m2 0h0m0-5h0m0-5h0m2 54h0m0-46h0m0-22h0m3 93h0m2-49h0m0 51h0m2-42h0m1-17h0m1 85h0m0-61h0m1 37h0m2-46h0m0 33h0m2-35h0m1 30h0m1-18h0m0-20h0m0 24h0m0 78h0m1-77h0m0-21h0m0 8h0m3-1h0m0 56h0m0-15h0m1-29h0m0-27h0m0 116h0m0-54h0m2-44h0m0 19h0m0 2h0m1 2h0m0-9h0m1-28h0m0 23h0m1-13h0m0-23h0m0 23h0m1 54h0m0-26h0m0 0h0m0-12h0m0 7h0m1 27h0m0-61h0m1 4h0m0 71h0m1-69h0m0 42h0m1-6h0m0-21h0m0 11h0m0 12h0m0 7h0m1 19h0m0-22h0m0 33h0m0-26h0m0-59h0m1 46h0m0 15h0m0-50h0m0 30h0m0-35h0m0 16h0m1-5h0m0 58h0m0-13h0m0-97h0m0 59h0m0 0h0m0 69h0m0-54h0m0 6h0m0-28h0m0 16h0m1 28h0m0 17h0m0-51h0m0 6h0m0 16h0m0-37h0m1 41h0m0-44h0m0-1h0m0 75h0m0-78h0m0 54h0m0 10h0m1-59h0m0 17h0m0 17h0m0 12h0m0-6h0m0-3h0m0 0h0m0 32h0m1-46h0m0 25h0m0-38h0m0 7h0m0 26h0m0-25h0m1 0h0m0-17h0m0 28h0m0 7h0m0 31h0m0-46h0m0 10h0m0-1h0m0 0h0m1 41h0m0-40h0m0-46h0m0 25h0m1 37h0m0-15h0m0-30h0m0 49h0m0-54h0m0 23h0m0-9h0m0 46h0m0-56h0m1 42h0m0-8h0m0-34h0m0 31h0m0 6h0m0-17h0m0-22h0m0-9h0m0 9h0m0 6h0m0 37h0m0-15h0m0 29h0m1-26h0m0 1h0m0-55h0m0 71h0m0-77h0m0 67h0m0 44h0m0-112h0m0 62h0m0-16h0m1 6h0m0 22h0m0-12h0m0 3h0m0 21h0m0-19h0m0 0h0m0-27h0m0 12h0m0 35h0m0 30h0m1-74h0m0-41h0m0 3h0m0 40h0m0 5h0m0-12h0m0 9h0m0 33h0m0 1h0m0-8h0m0-38h0m0-13h0m1 71h0m0-48h0m0 14h0m0 34h0m0 3h0m0-42h0m0-37h0m0 50h0m0 8h0m0-32h0m0 6h0m0-24h0m0-3h0m0 79h0m0-50h0m1-4h0m0 21h0m0-4h0m0 0h0m0 4h0m0-47h0m0 99h0m0-54h0m0 19h0m1-52h0m0 72h0m0-25h0m0 7h0m0-39h0m0-13h0m0 31h0m0-7h0m0 13h0m1-23h0m0-28h0m0 47h0m0-6h0m0-16h0m0-10h0m0 13h0m0-62h0m0 65h0m0-19h0m0-9h0m0 54h0m1-31h0m0 27h0m0-15h0m0 32h0m0-57h0m0 19h0m0 40h0m0-49h0m0 57h0m0-85h0m0 42h0m0 2h0m0-49h0m0 19h0m1 51h0m0-42h0m0 61h0m0-24h0m0-8h0m0 9h0m0-22h0m0 20h0m0 15h0m0-81h0m0 31h0m0-23h0m0 42h0m0-4h0m0 13h0m1-8h0m0 0h0m0 25h0m0-32h0m0 0h0m0 7h0m0-16h0m0 29h0m1-6h0m0 11h0m0-50h0m0 53h0m0-32h0m0-5h0m0 17h0m0 8h0m0-39h0m1 38h0m0 41h0m0-32h0m0 14h0m0-49h0m0-13h0m0 57h0m0-45h0m1 33h0m0-58h0m0 81h0m0-59h0m0 47h0m0-11h0m0-21h0m0-9h0m0 32h0m0-7h0m0 11h0m0-45h0m0 77h0m0-84h0m1-23h0m0 69h0m0-32h0m0-38h0m0 38h0m0 35h0m0-38h0m0 36h0m0-58h0m0 30h0m0 29h0m0-19h0m0 37h0m0 0h0m0-49h0m0 11h0m1-46h0m0 49h0m0-44h0m0 12h0m0 10h0m0 22h0m0-51h0m0 119h0m0-92h0m0 23h0m0 0h0m0-36h0m0 57h0m0-95h0m0 132h0m0-33h0m0-27h0m0-7h0m0-14h0m0 19h0m0 18h0m0 9h0m0-38h0m1 19h0m0-12h0m0-24h0m0 63h0m0-65h0m0 6h0m0 10h0m0-26h0m0 66h0m0 9h0m0-80h0m1 30h0m0 47h0m0-32h0m0 39h0m0-25h0m0 5h0m0-36h0m0 0h0m0-9h0m0 70h0m0-58h0m0 47h0m0-2h0m0-39h0m0 21h0m1 9h0m0-23h0m0 14h0m0-8h0m0-28h0m0 25h0m1-14h0m0 16h0m0-42h0m0 66h0m0-73h0m0 97h0m0-15h0m0-40h0m1-9h0m0 9h0m0-41h0m0 67h0m0-45h0m0 12h0m0 2h0m0 21h0m0-68h0m0 153h0m0-140h0m1 59h0m0-45h0m0 11h0m0 37h0m0-48h0m0 42h0m0-59h0m0 59h0m0 4h0m0 3h0m0-49h0m1 75h0m0-47h0m0 8h0m0 9h0m0 4h0m0-32h0m0 20h0m0 8h0m0-44h0m0-2h0m0 99h0m0-56h0m0 27h0m1-25h0m0-47h0m0 16h0m0 23h0m0-26h0m0 18h0m0-19h0m0 14h0m0-27h0m0 83h0m0-5h0m0-75h0m1-5h0m0 18h0m0 4h0m0 54h0m0-27h0m0-31h0m0 45h0m0 3h0m0-66h0m0 35h0m0 18h0m1-47h0m0 33h0m0 22h0m0-63h0m0 29h0m0 61h0m0-41h0m0-64h0m0-12h0m0 85h0m0-28h0m0 39h0m0-77h0m1 60h0m0-65h0m0 30h0m0 41h0m0-10h0m0-13h0m0-35h0m0 37h0m0-4h0m1 13h0m0-72h0m0 69h0m0-38h0m0-10h0m0 9h0m0 52h0m0-16h0m0-14h0m1 32h0m0 8h0m0-3h0m0-63h0m0 80h0m0-90h0m0 12h0m0 15h0m0-22h0m0 36h0m0 27h0m0-67h0m0 18h0m0-9h0m0 79h0m0-41h0m1 4h0m0-29h0m0 76h0m0-78h0m0 22h0m0 4h0m0-19h0m0 49h0m1-48h0m0 17h0m0-7h0m0-42h0m0 95h0m0-1h0m0-61h0m0 13h0m0 18h0m0-7h0m0-35h0m0 28h0m1-40h0m0 38h0m0-25h0m0 16h0m0 19h0m0-58h0m0 47h0m0-41h0m0 35h0m0 34h0m0-23h0m0-47h0m0 55h0m1-6h0m0 27h0m0-66h0m0-2h0m0 36h0m0-37h0m0 1h0m0 76h0m0-13h0m0-50h0m0 12h0m0-7h0m0-17h0m0 13h0m0 39h0m0-42h0m1 24h0m0-43h0m0 7h0m0 1h0m1 39h0m0-49h0m0-11h0m0 59h0m0 23h0m0 8h0m0-60h0m0 48h0m0-4h0m0-27h0m0 50h0m0-52h0m1-25h0m0-2h0m0 23h0m0 28h0m0-31h0m0 59h0m0-71h0m0 9h0m0 44h0m0 17h0m0-63h0m0 1h0m0-17h0m1-8h0m0 59h0m0-30h0m0-6h0m0 5h0m0-23h0m0 52h0m0-5h0m0 46h0m0-62h0m0-5h0m0-26h0m1 23h0m0 30h0m0-50h0m0 5h0m0 34h0m0 10h0m0-9h0m0-41h0m0 19h0m0 26h0m0-49h0m0 35h0m0-26h0m1 26h0m0 4h0m0 12h0m0-46h0m0 44h0m0-38h0m0 68h0m0-37h0m0-30h0m0 72h0m0-64h0m0 50h0m0-37h0m1-25h0m0 18h0m0 27h0m0-48h0m0 30h0m0-39h0m0 4h0m0 6h0m0 1h0m0 83h0m0-62h0m0 33h0m0-59h0m1 14h0m0 6h0m0 50h0m0-45h0m0-14h0m0-1h0m0 19h0m0-10h0m0 20h0m1-41h0m0 41h0m0-28h0m0 24h0m0-6h0m0 15h0m0-24h0m0 28h0m0-30h0m0 44h0m0-38h0m0 14h0m0-32h0m0 9h0m1 51h0m0-40h0m0 19h0m0-10h0m0 0h0m0 33h0m0-55h0m0 90h0m0-96h0m0 49h0m0-41h0m1 4h0m0 8h0m0 34h0m0-67h0m0 2h0m0 7h0m0 72h0m0-57h0m0 13h0m0-17h0m0 3h0m0 48h0m0 4h0m1-9h0m0 8h0m0 39h0m0-71h0m0-31h0m0 81h0m0-85h0m0 7h0m0 2h0m0 40h0m0-14h0m0 5h0m1-12h0m0 1h0m0-3h0m0 18h0m0-44h0m0-4h0m0 18h0m0 4h0m0-15h0m0 33h0m1 65h0m0-8h0m0-53h0m0 31h0m0-39h0m0 27h0m0 15h0m0-32h0m0-10h0m0 2h0m0-26h0m1 15h0m0-20h0m0 1h0m0 60h0m0 0h0m1 35h0m0-93h0m0-2h0m0 41h0m1-33h0m0-12h0m0 0h0m0 15h0m0 13h0m0 15h0m1-15h0m0-24h0m0 11h0m0 1h0m0 25h0m0-8h0m0 4h0m1 7h0m0 25h0m0-1h0m0-74h0m0 66h0m0-14h0m0-7h0m0-26h0m1 5h0m0-11h0m0-26h0m0 78h0m1-3h0m0-51h0m1 1h0m0 56h0m0-39h0m0 65h0m0-26h0m0-55h0m0 47h0m0-37h0m0 46h0m1-74h0m0 54h0m0-27h0m0 1h0m1 55h0m0-30h0m0-5h0m1-16h0m0-18h0m0 47h0m0 1h0m0-2h0m0 18h0m0-7h0m0-37h0m1 25h0m0-10h0m0-6h0m1 22h0m0-7h0m0-40h0m1 22h0m0 20h0m0-19h0m0-24h0m0 9h0m0-9h0m1 40h0m0-13h0m1 34h0m1 7h0m0 27h0m1-47h0m0-17h0m0 69h0m0-31h0m1-9h0m2-50h0m0 6h0m0 4h0m3-7h0m1-14h0m1 19h0m0 35h0m8-7h0m17 9h0" stroke="#e8961e"/><path d="M859 1855h0m0-11h0m1 15h0m1 10h0m0-34h0m0 22h0m1-16h0m1 23h0m1-2h0m1 0h0m1-8h0m0 9h0m0-6h0m0 10h0m1-22h0m0 24h0m1-13h0m0-4h0m1 3h0m0-20h0m0 22h0m0-13h0m1 23h0m0-9h0m1 1h0m0 5h0m0 9h0m0-17h0m0 6h0m1 5h0m0 1h0m1-11h0m0-19h0m0 9h0m1 9h0m0 8h0m0-8h0m0-1h0m0-1h0m0 12h0m0-15h0m1 1h0m0-5h0m0 11h0m0 5h0m1 1h0m0 6h0m0-17h0m0 12h0m0-13h0m1 14h0m0-19h0m0 24h0m1-9h0m0-12h0m0 9h0m0-8h0m0 25h0m0-43h0m0 30h0m0-13h0m1 2h0m0 16h0m0-15h0m0-5h0m0-2h0m0 10h0m1 1h0m0-2h0m0 0h0m0 7h0m1 12h0m0-26h0m0 24h0m0-26h0m0-2h0m0 12h0m1 12h0m1-14h0m0 3h0m0-2h0m0 4h0m0 3h0m0 0h0m1-17h0m0 22h0m0 1h0m0-4h0m0-24h0m0 12h0m0 10h0m0-7h0m1 23h0m0-18h0m0-2h0m0 12h0m0 4h0m1-16h0m0 12h0m1-11h0m0 0h0m0-12h0m0 20h0m0-16h0m0-4h0m0 1h0m1 3h0m0 3h0m0-8h0m1 19h0m0-5h0m0 3h0m0-19h0m1 14h0m0 2h0m0-18h0m0 9h0m0 14h0m0-16h0m0 4h0m0 4h0m0-1h0m1-13h0m0 0h0m0 15h0m1 10h0m0-10h0m0-3h0m0 3h0m1 13h0m0-30h0m0 8h0m1 10h0m0-1h0m0-4h0m1-15h0m0 20h0m1 2h0m1 10h0m0-20h0m0-11h0m0 0h0m1 19h0m0-14h0m0-3h0m0 13h0m1-5h0m0-3h0m1 17h0m1-11h0m2 14h0m0-9h0m0 15h0m1-24h0m0 2h0m0 16h0m1-25h0m2 12h0m4-14h0m8 30h0" stroke="#4cc0a0"/><path d="M922 1928h0m3-11h0m0 11h0m4 6h0m1-26h0m2 17h0m1-10h0m0 4h0m0-23h0m1 16h0m0 2h0m1 6h0m0 1h0m0 6h0m0 14h0m0-23h0m1 1h0m0 16h0m0-13h0m0 26h0m0-50h0m1 19h0m0-15h0m0 30h0m0-6h0m1-21h0m0 7h0m0 23h0m0-1h0m0-12h0m0-8h0m0-15h0m1 0h0m0 29h0m0-34h0m0 37h0m0-10h0m0-4h0m1 5h0m0 4h0m0-21h0m1 18h0m0-7h0m0-13h0m0 5h0m0 4h0m0-7h0m0-4h0m0 24h0m0-19h0m0 14h0m0 3h0m1-16h0m0 14h0m0-15h0m0 24h0m0-20h0m0-1h0m1 21h0m0-40h0m0 49h0m0-25h0m0 1h0m1-11h0m0-17h0m0 35h0m0-39h0m0 22h0m0 29h0m1-22h0m0 5h0m0 15h0m0-4h0m0-5h0m1-12h0m0-9h0m0 1h0m0 26h0m0-9h0m0-4h0m0 7h0m0-13h0m0 3h0m0 2h0m0 7h0m1 0h0m0 1h0m0 4h0m0-12h0m0 3h0m0-6h0m0 15h0m0-13h0m0 13h0m0-21h0m0 22h0m0-6h0m1 8h0m0-25h0m0 4h0m0 3h0m0-6h0m0-9h0m0 37h0m0-25h0m0-9h0m0 10h0m0 20h0m1-8h0m0-5h0m0 5h0m0-1h0m0-5h0m0 25h0m0-48h0m0 22h0m1-12h0m0 13h0m0-21h0m0 13h0m0 13h0m0-24h0m0 11h0m0 5h0m0 28h0m1-30h0m0-10h0m0 28h0m0-11h0m0-1h0m0 5h0m0 0h0m0 5h0m0-7h0m1-4h0m0 11h0m0-4h0m0-24h0m0 16h0m0 9h0m0-13h0m0-1h0m0 9h0m0-15h0m0 7h0m0 20h0m0-3h0m0-18h0m0 17h0m0-16h0m0-1h0m1 13h0m0-2h0m0 0h0m0 4h0m0 4h0m0-9h0m0 2h0m0-10h0m1 20h0m0 2h0m0-3h0m0-4h0m0 16h0m0-29h0m1 12h0m0-20h0m0 22h0m0-14h0m0 4h0m0-3h0m0-2h0m0 4h0m0-24h0m0 8h0m0 20h0m0-12h0m0 3h0m0 7h0m1-8h0m0 3h0m0-8h0m0 14h0m0 1h0m0-13h0m0 0h0m0 1h0m0 3h0m0 13h0m0-18h0m0 12h0m1-7h0m0 38h0m0-14h0m0-12h0m0 10h0m0-7h0m1-17h0m0 3h0m0 24h0m0-33h0m0 15h0m1 1h0m0-5h0m0-2h0m0 13h0m1-22h0m0-4h0m0 19h0m0-8h0m0 16h0m0-25h0m0 18h0m0-28h0m1 26h0m0-16h0m0 11h0m0 0h0m0 6h0m0-7h0m1 15h0m0-35h0m0 46h0m1-36h0m0 5h0m0 10h0m0 3h0m1-4h0m0-18h0m0 5h0m1-1h0m0 35h0m0-34h0m1-2h0m0 25h0m0-13h0m0 0h0m0 8h0m0 1h0m1-15h0m0 5h0m1 22h0m0-13h0m0-23h0m1 7h0m0-11h0m1 40h0m1-38h0m2 20h0m0-7h0m0 18h0m0 18h0m0-32h0m2-23h0m0 21h0m3-5h0m0 10h0m1-4h0m2 13h0m0 4h0" stroke="#1f7a6a"/><path d="M898 1857h0m13-8h0m2-1h0m0 3h0m2 2h0m0-3h0m1 0h0m0 2h0m0 0h0m0-3h0m0 2h0m2-4h0m1 5h0m1-5h0m1 0h0m1 1h0m0-1h0m0-1h0m0-3h0m1 3h0m0 1h0m2-1h0m3-1h0m1 0h0m0 1h0m0-1h0m1-1h0m1-5h0m2 4h0m0-1h0m4-2h0m0 3h0m2-2h0m4-2h0m4-1h0" stroke="#d040c0"/><path d="M832 1986h0m2-1h0m0 4h0m1-5h0m0 5h0m1-2h0m1-3h0m0 2h0m0 0h0m1-1h0m0 6h0m0-1h0m1-5h0m0 4h0m0-1h0m0 0h0m1 3h0m0 0h0m1-5h0m0 6h0m0-4h0m0-1h0m1-1h0m0-1h0m3 2h0" stroke="#97c73e"/></g></g><g font-size="3.9" fill="#000" stroke="#000" stroke-width="0.1" text-anchor="middle"><text x="465.7" y="921.5">Tprolif</text><text x="448" y="930.2">CD8Tex</text><text x="427.3" y="948">CD8T</text><text x="480.8" y="955.6">Treg</text><text x="450.5" y="971.2">CD4Tconv</text><text x="427.3" y="993.9">Others</text></g><g stroke-width="4"><g transform="scale(0.5)" stroke-linecap="round"><path d="M1010 1905h0" stroke="#e8961e"/><path d="M1010 1914h0" stroke="#5560c0"/><path d="M1010 1922h0" stroke="#4cc0a0"/><path d="M1010 1931h0" stroke="#97c73e"/><path d="M1010 1940h0" stroke="#d040c0"/><path d="M1010 1948h0" stroke="#1f7a6a"/></g></g><text x="502" y="949.9" font-size="3.55" fill="#222">Celltype (major-lineage)</text><text x="508" y="953.6" font-size="3.45" fill="#222">CD4Tconv</text><text x="508" y="957.96" font-size="3.45" fill="#222">CD8T</text><text x="508" y="962.32" font-size="3.45" fill="#222">CD8Tex</text><text x="508" y="966.68" font-size="3.45" fill="#222">Others</text><text x="508" y="971.04" font-size="3.45" fill="#222">Tprolif</text><text x="508" y="975.4" font-size="3.45" fill="#222">Treg</text><text x="446.5" y="909.7" font-size="5.6" text-anchor="middle" fill="#222">LIHC_GSE98638</text><path d="M570.9 915V1004M585 915V1004M598 915V1004M610.6 915V1004M624 915V1004M636.5 915V1004M649 915V1004M567 917H652M567 939H652M567 958.5H652M567 978.5H652M567 999H652" stroke="#ebebeb" stroke-width="0.35"/><use href="#u3" stroke-width="1.5" transform="matrix(0.9,0,0,1,211.0,1)" filter="url(#fgrey2)"/><text x="609.7" y="909.4" font-size="5.6" text-anchor="middle" fill="#222">RECQL4</text><rect x="660.3" y="915" width="5.6" height="89.8" fill="url(#gj)"/><path d="M665.9 917h0.8" stroke="#666" stroke-width="0.3"/><text x="667.3" y="917.8" font-size="2.2" fill="#555">2.00</text><path d="M665.9 927.73h0.8" stroke="#666" stroke-width="0.3"/><text x="667.3" y="928.52" font-size="2.2" fill="#555">1.75</text><path d="M665.9 938.45h0.8" stroke="#666" stroke-width="0.3"/><text x="667.3" y="939.25" font-size="2.2" fill="#555">1.50</text><path d="M665.9 949.17h0.8" stroke="#666" stroke-width="0.3"/><text x="667.3" y="949.97" font-size="2.2" fill="#555">1.25</text><path d="M665.9 959.9h0.8" stroke="#666" stroke-width="0.3"/><text x="667.3" y="960.7" font-size="2.2" fill="#555">1.00</text><path d="M665.9 970.62h0.8" stroke="#666" stroke-width="0.3"/><text x="667.3" y="971.42" font-size="2.2" fill="#555">0.75</text><path d="M665.9 981.35h0.8" stroke="#666" stroke-width="0.3"/><text x="667.3" y="982.15" font-size="2.2" fill="#555">0.50</text><path d="M665.9 992.07h0.8" stroke="#666" stroke-width="0.3"/><text x="667.3" y="992.87" font-size="2.2" fill="#555">0.25</text><path d="M665.9 1002.8h0.8" stroke="#666" stroke-width="0.3"/><text x="667.3" y="1003.6" font-size="2.2" fill="#555">0.00</text></svg></body></html>
